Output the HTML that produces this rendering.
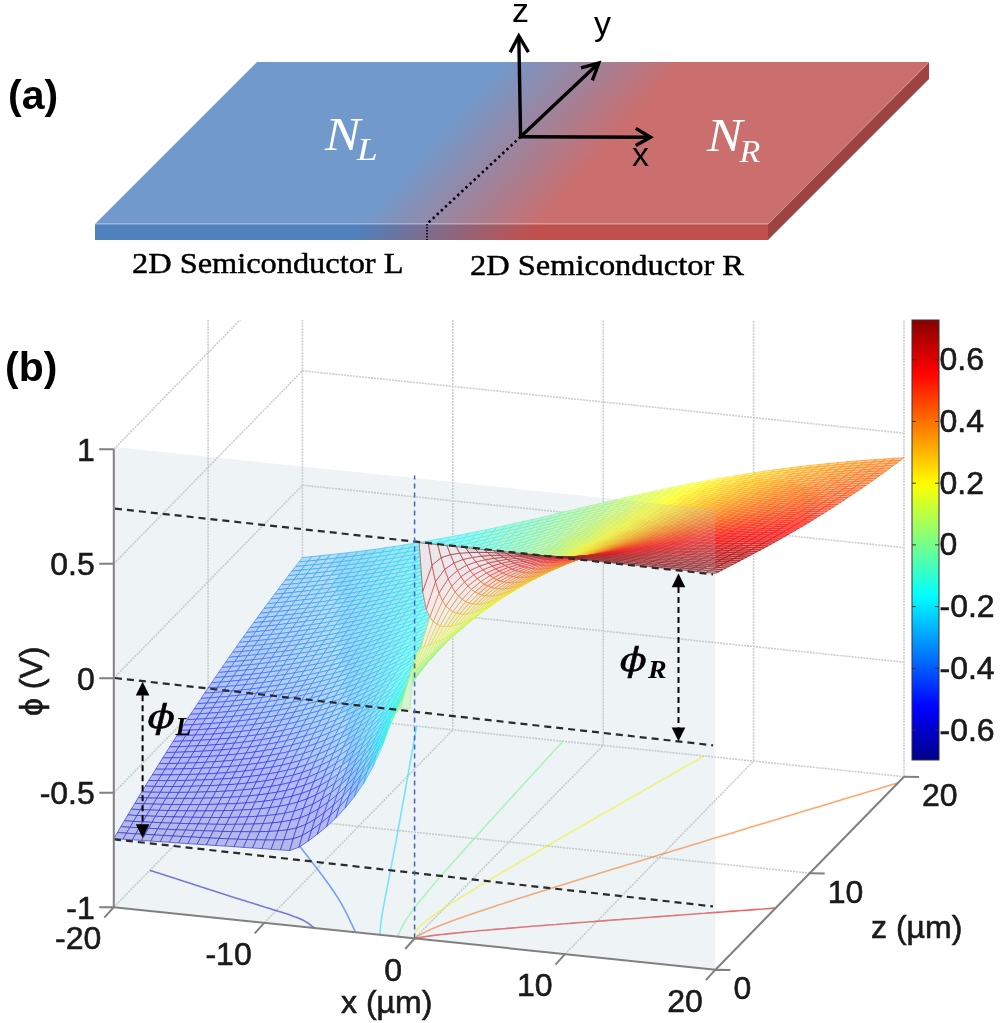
<!DOCTYPE html>
<html><head><meta charset="utf-8"><title>Figure</title>
<style>
html,body{margin:0;padding:0;background:#fff;}
body{width:1000px;height:1023px;overflow:hidden;}
svg{display:block;}
.c0_0{stroke:#0000c1;fill:#f1f1fb}.c0_1{stroke:#0000c1;fill:#d4d4f4}.c0_2{stroke:#0000c1;fill:#b7b7ed}.c0_3{stroke:#0000c1;fill:#9b9be6}.c0_4{stroke:#0000c1;fill:#7e7edf}.c0_5{stroke:#0000c1;fill:#6161d8}.c0_6{stroke:#0000c1;fill:#4545d1}.c0_7{stroke:#0000c1;fill:#2828ca}.c1_0{stroke:#0000c9;fill:#f1f1fc}.c1_1{stroke:#0000c9;fill:#d4d4f6}.c1_2{stroke:#0000c9;fill:#b7b7f0}.c1_3{stroke:#0000c9;fill:#9b9bea}.c1_4{stroke:#0000c9;fill:#7e7ee3}.c1_5{stroke:#0000c9;fill:#6161dd}.c1_6{stroke:#0000c9;fill:#4545d7}.c1_7{stroke:#0000c9;fill:#2828d1}.c2_0{stroke:#0000d1;fill:#f1f1fc}.c2_1{stroke:#0000d1;fill:#d4d4f7}.c2_2{stroke:#0000d1;fill:#b7b7f2}.c2_3{stroke:#0000d1;fill:#9b9bed}.c2_4{stroke:#0000d1;fill:#7e7ee8}.c2_5{stroke:#0000d1;fill:#6161e2}.c2_6{stroke:#0000d1;fill:#4545dd}.c2_7{stroke:#0000d1;fill:#2828d8}.c3_0{stroke:#0000d9;fill:#f1f1fd}.c3_1{stroke:#0000d9;fill:#d4d4f9}.c3_2{stroke:#0000d9;fill:#b7b7f4}.c3_3{stroke:#0000d9;fill:#9b9bf0}.c3_4{stroke:#0000d9;fill:#7e7eec}.c3_5{stroke:#0000d9;fill:#6161e7}.c3_6{stroke:#0000d9;fill:#4545e3}.c3_7{stroke:#0000d9;fill:#2828df}.c4_0{stroke:#0000e1;fill:#f1f1fd}.c4_1{stroke:#0000e1;fill:#d4d4fa}.c4_2{stroke:#0000e1;fill:#b7b7f6}.c4_3{stroke:#0000e1;fill:#9b9bf3}.c4_4{stroke:#0000e1;fill:#7e7ef0}.c4_5{stroke:#0000e1;fill:#6161ec}.c4_6{stroke:#0000e1;fill:#4545e9}.c4_7{stroke:#0000e1;fill:#2828e5}.c5_0{stroke:#0000e9;fill:#f1f1fe}.c5_1{stroke:#0000e9;fill:#d4d4fb}.c5_2{stroke:#0000e9;fill:#b7b7f9}.c5_3{stroke:#0000e9;fill:#9b9bf6}.c5_4{stroke:#0000e9;fill:#7e7ef4}.c5_5{stroke:#0000e9;fill:#6161f1}.c5_6{stroke:#0000e9;fill:#4545ef}.c5_7{stroke:#0000e9;fill:#2828ec}.c6_0{stroke:#0000f0;fill:#f1f1fe}.c6_1{stroke:#0000f0;fill:#d4d4fd}.c6_2{stroke:#0000f0;fill:#b7b7fb}.c6_3{stroke:#0000f0;fill:#9b9bf9}.c6_4{stroke:#0000f0;fill:#7e7ef8}.c6_5{stroke:#0000f0;fill:#6161f6}.c6_6{stroke:#0000f0;fill:#4545f4}.c6_7{stroke:#0000f0;fill:#2828f3}.c7_0{stroke:#0000f8;fill:#f1f1ff}.c7_1{stroke:#0000f8;fill:#d4d4fe}.c7_2{stroke:#0000f8;fill:#b7b7fd}.c7_3{stroke:#0000f8;fill:#9b9bfc}.c7_4{stroke:#0000f8;fill:#7e7efc}.c7_5{stroke:#0000f8;fill:#6161fb}.c7_6{stroke:#0000f8;fill:#4545fa}.c7_7{stroke:#0000f8;fill:#2828f9}.c8_0{stroke:#0008ff;fill:#f1f1ff}.c8_1{stroke:#0008ff;fill:#d4d5ff}.c8_2{stroke:#0008ff;fill:#b7baff}.c8_3{stroke:#0008ff;fill:#9b9eff}.c8_4{stroke:#0008ff;fill:#7e82ff}.c8_5{stroke:#0008ff;fill:#6166ff}.c8_6{stroke:#0008ff;fill:#454aff}.c8_7{stroke:#0008ff;fill:#282fff}.c9_0{stroke:#0018ff;fill:#f1f2ff}.c9_1{stroke:#0018ff;fill:#d4d8ff}.c9_2{stroke:#0018ff;fill:#b7beff}.c9_3{stroke:#0018ff;fill:#9ba4ff}.c9_4{stroke:#0018ff;fill:#7e8aff}.c9_5{stroke:#0018ff;fill:#6170ff}.c9_6{stroke:#0018ff;fill:#4556ff}.c9_7{stroke:#0018ff;fill:#283cff}.c10_0{stroke:#0028ff;fill:#f1f3ff}.c10_1{stroke:#0028ff;fill:#d4dbff}.c10_2{stroke:#0028ff;fill:#b7c2ff}.c10_3{stroke:#0028ff;fill:#9baaff}.c10_4{stroke:#0028ff;fill:#7e92ff}.c10_5{stroke:#0028ff;fill:#617aff}.c10_6{stroke:#0028ff;fill:#4562ff}.c10_7{stroke:#0028ff;fill:#2849ff}.c11_0{stroke:#0038ff;fill:#f1f4ff}.c11_1{stroke:#0038ff;fill:#d4ddff}.c11_2{stroke:#0038ff;fill:#b7c7ff}.c11_3{stroke:#0038ff;fill:#9bb1ff}.c11_4{stroke:#0038ff;fill:#7e9aff}.c11_5{stroke:#0038ff;fill:#6184ff}.c11_6{stroke:#0038ff;fill:#456dff}.c11_7{stroke:#0038ff;fill:#2857ff}.c12_0{stroke:#0048ff;fill:#f1f5ff}.c12_1{stroke:#0048ff;fill:#d4e0ff}.c12_2{stroke:#0048ff;fill:#b7cbff}.c12_3{stroke:#0048ff;fill:#9bb7ff}.c12_4{stroke:#0048ff;fill:#7ea2ff}.c12_5{stroke:#0048ff;fill:#618eff}.c12_6{stroke:#0048ff;fill:#4579ff}.c12_7{stroke:#0048ff;fill:#2864ff}.c13_0{stroke:#0058ff;fill:#f1f6ff}.c13_1{stroke:#0058ff;fill:#d4e3ff}.c13_2{stroke:#0058ff;fill:#b7d0ff}.c13_3{stroke:#0058ff;fill:#9bbdff}.c13_4{stroke:#0058ff;fill:#7eaaff}.c13_5{stroke:#0058ff;fill:#6197ff}.c13_6{stroke:#0058ff;fill:#4585ff}.c13_7{stroke:#0058ff;fill:#2872ff}.c14_0{stroke:#0068ff;fill:#f1f6ff}.c14_1{stroke:#0068ff;fill:#d4e5ff}.c14_2{stroke:#0068ff;fill:#b7d4ff}.c14_3{stroke:#0068ff;fill:#9bc3ff}.c14_4{stroke:#0068ff;fill:#7eb2ff}.c14_5{stroke:#0068ff;fill:#61a1ff}.c14_6{stroke:#0068ff;fill:#4590ff}.c14_7{stroke:#0068ff;fill:#287fff}.c15_0{stroke:#0078ff;fill:#f1f7ff}.c15_1{stroke:#0078ff;fill:#d4e8ff}.c15_2{stroke:#0078ff;fill:#b7d9ff}.c15_3{stroke:#0078ff;fill:#9bcaff}.c15_4{stroke:#0078ff;fill:#7ebaff}.c15_5{stroke:#0078ff;fill:#61abff}.c15_6{stroke:#0078ff;fill:#459cff}.c15_7{stroke:#0078ff;fill:#288dff}.c16_0{stroke:#0087ff;fill:#f1f8ff}.c16_1{stroke:#0087ff;fill:#d4ebff}.c16_2{stroke:#0087ff;fill:#b7ddff}.c16_3{stroke:#0087ff;fill:#9bd0ff}.c16_4{stroke:#0087ff;fill:#7ec2ff}.c16_5{stroke:#0087ff;fill:#61b5ff}.c16_6{stroke:#0087ff;fill:#45a8ff}.c16_7{stroke:#0087ff;fill:#289aff}.c17_0{stroke:#0097ff;fill:#f1f9ff}.c17_1{stroke:#0097ff;fill:#d4eeff}.c17_2{stroke:#0097ff;fill:#b7e2ff}.c17_3{stroke:#0097ff;fill:#9bd6ff}.c17_4{stroke:#0097ff;fill:#7ecbff}.c17_5{stroke:#0097ff;fill:#61bfff}.c17_6{stroke:#0097ff;fill:#45b3ff}.c17_7{stroke:#0097ff;fill:#28a8ff}.c18_0{stroke:#00a7ff;fill:#f1faff}.c18_1{stroke:#00a7ff;fill:#d4f0ff}.c18_2{stroke:#00a7ff;fill:#b7e6ff}.c18_3{stroke:#00a7ff;fill:#9bdcff}.c18_4{stroke:#00a7ff;fill:#7ed3ff}.c18_5{stroke:#00a7ff;fill:#61c9ff}.c18_6{stroke:#00a7ff;fill:#45bfff}.c18_7{stroke:#00a7ff;fill:#28b5ff}.c19_0{stroke:#00b7ff;fill:#f1fbff}.c19_1{stroke:#00b7ff;fill:#d4f3ff}.c19_2{stroke:#00b7ff;fill:#b7ebff}.c19_3{stroke:#00b7ff;fill:#9be3ff}.c19_4{stroke:#00b7ff;fill:#7edbff}.c19_5{stroke:#00b7ff;fill:#61d3ff}.c19_6{stroke:#00b7ff;fill:#45cbff}.c19_7{stroke:#00b7ff;fill:#28c2ff}.c20_0{stroke:#00c7ff;fill:#f1fcff}.c20_1{stroke:#00c7ff;fill:#d4f6ff}.c20_2{stroke:#00c7ff;fill:#b7efff}.c20_3{stroke:#00c7ff;fill:#9be9ff}.c20_4{stroke:#00c7ff;fill:#7ee3ff}.c20_5{stroke:#00c7ff;fill:#61dcff}.c20_6{stroke:#00c7ff;fill:#45d6ff}.c20_7{stroke:#00c7ff;fill:#28d0ff}.c21_0{stroke:#00d7ff;fill:#f1fdff}.c21_1{stroke:#00d7ff;fill:#d4f8ff}.c21_2{stroke:#00d7ff;fill:#b7f4ff}.c21_3{stroke:#00d7ff;fill:#9befff}.c21_4{stroke:#00d7ff;fill:#7eebff}.c21_5{stroke:#00d7ff;fill:#61e6ff}.c21_6{stroke:#00d7ff;fill:#45e2ff}.c21_7{stroke:#00d7ff;fill:#28ddff}.c22_0{stroke:#00e7ff;fill:#f1feff}.c22_1{stroke:#00e7ff;fill:#d4fbff}.c22_2{stroke:#00e7ff;fill:#b7f8ff}.c22_3{stroke:#00e7ff;fill:#9bf6ff}.c22_4{stroke:#00e7ff;fill:#7ef3ff}.c22_5{stroke:#00e7ff;fill:#61f0ff}.c22_6{stroke:#00e7ff;fill:#45eeff}.c22_7{stroke:#00e7ff;fill:#28ebff}.c23_0{stroke:#00f7ff;fill:#f1ffff}.c23_1{stroke:#00f7ff;fill:#d4feff}.c23_2{stroke:#00f7ff;fill:#b7fdff}.c23_3{stroke:#00f7ff;fill:#9bfcff}.c23_4{stroke:#00f7ff;fill:#7efbff}.c23_5{stroke:#00f7ff;fill:#61faff}.c23_6{stroke:#00f7ff;fill:#45f9ff}.c23_7{stroke:#00f7ff;fill:#28f8ff}.c24_0{stroke:#08fff7;fill:#f1ffff}.c24_1{stroke:#08fff7;fill:#d5fffe}.c24_2{stroke:#08fff7;fill:#bafffd}.c24_3{stroke:#08fff7;fill:#9efffc}.c24_4{stroke:#08fff7;fill:#82fffb}.c24_5{stroke:#08fff7;fill:#66fffa}.c24_6{stroke:#08fff7;fill:#4afff9}.c24_7{stroke:#08fff7;fill:#2ffff8}.c25_0{stroke:#18ffe7;fill:#f2fffe}.c25_1{stroke:#18ffe7;fill:#d8fffb}.c25_2{stroke:#18ffe7;fill:#befff8}.c25_3{stroke:#18ffe7;fill:#a4fff6}.c25_4{stroke:#18ffe7;fill:#8afff3}.c25_5{stroke:#18ffe7;fill:#70fff0}.c25_6{stroke:#18ffe7;fill:#56ffee}.c25_7{stroke:#18ffe7;fill:#3cffeb}.c26_0{stroke:#28ffd7;fill:#f3fffd}.c26_1{stroke:#28ffd7;fill:#dbfff8}.c26_2{stroke:#28ffd7;fill:#c2fff4}.c26_3{stroke:#28ffd7;fill:#aaffef}.c26_4{stroke:#28ffd7;fill:#92ffeb}.c26_5{stroke:#28ffd7;fill:#7affe6}.c26_6{stroke:#28ffd7;fill:#62ffe2}.c26_7{stroke:#28ffd7;fill:#49ffdd}.c27_0{stroke:#38ffc7;fill:#f4fffc}.c27_1{stroke:#38ffc7;fill:#ddfff6}.c27_2{stroke:#38ffc7;fill:#c7ffef}.c27_3{stroke:#38ffc7;fill:#b1ffe9}.c27_4{stroke:#38ffc7;fill:#9affe3}.c27_5{stroke:#38ffc7;fill:#84ffdc}.c27_6{stroke:#38ffc7;fill:#6dffd6}.c27_7{stroke:#38ffc7;fill:#57ffd0}.c28_0{stroke:#48ffb7;fill:#f5fffb}.c28_1{stroke:#48ffb7;fill:#e0fff3}.c28_2{stroke:#48ffb7;fill:#cbffeb}.c28_3{stroke:#48ffb7;fill:#b7ffe3}.c28_4{stroke:#48ffb7;fill:#a2ffdb}.c28_5{stroke:#48ffb7;fill:#8effd3}.c28_6{stroke:#48ffb7;fill:#79ffcb}.c28_7{stroke:#48ffb7;fill:#64ffc2}.c29_0{stroke:#58ffa7;fill:#f6fffa}.c29_1{stroke:#58ffa7;fill:#e3fff0}.c29_2{stroke:#58ffa7;fill:#d0ffe6}.c29_3{stroke:#58ffa7;fill:#bdffdc}.c29_4{stroke:#58ffa7;fill:#aaffd3}.c29_5{stroke:#58ffa7;fill:#97ffc9}.c29_6{stroke:#58ffa7;fill:#85ffbf}.c29_7{stroke:#58ffa7;fill:#72ffb5}.c30_0{stroke:#68ff97;fill:#f6fff9}.c30_1{stroke:#68ff97;fill:#e5ffee}.c30_2{stroke:#68ff97;fill:#d4ffe2}.c30_3{stroke:#68ff97;fill:#c3ffd6}.c30_4{stroke:#68ff97;fill:#b2ffcb}.c30_5{stroke:#68ff97;fill:#a1ffbf}.c30_6{stroke:#68ff97;fill:#90ffb3}.c30_7{stroke:#68ff97;fill:#7fffa8}.c31_0{stroke:#78ff87;fill:#f7fff8}.c31_1{stroke:#78ff87;fill:#e8ffeb}.c31_2{stroke:#78ff87;fill:#d9ffdd}.c31_3{stroke:#78ff87;fill:#caffd0}.c31_4{stroke:#78ff87;fill:#baffc2}.c31_5{stroke:#78ff87;fill:#abffb5}.c31_6{stroke:#78ff87;fill:#9cffa8}.c31_7{stroke:#78ff87;fill:#8dff9a}.c32_0{stroke:#87ff78;fill:#f8fff7}.c32_1{stroke:#87ff78;fill:#ebffe8}.c32_2{stroke:#87ff78;fill:#ddffd9}.c32_3{stroke:#87ff78;fill:#d0ffca}.c32_4{stroke:#87ff78;fill:#c2ffba}.c32_5{stroke:#87ff78;fill:#b5ffab}.c32_6{stroke:#87ff78;fill:#a8ff9c}.c32_7{stroke:#87ff78;fill:#9aff8d}.c33_0{stroke:#97ff68;fill:#f9fff6}.c33_1{stroke:#97ff68;fill:#eeffe5}.c33_2{stroke:#97ff68;fill:#e2ffd4}.c33_3{stroke:#97ff68;fill:#d6ffc3}.c33_4{stroke:#97ff68;fill:#cbffb2}.c33_5{stroke:#97ff68;fill:#bfffa1}.c33_6{stroke:#97ff68;fill:#b3ff90}.c33_7{stroke:#97ff68;fill:#a8ff7f}.c34_0{stroke:#a7ff58;fill:#fafff6}.c34_1{stroke:#a7ff58;fill:#f0ffe3}.c34_2{stroke:#a7ff58;fill:#e6ffd0}.c34_3{stroke:#a7ff58;fill:#dcffbd}.c34_4{stroke:#a7ff58;fill:#d3ffaa}.c34_5{stroke:#a7ff58;fill:#c9ff97}.c34_6{stroke:#a7ff58;fill:#bfff85}.c34_7{stroke:#a7ff58;fill:#b5ff72}.c35_0{stroke:#b7ff48;fill:#fbfff5}.c35_1{stroke:#b7ff48;fill:#f3ffe0}.c35_2{stroke:#b7ff48;fill:#ebffcb}.c35_3{stroke:#b7ff48;fill:#e3ffb7}.c35_4{stroke:#b7ff48;fill:#dbffa2}.c35_5{stroke:#b7ff48;fill:#d3ff8e}.c35_6{stroke:#b7ff48;fill:#cbff79}.c35_7{stroke:#b7ff48;fill:#c2ff64}.c36_0{stroke:#c7ff38;fill:#fcfff4}.c36_1{stroke:#c7ff38;fill:#f6ffdd}.c36_2{stroke:#c7ff38;fill:#efffc7}.c36_3{stroke:#c7ff38;fill:#e9ffb1}.c36_4{stroke:#c7ff38;fill:#e3ff9a}.c36_5{stroke:#c7ff38;fill:#dcff84}.c36_6{stroke:#c7ff38;fill:#d6ff6d}.c36_7{stroke:#c7ff38;fill:#d0ff57}.c37_0{stroke:#d7ff28;fill:#fdfff3}.c37_1{stroke:#d7ff28;fill:#f8ffdb}.c37_2{stroke:#d7ff28;fill:#f4ffc2}.c37_3{stroke:#d7ff28;fill:#efffaa}.c37_4{stroke:#d7ff28;fill:#ebff92}.c37_5{stroke:#d7ff28;fill:#e6ff7a}.c37_6{stroke:#d7ff28;fill:#e2ff62}.c37_7{stroke:#d7ff28;fill:#ddff49}.c38_0{stroke:#e7ff18;fill:#fefff2}.c38_1{stroke:#e7ff18;fill:#fbffd8}.c38_2{stroke:#e7ff18;fill:#f8ffbe}.c38_3{stroke:#e7ff18;fill:#f6ffa4}.c38_4{stroke:#e7ff18;fill:#f3ff8a}.c38_5{stroke:#e7ff18;fill:#f0ff70}.c38_6{stroke:#e7ff18;fill:#eeff56}.c38_7{stroke:#e7ff18;fill:#ebff3c}.c39_0{stroke:#f7ff08;fill:#fffff1}.c39_1{stroke:#f7ff08;fill:#feffd5}.c39_2{stroke:#f7ff08;fill:#fdffba}.c39_3{stroke:#f7ff08;fill:#fcff9e}.c39_4{stroke:#f7ff08;fill:#fbff82}.c39_5{stroke:#f7ff08;fill:#faff66}.c39_6{stroke:#f7ff08;fill:#f9ff4a}.c39_7{stroke:#f7ff08;fill:#f8ff2f}.c40_0{stroke:#fff700;fill:#fffff1}.c40_1{stroke:#fff700;fill:#fffed4}.c40_2{stroke:#fff700;fill:#fffdb7}.c40_3{stroke:#fff700;fill:#fffc9b}.c40_4{stroke:#fff700;fill:#fffb7e}.c40_5{stroke:#fff700;fill:#fffa61}.c40_6{stroke:#fff700;fill:#fff945}.c40_7{stroke:#fff700;fill:#fff828}.c41_0{stroke:#ffe700;fill:#fffef1}.c41_1{stroke:#ffe700;fill:#fffbd4}.c41_2{stroke:#ffe700;fill:#fff8b7}.c41_3{stroke:#ffe700;fill:#fff69b}.c41_4{stroke:#ffe700;fill:#fff37e}.c41_5{stroke:#ffe700;fill:#fff061}.c41_6{stroke:#ffe700;fill:#ffee45}.c41_7{stroke:#ffe700;fill:#ffeb28}.c42_0{stroke:#ffd700;fill:#fffdf1}.c42_1{stroke:#ffd700;fill:#fff8d4}.c42_2{stroke:#ffd700;fill:#fff4b7}.c42_3{stroke:#ffd700;fill:#ffef9b}.c42_4{stroke:#ffd700;fill:#ffeb7e}.c42_5{stroke:#ffd700;fill:#ffe661}.c42_6{stroke:#ffd700;fill:#ffe245}.c42_7{stroke:#ffd700;fill:#ffdd28}.c43_0{stroke:#ffc700;fill:#fffcf1}.c43_1{stroke:#ffc700;fill:#fff6d4}.c43_2{stroke:#ffc700;fill:#ffefb7}.c43_3{stroke:#ffc700;fill:#ffe99b}.c43_4{stroke:#ffc700;fill:#ffe37e}.c43_5{stroke:#ffc700;fill:#ffdc61}.c43_6{stroke:#ffc700;fill:#ffd645}.c43_7{stroke:#ffc700;fill:#ffd028}.c44_0{stroke:#ffb700;fill:#fffbf1}.c44_1{stroke:#ffb700;fill:#fff3d4}.c44_2{stroke:#ffb700;fill:#ffebb7}.c44_3{stroke:#ffb700;fill:#ffe39b}.c44_4{stroke:#ffb700;fill:#ffdb7e}.c44_5{stroke:#ffb700;fill:#ffd361}.c44_6{stroke:#ffb700;fill:#ffcb45}.c44_7{stroke:#ffb700;fill:#ffc228}.c45_0{stroke:#ffa700;fill:#fffaf1}.c45_1{stroke:#ffa700;fill:#fff0d4}.c45_2{stroke:#ffa700;fill:#ffe6b7}.c45_3{stroke:#ffa700;fill:#ffdc9b}.c45_4{stroke:#ffa700;fill:#ffd37e}.c45_5{stroke:#ffa700;fill:#ffc961}.c45_6{stroke:#ffa700;fill:#ffbf45}.c45_7{stroke:#ffa700;fill:#ffb528}.c46_0{stroke:#ff9700;fill:#fff9f1}.c46_1{stroke:#ff9700;fill:#ffeed4}.c46_2{stroke:#ff9700;fill:#ffe2b7}.c46_3{stroke:#ff9700;fill:#ffd69b}.c46_4{stroke:#ff9700;fill:#ffcb7e}.c46_5{stroke:#ff9700;fill:#ffbf61}.c46_6{stroke:#ff9700;fill:#ffb345}.c46_7{stroke:#ff9700;fill:#ffa828}.c47_0{stroke:#ff8700;fill:#fff8f1}.c47_1{stroke:#ff8700;fill:#ffebd4}.c47_2{stroke:#ff8700;fill:#ffddb7}.c47_3{stroke:#ff8700;fill:#ffd09b}.c47_4{stroke:#ff8700;fill:#ffc27e}.c47_5{stroke:#ff8700;fill:#ffb561}.c47_6{stroke:#ff8700;fill:#ffa845}.c47_7{stroke:#ff8700;fill:#ff9a28}.c48_0{stroke:#ff7800;fill:#fff7f1}.c48_1{stroke:#ff7800;fill:#ffe8d4}.c48_2{stroke:#ff7800;fill:#ffd9b7}.c48_3{stroke:#ff7800;fill:#ffca9b}.c48_4{stroke:#ff7800;fill:#ffba7e}.c48_5{stroke:#ff7800;fill:#ffab61}.c48_6{stroke:#ff7800;fill:#ff9c45}.c48_7{stroke:#ff7800;fill:#ff8d28}.c49_0{stroke:#ff6800;fill:#fff6f1}.c49_1{stroke:#ff6800;fill:#ffe5d4}.c49_2{stroke:#ff6800;fill:#ffd4b7}.c49_3{stroke:#ff6800;fill:#ffc39b}.c49_4{stroke:#ff6800;fill:#ffb27e}.c49_5{stroke:#ff6800;fill:#ffa161}.c49_6{stroke:#ff6800;fill:#ff9045}.c49_7{stroke:#ff6800;fill:#ff7f28}.c50_0{stroke:#ff5800;fill:#fff6f1}.c50_1{stroke:#ff5800;fill:#ffe3d4}.c50_2{stroke:#ff5800;fill:#ffd0b7}.c50_3{stroke:#ff5800;fill:#ffbd9b}.c50_4{stroke:#ff5800;fill:#ffaa7e}.c50_5{stroke:#ff5800;fill:#ff9761}.c50_6{stroke:#ff5800;fill:#ff8545}.c50_7{stroke:#ff5800;fill:#ff7228}.c51_0{stroke:#ff4800;fill:#fff5f1}.c51_1{stroke:#ff4800;fill:#ffe0d4}.c51_2{stroke:#ff4800;fill:#ffcbb7}.c51_3{stroke:#ff4800;fill:#ffb79b}.c51_4{stroke:#ff4800;fill:#ffa27e}.c51_5{stroke:#ff4800;fill:#ff8e61}.c51_6{stroke:#ff4800;fill:#ff7945}.c51_7{stroke:#ff4800;fill:#ff6428}.c52_0{stroke:#ff3800;fill:#fff4f1}.c52_1{stroke:#ff3800;fill:#ffddd4}.c52_2{stroke:#ff3800;fill:#ffc7b7}.c52_3{stroke:#ff3800;fill:#ffb19b}.c52_4{stroke:#ff3800;fill:#ff9a7e}.c52_5{stroke:#ff3800;fill:#ff8461}.c52_6{stroke:#ff3800;fill:#ff6d45}.c52_7{stroke:#ff3800;fill:#ff5728}.c53_0{stroke:#ff2800;fill:#fff3f1}.c53_1{stroke:#ff2800;fill:#ffdbd4}.c53_2{stroke:#ff2800;fill:#ffc2b7}.c53_3{stroke:#ff2800;fill:#ffaa9b}.c53_4{stroke:#ff2800;fill:#ff927e}.c53_5{stroke:#ff2800;fill:#ff7a61}.c53_6{stroke:#ff2800;fill:#ff6245}.c53_7{stroke:#ff2800;fill:#ff4928}.c54_0{stroke:#ff1800;fill:#fff2f1}.c54_1{stroke:#ff1800;fill:#ffd8d4}.c54_2{stroke:#ff1800;fill:#ffbeb7}.c54_3{stroke:#ff1800;fill:#ffa49b}.c54_4{stroke:#ff1800;fill:#ff8a7e}.c54_5{stroke:#ff1800;fill:#ff7061}.c54_6{stroke:#ff1800;fill:#ff5645}.c54_7{stroke:#ff1800;fill:#ff3c28}.c55_0{stroke:#ff0800;fill:#fff1f1}.c55_1{stroke:#ff0800;fill:#ffd5d4}.c55_2{stroke:#ff0800;fill:#ffbab7}.c55_3{stroke:#ff0800;fill:#ff9e9b}.c55_4{stroke:#ff0800;fill:#ff827e}.c55_5{stroke:#ff0800;fill:#ff6661}.c55_6{stroke:#ff0800;fill:#ff4a45}.c55_7{stroke:#ff0800;fill:#ff2f28}.c56_0{stroke:#f70000;fill:#fff1f1}.c56_1{stroke:#f70000;fill:#fed4d4}.c56_2{stroke:#f70000;fill:#fdb7b7}.c56_3{stroke:#f70000;fill:#fc9b9b}.c56_4{stroke:#f70000;fill:#fb7e7e}.c56_5{stroke:#f70000;fill:#fa6161}.c56_6{stroke:#f70000;fill:#f94545}.c56_7{stroke:#f70000;fill:#f82828}.c57_0{stroke:#e70000;fill:#fef1f1}.c57_1{stroke:#e70000;fill:#fbd4d4}.c57_2{stroke:#e70000;fill:#f8b7b7}.c57_3{stroke:#e70000;fill:#f69b9b}.c57_4{stroke:#e70000;fill:#f37e7e}.c57_5{stroke:#e70000;fill:#f06161}.c57_6{stroke:#e70000;fill:#ee4545}.c57_7{stroke:#e70000;fill:#eb2828}.c58_0{stroke:#d70000;fill:#fdf1f1}.c58_1{stroke:#d70000;fill:#f8d4d4}.c58_2{stroke:#d70000;fill:#f4b7b7}.c58_3{stroke:#d70000;fill:#ef9b9b}.c58_4{stroke:#d70000;fill:#eb7e7e}.c58_5{stroke:#d70000;fill:#e66161}.c58_6{stroke:#d70000;fill:#e24545}.c58_7{stroke:#d70000;fill:#dd2828}.c59_0{stroke:#c70000;fill:#fcf1f1}.c59_1{stroke:#c70000;fill:#f6d4d4}.c59_2{stroke:#c70000;fill:#efb7b7}.c59_3{stroke:#c70000;fill:#e99b9b}.c59_4{stroke:#c70000;fill:#e37e7e}.c59_5{stroke:#c70000;fill:#dc6161}.c59_6{stroke:#c70000;fill:#d64545}.c59_7{stroke:#c70000;fill:#d02828}.c60_0{stroke:#b70000;fill:#fbf1f1}.c60_1{stroke:#b70000;fill:#f3d4d4}.c60_2{stroke:#b70000;fill:#ebb7b7}.c60_3{stroke:#b70000;fill:#e39b9b}.c60_4{stroke:#b70000;fill:#db7e7e}.c60_5{stroke:#b70000;fill:#d36161}.c60_6{stroke:#b70000;fill:#cb4545}.c60_7{stroke:#b70000;fill:#c22828}.c61_0{stroke:#a70000;fill:#faf1f1}.c61_1{stroke:#a70000;fill:#f0d4d4}.c61_2{stroke:#a70000;fill:#e6b7b7}.c61_3{stroke:#a70000;fill:#dc9b9b}.c61_4{stroke:#a70000;fill:#d37e7e}.c61_5{stroke:#a70000;fill:#c96161}.c61_6{stroke:#a70000;fill:#bf4545}.c61_7{stroke:#a70000;fill:#b52828}.c62_0{stroke:#970000;fill:#f9f1f1}.c62_1{stroke:#970000;fill:#eed4d4}.c62_2{stroke:#970000;fill:#e2b7b7}.c62_3{stroke:#970000;fill:#d69b9b}.c62_4{stroke:#970000;fill:#cb7e7e}.c62_5{stroke:#970000;fill:#bf6161}.c62_6{stroke:#970000;fill:#b34545}.c62_7{stroke:#970000;fill:#a82828}.c63_0{stroke:#870000;fill:#f8f1f1}.c63_1{stroke:#870000;fill:#ebd4d4}.c63_2{stroke:#870000;fill:#ddb7b7}.c63_3{stroke:#870000;fill:#d09b9b}.c63_4{stroke:#870000;fill:#c27e7e}.c63_5{stroke:#870000;fill:#b56161}.c63_6{stroke:#870000;fill:#a84545}.c63_7{stroke:#870000;fill:#9a2828}
</style></head><body>
<svg width="1000" height="1023" viewBox="0 0 1000 1023">
<defs>
<linearGradient id="gtop" gradientUnits="userSpaceOnUse" x1="438.7" y1="135.3" x2="541.3" y2="224.7"><stop offset="0" stop-color="#7299cb"/><stop offset="1" stop-color="#cb6e6e"/></linearGradient>
<linearGradient id="gfront" gradientUnits="userSpaceOnUse" x1="438.7" y1="135.3" x2="541.3" y2="224.7"><stop offset="0" stop-color="#4f81bd"/><stop offset="1" stop-color="#c0504d"/></linearGradient>
</defs>
<polygon points="257,62 929,62 768,224 95,224" fill="url(#gtop)"/>
<polygon points="95,224 768,224 768,240 95,240" fill="url(#gfront)"/>
<polygon points="929,62 929,79 768,240 768,224" fill="#9d4341"/>
<line x1="95" y1="223.8" x2="768" y2="223.8" stroke="#fff" stroke-opacity="0.3" stroke-width="1.8"/>
<line x1="768" y1="224.3" x2="929" y2="62.3" stroke="#fff" stroke-opacity="0.25" stroke-width="1"/>
<path d="M520.6 136.8L427 224" stroke="#000" stroke-width="2.6" stroke-dasharray="2.4 3.2" fill="none"/><path d="M427 224V240" stroke="#000" stroke-width="1.6" stroke-dasharray="1.5 1.5" fill="none"/>
<g stroke="#000" stroke-width="3.4" fill="none" stroke-linecap="butt" stroke-linejoin="miter">
<path d="M520.6 136.8L518.8 36"/><path d="M510.2 52.2L518.8 36L528.4 52.2"/>
<path d="M520.6 136.8L598.8 63"/><path d="M581 67.8L598.8 63L592.4 80.4"/>
<path d="M520.6 136.8L650.5 137.2"/><path d="M635.8 128.4L650.5 137.2L635.8 145.4"/>
</g>
<g font-family="Liberation Sans, Arial, sans-serif" font-size="34" fill="#000">
<text x="512" y="22">z</text><text x="594" y="35">y</text><text x="632" y="166">x</text>
</g>
<g font-family="Liberation Serif, Times New Roman, serif" font-style="italic" fill="#fff">
<text transform="translate(325,149.6) scale(1.13,1)" font-size="47">N</text>
<text transform="translate(357,160) scale(1.2,1)" font-size="31">L</text>
<text transform="translate(707,151.3) scale(1.13,1)" font-size="47">N</text>
<text transform="translate(739.5,161.7) scale(1.1,1)" font-size="31">R</text>
</g>
<g font-family="Liberation Serif, Times New Roman, serif" font-size="29.5" fill="#000" stroke="#000" stroke-width="0.45">
<text x="132" y="273" textLength="271.5" lengthAdjust="spacingAndGlyphs">2D Semiconductor L</text><text x="470" y="274.6" textLength="274" lengthAdjust="spacingAndGlyphs">2D Semiconductor R</text>
</g>
<g font-family="Liberation Sans, Arial, sans-serif" font-size="41" font-weight="bold" fill="#000">
<text x="8" y="109">(a)</text><text x="5" y="380.8">(b)</text>
</g>
<defs><filter id="soft" x="-5%" y="-5%" width="110%" height="110%"><feGaussianBlur stdDeviation="0.45"/></filter><filter id="soft2" x="-2%" y="-2%" width="104%" height="104%"><feGaussianBlur stdDeviation="0.5"/></filter><clipPath id="clipb"><rect x="0" y="320" width="1000" height="703"/></clipPath></defs>
<g clip-path="url(#clipb)">
<path d="M302.4 714.2L302.4 118.9M113.8 907.2L302.4 714.2M452.8 729.9L452.8 134.5M264.2 922.9L452.8 729.9M603.2 745.5L603.2 150.1M414.6 938.5L603.2 745.5M753.6 761.1L753.6 165.7M565 954.1L753.6 761.1M904 776.7L904 181.3M302.4 714.2L904 776.7M113.8 907.2L302.4 714.2M302.4 599.8L904 662.2M113.8 792.8L302.4 599.8M302.4 485.2L904 547.7M113.8 678.2L302.4 485.2M302.4 370.8L904 433.2M113.8 563.8L302.4 370.8M302.4 256.2L904 318.7M113.8 449.2L302.4 256.2M208.1 810.8L208.1 215.4M208.1 810.8L809.7 873.2M302.4 714.2L302.4 118.9M302.4 714.2L904 776.7" stroke="#cdcdcd" stroke-width="1.6" stroke-dasharray="2 1" fill="none" filter="url(#soft)"/>
<path d="M149.8 870.4L151.1 870.8L153.6 871.6L155.7 872.3L157.4 872.8L159.9 873.6L161.2 874L163.7 874.8L165.7 875.4L167.5 876L170 876.8L171.3 877.2L173.8 878L175.6 878.6L177.6 879.2L180.1 880L181.4 880.5L183.9 881.3L185.3 881.7L187.7 882.5L190.2 883.3L191.5 883.7L194 884.5L195.2 884.9L197.8 885.7L199.9 886.4L201.5 887L204.1 887.8L205.3 888.2L207.8 889L209.6 889.6L211.6 890.2L214.1 891L215.4 891.4L217.9 892.2L219.3 892.7L221.7 893.5L224.2 894.3L225.5 894.7L228 895.5L229.3 895.9L231.8 896.7L234.2 897.4L235.6 897.9L238.1 898.7L239.4 899.1L241.9 899.9L244.2 900.6L245.7 901.1L248.3 901.9L249.5 902.3L252.1 903L254.4 903.8L255.9 904.2L258.4 905L259.7 905.4L262.2 906.2L264.7 907L266.1 907.4L268.6 908.2L269.9 908.6L272.4 909.4L274.9 910.2L276.2 910.6L278.7 911.4L280 911.8L282.5 912.6L284.8 913.3L286.3 913.8L288.8 914.6L290.1 915.1L292.5 915.9L293.8 916.4L296.2 917.2L297.7 917.8L299.8 918.7L301 919.2L303.2 920.3L304.3 920.9L306 921.9L307.4 922.7L308.4 923.4L309.8 924.4L311.3 925.5L312.2 926.3L313.2 927L314.4 928.1L314.4 928.1" stroke="#0000c5" stroke-opacity="0.6" stroke-width="1.6" fill="none"/>
<path d="M242.5 775.5L243.9 777.3L244.9 778.4L246.3 780.1L247.7 781.9L248.7 783.1L250.1 784.7L251.6 786.6L252.5 787.7L253.9 789.4L255.4 791.2L256.3 792.4L257.6 794L259.1 795.8L260.1 797L261.4 798.6L262.9 800.4L263.9 801.7L265.2 803.2L266.7 805.1L267.7 806.3L268.9 807.8L270.4 809.7L271.5 810.9L272.7 812.5L274.2 814.3L275.2 815.6L276.4 817.1L277.9 819L278.9 820.2L280.2 821.8L281.7 823.6L282.7 824.9L283.9 826.4L285.4 828.3L286.4 829.5L287.6 831.1L289.1 832.9L290.1 834.1L291.4 835.7L292.8 837.6L293.8 838.8L295.1 840.4L296.5 842.2L297.4 843.4L298.8 845.1L300.2 846.9L301.1 848L302.5 849.8L303.8 851.5L304.7 852.7L306.2 854.5L307.4 856.1L308.4 857.3L309.8 859.2L311 860.8L312 862L313.5 863.9L314.6 865.4L315.7 866.8L317.1 868.7L318.1 870L319.3 871.6L320.7 873.5L321.6 874.6L322.9 876.3L324.2 878.1L325 879.2L326.5 881.2L327.5 882.7L328.6 884.1L330 886.1L330.8 887.3L332 889L333.2 890.7L334.1 892L335.4 894L336.2 895.3L337.4 897.1L338.4 898.7L339.3 900.2L340.4 902.1L341.2 903.4L342.4 905.5L343 906.6L344.2 908.8L344.8 910L345.9 912.1L346.5 913.3L347.6 915.5L348.2 916.7L349.2 918.9L349.8 920.1L350.8 922.3L351.4 923.5L352.4 925.6L353 926.9L354 929L354.6 930.3L355.7 932.4L355.7 932.4" stroke="#0055ff" stroke-opacity="0.6" stroke-width="1.6" fill="none"/>
<path d="M416.6 726.1L416.3 728.2L415.9 730.3L415.5 732.4L415.2 734.5L414.8 736.5L414.4 738.6L414.1 740.7L413.7 742.7L413.3 744.8L413 746.9L412.6 749L412.2 751L411.9 753.1L411.5 755.2L411.1 757.2L410.8 759.3L410.4 761.4L410 763.4L409.7 765.5L409.3 767.6L408.9 769.7L408.6 771.7L408.2 773.8L407.8 775.9L407.5 777.9L407.1 780L406.7 782.1L406.4 784.2L406 786.2L405.6 788.3L405.2 790.4L404.9 792.5L404.5 794.5L404.1 796.6L403.7 798.7L403.4 800.8L403 802.9L402.6 804.9L402.2 807L401.9 809.1L401.5 811.2L401.1 813.3L400.7 815.3L400.4 817.4L400 819.5L399.6 821.6L399.2 823.7L398.8 825.8L398.5 827.8L398.1 829.9L397.7 832L397.3 834.1L396.9 836.2L396.5 838.3L396.2 840.4L395.8 842.5L395.4 844.6L395 846.7L394.6 848.8L394.2 850.9L393.8 852.9L393.4 855L393 857.1L392.6 859.2L392.2 861.4L391.8 863.5L391.4 865.6L391 867.7L390.6 869.8L390.2 871.9L389.8 874L389.4 876.1L389 878.2L388.6 880.4L388.2 882.5L387.7 884.6L387.3 886.7L386.9 888.8L386.5 890.9L386.1 893L385.7 895.1L385.3 897.2L384.9 899.2L384.5 901.3L384.1 903.4L383.7 905.5L383.3 907.6L382.9 909.7L382.6 911.8L382.2 913.9L381.9 915.9L381.6 918L381.3 920L381.1 921.9L380.8 923.9L380.6 925.8L380.4 927.7L380.3 929.6L380.1 931.7L380 933.8L379.9 934.9" stroke="#00e4ff" stroke-opacity="0.6" stroke-width="1.6" fill="none"/>
<path d="M562.9 741.3L561.1 743.2L559.3 745.2L557.6 747.1L555.8 749.1L554 751L552.2 752.9L550.5 754.9L548.7 756.8L546.9 758.8L545.1 760.7L543.3 762.6L542.5 763.6L540.7 765.6L538.9 767.5L537.1 769.4L535.3 771.4L533.6 773.3L531.8 775.3L530 777.2L528.2 779.1L526.5 781.1L524.7 783L522.9 785L521.2 786.9L519.4 788.9L518.5 789.8L516.7 791.8L514.9 793.7L513.2 795.6L511.4 797.6L509.6 799.5L507.9 801.5L506.1 803.4L504.3 805.4L502.6 807.3L500.8 809.2L499 811.2L497.3 813.1L496.4 814.1L494.6 816L492.9 818L491.1 819.9L489.3 821.9L487.6 823.8L485.8 825.8L484 827.7L482.3 829.6L480.5 831.6L478.8 833.5L477 835.5L475.5 837.2L474.4 838.4L472.6 840.3L470.9 842.3L469.1 844.2L467.4 846.2L465.7 848.1L463.9 850.1L462.2 852L460.4 853.9L458.7 855.9L457.1 857.7L456.1 858.8L454.4 860.8L452.6 862.7L450.9 864.6L449.2 866.6L447.5 868.5L445.8 870.5L444.1 872.4L442.4 874.4L441.5 875.4L439.8 877.3L438.1 879.3L436.4 881.2L434.8 883.2L433.1 885.1L431.4 887.1L429.8 889L428.9 890L427.3 892L425.7 893.9L424.1 895.9L422.5 897.8L420.9 899.8L420.1 900.8L418.5 902.7L417 904.7L415.4 906.7L414 908.6L413.2 909.6L411.8 911.6L410.3 913.6L409.2 915.1L408.3 916.6L406.9 918.5L405.7 920.4L405 921.5L403.9 923.5L403.2 924.7L402.2 926.6L401.3 928.4L400.7 929.6L399.7 931.6L399.3 932.6L398.3 934.6L397.6 935.6L399.6 936.9L402.6 937.2L405.6 937.5L408.6 937.8L411.6 938.2L413.1 938.3" stroke="#74ff8b" stroke-opacity="0.6" stroke-width="1.6" fill="none"/>
<path d="M704.2 756L701.1 757.8L697.9 759.6L694.7 761.3L691.6 763.1L688.4 764.9L684.9 766.9L681.2 769.1L677.4 771.2L674.2 773L671.1 774.8L667.9 776.6L664.8 778.4L661.6 780.2L658.5 782L655 784L651.2 786.2L647.5 788.3L644.3 790.1L641.1 791.9L638 793.7L634.9 795.5L631.7 797.3L628.6 799.1L625 801.2L621.2 803.3L617.6 805.4L614.4 807.2L611.3 809L608.1 810.8L605 812.6L601.9 814.4L598.6 816.3L594.8 818.5L591 820.6L587.8 822.5L584.6 824.3L581.5 826.1L578.4 827.9L575.3 829.7L572.1 831.6L568.3 833.7L564.5 835.9L561.2 837.8L558.1 839.6L555 841.4L551.9 843.2L548.8 845L545.4 847L541.6 849.2L537.9 851.4L534.8 853.2L531.7 855L528.6 856.8L525.5 858.6L522.3 860.5L518.4 862.8L514.8 864.9L511.7 866.7L508.7 868.5L505.6 870.3L502.5 872.1L498.8 874.4L494.9 876.7L491.9 878.5L488.9 880.3L485.9 882.1L482.8 884L478.7 886.4L475.4 888.4L472.4 890.3L469.5 892.1L466.3 894.1L462.1 896.6L459.2 898.5L456.4 900.3L453.3 902.2L449.3 904.9L446.5 906.7L443.7 908.5L439.6 911.3L436.9 913.2L434 915.2L430.5 917.8L427.9 919.7L424.5 922.5L421.2 925.3L418.3 928.2L416 931.2L414.9 933.2L414.3 935.4L414.2 937.4L413.5 938.4" stroke="#fffb00" stroke-opacity="0.6" stroke-width="1.6" fill="none"/>
<path d="M898 782.9L893.3 784.3L888.5 785.7L883.2 787.3L878 788.9L872.7 790.5L867.5 792L862.8 793.4L858.1 794.9L853.4 796.3L848.7 797.7L843.9 799.1L838.6 800.7L833.4 802.3L828.1 803.9L822.9 805.5L818.2 806.9L813.5 808.3L808.8 809.7L804.1 811.1L799.3 812.6L794 814.2L788.8 815.7L783.5 817.3L778.3 818.9L773.5 820.4L768.8 821.8L764.1 823.2L759.4 824.6L754.7 826L749.5 827.6L744.3 829.2L739 830.8L733.8 832.4L728.9 833.9L724.2 835.3L719.4 836.7L714.7 838.1L710 839.6L705.1 841.1L699.8 842.7L694.6 844.2L689.4 845.8L684.2 847.4L679.4 848.9L674.7 850.3L670 851.7L665.3 853.2L660.5 854.6L655.6 856.1L650.4 857.7L645.2 859.3L640 860.9L634.8 862.5L629.9 864L625.1 865.4L620.4 866.9L615.7 868.3L610.9 869.8L606.2 871.2L601.1 872.8L596 874.4L590.8 876L585.7 877.6L580.5 879.2L575.4 880.8L570.6 882.2L565.8 883.7L561.1 885.2L556.3 886.7L551.5 888.2L546.8 889.7L542 891.2L537.1 892.7L532 894.3L527 895.9L521.9 897.5L516.9 899.1L511.9 900.7L506.9 902.3L501.9 904L497 905.6L492.1 907.2L487.2 908.8L482.3 910.4L477.5 912L472.7 913.7L467.9 915.3L463.2 916.9L458.6 918.6L453.9 920.3L448.7 922.2L443.5 924.2L438.7 926.1L434.5 927.8L429.5 930L425 932.1L420.1 934.8L415.9 937.5L413.9 938.4" stroke="#ff6c00" stroke-opacity="0.6" stroke-width="1.6" fill="none"/>
<path d="M775.6 908L770.3 908.4L766.7 908.7L763.2 909L758.3 909.3L754.2 909.6L750.7 909.9L746.3 910.2L741.7 910.5L738.2 910.8L734.3 911.1L729.3 911.4L725.7 911.7L722.1 912L716.8 912.4L713.2 912.6L709.6 912.9L704.4 913.3L700.7 913.5L697.1 913.8L692.4 914.2L688.2 914.5L684.6 914.7L680.4 915L675.7 915.4L672.1 915.7L668.5 915.9L663.2 916.3L659.6 916.6L656 916.9L650.7 917.3L647.1 917.5L643.5 917.8L638.7 918.2L634.6 918.5L631 918.7L626.8 919L622.1 919.4L618.5 919.7L614.9 919.9L609.6 920.3L606 920.6L602.4 920.9L597.2 921.3L593.5 921.6L589.9 921.8L585.4 922.2L580.9 922.5L577.3 922.8L573.6 923.1L568.4 923.5L564.8 923.8L561.2 924L556 924.5L552.3 924.7L548.7 925L544.4 925.4L539.7 925.7L536.1 926L532.5 926.3L527.1 926.7L523.5 927L519.9 927.3L515.5 927.7L510.9 928.1L507.3 928.4L503.7 928.7L498.4 929.1L494.7 929.4L491.1 929.7L487.2 930.1L482 930.5L478.4 930.8L474.7 931.2L470.7 931.5L465.6 932L462 932.4L458.3 932.7L454.6 933.1L449.7 933.6L445.4 934.1L441.7 934.5L438 934.9L434.2 935.4L430.4 935.9L426.1 936.5L422 937.1L418.2 937.8L414.3 938.4L414.3 938.4" stroke="#dc0000" stroke-opacity="0.6" stroke-width="1.6" fill="none"/>
<g stroke-width="1.0" stroke-opacity="0.6" stroke-linejoin="round" filter="url(#soft2)">
<path class="c17_2" d="M298.9 562l9.3-.9 3.5-4.5 -9.3 .9z"/>
<path class="c17_2" d="M308.2 561.1l9.2-.9 3.5-4.5 -9.2 .9z"/>
<path class="c17_2" d="M317.4 560.2l9.3-1 3.5-4.5 -9.3 1z"/>
<path class="c17_2" d="M295.4 566.5l9.3-.8 3.5-4.6 -9.3 .9z"/>
<path class="c18_2" d="M326.7 559.2l9.2-1 3.5-4.5 -9.2 1z"/>
<path class="c17_2" d="M304.7 565.7l9.2-.9 3.5-4.6 -9.2 .9z"/>
<path class="c18_3" d="M335.9 558.2l9.3-1.1 3.5-4.5 -9.3 1.1z"/>
<path class="c17_2" d="M313.9 564.8l9.3-1 3.5-4.6 -9.3 1z"/>
<path class="c19_3" d="M345.2 557.1l9.2-1.1 3.5-4.5 -9.2 1.1z"/>
<path class="c16_2" d="M291.9 571.1l9.3-.9 3.5-4.5 -9.3 .8z"/>
<path class="c18_2" d="M323.2 563.8l9.2-1.1 3.5-4.5 -9.2 1z"/>
<path class="c19_3" d="M354.4 556l9.3-1.2 3.5-4.5 -9.3 1.2z"/>
<path class="c17_2" d="M301.2 570.2l9.2-.9 3.5-4.5 -9.2 .9z"/>
<path class="c18_3" d="M332.4 562.7l9.3-1.1 3.5-4.5 -9.3 1.1z"/>
<path class="c19_3" d="M363.7 554.8l9.3-1.3 3.4-4.4 -9.2 1.2z"/>
<path class="c17_2" d="M310.4 569.3l9.3-1 3.5-4.5 -9.3 1z"/>
<path class="c18_3" d="M341.7 561.6l9.2-1.1 3.5-4.5 -9.2 1.1z"/>
<path class="c20_3" d="M373 553.5l9.2-1.3 3.5-4.5 -9.3 1.4z"/>
<path class="c16_2" d="M288.4 575.7l9.3-.9 3.5-4.6 -9.3 .9z"/>
<path class="c17_2" d="M319.7 568.3l9.2-1 3.5-4.6 -9.2 1.1z"/>
<path class="c19_3" d="M350.9 560.5l9.3-1.2 3.5-4.5 -9.3 1.2z"/>
<path class="c20_3" d="M382.2 552.2l9.3-1.4 3.5-4.4 -9.3 1.3z"/>
<path class="c17_2" d="M297.7 574.8l9.2-.9 3.5-4.6 -9.2 .9z"/>
<path class="c18_3" d="M328.9 567.3l9.3-1.1 3.5-4.6 -9.3 1.1z"/>
<path class="c19_3" d="M360.2 559.3l9.3-1.3 3.5-4.5 -9.3 1.3z"/>
<path class="c21_3" d="M391.5 550.8l9.2-1.5 3.5-4.4 -9.2 1.5z"/>
<path class="c17_2" d="M306.9 573.9l9.3-1 3.5-4.6 -9.3 1z"/>
<path class="c18_3" d="M338.2 566.2l9.3-1.2 3.4-4.5 -9.2 1.1z"/>
<path class="c20_3" d="M369.5 558l9.2-1.4 3.5-4.4 -9.2 1.3z"/>
<path class="c21_3" d="M400.7 549.3l9.3-1.5 3.5-4.4 -9.3 1.5z"/>
<path class="c16_2" d="M284.9 580.3l9.3-.9 3.5-4.6 -9.3 .9z"/>
<path class="c17_2" d="M316.2 572.9l9.3-1.1 3.4-4.5 -9.2 1z"/>
<path class="c19_3" d="M347.5 565l9.2-1.2 3.5-4.5 -9.3 1.2z"/>
<path class="c20_3" d="M378.7 556.6l9.3-1.4 3.5-4.4 -9.3 1.4z"/>
<path class="c22_3" d="M410 547.8l9.2-1.6 3.5-4.3 -9.2 1.5z"/>
<path class="c16_2" d="M294.2 579.4l9.2-.9 3.5-4.6 -9.2 .9z"/>
<path class="c18_2" d="M325.5 571.8l9.2-1.1 3.5-4.5 -9.3 1.1z"/>
<path class="c19_3" d="M356.7 563.8l9.3-1.3 3.5-4.5 -9.3 1.3z"/>
<path class="c21_3" d="M388 555.2l9.2-1.5 3.5-4.4 -9.2 1.5z"/>
<path class="c22_3" d="M419.2 546.2l9.3-1.6 3.5-4.3 -9.3 1.6z"/>
<path class="c17_2" d="M303.4 578.5l9.3-1 3.5-4.6 -9.3 1z"/>
<path class="c18_3" d="M334.7 570.7l9.3-1.2 3.5-4.5 -9.3 1.2z"/>
<path class="c20_3" d="M366 562.5l9.2-1.4 3.5-4.5 -9.2 1.4z"/>
<path class="c21_3" d="M397.2 553.7l9.3-1.5 3.5-4.4 -9.3 1.5z"/>
<path class="c23_3" d="M428.5 544.6l9.2-1.8 3.5-4.2 -9.2 1.7z"/>
<path class="c16_2" d="M281.4 584.9l9.3-.8 3.5-4.7 -9.3 .9z"/>
<path class="c17_2" d="M312.7 577.5l9.3-1.1 3.5-4.6 -9.3 1.1z"/>
<path class="c19_3" d="M344 569.5l9.2-1.2 3.5-4.5 -9.2 1.2z"/>
<path class="c20_3" d="M375.2 561.1l9.3-1.5 3.5-4.4 -9.3 1.4z"/>
<path class="c22_3" d="M406.5 552.2l9.2-1.6 3.5-4.4 -9.2 1.6z"/>
<path class="c23_3" d="M437.7 542.8l9.3-1.7 3.5-4.3 -9.3 1.8z"/>
<path class="c16_2" d="M290.7 584.1l9.3-1 3.4-4.6 -9.2 .9z"/>
<path class="c17_2" d="M322 576.4l9.2-1.1 3.5-4.6 -9.2 1.1z"/>
<path class="c19_3" d="M353.2 568.3l9.3-1.3 3.5-4.5 -9.3 1.3z"/>
<path class="c21_3" d="M384.5 559.6l9.2-1.5 3.5-4.4 -9.2 1.5z"/>
<path class="c22_3" d="M415.7 550.6l9.3-1.7 3.5-4.3 -9.3 1.6z"/>
<path class="c16_2" d="M300 583.1l9.2-1 3.5-4.6 -9.3 1z"/>
<path class="c24_3" d="M447 541.1l9.2-1.8 3.5-4.2 -9.2 1.7z"/>
<path class="c18_3" d="M331.2 575.3l9.3-1.2 3.5-4.6 -9.3 1.2z"/>
<path class="c19_3" d="M362.5 567l9.2-1.4 3.5-4.5 -9.2 1.4z"/>
<path class="c21_3" d="M393.7 558.1l9.3-1.5 3.5-4.4 -9.3 1.5z"/>
<path class="c23_3" d="M425 548.9l9.2-1.8 3.5-4.3 -9.2 1.8z"/>
<path class="c16_2" d="M278 589.6l9.2-.9 3.5-4.6 -9.3 .8z"/>
<path class="c17_2" d="M309.2 582.1l9.3-1.1 3.5-4.6 -9.3 1.1z"/>
<path class="c24_3" d="M456.2 539.3l9.3-1.9 3.5-4.2 -9.3 1.9z"/>
<path class="c18_3" d="M340.5 574.1l9.2-1.3 3.5-4.5 -9.2 1.2z"/>
<path class="c20_3" d="M371.7 565.6l9.3-1.5 3.5-4.5 -9.3 1.5z"/>
<path class="c21_3" d="M403 556.6l9.2-1.7 3.5-4.3 -9.2 1.6z"/>
<path class="c16_2" d="M287.2 588.7l9.3-.9 3.5-4.7 -9.3 1z"/>
<path class="c23_3" d="M434.2 547.1l9.3-1.8 3.5-4.2 -9.3 1.7z"/>
<path class="c17_2" d="M318.5 581l9.2-1.1 3.5-4.6 -9.2 1.1z"/>
<path class="c19_3" d="M349.7 572.8l9.3-1.3 3.5-4.5 -9.3 1.3z"/>
<path class="c25_3" d="M465.5 537.4l9.3-2 3.5-4.1 -9.3 1.9z"/>
<path class="c20_3" d="M381 564.1l9.2-1.5 3.5-4.5 -9.2 1.5z"/>
<path class="c22_3" d="M412.2 554.9l9.3-1.7 3.5-4.3 -9.3 1.7z"/>
<path class="c16_2" d="M296.5 587.8l9.2-1 3.5-4.7 -9.2 1z"/>
<path class="c24_3" d="M443.5 545.3l9.3-1.8 3.4-4.2 -9.2 1.8z"/>
<path class="c18_2" d="M327.7 579.9l9.3-1.2 3.5-4.6 -9.3 1.2z"/>
<path class="c19_3" d="M359 571.5l9.2-1.4 3.5-4.5 -9.2 1.4z"/>
<path class="c26_3" d="M474.8 535.4l9.2-1.9 3.5-4.1 -9.2 1.9z"/>
<path class="c21_3" d="M390.2 562.6l9.3-1.6 3.5-4.4 -9.3 1.5z"/>
<path class="c23_3" d="M421.5 553.2l9.3-1.8 3.4-4.3 -9.2 1.8z"/>
<path class="c15_2" d="M274.5 594.3l9.2-.9 3.5-4.7 -9.2 .9z"/>
<path class="c17_2" d="M305.7 586.8l9.3-1.1 3.5-4.7 -9.3 1.1z"/>
<path class="c18_3" d="M337 578.7l9.2-1.3 3.5-4.6 -9.2 1.3z"/>
<path class="c24_3" d="M452.8 543.5l9.2-1.9 3.5-4.2 -9.3 1.9z"/>
<path class="c20_3" d="M368.2 570.1l9.3-1.5 3.5-4.5 -9.3 1.5z"/>
<path class="c26_3" d="M484 533.5l9.3-2.1 3.5-4 -9.3 2z"/>
<path class="c21_3" d="M399.5 561l9.2-1.7 3.5-4.4 -9.2 1.7z"/>
<path class="c16_2" d="M283.7 593.4l9.3-1 3.5-4.6 -9.3 .9z"/>
<path class="c23_3" d="M430.8 551.4l9.2-1.8 3.5-4.3 -9.3 1.8z"/>
<path class="c17_2" d="M315 585.7l9.2-1.2 3.5-4.6 -9.2 1.1z"/>
<path class="c19_3" d="M346.2 577.4l9.3-1.3 3.5-4.6 -9.3 1.3z"/>
<path class="c25_3" d="M462 541.6l9.3-2 3.5-4.2 -9.3 2z"/>
<path class="c20_3" d="M377.5 568.6l9.2-1.5 3.5-4.5 -9.2 1.5z"/>
<path class="c27_3" d="M493.3 531.4l9.2-2 3.5-4 -9.2 2z"/>
<path class="c22_3" d="M408.7 559.3l9.3-1.7 3.5-4.4 -9.3 1.7z"/>
<path class="c16_2" d="M293 592.4l9.2-1 3.5-4.6 -9.2 1z"/>
<path class="c17_2" d="M324.2 584.5l9.3-1.2 3.5-4.6 -9.3 1.2z"/>
<path class="c24_3" d="M440 549.6l9.3-1.9 3.5-4.2 -9.3 1.8z"/>
<path class="c19_3" d="M355.5 576.1l9.2-1.4 3.5-4.6 -9.2 1.4z"/>
<path class="c25_3" d="M471.3 539.6l9.2-2.1 3.5-4 -9.2 1.9z"/>
<path class="c21_3" d="M386.7 567.1l9.3-1.6 3.5-4.5 -9.3 1.6z"/>
<path class="c27_3" d="M502.5 529.4l9.3-2.2 3.5-3.9 -9.3 2.1z"/>
<path class="c15_2" d="M271 598.9l9.2-.8 3.5-4.7 -9.2 .9z"/>
<path class="c22_3" d="M418 557.6l9.3-1.8 3.5-4.4 -9.3 1.8z"/>
<path class="c16_2" d="M302.2 591.4l9.3-1.1 3.5-4.6 -9.3 1.1z"/>
<path class="c18_3" d="M333.5 583.3l9.2-1.3 3.5-4.6 -9.2 1.3z"/>
<path class="c24_3" d="M449.3 547.7l9.2-2 3.5-4.1 -9.2 1.9z"/>
<path class="c19_3" d="M364.7 574.7l9.3-1.5 3.5-4.6 -9.3 1.5z"/>
<path class="c26_3" d="M480.5 537.5l9.3-2 3.5-4.1 -9.3 2.1z"/>
<path class="c21_3" d="M396 565.5l9.3-1.7 3.4-4.5 -9.2 1.7z"/>
<path class="c15_2" d="M280.2 598.1l9.3-1 3.5-4.7 -9.3 1z"/>
<path class="c28_3" d="M511.8 527.2l9.2-2.1 3.5-3.9 -9.2 2.1z"/>
<path class="c23_3" d="M427.3 555.8l9.2-1.9 3.5-4.3 -9.2 1.8z"/>
<path class="c17_2" d="M311.5 590.3l9.2-1.1 3.5-4.7 -9.2 1.2z"/>
<path class="c18_3" d="M342.7 582l9.3-1.3 3.5-4.6 -9.3 1.3z"/>
<path class="c25_3" d="M458.5 545.7l9.3-2 3.5-4.1 -9.3 2z"/>
<path class="c20_3" d="M374 573.2l9.3-1.6 3.4-4.5 -9.2 1.5z"/>
<path class="c27_3" d="M489.8 535.5l9.2-2.2 3.5-3.9 -9.2 2z"/>
<path class="c22_3" d="M405.3 563.8l9.2-1.8 3.5-4.4 -9.3 1.7z"/>
<path class="c16_2" d="M289.5 597.1l9.2-1 3.5-4.7 -9.2 1z"/>
<path class="c17_2" d="M320.7 589.2l9.3-1.2 3.5-4.7 -9.3 1.2z"/>
<path class="c23_3" d="M436.5 553.9l9.3-1.9 3.5-4.3 -9.3 1.9z"/>
<path class="c29_3" d="M521 525.1l9.3-2.2 3.5-3.8 -9.3 2.1z"/>
<path class="c19_3" d="M352 580.7l9.3-1.5 3.4-4.5 -9.2 1.4z"/>
<path class="c25_3" d="M467.8 543.7l9.2-2 3.5-4.2 -9.2 2.1z"/>
<path class="c20_3" d="M383.3 571.6l9.2-1.7 3.5-4.4 -9.3 1.6z"/>
<path class="c15_2" d="M267.5 603.7l9.2-.9 3.5-4.7 -9.2 .8z"/>
<path class="c22_3" d="M414.5 562l9.3-1.9 3.5-4.3 -9.3 1.8z"/>
<path class="c27_3" d="M499 533.3l9.3-2.1 3.5-4 -9.3 2.2z"/>
<path class="c16_2" d="M298.7 596.1l9.3-1.1 3.5-4.7 -9.3 1.1z"/>
<path class="c18_3" d="M330 588l9.2-1.3 3.5-4.7 -9.2 1.3z"/>
<path class="c24_3" d="M445.8 552l9.2-2 3.5-4.3 -9.2 2z"/>
<path class="c29_3" d="M530.3 522.9l9.2-2.2 3.5-3.7 -9.2 2.1z"/>
<path class="c19_3" d="M361.3 579.2l9.2-1.5 3.5-4.5 -9.3 1.5z"/>
<path class="c26_3" d="M477 541.7l9.3-2.2 3.5-4 -9.3 2z"/>
<path class="c21_3" d="M392.5 569.9l9.3-1.7 3.5-4.4 -9.3 1.7z"/>
<path class="c15_2" d="M276.7 602.8l9.3-1 3.5-4.7 -9.3 1z"/>
<path class="c17_2" d="M308 595l9.2-1.1 3.5-4.7 -9.2 1.1z"/>
<path class="c23_3" d="M423.8 560.1l9.2-1.9 3.5-4.3 -9.2 1.9z"/>
<path class="c28_3" d="M508.3 531.2l9.2-2.2 3.5-3.9 -9.2 2.1z"/>
<path class="c18_3" d="M339.2 586.7l9.3-1.4 3.5-4.6 -9.3 1.3z"/>
<path class="c25_3" d="M455 550l9.3-2.1 3.5-4.2 -9.3 2z"/>
<path class="c30_3" d="M539.5 520.7l9.3-2.2 3.5-3.7 -9.3 2.2z"/>
<path class="c20_3" d="M370.5 577.7l9.3-1.6 3.5-4.5 -9.3 1.6z"/>
<path class="c22_3" d="M401.8 568.2l9.2-1.8 3.5-4.4 -9.2 1.8z"/>
<path class="c27_3" d="M486.3 539.5l9.2-2.2 3.5-4 -9.2 2.2z"/>
<path class="c16_2" d="M286 601.8l9.2-1 3.5-4.7 -9.2 1z"/>
<path class="c17_2" d="M317.2 593.9l9.3-1.3 3.5-4.6 -9.3 1.2z"/>
<path class="c23_3" d="M433 558.2l9.3-1.9 3.5-4.3 -9.3 1.9z"/>
<path class="c28_3" d="M517.5 529l9.3-2.3 3.5-3.8 -9.3 2.2z"/>
<path class="c19_3" d="M348.5 585.3l9.3-1.5 3.5-4.6 -9.3 1.5z"/>
<path class="c25_3" d="M464.3 547.9l9.2-2.1 3.5-4.1 -9.2 2z"/>
<path class="c20_3" d="M379.8 576.1l9.2-1.7 3.5-4.5 -9.2 1.7z"/>
<path class="c30_3" d="M548.8 518.5l9.3-2.2 3.5-3.7 -9.3 2.2z"/>
<path class="c15_2" d="M264 608.4l9.2-.9 3.5-4.7 -9.2 .9z"/>
<path class="c22_3" d="M411 566.4l9.3-1.9 3.5-4.4 -9.3 1.9z"/>
<path class="c16_2" d="M295.2 600.8l9.3-1.1 3.5-4.7 -9.3 1.1z"/>
<path class="c27_3" d="M495.5 537.3l9.3-2.2 3.5-3.9 -9.3 2.1z"/>
<path class="c17_2" d="M326.5 592.6l9.3-1.3 3.4-4.6 -9.2 1.3z"/>
<path class="c24_3" d="M442.3 556.3l9.2-2.1 3.5-4.2 -9.2 2z"/>
<path class="c29_3" d="M526.8 526.7l9.3-2.2 3.4-3.8 -9.2 2.2z"/>
<path class="c19_3" d="M357.8 583.8l9.2-1.5 3.5-4.6 -9.2 1.5z"/>
<path class="c21_3" d="M389 574.4l9.3-1.7 3.5-4.5 -9.3 1.7z"/>
<path class="c26_3" d="M473.5 545.8l9.3-2.2 3.5-4.1 -9.3 2.2z"/>
<path class="c31_3" d="M558.1 516.3l9.2-2.3 3.5-3.6 -9.2 2.2z"/>
<path class="c15_2" d="M273.2 607.5l9.3-.9 3.5-4.8 -9.3 1z"/>
<path class="c16_2" d="M304.5 599.7l9.3-1.1 3.4-4.7 -9.2 1.1z"/>
<path class="c23_3" d="M420.3 564.5l9.2-1.9 3.5-4.4 -9.2 1.9z"/>
<path class="c28_3" d="M504.8 535.1l9.3-2.2 3.4-3.9 -9.2 2.2z"/>
<path class="c18_3" d="M335.8 591.3l9.2-1.4 3.5-4.6 -9.3 1.4z"/>
<path class="c25_3" d="M451.5 554.2l9.3-2.1 3.5-4.2 -9.3 2.1z"/>
<path class="c20_3" d="M367 582.3l9.3-1.6 3.5-4.6 -9.3 1.6z"/>
<path class="c30_3" d="M536.1 524.5l9.2-2.3 3.5-3.7 -9.3 2.2z"/>
<path class="c21_3" d="M398.3 572.7l9.2-1.8 3.5-4.5 -9.2 1.8z"/>
<path class="c26_3" d="M482.8 543.6l9.2-2.2 3.5-4.1 -9.2 2.2z"/>
<path class="c15_2" d="M282.5 606.6l9.2-1 3.5-4.8 -9.2 1z"/>
<path class="c32_3" d="M567.3 514l9.3-2.2 3.5-3.6 -9.3 2.2z"/>
<path class="c17_2" d="M313.8 598.6l9.2-1.3 3.5-4.7 -9.3 1.3z"/>
<path class="c23_3" d="M429.5 562.6l9.3-2 3.5-4.3 -9.3 1.9z"/>
<path class="c28_3" d="M514.1 532.9l9.2-2.3 3.5-3.9 -9.3 2.3z"/>
<path class="c18_3" d="M345 589.9l9.3-1.4 3.5-4.7 -9.3 1.5z"/>
<path class="c20_3" d="M376.3 580.7l9.2-1.7 3.5-4.6 -9.2 1.7z"/>
<path class="c25_3" d="M460.8 552.1l9.2-2.2 3.5-4.1 -9.2 2.1z"/>
<path class="c30_3" d="M545.3 522.2l9.3-2.3 3.5-3.6 -9.3 2.2z"/>
<path class="c14_2" d="M260.5 613.2l9.2-.9 3.5-4.8 -9.2 .9z"/>
<path class="c22_3" d="M407.5 570.9l9.3-2 3.5-4.4 -9.3 1.9z"/>
<path class="c16_2" d="M291.7 605.6l9.3-1.1 3.5-4.8 -9.3 1.1z"/>
<path class="c27_3" d="M492 541.4l9.3-2.3 3.5-4 -9.3 2.2z"/>
<path class="c32_3" d="M576.6 511.8l9.2-2.3 3.5-3.5 -9.2 2.2z"/>
<path class="c17_2" d="M323 597.3l9.3-1.3 3.5-4.7 -9.3 1.3z"/>
<path class="c24_3" d="M438.8 560.6l9.2-2.1 3.5-4.3 -9.2 2.1z"/>
<path class="c19_3" d="M354.3 588.5l9.2-1.6 3.5-4.6 -9.2 1.5z"/>
<path class="c29_3" d="M523.3 530.6l9.3-2.3 3.5-3.8 -9.3 2.2z"/>
<path class="c21_3" d="M385.5 579l9.3-1.8 3.5-4.5 -9.3 1.7z"/>
<path class="c26_3" d="M470 549.9l9.3-2.2 3.5-4.1 -9.3 2.2z"/>
<path class="c15_2" d="M269.7 612.3l9.3-.9 3.5-4.8 -9.3 .9z"/>
<path class="c31_3" d="M554.6 519.9l9.2-2.3 3.5-3.6 -9.2 2.3z"/>
<path class="c16_2" d="M301 604.5l9.3-1.2 3.5-4.7 -9.3 1.1z"/>
<path class="c22_3" d="M416.8 568.9l9.2-1.9 3.5-4.4 -9.2 1.9z"/>
<path class="c28_3" d="M501.3 539.1l9.3-2.3 3.5-3.9 -9.3 2.2z"/>
<path class="c18_3" d="M332.3 596l9.2-1.4 3.5-4.7 -9.2 1.4z"/>
<path class="c33_3" d="M585.8 509.5l9.3-2.2 3.5-3.4 -9.3 2.1z"/>
<path class="c24_3" d="M448 558.5l9.3-2.2 3.5-4.2 -9.3 2.1z"/>
<path class="c19_3" d="M363.5 586.9l9.3-1.6 3.5-4.6 -9.3 1.6z"/>
<path class="c30_3" d="M532.6 528.3l9.2-2.4 3.5-3.7 -9.2 2.3z"/>
<path class="c21_3" d="M394.8 577.2l9.2-1.9 3.5-4.4 -9.2 1.8z"/>
<path class="c15_2" d="M279 611.4l9.3-1 3.4-4.8 -9.2 1z"/>
<path class="c26_3" d="M479.3 547.7l9.3-2.3 3.4-4 -9.2 2.2z"/>
<path class="c17_2" d="M310.3 603.3l9.2-1.2 3.5-4.8 -9.2 1.3z"/>
<path class="c32_3" d="M563.8 517.6l9.3-2.3 3.5-3.5 -9.3 2.2z"/>
<path class="c23_3" d="M426 567l9.3-2.1 3.5-4.3 -9.3 2z"/>
<path class="c18_3" d="M341.5 594.6l9.3-1.5 3.5-4.6 -9.3 1.4z"/>
<path class="c28_3" d="M510.6 536.8l9.2-2.4 3.5-3.8 -9.2 2.3z"/>
<path class="c33_3" d="M595.1 507.3l9.2-2.2 3.5-3.4 -9.2 2.2z"/>
<path class="c20_3" d="M372.8 585.3l9.2-1.8 3.5-4.5 -9.2 1.7z"/>
<path class="c25_3" d="M457.3 556.3l9.3-2.2 3.4-4.2 -9.2 2.2z"/>
<path class="c14_2" d="M257 618l9.3-.9 3.4-4.8 -9.2 .9z"/>
<path class="c30_3" d="M541.8 525.9l9.3-2.3 3.5-3.7 -9.3 2.3z"/>
<path class="c16_2" d="M288.3 610.4l9.2-1.1 3.5-4.8 -9.3 1.1z"/>
<path class="c22_3" d="M404 575.3l9.3-1.9 3.5-4.5 -9.3 2z"/>
<path class="c27_3" d="M488.6 545.4l9.2-2.3 3.5-4 -9.3 2.3z"/>
<path class="c17_2" d="M319.5 602.1l9.3-1.4 3.5-4.7 -9.3 1.3z"/>
<path class="c32_3" d="M573.1 515.3l9.2-2.3 3.5-3.5 -9.2 2.3z"/>
<path class="c24_3" d="M435.3 564.9l9.2-2.1 3.5-4.3 -9.2 2.1z"/>
<path class="c19_3" d="M350.8 593.1l9.2-1.5 3.5-4.7 -9.2 1.6z"/>
<path class="c29_3" d="M519.8 534.4l9.3-2.3 3.5-3.8 -9.3 2.3z"/>
<path class="c34_3" d="M604.3 505.1l9.3-2.2 3.5-3.3 -9.3 2.1z"/>
<path class="c20_3" d="M382 583.5l9.3-1.8 3.5-4.5 -9.3 1.8z"/>
<path class="c26_3" d="M466.6 554.1l9.2-2.3 3.5-4.1 -9.3 2.2z"/>
<path class="c15_2" d="M266.3 617.1l9.2-.9 3.5-4.8 -9.3 .9z"/>
<path class="c16_2" d="M297.5 609.3l9.3-1.2 3.5-4.8 -9.3 1.2z"/>
<path class="c31_3" d="M551.1 523.6l9.2-2.4 3.5-3.6 -9.2 2.3z"/>
<path class="c22_3" d="M413.3 573.4l9.2-2 3.5-4.4 -9.2 1.9z"/>
<path class="c18_2" d="M328.8 600.7l9.2-1.4 3.5-4.7 -9.2 1.4z"/>
<path class="c28_3" d="M497.8 543.1l9.3-2.4 3.5-3.9 -9.3 2.3z"/>
<path class="c33_3" d="M582.3 513l9.3-2.3 3.5-3.4 -9.3 2.2z"/>
<path class="c19_3" d="M360 591.6l9.3-1.7 3.5-4.6 -9.3 1.6z"/>
<path class="c24_3" d="M444.5 562.8l9.3-2.3 3.5-4.2 -9.3 2.2z"/>
<path class="c30_3" d="M529.1 532.1l9.2-2.5 3.5-3.7 -9.2 2.4z"/>
<path class="c35_3" d="M613.6 502.9l9.2-2.2 3.5-3.3 -9.2 2.2z"/>
<path class="c21_3" d="M391.3 581.7l9.2-1.9 3.5-4.5 -9.2 1.9z"/>
<path class="c15_2" d="M275.5 616.2l9.3-1 3.5-4.8 -9.3 1z"/>
<path class="c26_3" d="M475.8 551.8l9.3-2.3 3.5-4.1 -9.3 2.3z"/>
<path class="c16_2" d="M306.8 608.1l9.2-1.3 3.5-4.7 -9.2 1.2z"/>
<path class="c32_3" d="M560.3 521.2l9.3-2.4 3.5-3.5 -9.3 2.3z"/>
<path class="c23_3" d="M422.5 571.4l9.3-2.2 3.5-4.3 -9.3 2.1z"/>
<path class="c18_3" d="M338 599.3l9.3-1.5 3.5-4.7 -9.3 1.5z"/>
<path class="c28_3" d="M507.1 540.7l9.2-2.4 3.5-3.9 -9.2 2.4z"/>
<path class="c34_3" d="M591.6 510.7l9.2-2.3 3.5-3.3 -9.2 2.2z"/>
<path class="c20_3" d="M369.3 589.9l9.2-1.8 3.5-4.6 -9.2 1.8z"/>
<path class="c25_3" d="M453.8 560.5l9.3-2.2 3.5-4.2 -9.3 2.2z"/>
<path class="c14_2" d="M253.5 622.8l9.3-.9 3.5-4.8 -9.3 .9z"/>
<path class="c30_3" d="M538.3 529.6l9.3-2.4 3.5-3.6 -9.3 2.3z"/>
<path class="c15_2" d="M284.8 615.2l9.2-1.1 3.5-4.8 -9.2 1.1z"/>
<path class="c35_3" d="M622.8 500.7l9.3-2.2 3.5-3.2 -9.3 2.1z"/>
<path class="c22_3" d="M400.5 579.8l9.3-1.9 3.5-4.5 -9.3 1.9z"/>
<path class="c17_2" d="M316 606.8l9.3-1.3 3.5-4.8 -9.3 1.4z"/>
<path class="c27_3" d="M485.1 549.5l9.2-2.4 3.5-4 -9.2 2.3z"/>
<path class="c32_3" d="M569.6 518.8l9.2-2.3 3.5-3.5 -9.2 2.3z"/>
<path class="c18_3" d="M347.3 597.8l9.2-1.6 3.5-4.6 -9.2 1.5z"/>
<path class="c24_3" d="M431.8 569.2l9.3-2.1 3.4-4.3 -9.2 2.1z"/>
<path class="c29_3" d="M516.3 538.3l9.3-2.5 3.5-3.7 -9.3 2.3z"/>
<path class="c20_3" d="M378.5 588.1l9.3-1.8 3.5-4.6 -9.3 1.8z"/>
<path class="c34_3" d="M600.8 508.4l9.3-2.2 3.5-3.3 -9.3 2.2z"/>
<path class="c14_2" d="M262.8 621.9l9.2-.9 3.5-4.8 -9.2 .9z"/>
<path class="c26_3" d="M463.1 558.3l9.2-2.4 3.5-4.1 -9.2 2.3z"/>
<path class="c16_2" d="M294 614.1l9.3-1.2 3.5-4.8 -9.3 1.2z"/>
<path class="c36_3" d="M632.1 498.5l9.3-2.1 3.4-3.1 -9.2 2z"/>
<path class="c31_3" d="M547.6 527.2l9.2-2.4 3.5-3.6 -9.2 2.4z"/>
<path class="c22_3" d="M409.8 577.9l9.3-2.1 3.4-4.4 -9.2 2z"/>
<path class="c17_2" d="M325.3 605.5l9.2-1.4 3.5-4.8 -9.2 1.4z"/>
<path class="c28_3" d="M494.3 547.1l9.3-2.5 3.5-3.9 -9.3 2.4z"/>
<path class="c19_3" d="M356.5 596.2l9.3-1.7 3.5-4.6 -9.3 1.7z"/>
<path class="c33_3" d="M578.8 516.5l9.3-2.4 3.5-3.4 -9.3 2.3z"/>
<path class="c24_3" d="M441.1 567.1l9.2-2.3 3.5-4.3 -9.3 2.3z"/>
<path class="c30_3" d="M525.6 535.8l9.2-2.4 3.5-3.8 -9.2 2.5z"/>
<path class="c21_3" d="M387.8 586.3l9.2-1.9 3.5-4.6 -9.2 1.9z"/>
<path class="c15_2" d="M272 621l9.3-1 3.5-4.8 -9.3 1z"/>
<path class="c35_3" d="M610.1 506.2l9.3-2.3 3.4-3.2 -9.2 2.2z"/>
<path class="c16_2" d="M303.3 612.9l9.2-1.3 3.5-4.8 -9.2 1.3z"/>
<path class="c26_3" d="M472.3 555.9l9.3-2.4 3.5-4 -9.3 2.3z"/>
<path class="c37_3" d="M641.4 496.4l9.2-2 3.5-3.1 -9.3 2z"/>
<path class="c23_3" d="M419.1 575.8l9.2-2.2 3.5-4.4 -9.3 2.2z"/>
<path class="c18_3" d="M334.5 604.1l9.3-1.6 3.5-4.7 -9.3 1.5z"/>
<path class="c32_3" d="M556.8 524.8l9.3-2.4 3.5-3.6 -9.3 2.4z"/>
<path class="c28_3" d="M503.6 544.6l9.2-2.4 3.5-3.9 -9.2 2.4z"/>
<path class="c20_3" d="M365.8 594.5l9.2-1.7 3.5-4.7 -9.2 1.8z"/>
<path class="c34_3" d="M588.1 514.1l9.2-2.3 3.5-3.4 -9.2 2.3z"/>
<path class="c25_3" d="M450.3 564.8l9.3-2.3 3.5-4.2 -9.3 2.2z"/>
<path class="c14_2" d="M250 627.6l9.3-.8 3.5-4.9 -9.3 .9z"/>
<path class="c15_2" d="M281.3 620l9.2-1.1 3.5-4.8 -9.2 1.1z"/>
<path class="c21_3" d="M397 584.4l9.3-2 3.5-4.5 -9.3 1.9z"/>
<path class="c30_3" d="M534.8 533.4l9.3-2.5 3.5-3.7 -9.3 2.4z"/>
<path class="c35_3" d="M619.4 503.9l9.2-2.2 3.5-3.2 -9.3 2.2z"/>
<path class="c17_2" d="M312.5 611.6l9.3-1.3 3.5-4.8 -9.3 1.3z"/>
<path class="c27_3" d="M481.6 553.5l9.2-2.4 3.5-4 -9.2 2.4z"/>
<path class="c37_3" d="M650.6 494.4l9.3-2.1 3.5-3 -9.3 2z"/>
<path class="c18_3" d="M343.8 602.5l9.2-1.6 3.5-4.7 -9.2 1.6z"/>
<path class="c23_3" d="M428.3 573.6l9.3-2.2 3.5-4.3 -9.3 2.1z"/>
<path class="c32_3" d="M566.1 522.4l9.2-2.5 3.5-3.4 -9.2 2.3z"/>
<path class="c29_3" d="M512.8 542.2l9.3-2.5 3.5-3.9 -9.3 2.5z"/>
<path class="c20_3" d="M375 592.8l9.3-1.9 3.5-4.6 -9.3 1.8z"/>
<path class="c14_2" d="M259.3 626.8l9.2-.9 3.5-4.9 -9.2 .9z"/>
<path class="c34_3" d="M597.3 511.8l9.3-2.3 3.5-3.3 -9.3 2.2z"/>
<path class="c25_3" d="M459.6 562.5l9.2-2.4 3.5-4.2 -9.2 2.4z"/>
<path class="c15_2" d="M290.5 618.9l9.3-1.2 3.5-4.8 -9.3 1.2z"/>
<path class="c22_3" d="M406.3 582.4l9.3-2.2 3.5-4.4 -9.3 2.1z"/>
<path class="c17_2" d="M321.8 610.3l9.2-1.5 3.5-4.7 -9.2 1.4z"/>
<path class="c31_3" d="M544.1 530.9l9.2-2.5 3.5-3.6 -9.2 2.4z"/>
<path class="c36_3" d="M628.6 501.7l9.3-2.1 3.5-3.2 -9.3 2.1z"/>
<path class="c27_3" d="M490.8 551.1l9.3-2.5 3.5-4 -9.3 2.5z"/>
<path class="c19_3" d="M353 600.9l9.3-1.7 3.5-4.7 -9.3 1.7z"/>
<path class="c38_3" d="M659.9 492.3l9.2-1.9 3.5-3 -9.2 1.9z"/>
<path class="c24_3" d="M437.6 571.4l9.2-2.3 3.5-4.3 -9.2 2.3z"/>
<path class="c33_3" d="M575.3 519.9l9.3-2.4 3.5-3.4 -9.3 2.4z"/>
<path class="c14_2" d="M268.5 625.9l9.3-1.1 3.5-4.8 -9.3 1z"/>
<path class="c21_3" d="M384.3 590.9l9.3-2 3.4-4.5 -9.2 1.9z"/>
<path class="c30_3" d="M522.1 539.7l9.2-2.6 3.5-3.7 -9.2 2.4z"/>
<path class="c16_2" d="M299.8 617.7l9.2-1.3 3.5-4.8 -9.2 1.3z"/>
<path class="c35_3" d="M606.6 509.5l9.3-2.3 3.5-3.3 -9.3 2.3z"/>
<path class="c26_3" d="M468.8 560.1l9.3-2.5 3.5-4.1 -9.3 2.4z"/>
<path class="c18_2" d="M331 608.8l9.3-1.5 3.5-4.8 -9.3 1.6z"/>
<path class="c23_3" d="M415.6 580.2l9.2-2.1 3.5-4.5 -9.2 2.2z"/>
<path class="c37_3" d="M637.9 499.6l9.2-2.1 3.5-3.1 -9.2 2z"/>
<path class="c32_3" d="M553.3 528.4l9.3-2.5 3.5-3.5 -9.3 2.4z"/>
<path class="c19_3" d="M362.3 599.2l9.3-1.8 3.4-4.6 -9.2 1.7z"/>
<path class="c28_3" d="M500.1 548.6l9.2-2.6 3.5-3.8 -9.2 2.4z"/>
<path class="c38_3" d="M669.1 490.4l9.3-1.9 3.5-3 -9.3 1.9z"/>
<path class="c13_2" d="M246.5 632.5l9.3-.8 3.5-4.9 -9.3 .8z"/>
<path class="c25_3" d="M446.8 569.1l9.3-2.4 3.5-4.2 -9.3 2.3z"/>
<path class="c34_3" d="M584.6 517.5l9.3-2.4 3.4-3.3 -9.2 2.3z"/>
<path class="c15_2" d="M277.8 624.8l9.2-1.1 3.5-4.8 -9.2 1.1z"/>
<path class="c21_3" d="M393.6 588.9l9.2-2 3.5-4.5 -9.3 2z"/>
<path class="c16_2" d="M309 616.4l9.3-1.3 3.5-4.8 -9.3 1.3z"/>
<path class="c30_3" d="M531.3 537.1l9.3-2.5 3.5-3.7 -9.3 2.5z"/>
<path class="c35_3" d="M615.9 507.2l9.2-2.3 3.5-3.2 -9.2 2.2z"/>
<path class="c27_3" d="M478.1 557.6l9.2-2.5 3.5-4 -9.2 2.4z"/>
<path class="c18_3" d="M340.3 607.3l9.3-1.6 3.4-4.8 -9.2 1.6z"/>
<path class="c23_3" d="M424.8 578.1l9.3-2.3 3.5-4.4 -9.3 2.2z"/>
<path class="c37_3" d="M647.1 497.5l9.3-2.1 3.5-3.1 -9.3 2.1z"/>
<path class="c32_3" d="M562.6 525.9l9.3-2.5 3.4-3.5 -9.2 2.5z"/>
<path class="c20_3" d="M371.6 597.4l9.2-1.9 3.5-4.6 -9.3 1.9z"/>
<path class="c39_3" d="M678.4 488.5l9.2-1.9 3.5-3 -9.2 1.9z"/>
<path class="c14_2" d="M255.8 631.7l9.2-1 3.5-4.8 -9.2 .9z"/>
<path class="c29_3" d="M509.3 546l9.3-2.5 3.5-3.8 -9.3 2.5z"/>
<path class="c15_2" d="M287 623.7l9.3-1.1 3.5-4.9 -9.3 1.2z"/>
<path class="c25_3" d="M456.1 566.7l9.2-2.4 3.5-4.2 -9.2 2.4z"/>
<path class="c34_3" d="M593.9 515.1l9.2-2.4 3.5-3.2 -9.3 2.3z"/>
<path class="c22_3" d="M402.8 586.9l9.3-2.2 3.5-4.5 -9.3 2.2z"/>
<path class="c17_2" d="M318.3 615.1l9.2-1.5 3.5-4.8 -9.2 1.5z"/>
<path class="c31_3" d="M540.6 534.6l9.3-2.6 3.4-3.6 -9.2 2.5z"/>
<path class="c36_3" d="M625.1 504.9l9.3-2.2 3.5-3.1 -9.3 2.1z"/>
<path class="c19_3" d="M349.6 605.7l9.2-1.7 3.5-4.8 -9.3 1.7z"/>
<path class="c27_3" d="M487.3 555.1l9.3-2.6 3.5-3.9 -9.3 2.5z"/>
<path class="c24_3" d="M434.1 575.8l9.2-2.4 3.5-4.3 -9.2 2.3z"/>
<path class="c38_3" d="M656.4 495.4l9.2-2 3.5-3 -9.2 1.9z"/>
<path class="c33_3" d="M571.9 523.4l9.2-2.5 3.5-3.4 -9.3 2.4z"/>
<path class="c14_2" d="M265 630.7l9.3-1 3.5-4.9 -9.3 1.1z"/>
<path class="c20_3" d="M380.8 595.5l9.3-2 3.5-4.6 -9.3 2z"/>
<path class="c39_3" d="M687.6 486.6l9.3-1.8 3.5-2.9 -9.3 1.7z"/>
<path class="c16_2" d="M296.3 622.6l9.2-1.3 3.5-4.9 -9.2 1.3z"/>
<path class="c30_3" d="M518.6 543.5l9.2-2.6 3.5-3.8 -9.2 2.6z"/>
<path class="c26_3" d="M465.3 564.3l9.3-2.6 3.5-4.1 -9.3 2.5z"/>
<path class="c35_3" d="M603.1 512.7l9.3-2.3 3.5-3.2 -9.3 2.3z"/>
<path class="c17_2" d="M327.5 613.6l9.3-1.5 3.5-4.8 -9.3 1.5z"/>
<path class="c22_3" d="M412.1 584.7l9.2-2.2 3.5-4.4 -9.2 2.1z"/>
<path class="c32_3" d="M549.9 532l9.2-2.6 3.5-3.5 -9.3 2.5z"/>
<path class="c37_3" d="M634.4 502.7l9.2-2.2 3.5-3 -9.2 2.1z"/>
<path class="c19_3" d="M358.8 604l9.3-1.9 3.5-4.7 -9.3 1.8z"/>
<path class="c28_3" d="M496.6 552.5l9.2-2.6 3.5-3.9 -9.2 2.6z"/>
<path class="c13_2" d="M243 637.4l9.3-.8 3.5-4.9 -9.3 .8z"/>
<path class="c24_3" d="M443.3 573.4l9.3-2.4 3.5-4.3 -9.3 2.4z"/>
<path class="c38_3" d="M665.6 493.4l9.3-2 3.5-2.9 -9.3 1.9z"/>
<path class="c15_2" d="M274.3 629.7l9.2-1.1 3.5-4.9 -9.2 1.1z"/>
<path class="c34_3" d="M581.1 520.9l9.3-2.4 3.5-3.4 -9.3 2.4z"/>
<path class="c21_3" d="M390.1 593.5l9.2-2.1 3.5-4.5 -9.2 2z"/>
<path class="c40_3" d="M696.9 484.8l9.2-1.8 3.5-2.8 -9.2 1.7z"/>
<path class="c16_2" d="M305.5 621.3l9.3-1.4 3.5-4.8 -9.3 1.3z"/>
<path class="c30_3" d="M527.8 540.9l9.3-2.7 3.5-3.6 -9.3 2.5z"/>
<path class="c27_3" d="M474.6 561.7l9.2-2.5 3.5-4.1 -9.2 2.5z"/>
<path class="c18_3" d="M336.8 612.1l9.3-1.6 3.5-4.8 -9.3 1.6z"/>
<path class="c36_3" d="M612.4 510.4l9.2-2.3 3.5-3.2 -9.2 2.3z"/>
<path class="c23_3" d="M421.3 582.5l9.3-2.3 3.5-4.4 -9.3 2.3z"/>
<path class="c37_3" d="M643.6 500.5l9.3-2.1 3.5-3 -9.3 2.1z"/>
<path class="c32_3" d="M559.1 529.4l9.3-2.5 3.5-3.5 -9.3 2.5z"/>
<path class="c20_3" d="M368.1 602.1l9.2-1.9 3.5-4.7 -9.2 1.9z"/>
<path class="c14_2" d="M252.3 636.6l9.2-1 3.5-4.9 -9.2 1z"/>
<path class="c29_3" d="M505.8 549.9l9.3-2.6 3.5-3.8 -9.3 2.5z"/>
<path class="c15_2" d="M283.5 628.6l9.3-1.1 3.5-4.9 -9.3 1.1z"/>
<path class="c39_3" d="M674.9 491.4l9.2-1.9 3.5-2.9 -9.2 1.9z"/>
<path class="c25_3" d="M452.6 571l9.2-2.5 3.5-4.2 -9.2 2.4z"/>
<path class="c40_3" d="M706.1 483l9.3-1.7 3.5-2.8 -9.3 1.7z"/>
<path class="c17_2" d="M314.8 619.9l9.3-1.4 3.4-4.9 -9.2 1.5z"/>
<path class="c34_3" d="M590.4 518.5l9.2-2.5 3.5-3.3 -9.2 2.4z"/>
<path class="c22_3" d="M399.3 591.4l9.3-2.1 3.5-4.6 -9.3 2.2z"/>
<path class="c31_3" d="M537.1 538.2l9.3-2.6 3.5-3.6 -9.3 2.6z"/>
<path class="c18_3" d="M346.1 610.5l9.2-1.8 3.5-4.7 -9.2 1.7z"/>
<path class="c36_3" d="M621.6 508.1l9.3-2.3 3.5-3.1 -9.3 2.2z"/>
<path class="c27_3" d="M483.8 559.2l9.3-2.7 3.5-4 -9.3 2.6z"/>
<path class="c24_3" d="M430.6 580.2l9.2-2.4 3.5-4.4 -9.2 2.4z"/>
<path class="c14_2" d="M261.5 635.6l9.3-1 3.5-4.9 -9.3 1z"/>
<path class="c38_3" d="M652.9 498.4l9.2-2.1 3.5-2.9 -9.2 2z"/>
<path class="c20_3" d="M377.3 600.2l9.3-2 3.5-4.7 -9.3 2z"/>
<path class="c33_3" d="M568.4 526.9l9.2-2.6 3.5-3.4 -9.2 2.5z"/>
<path class="c15_2" d="M292.8 627.5l9.3-1.3 3.4-4.9 -9.2 1.3z"/>
<path class="c39_3" d="M684.1 489.5l9.3-1.9 3.5-2.8 -9.3 1.8z"/>
<path class="c29_3" d="M515.1 547.3l9.3-2.7 3.4-3.7 -9.2 2.6z"/>
<path class="c26_3" d="M461.8 568.5l9.3-2.6 3.5-4.2 -9.3 2.6z"/>
<path class="c41_3" d="M715.4 481.3l9.3-1.6 3.4-2.8 -9.2 1.6z"/>
<path class="c17_2" d="M324.1 618.5l9.2-1.6 3.5-4.8 -9.3 1.5z"/>
<path class="c22_3" d="M408.6 589.3l9.2-2.3 3.5-4.5 -9.2 2.2z"/>
<path class="c35_3" d="M599.6 516l9.3-2.4 3.5-3.2 -9.3 2.3z"/>
<path class="c19_3" d="M355.3 608.7l9.3-1.8 3.5-4.8 -9.3 1.9z"/>
<path class="c32_3" d="M546.4 535.6l9.2-2.6 3.5-3.6 -9.2 2.6z"/>
<path class="c13_2" d="M239.5 642.3l9.3-.8 3.5-4.9 -9.3 .8z"/>
<path class="c37_3" d="M630.9 505.8l9.2-2.2 3.5-3.1 -9.2 2.2z"/>
<path class="c28_3" d="M493.1 556.5l9.3-2.7 3.4-3.9 -9.2 2.6z"/>
<path class="c14_2" d="M270.8 634.6l9.2-1 3.5-5 -9.2 1.1z"/>
<path class="c24_3" d="M439.8 577.8l9.3-2.5 3.5-4.3 -9.3 2.4z"/>
<path class="c38_3" d="M662.1 496.3l9.3-2 3.5-2.9 -9.3 2z"/>
<path class="c21_3" d="M386.6 598.2l9.2-2.1 3.5-4.7 -9.2 2.1z"/>
<path class="c16_2" d="M302.1 626.2l9.2-1.4 3.5-4.9 -9.3 1.4z"/>
<path class="c34_3" d="M577.6 524.3l9.3-2.5 3.5-3.3 -9.3 2.4z"/>
<path class="c40_3" d="M693.4 487.6l9.3-1.7 3.4-2.9 -9.2 1.8z"/>
<path class="c30_3" d="M524.4 544.6l9.2-2.7 3.5-3.7 -9.3 2.7z"/>
<path class="c41_3" d="M724.7 479.7l9.2-1.6 3.5-2.7 -9.3 1.5z"/>
<path class="c18_3" d="M333.3 616.9l9.3-1.6 3.5-4.8 -9.3 1.6z"/>
<path class="c27_3" d="M471.1 565.9l9.2-2.7 3.5-4 -9.2 2.5z"/>
<path class="c23_3" d="M417.8 587l9.3-2.4 3.5-4.4 -9.3 2.3z"/>
<path class="c36_3" d="M608.9 513.6l9.2-2.4 3.5-3.1 -9.2 2.3z"/>
<path class="c13_2" d="M248.8 641.5l9.2-.9 3.5-5 -9.2 1z"/>
<path class="c19_3" d="M364.6 606.9l9.2-2 3.5-4.7 -9.2 1.9z"/>
<path class="c32_3" d="M555.6 533l9.3-2.7 3.5-3.4 -9.3 2.5z"/>
<path class="c37_3" d="M640.1 503.6l9.3-2.2 3.5-3 -9.3 2.1z"/>
<path class="c15_2" d="M280 633.6l9.3-1.2 3.5-4.9 -9.3 1.1z"/>
<path class="c29_3" d="M502.4 553.8l9.2-2.7 3.5-3.8 -9.3 2.6z"/>
<path class="c25_3" d="M449.1 575.3l9.2-2.6 3.5-4.2 -9.2 2.5z"/>
<path class="c16_2" d="M311.3 624.8l9.3-1.4 3.5-4.9 -9.3 1.4z"/>
<path class="c39_3" d="M671.4 494.3l9.2-1.9 3.5-2.9 -9.2 1.9z"/>
<path class="c21_3" d="M395.8 596.1l9.3-2.3 3.5-4.5 -9.3 2.1z"/>
<path class="c34_3" d="M586.9 521.8l9.2-2.5 3.5-3.3 -9.2 2.5z"/>
<path class="c41_3" d="M702.7 485.9l9.2-1.8 3.5-2.8 -9.3 1.7z"/>
<path class="c42_3" d="M733.9 478.1l9.3-1.5 3.5-2.7 -9.3 1.5z"/>
<path class="c18_3" d="M342.6 615.3l9.2-1.8 3.5-4.8 -9.2 1.8z"/>
<path class="c31_3" d="M533.6 541.9l9.3-2.7 3.5-3.6 -9.3 2.6z"/>
<path class="c27_3" d="M480.3 563.2l9.3-2.7 3.5-4 -9.3 2.7z"/>
<path class="c24_3" d="M427.1 584.6l9.2-2.5 3.5-4.3 -9.2 2.4z"/>
<path class="c36_3" d="M618.1 511.2l9.3-2.3 3.5-3.1 -9.3 2.3z"/>
<path class="c14_2" d="M258 640.6l9.3-1 3.5-5 -9.3 1z"/>
<path class="c20_3" d="M373.8 604.9l9.3-2 3.5-4.7 -9.3 2z"/>
<path class="c15_2" d="M289.3 632.4l9.3-1.3 3.5-4.9 -9.3 1.3z"/>
<path class="c38_3" d="M649.4 501.4l9.2-2.1 3.5-3 -9.2 2.1z"/>
<path class="c33_3" d="M564.9 530.3l9.2-2.6 3.5-3.4 -9.2 2.6z"/>
<path class="c29_3" d="M511.6 551.1l9.3-2.7 3.5-3.8 -9.3 2.7z"/>
<path class="c17_2" d="M320.6 623.4l9.2-1.6 3.5-4.9 -9.2 1.6z"/>
<path class="c26_3" d="M458.3 572.7l9.3-2.7 3.5-4.1 -9.3 2.6z"/>
<path class="c40_3" d="M680.6 492.4l9.3-1.9 3.5-2.9 -9.3 1.9z"/>
<path class="c22_3" d="M405.1 593.8l9.2-2.3 3.5-4.5 -9.2 2.3z"/>
<path class="c41_3" d="M711.9 484.1l9.3-1.6 3.5-2.8 -9.3 1.6z"/>
<path class="c35_3" d="M596.1 519.3l9.3-2.5 3.5-3.2 -9.3 2.4z"/>
<path class="c42_3" d="M743.2 476.6l9.2-1.4 3.5-2.7 -9.2 1.4z"/>
<path class="c19_3" d="M351.8 613.5l9.3-1.9 3.5-4.7 -9.3 1.8z"/>
<path class="c13_2" d="M236 647.3l9.3-.8 3.5-5 -9.3 .8z"/>
<path class="c32_3" d="M542.9 539.2l9.2-2.7 3.5-3.5 -9.2 2.6z"/>
<path class="c14_2" d="M267.3 639.6l9.3-1.1 3.4-4.9 -9.2 1z"/>
<path class="c28_3" d="M489.6 560.5l9.3-2.7 3.5-4 -9.3 2.7z"/>
<path class="c37_3" d="M627.4 508.9l9.2-2.3 3.5-3 -9.2 2.2z"/>
<path class="c24_3" d="M436.3 582.1l9.3-2.5 3.5-4.3 -9.3 2.5z"/>
<path class="c21_3" d="M383.1 602.9l9.2-2.2 3.5-4.6 -9.2 2.1z"/>
<path class="c16_2" d="M298.6 631.1l9.2-1.4 3.5-4.9 -9.2 1.4z"/>
<path class="c39_3" d="M658.6 499.3l9.3-2.1 3.5-2.9 -9.3 2z"/>
<path class="c34_3" d="M574.1 527.7l9.3-2.6 3.5-3.3 -9.3 2.5z"/>
<path class="c17_2" d="M329.8 621.8l9.3-1.7 3.5-4.8 -9.3 1.6z"/>
<path class="c40_3" d="M689.9 490.5l9.3-1.8 3.5-2.8 -9.3 1.7z"/>
<path class="c30_3" d="M520.9 548.4l9.2-2.8 3.5-3.7 -9.2 2.7z"/>
<path class="c26_3" d="M467.6 570l9.3-2.7 3.4-4.1 -9.2 2.7z"/>
<path class="c23_3" d="M414.3 591.5l9.3-2.4 3.5-4.5 -9.3 2.4z"/>
<path class="c42_3" d="M721.2 482.5l9.2-1.6 3.5-2.8 -9.2 1.6z"/>
<path class="c43_3" d="M752.4 475.2l9.3-1.4 3.5-2.7 -9.3 1.4z"/>
<path class="c36_3" d="M605.4 516.8l9.2-2.4 3.5-3.2 -9.2 2.4z"/>
<path class="c13_2" d="M245.3 646.5l9.3-.9 3.4-5 -9.2 .9z"/>
<path class="c19_3" d="M361.1 611.6l9.2-1.9 3.5-4.8 -9.2 2z"/>
<path class="c14_2" d="M276.6 638.5l9.2-1.2 3.5-4.9 -9.3 1.2z"/>
<path class="c32_3" d="M552.1 536.5l9.3-2.7 3.5-3.5 -9.3 2.7z"/>
<path class="c38_3" d="M636.6 506.6l9.3-2.2 3.5-3 -9.3 2.2z"/>
<path class="c29_3" d="M498.9 557.8l9.2-2.8 3.5-3.9 -9.2 2.7z"/>
<path class="c25_3" d="M445.6 579.6l9.3-2.7 3.4-4.2 -9.2 2.6z"/>
<path class="c16_2" d="M307.8 629.7l9.3-1.4 3.5-4.9 -9.3 1.4z"/>
<path class="c21_3" d="M392.3 600.7l9.3-2.3 3.5-4.6 -9.3 2.3z"/>
<path class="c39_4" d="M667.9 497.2l9.3-2 3.4-2.8 -9.2 1.9z"/>
<path class="c34_3" d="M583.4 525.1l9.2-2.6 3.5-3.2 -9.2 2.5z"/>
<path class="c18_3" d="M339.1 620.1l9.2-1.8 3.5-4.8 -9.2 1.8z"/>
<path class="c41_3" d="M699.2 488.7l9.2-1.8 3.5-2.8 -9.2 1.8z"/>
<path class="c31_3" d="M530.1 545.6l9.3-2.8 3.5-3.6 -9.3 2.7z"/>
<path class="c42_3" d="M730.4 480.9l9.3-1.5 3.5-2.8 -9.3 1.5z"/>
<path class="c43_3" d="M761.7 473.8l9.2-1.3 3.5-2.7 -9.2 1.3z"/>
<path class="c27_3" d="M476.9 567.3l9.2-2.8 3.5-4 -9.3 2.7z"/>
<path class="c23_3" d="M423.6 589.1l9.2-2.6 3.5-4.4 -9.2 2.5z"/>
<path class="c13_2" d="M254.6 645.6l9.2-1 3.5-5 -9.3 1z"/>
<path class="c36_3" d="M614.6 514.4l9.3-2.4 3.5-3.1 -9.3 2.3z"/>
<path class="c20_3" d="M370.3 609.7l9.3-2.1 3.5-4.7 -9.3 2z"/>
<path class="c15_2" d="M285.8 637.3l9.3-1.2 3.5-5 -9.3 1.3z"/>
<path class="c33_3" d="M561.4 533.8l9.2-2.7 3.5-3.4 -9.2 2.6z"/>
<path class="c38_4" d="M645.9 504.4l9.3-2.2 3.4-2.9 -9.2 2.1z"/>
<path class="c17_2" d="M317.1 628.3l9.2-1.6 3.5-4.9 -9.2 1.6z"/>
<path class="c29_3" d="M508.1 555l9.3-2.9 3.5-3.7 -9.3 2.7z"/>
<path class="c26_3" d="M454.9 576.9l9.2-2.7 3.5-4.2 -9.3 2.7z"/>
<path class="c22_3" d="M401.6 598.4l9.2-2.4 3.5-4.5 -9.2 2.3z"/>
<path class="c40_4" d="M677.2 495.2l9.2-1.9 3.5-2.8 -9.3 1.9z"/>
<path class="c18_3" d="M348.3 618.3l9.3-1.9 3.5-4.8 -9.3 1.9z"/>
<path class="c41_4" d="M708.4 486.9l9.3-1.7 3.5-2.7 -9.3 1.6z"/>
<path class="c12_2" d="M232.5 652.3l9.3-.8 3.5-5 -9.3 .8z"/>
<path class="c35_3" d="M592.6 522.5l9.3-2.5 3.5-3.2 -9.3 2.5z"/>
<path class="c43_3" d="M739.7 479.4l9.2-1.5 3.5-2.7 -9.2 1.4z"/>
<path class="c44_3" d="M770.9 472.5l9.3-1.2 3.5-2.7 -9.3 1.2z"/>
<path class="c14_2" d="M263.8 644.6l9.3-1.1 3.5-5 -9.3 1.1z"/>
<path class="c32_3" d="M539.4 542.8l9.2-2.8 3.5-3.5 -9.2 2.7z"/>
<path class="c28_3" d="M486.1 564.5l9.3-2.8 3.5-3.9 -9.3 2.7z"/>
<path class="c24_3" d="M432.8 586.5l9.3-2.6 3.5-4.3 -9.3 2.5z"/>
<path class="c15_2" d="M295.1 636.1l9.2-1.4 3.5-5 -9.2 1.4z"/>
<path class="c20_3" d="M379.6 607.6l9.2-2.2 3.5-4.7 -9.2 2.2z"/>
<path class="c37_4" d="M623.9 512l9.2-2.4 3.5-3 -9.2 2.3z"/>
<path class="c17_2" d="M326.3 626.7l9.3-1.7 3.5-4.9 -9.3 1.7z"/>
<path class="c39_4" d="M655.2 502.2l9.2-2.1 3.5-2.9 -9.3 2.1z"/>
<path class="c34_3" d="M570.6 531.1l9.3-2.7 3.5-3.3 -9.3 2.6z"/>
<path class="c30_3" d="M517.4 552.1l9.2-2.8 3.5-3.7 -9.2 2.8z"/>
<path class="c26_3" d="M464.1 574.2l9.3-2.8 3.5-4.1 -9.3 2.7z"/>
<path class="c23_3" d="M410.8 596l9.3-2.4 3.5-4.5 -9.3 2.4z"/>
<path class="c40_4" d="M686.4 493.3l9.3-1.8 3.5-2.8 -9.3 1.8z"/>
<path class="c13_2" d="M241.8 651.5l9.3-.9 3.5-5 -9.3 .9z"/>
<path class="c19_3" d="M357.6 616.4l9.2-2 3.5-4.7 -9.2 1.9z"/>
<path class="c42_3" d="M717.7 485.2l9.2-1.6 3.5-2.7 -9.2 1.6z"/>
<path class="c43_3" d="M748.9 477.9l9.3-1.4 3.5-2.7 -9.3 1.4z"/>
<path class="c44_3" d="M780.2 471.3l9.2-1.2 3.5-2.7 -9.2 1.2z"/>
<path class="c14_2" d="M273.1 643.5l9.2-1.2 3.5-5 -9.2 1.2z"/>
<path class="c36_3" d="M601.9 520l9.2-2.5 3.5-3.1 -9.2 2.4z"/>
<path class="c32_3" d="M548.6 540l9.3-2.8 3.5-3.4 -9.3 2.7z"/>
<path class="c16_2" d="M304.3 634.7l9.3-1.5 3.5-4.9 -9.3 1.4z"/>
<path class="c25_3" d="M442.1 583.9l9.3-2.7 3.5-4.3 -9.3 2.7z"/>
<path class="c29_3" d="M495.4 561.7l9.2-2.9 3.5-3.8 -9.2 2.8z"/>
<path class="c21_3" d="M388.8 605.4l9.3-2.3 3.5-4.7 -9.3 2.3z"/>
<path class="c38_4" d="M633.1 509.6l9.3-2.2 3.5-3 -9.3 2.2z"/>
<path class="c18_3" d="M335.6 625l9.2-1.8 3.5-4.9 -9.2 1.8z"/>
<path class="c39_4" d="M664.4 500.1l9.3-2 3.5-2.9 -9.3 2z"/>
<path class="c34_3" d="M579.9 528.4l9.2-2.7 3.5-3.2 -9.2 2.6z"/>
<path class="c13_2" d="M251.1 650.6l9.2-1 3.5-5 -9.2 1z"/>
<path class="c41_4" d="M695.7 491.5l9.2-1.8 3.5-2.8 -9.2 1.8z"/>
<path class="c31_3" d="M526.6 549.3l9.3-2.9 3.5-3.6 -9.3 2.8z"/>
<path class="c23_3" d="M420.1 593.6l9.3-2.6 3.4-4.5 -9.2 2.6z"/>
<path class="c27_3" d="M473.4 571.4l9.2-2.8 3.5-4.1 -9.2 2.8z"/>
<path class="c42_3" d="M726.9 483.6l9.3-1.5 3.5-2.7 -9.3 1.5z"/>
<path class="c20_3" d="M366.8 614.4l9.3-2.1 3.5-4.7 -9.3 2.1z"/>
<path class="c45_3" d="M789.4 470.1l9.3-1.1 3.5-2.7 -9.3 1.1z"/>
<path class="c43_3" d="M758.2 476.5l9.2-1.3 3.5-2.7 -9.2 1.3z"/>
<path class="c15_2" d="M282.3 642.3l9.3-1.2 3.5-5 -9.3 1.2z"/>
<path class="c36_4" d="M611.1 517.5l9.3-2.5 3.5-3 -9.3 2.4z"/>
<path class="c16_2" d="M313.6 633.2l9.2-1.6 3.5-4.9 -9.2 1.6z"/>
<path class="c33_3" d="M557.9 537.2l9.2-2.8 3.5-3.3 -9.2 2.7z"/>
<path class="c25_3" d="M451.4 581.2l9.2-2.8 3.5-4.2 -9.2 2.7z"/>
<path class="c29_3" d="M504.6 558.8l9.3-2.9 3.5-3.8 -9.3 2.9z"/>
<path class="c22_3" d="M398.1 603.1l9.3-2.5 3.4-4.6 -9.2 2.4z"/>
<path class="c38_4" d="M642.4 507.4l9.3-2.3 3.5-2.9 -9.3 2.2z"/>
<path class="c18_3" d="M344.8 623.2l9.3-1.9 3.5-4.9 -9.3 1.9z"/>
<path class="c12_2" d="M229.1 657.3l9.2-.8 3.5-5 -9.3 .8z"/>
<path class="c40_4" d="M673.7 498.1l9.2-2 3.5-2.8 -9.2 1.9z"/>
<path class="c13_2" d="M260.3 649.6l9.3-1.1 3.5-5 -9.3 1.1z"/>
<path class="c35_3" d="M589.1 525.7l9.3-2.6 3.5-3.1 -9.3 2.5z"/>
<path class="c41_4" d="M704.9 489.7l9.3-1.7 3.5-2.8 -9.3 1.7z"/>
<path class="c45_3" d="M798.7 469l9.3-1.1 3.4-2.6 -9.2 1z"/>
<path class="c43_3" d="M736.2 482.1l9.2-1.5 3.5-2.7 -9.2 1.5z"/>
<path class="c24_3" d="M429.4 591l9.2-2.7 3.5-4.4 -9.3 2.6z"/>
<path class="c44_3" d="M767.4 475.2l9.3-1.3 3.5-2.6 -9.3 1.2z"/>
<path class="c15_2" d="M291.6 641.1l9.2-1.4 3.5-5 -9.2 1.4z"/>
<path class="c32_3" d="M535.9 546.4l9.2-2.9 3.5-3.5 -9.2 2.8z"/>
<path class="c28_3" d="M482.6 568.6l9.3-2.9 3.5-4 -9.3 2.8z"/>
<path class="c20_3" d="M376.1 612.3l9.2-2.2 3.5-4.7 -9.2 2.2z"/>
<path class="c37_4" d="M620.4 515l9.3-2.4 3.4-3 -9.2 2.4z"/>
<path class="c17_2" d="M322.8 631.6l9.3-1.7 3.5-4.9 -9.3 1.7z"/>
<path class="c34_3" d="M567.1 534.4l9.3-2.7 3.5-3.3 -9.3 2.7z"/>
<path class="c39_4" d="M651.7 505.1l9.2-2.1 3.5-2.9 -9.2 2.1z"/>
<path class="c22_3" d="M407.4 600.6l9.2-2.5 3.5-4.5 -9.3 2.4z"/>
<path class="c26_3" d="M460.6 578.4l9.3-2.8 3.5-4.2 -9.3 2.8z"/>
<path class="c30_3" d="M513.9 555.9l9.2-2.9 3.5-3.7 -9.2 2.8z"/>
<path class="c12_2" d="M238.3 656.5l9.3-.9 3.5-5 -9.3 .9z"/>
<path class="c19_3" d="M354.1 621.3l9.2-2 3.5-4.9 -9.2 2z"/>
<path class="c40_4" d="M682.9 496.1l9.3-1.9 3.5-2.7 -9.3 1.8z"/>
<path class="c14_2" d="M269.6 648.5l9.2-1.1 3.5-5.1 -9.2 1.2z"/>
<path class="c42_4" d="M714.2 488l9.2-1.7 3.5-2.7 -9.2 1.6z"/>
<path class="c45_3" d="M808 467.9l9.2-1 3.5-2.6 -9.3 1z"/>
<path class="c36_4" d="M598.4 523.1l9.3-2.5 3.4-3.1 -9.2 2.5z"/>
<path class="c43_3" d="M745.4 480.6l9.3-1.4 3.5-2.7 -9.3 1.4z"/>
<path class="c44_3" d="M776.7 473.9l9.3-1.2 3.4-2.6 -9.2 1.2z"/>
<path class="c16_2" d="M300.8 639.7l9.3-1.5 3.5-5 -9.3 1.5z"/>
<path class="c25_3" d="M438.6 588.3l9.3-2.8 3.5-4.3 -9.3 2.7z"/>
<path class="c21_3" d="M385.3 610.1l9.3-2.4 3.5-4.6 -9.3 2.3z"/>
<path class="c32_3" d="M545.1 543.5l9.3-2.8 3.5-3.5 -9.3 2.8z"/>
<path class="c29_3" d="M491.9 565.7l9.2-3 3.5-3.9 -9.2 2.9z"/>
<path class="c38_4" d="M629.7 512.6l9.2-2.3 3.5-2.9 -9.3 2.2z"/>
<path class="c17_2" d="M332.1 629.9l9.2-1.8 3.5-4.9 -9.2 1.8z"/>
<path class="c13_2" d="M247.6 655.6l9.2-1 3.5-5 -9.2 1z"/>
<path class="c39_4" d="M660.9 503l9.3-2.1 3.5-2.8 -9.3 2z"/>
<path class="c35_3" d="M576.4 531.7l9.2-2.7 3.5-3.3 -9.2 2.7z"/>
<path class="c23_3" d="M416.6 598.1l9.3-2.6 3.5-4.5 -9.3 2.6z"/>
<path class="c27_3" d="M469.9 575.6l9.2-3 3.5-4 -9.2 2.8z"/>
<path class="c31_3" d="M523.1 553l9.3-3 3.5-3.6 -9.3 2.9z"/>
<path class="c19_3" d="M363.3 619.3l9.3-2.2 3.5-4.8 -9.3 2.1z"/>
<path class="c14_2" d="M278.8 647.4l9.3-1.3 3.5-5 -9.3 1.2z"/>
<path class="c41_4" d="M692.2 494.2l9.2-1.8 3.5-2.7 -9.2 1.8z"/>
<path class="c46_3" d="M817.2 466.9l9.3-.9 3.5-2.7 -9.3 1z"/>
<path class="c42_4" d="M723.4 486.3l9.3-1.6 3.5-2.6 -9.3 1.5z"/>
<path class="c45_3" d="M786 472.7l9.2-1.1 3.5-2.6 -9.3 1.1z"/>
<path class="c44_3" d="M754.7 479.2l9.2-1.4 3.5-2.6 -9.2 1.3z"/>
<path class="c16_2" d="M310.1 638.2l9.2-1.6 3.5-5 -9.2 1.6z"/>
<path class="c37_4" d="M607.7 520.6l9.2-2.5 3.5-3.1 -9.3 2.5z"/>
<path class="c21_3" d="M394.6 607.7l9.3-2.4 3.5-4.7 -9.3 2.5z"/>
<path class="c25_3" d="M447.9 585.5l9.2-2.8 3.5-4.3 -9.2 2.8z"/>
<path class="c33_3" d="M554.4 540.7l9.2-2.9 3.5-3.4 -9.2 2.8z"/>
<path class="c29_3" d="M501.1 562.7l9.3-3 3.5-3.8 -9.3 2.9z"/>
<path class="c18_3" d="M341.3 628.1l9.3-1.9 3.5-4.9 -9.3 1.9z"/>
<path class="c38_4" d="M638.9 510.3l9.3-2.3 3.5-2.9 -9.3 2.3z"/>
<path class="c12_2" d="M225.6 662.3l9.2-.8 3.5-5 -9.2 .8z"/>
<path class="c13_2" d="M256.8 654.6l9.3-1 3.5-5.1 -9.3 1.1z"/>
<path class="c40_4" d="M670.2 500.9l9.2-2 3.5-2.8 -9.2 2z"/>
<path class="c15_2" d="M288.1 646.1l9.2-1.4 3.5-5 -9.2 1.4z"/>
<path class="c35_4" d="M585.6 529l9.3-2.7 3.5-3.2 -9.3 2.6z"/>
<path class="c24_3" d="M425.9 595.5l9.2-2.8 3.5-4.4 -9.2 2.7z"/>
<path class="c20_3" d="M372.6 617.1l9.3-2.3 3.4-4.7 -9.2 2.2z"/>
<path class="c46_3" d="M826.5 466l9.2-.9 3.5-2.6 -9.2 .8z"/>
<path class="c42_4" d="M701.4 492.4l9.3-1.7 3.5-2.7 -9.3 1.7z"/>
<path class="c28_3" d="M479.1 572.6l9.3-3 3.5-3.9 -9.3 2.9z"/>
<path class="c32_3" d="M532.4 550l9.2-2.9 3.5-3.6 -9.2 2.9z"/>
<path class="c45_3" d="M795.2 471.6l9.3-1.1 3.5-2.6 -9.3 1.1z"/>
<path class="c43_4" d="M732.7 484.7l9.2-1.5 3.5-2.6 -9.2 1.5z"/>
<path class="c44_3" d="M763.9 477.8l9.3-1.3 3.5-2.6 -9.3 1.3z"/>
<path class="c17_2" d="M319.3 636.6l9.3-1.7 3.5-5 -9.3 1.7z"/>
<path class="c37_4" d="M616.9 518.1l9.3-2.5 3.5-3 -9.3 2.4z"/>
<path class="c22_3" d="M403.9 605.3l9.2-2.6 3.5-4.6 -9.2 2.5z"/>
<path class="c12_2" d="M234.8 661.5l9.3-.8 3.5-5.1 -9.3 .9z"/>
<path class="c26_3" d="M457.1 582.7l9.3-3 3.5-4.1 -9.3 2.8z"/>
<path class="c34_3" d="M563.6 537.8l9.3-2.8 3.5-3.3 -9.3 2.7z"/>
<path class="c18_3" d="M350.6 626.2l9.3-2.1 3.4-4.8 -9.2 2z"/>
<path class="c30_3" d="M510.4 559.7l9.2-3 3.5-3.7 -9.2 2.9z"/>
<path class="c39_4" d="M648.2 508l9.2-2.2 3.5-2.8 -9.2 2.1z"/>
<path class="c14_2" d="M266.1 653.6l9.2-1.2 3.5-5 -9.2 1.1z"/>
<path class="c41_4" d="M679.4 498.9l9.3-1.9 3.5-2.8 -9.3 1.9z"/>
<path class="c15_2" d="M297.3 644.7l9.3-1.5 3.5-5 -9.3 1.5z"/>
<path class="c46_3" d="M835.7 465.1l9.3-.9 3.5-2.6 -9.3 .9z"/>
<path class="c42_4" d="M710.7 490.7l9.2-1.7 3.5-2.7 -9.2 1.7z"/>
<path class="c36_4" d="M594.9 526.3l9.3-2.7 3.5-3 -9.3 2.5z"/>
<path class="c46_3" d="M804.5 470.5l9.2-1 3.5-2.6 -9.2 1z"/>
<path class="c21_3" d="M381.9 614.8l9.2-2.4 3.5-4.7 -9.3 2.4z"/>
<path class="c24_3" d="M435.1 592.7l9.3-2.8 3.5-4.4 -9.3 2.8z"/>
<path class="c43_4" d="M741.9 483.2l9.3-1.4 3.5-2.6 -9.3 1.4z"/>
<path class="c44_3" d="M773.2 476.5l9.3-1.2 3.5-2.6 -9.3 1.2z"/>
<path class="c28_3" d="M488.4 569.6l9.2-3 3.5-3.9 -9.2 3z"/>
<path class="c32_3" d="M541.6 547.1l9.3-3 3.5-3.4 -9.3 2.8z"/>
<path class="c17_2" d="M328.6 634.9l9.2-1.8 3.5-5 -9.2 1.8z"/>
<path class="c38_4" d="M626.2 515.6l9.2-2.4 3.5-2.9 -9.2 2.3z"/>
<path class="c13_2" d="M244.1 660.7l9.2-1 3.5-5.1 -9.2 1z"/>
<path class="c23_3" d="M413.1 602.7l9.3-2.7 3.5-4.5 -9.3 2.6z"/>
<path class="c14_2" d="M275.3 652.4l9.3-1.2 3.5-5.1 -9.3 1.3z"/>
<path class="c19_3" d="M359.9 624.1l9.2-2.1 3.5-4.9 -9.3 2.2z"/>
<path class="c27_3" d="M466.4 579.7l9.2-3 3.5-4.1 -9.2 3z"/>
<path class="c35_4" d="M572.9 535l9.3-2.8 3.4-3.2 -9.2 2.7z"/>
<path class="c40_4" d="M657.4 505.8l9.3-2.1 3.5-2.8 -9.3 2.1z"/>
<path class="c31_3" d="M519.6 556.7l9.3-3.1 3.5-3.6 -9.3 3z"/>
<path class="c47_3" d="M845 464.2l9.2-.7 3.5-2.6 -9.2 .7z"/>
<path class="c41_4" d="M688.7 497l9.2-1.9 3.5-2.7 -9.2 1.8z"/>
<path class="c16_2" d="M306.6 643.2l9.2-1.5 3.5-5.1 -9.2 1.6z"/>
<path class="c46_3" d="M813.7 469.5l9.3-.9 3.5-2.6 -9.3 .9z"/>
<path class="c43_4" d="M719.9 489l9.3-1.6 3.5-2.7 -9.3 1.6z"/>
<path class="c45_3" d="M782.5 475.3l9.2-1.1 3.5-2.6 -9.2 1.1z"/>
<path class="c44_4" d="M751.2 481.8l9.3-1.4 3.4-2.6 -9.2 1.4z"/>
<path class="c37_4" d="M604.2 523.6l9.2-2.5 3.5-3 -9.2 2.5z"/>
<path class="c21_3" d="M391.1 612.4l9.3-2.5 3.5-4.6 -9.3 2.4z"/>
<path class="c25_3" d="M444.4 589.9l9.2-3 3.5-4.2 -9.2 2.8z"/>
<path class="c18_3" d="M337.8 633.1l9.3-2 3.5-4.9 -9.3 1.9z"/>
<path class="c12_2" d="M222.1 667.4l9.2-.8 3.5-5.1 -9.2 .8z"/>
<path class="c29_3" d="M497.6 566.6l9.3-3.1 3.5-3.8 -9.3 3z"/>
<path class="c33_3" d="M550.9 544.1l9.3-2.9 3.4-3.4 -9.2 2.9z"/>
<path class="c13_2" d="M253.3 659.7l9.3-1 3.5-5.1 -9.3 1z"/>
<path class="c39_4" d="M635.4 513.2l9.3-2.3 3.5-2.9 -9.3 2.3z"/>
<path class="c14_2" d="M284.6 651.2l9.2-1.4 3.5-5.1 -9.2 1.4z"/>
<path class="c20_3" d="M369.1 622l9.3-2.4 3.5-4.8 -9.3 2.3z"/>
<path class="c24_3" d="M422.4 600l9.2-2.8 3.5-4.5 -9.2 2.8z"/>
<path class="c40_4" d="M666.7 503.7l9.2-2.1 3.5-2.7 -9.2 2z"/>
<path class="c47_3" d="M854.2 463.5l9.3-.7 3.5-2.7 -9.3 .8z"/>
<path class="c35_4" d="M582.2 532.2l9.2-2.8 3.5-3.1 -9.3 2.7z"/>
<path class="c28_3" d="M475.6 576.7l9.3-3.1 3.5-4 -9.3 3z"/>
<path class="c32_3" d="M528.9 553.6l9.3-3 3.4-3.5 -9.2 2.9z"/>
<path class="c16_2" d="M315.8 641.7l9.3-1.8 3.5-5 -9.3 1.7z"/>
<path class="c42_4" d="M697.9 495.1l9.3-1.8 3.5-2.6 -9.3 1.7z"/>
<path class="c46_3" d="M823 468.6l9.2-.9 3.5-2.6 -9.2 .9z"/>
<path class="c45_3" d="M791.7 474.2l9.3-1.1 3.5-2.6 -9.3 1.1z"/>
<path class="c43_4" d="M729.2 487.4l9.3-1.6 3.4-2.6 -9.2 1.5z"/>
<path class="c44_3" d="M760.5 480.4l9.2-1.3 3.5-2.6 -9.3 1.3z"/>
<path class="c12_2" d="M231.3 666.6l9.3-.8 3.5-5.1 -9.3 .8z"/>
<path class="c37_4" d="M613.4 521.1l9.3-2.6 3.5-2.9 -9.3 2.5z"/>
<path class="c22_3" d="M400.4 609.9l9.2-2.6 3.5-4.6 -9.2 2.6z"/>
<path class="c18_3" d="M347.1 631.1l9.3-2 3.5-5 -9.3 2.1z"/>
<path class="c26_3" d="M453.6 586.9l9.3-3 3.5-4.2 -9.3 3z"/>
<path class="c13_2" d="M262.6 658.7l9.2-1.2 3.5-5.1 -9.2 1.2z"/>
<path class="c34_4" d="M560.2 541.2l9.2-3 3.5-3.2 -9.3 2.8z"/>
<path class="c30_3" d="M506.9 563.5l9.2-3.1 3.5-3.7 -9.2 3z"/>
<path class="c39_4" d="M644.7 510.9l9.2-2.3 3.5-2.8 -9.2 2.2z"/>
<path class="c15_2" d="M293.8 649.8l9.3-1.5 3.5-5.1 -9.3 1.5z"/>
<path class="c47_3" d="M863.5 462.8l9.2-.7 3.5-2.6 -9.2 .6z"/>
<path class="c20_3" d="M378.4 619.6l9.2-2.4 3.5-4.8 -9.2 2.4z"/>
<path class="c41_4" d="M675.9 501.6l9.3-1.9 3.5-2.7 -9.3 1.9z"/>
<path class="c24_3" d="M431.6 597.2l9.3-3 3.5-4.3 -9.3 2.8z"/>
<path class="c47_3" d="M832.2 467.7l9.3-.9 3.5-2.6 -9.3 .9z"/>
<path class="c36_4" d="M591.4 529.4l9.3-2.7 3.5-3.1 -9.3 2.7z"/>
<path class="c17_2" d="M325.1 639.9l9.3-1.8 3.4-5 -9.2 1.8z"/>
<path class="c42_4" d="M707.2 493.3l9.2-1.7 3.5-2.6 -9.2 1.7z"/>
<path class="c28_3" d="M484.9 573.6l9.2-3.1 3.5-3.9 -9.2 3z"/>
<path class="c46_3" d="M801 473.1l9.2-1 3.5-2.6 -9.2 1z"/>
<path class="c44_4" d="M738.5 485.8l9.2-1.4 3.5-2.6 -9.3 1.4z"/>
<path class="c32_3" d="M538.2 550.6l9.2-3.1 3.5-3.4 -9.3 3z"/>
<path class="c45_3" d="M769.7 479.1l9.3-1.2 3.5-2.6 -9.3 1.2z"/>
<path class="c12_2" d="M240.6 665.8l9.2-1 3.5-5.1 -9.2 1z"/>
<path class="c38_4" d="M622.7 518.5l9.2-2.4 3.5-2.9 -9.2 2.4z"/>
<path class="c14_2" d="M271.8 657.5l9.3-1.2 3.5-5.1 -9.3 1.2z"/>
<path class="c23_3" d="M409.6 607.3l9.3-2.8 3.5-4.5 -9.3 2.7z"/>
<path class="c19_3" d="M356.4 629.1l9.2-2.3 3.5-4.8 -9.2 2.1z"/>
<path class="c27_3" d="M462.9 583.9l9.2-3.1 3.5-4.1 -9.2 3z"/>
<path class="c35_4" d="M569.4 538.2l9.3-2.8 3.5-3.2 -9.3 2.8z"/>
<path class="c31_3" d="M516.1 560.4l9.3-3.2 3.5-3.6 -9.3 3.1z"/>
<path class="c15_2" d="M303.1 648.3l9.3-1.6 3.4-5 -9.2 1.5z"/>
<path class="c40_4" d="M653.9 508.6l9.3-2.1 3.5-2.8 -9.3 2.1z"/>
<path class="c48_3" d="M872.7 462.1l9.3-.6 3.5-2.6 -9.3 .6z"/>
<path class="c47_3" d="M841.5 466.8l9.2-.7 3.5-2.6 -9.2 .7z"/>
<path class="c41_4" d="M685.2 499.7l9.2-1.9 3.5-2.7 -9.2 1.9z"/>
<path class="c21_3" d="M387.6 617.2l9.3-2.6 3.5-4.7 -9.3 2.5z"/>
<path class="c46_3" d="M810.2 472.1l9.3-1 3.5-2.5 -9.3 .9z"/>
<path class="c43_4" d="M716.4 491.6l9.3-1.6 3.5-2.6 -9.3 1.6z"/>
<path class="c25_3" d="M440.9 594.2l9.2-3 3.5-4.3 -9.2 3z"/>
<path class="c17_3" d="M334.4 638.1l9.2-2 3.5-5 -9.3 2z"/>
<path class="c11_2" d="M218.6 672.5l9.2-.8 3.5-5.1 -9.2 .8z"/>
<path class="c45_3" d="M779 477.9l9.2-1.1 3.5-2.6 -9.2 1.1z"/>
<path class="c44_4" d="M747.7 484.4l9.3-1.4 3.5-2.6 -9.3 1.4z"/>
<path class="c37_4" d="M600.7 526.7l9.2-2.6 3.5-3 -9.2 2.5z"/>
<path class="c13_2" d="M249.8 664.8l9.3-1 3.5-5.1 -9.3 1z"/>
<path class="c29_3" d="M494.1 570.5l9.3-3.2 3.5-3.8 -9.3 3.1z"/>
<path class="c33_3" d="M547.4 547.5l9.3-3 3.5-3.3 -9.3 2.9z"/>
<path class="c14_2" d="M281.1 656.3l9.3-1.4 3.4-5.1 -9.2 1.4z"/>
<path class="c39_4" d="M631.9 516.1l9.3-2.4 3.5-2.8 -9.3 2.3z"/>
<path class="c19_3" d="M365.6 626.8l9.3-2.3 3.5-4.9 -9.3 2.4z"/>
<path class="c23_3" d="M418.9 604.5l9.2-2.9 3.5-4.4 -9.2 2.8z"/>
<path class="c48_3" d="M882 461.5l9.3-.6 3.4-2.6 -9.2 .6z"/>
<path class="c16_2" d="M312.4 646.7l9.2-1.7 3.5-5.1 -9.3 1.8z"/>
<path class="c28_3" d="M472.1 580.8l9.3-3.2 3.5-4 -9.3 3.1z"/>
<path class="c40_4" d="M663.2 506.5l9.2-2.1 3.5-2.8 -9.2 2.1z"/>
<path class="c35_4" d="M578.7 535.4l9.2-2.9 3.5-3.1 -9.2 2.8z"/>
<path class="c47_3" d="M850.7 466.1l9.3-.8 3.5-2.5 -9.3 .7z"/>
<path class="c32_3" d="M525.4 557.2l9.3-3.1 3.5-3.5 -9.3 3z"/>
<path class="c42_4" d="M694.4 497.8l9.3-1.8 3.5-2.7 -9.3 1.8z"/>
<path class="c46_3" d="M819.5 471.1l9.2-.9 3.5-2.5 -9.2 .9z"/>
<path class="c12_2" d="M227.8 671.7l9.3-.8 3.5-5.1 -9.3 .8z"/>
<path class="c46_3" d="M788.2 476.8l9.3-1.1 3.5-2.6 -9.3 1.1z"/>
<path class="c43_4" d="M725.7 490l9.3-1.6 3.5-2.6 -9.3 1.6z"/>
<path class="c22_3" d="M396.9 614.6l9.2-2.7 3.5-4.6 -9.2 2.6z"/>
<path class="c44_4" d="M757 483l9.2-1.3 3.5-2.6 -9.2 1.3z"/>
<path class="c18_3" d="M343.6 636.1l9.3-2.1 3.5-4.9 -9.3 2z"/>
<path class="c13_2" d="M259.1 663.8l9.2-1.1 3.5-5.2 -9.2 1.2z"/>
<path class="c26_3" d="M450.1 591.2l9.3-3.1 3.5-4.2 -9.3 3z"/>
<path class="c37_4" d="M609.9 524.1l9.3-2.6 3.5-3 -9.3 2.6z"/>
<path class="c30_3" d="M503.4 567.3l9.3-3.2 3.4-3.7 -9.2 3.1z"/>
<path class="c15_2" d="M290.4 654.9l9.2-1.5 3.5-5.1 -9.3 1.5z"/>
<path class="c34_4" d="M556.7 544.5l9.2-3 3.5-3.3 -9.2 3z"/>
<path class="c48_3" d="M891.3 460.9l9.2-.5 3.5-2.6 -9.3 .5z"/>
<path class="c39_4" d="M641.2 513.7l9.2-2.3 3.5-2.8 -9.2 2.3z"/>
<path class="c20_3" d="M374.9 624.5l9.2-2.5 3.5-4.8 -9.2 2.4z"/>
<path class="c24_3" d="M428.1 601.6l9.3-3 3.5-4.4 -9.3 3z"/>
<path class="c16_2" d="M321.6 645l9.3-1.9 3.5-5 -9.3 1.8z"/>
<path class="c48_3" d="M860 465.3l9.2-.6 3.5-2.6 -9.2 .7z"/>
<path class="c41_4" d="M672.4 504.4l9.3-2 3.5-2.7 -9.3 1.9z"/>
<path class="c28_3" d="M481.4 577.6l9.3-3.2 3.4-3.9 -9.2 3.1z"/>
<path class="c36_4" d="M587.9 532.5l9.3-2.8 3.5-3 -9.3 2.7z"/>
<path class="c47_3" d="M828.7 470.2l9.3-.8 3.5-2.6 -9.3 .9z"/>
<path class="c12_2" d="M237.1 670.9l9.2-.9 3.5-5.2 -9.2 1z"/>
<path class="c42_4" d="M703.7 496l9.3-1.8 3.4-2.6 -9.2 1.7z"/>
<path class="c32_3" d="M534.7 554.1l9.2-3.1 3.5-3.5 -9.2 3.1z"/>
<path class="c46_3" d="M797.5 475.7l9.2-1 3.5-2.6 -9.2 1z"/>
<path class="c44_4" d="M735 488.4l9.2-1.4 3.5-2.6 -9.2 1.4z"/>
<path class="c45_3" d="M766.2 481.7l9.3-1.2 3.5-2.6 -9.3 1.2z"/>
<path class="c13_2" d="M268.3 662.7l9.3-1.3 3.5-5.1 -9.3 1.2z"/>
<path class="c19_3" d="M352.9 634l9.2-2.2 3.5-5 -9.2 2.3z"/>
<path class="c22_3" d="M406.1 611.9l9.3-2.8 3.5-4.6 -9.3 2.8z"/>
<path class="c38_4" d="M619.2 521.5l9.2-2.5 3.5-2.9 -9.2 2.4z"/>
<path class="c27_3" d="M459.4 588.1l9.2-3.2 3.5-4.1 -9.2 3.1z"/>
<path class="c15_2" d="M299.6 653.4l9.3-1.6 3.5-5.1 -9.3 1.6z"/>
<path class="c31_3" d="M512.7 564.1l9.2-3.2 3.5-3.7 -9.3 3.2z"/>
<path class="c35_4" d="M565.9 541.5l9.3-3 3.5-3.1 -9.3 2.8z"/>
<path class="c40_4" d="M650.4 511.4l9.3-2.2 3.5-2.7 -9.3 2.1z"/>
<path class="c48_3" d="M869.2 464.7l9.3-.6 3.5-2.6 -9.3 .6z"/>
<path class="c21_3" d="M384.1 622l9.3-2.6 3.5-4.8 -9.3 2.6z"/>
<path class="c17_2" d="M330.9 643.1l9.2-1.9 3.5-5.1 -9.2 2z"/>
<path class="c11_2" d="M215.1 677.6l9.2-.7 3.5-5.2 -9.2 .8z"/>
<path class="c25_3" d="M437.4 598.6l9.2-3.1 3.5-4.3 -9.2 3z"/>
<path class="c47_3" d="M838 469.4l9.2-.8 3.5-2.5 -9.2 .7z"/>
<path class="c42_4" d="M681.7 502.4l9.3-2 3.4-2.6 -9.2 1.9z"/>
<path class="c12_2" d="M246.3 670l9.3-1 3.5-5.2 -9.3 1z"/>
<path class="c46_3" d="M806.7 474.7l9.3-1 3.5-2.6 -9.3 1z"/>
<path class="c43_4" d="M713 494.2l9.2-1.6 3.5-2.6 -9.3 1.6z"/>
<path class="c37_4" d="M597.2 529.7l9.2-2.7 3.5-2.9 -9.2 2.6z"/>
<path class="c29_3" d="M490.7 574.4l9.2-3.3 3.5-3.8 -9.3 3.2z"/>
<path class="c45_3" d="M775.5 480.5l9.2-1.2 3.5-2.5 -9.2 1.1z"/>
<path class="c44_4" d="M744.2 487l9.3-1.4 3.5-2.6 -9.3 1.4z"/>
<path class="c14_2" d="M277.6 661.4l9.3-1.3 3.5-5.2 -9.3 1.4z"/>
<path class="c33_4" d="M543.9 551l9.3-3.2 3.5-3.3 -9.3 3z"/>
<path class="c19_3" d="M362.1 631.8l9.3-2.4 3.5-4.9 -9.3 2.3z"/>
<path class="c23_3" d="M415.4 609.1l9.2-2.9 3.5-4.6 -9.2 2.9z"/>
<path class="c39_4" d="M628.4 519l9.3-2.5 3.5-2.8 -9.3 2.4z"/>
<path class="c16_2" d="M308.9 651.8l9.2-1.7 3.5-5.1 -9.2 1.7z"/>
<path class="c27_3" d="M468.6 584.9l9.3-3.2 3.5-4.1 -9.3 3.2z"/>
<path class="c48_3" d="M878.5 464.1l9.3-.6 3.5-2.6 -9.3 .6z"/>
<path class="c35_4" d="M575.2 538.5l9.2-2.9 3.5-3.1 -9.2 2.9z"/>
<path class="c32_3" d="M521.9 560.9l9.3-3.3 3.5-3.5 -9.3 3.1z"/>
<path class="c41_4" d="M659.7 509.2l9.2-2.1 3.5-2.7 -9.2 2.1z"/>
<path class="c11_2" d="M224.3 676.9l9.3-.8 3.5-5.2 -9.3 .8z"/>
<path class="c48_3" d="M847.2 468.6l9.3-.7 3.5-2.6 -9.3 .8z"/>
<path class="c21_3" d="M393.4 619.4l9.2-2.8 3.5-4.7 -9.2 2.7z"/>
<path class="c18_3" d="M340.1 641.2l9.3-2.2 3.5-5 -9.3 2.1z"/>
<path class="c13_2" d="M255.6 669l9.3-1.2 3.4-5.1 -9.2 1.1z"/>
<path class="c42_4" d="M691 500.4l9.2-1.8 3.5-2.6 -9.3 1.8z"/>
<path class="c47_3" d="M816 473.7l9.2-.9 3.5-2.6 -9.2 .9z"/>
<path class="c26_3" d="M446.6 595.5l9.3-3.1 3.5-4.3 -9.3 3.1z"/>
<path class="c43_4" d="M722.2 492.6l9.3-1.6 3.5-2.6 -9.3 1.6z"/>
<path class="c46_3" d="M784.7 479.3l9.3-1.1 3.5-2.5 -9.3 1.1z"/>
<path class="c45_4" d="M753.5 485.6l9.2-1.3 3.5-2.6 -9.2 1.3z"/>
<path class="c14_2" d="M286.9 660.1l9.2-1.5 3.5-5.2 -9.2 1.5z"/>
<path class="c38_4" d="M606.4 527l9.3-2.6 3.5-2.9 -9.3 2.6z"/>
<path class="c30_3" d="M499.9 571.1l9.3-3.3 3.5-3.7 -9.3 3.2z"/>
<path class="c34_4" d="M553.2 547.8l9.2-3.1 3.5-3.2 -9.2 3z"/>
<path class="c20_3" d="M371.4 629.4l9.2-2.5 3.5-4.9 -9.2 2.5z"/>
<path class="c16_2" d="M318.1 650.1l9.3-1.9 3.5-5.1 -9.3 1.9z"/>
<path class="c24_3" d="M424.6 606.2l9.3-3.1 3.5-4.5 -9.3 3z"/>
<path class="c39_4" d="M637.7 516.5l9.2-2.3 3.5-2.8 -9.2 2.3z"/>
<path class="c49_3" d="M887.8 463.5l9.2-.5 3.5-2.6 -9.2 .5z"/>
<path class="c12_2" d="M233.6 676.1l9.3-.9 3.4-5.2 -9.2 .9z"/>
<path class="c28_3" d="M477.9 581.7l9.3-3.4 3.5-3.9 -9.3 3.2z"/>
<path class="c48_3" d="M856.5 467.9l9.3-.7 3.4-2.5 -9.2 .6z"/>
<path class="c41_4" d="M668.9 507.1l9.3-2.1 3.5-2.6 -9.3 2z"/>
<path class="c36_4" d="M584.4 535.6l9.3-2.8 3.5-3.1 -9.3 2.8z"/>
<path class="c13_2" d="M264.9 667.8l9.2-1.2 3.5-5.2 -9.3 1.3z"/>
<path class="c32_4" d="M531.2 557.6l9.2-3.2 3.5-3.4 -9.2 3.1z"/>
<path class="c47_3" d="M825.2 472.8l9.3-.8 3.5-2.6 -9.3 .8z"/>
<path class="c18_3" d="M349.4 639l9.2-2.2 3.5-5 -9.2 2.2z"/>
<path class="c43_4" d="M700.2 498.6l9.3-1.8 3.5-2.6 -9.3 1.8z"/>
<path class="c22_3" d="M402.6 616.6l9.3-2.8 3.5-4.7 -9.3 2.8z"/>
<path class="c46_3" d="M794 478.2l9.2-1 3.5-2.5 -9.2 1z"/>
<path class="c44_4" d="M731.5 491l9.2-1.5 3.5-2.5 -9.2 1.4z"/>
<path class="c45_4" d="M762.7 484.3l9.3-1.3 3.5-2.5 -9.3 1.2z"/>
<path class="c15_2" d="M296.1 658.6l9.3-1.6 3.5-5.2 -9.3 1.6z"/>
<path class="c27_3" d="M455.9 592.4l9.3-3.3 3.4-4.2 -9.2 3.2z"/>
<path class="c38_4" d="M615.7 524.4l9.2-2.6 3.5-2.8 -9.2 2.5z"/>
<path class="c31_3" d="M509.2 567.8l9.2-3.3 3.5-3.6 -9.2 3.2z"/>
<path class="c35_4" d="M562.4 544.7l9.3-3 3.5-3.2 -9.3 3z"/>
<path class="c21_3" d="M380.6 626.9l9.3-2.7 3.5-4.8 -9.3 2.6z"/>
<path class="c11_2" d="M211.6 682.8l9.2-.7 3.5-5.2 -9.2 .7z"/>
<path class="c17_2" d="M327.4 648.2l9.2-2 3.5-5 -9.2 1.9z"/>
<path class="c40_4" d="M646.9 514.2l9.3-2.3 3.5-2.7 -9.3 2.2z"/>
<path class="c12_2" d="M242.9 675.2l9.2-1 3.5-5.2 -9.3 1z"/>
<path class="c48_3" d="M865.8 467.2l9.2-.6 3.5-2.5 -9.3 .6z"/>
<path class="c25_3" d="M433.9 603.1l9.3-3.2 3.4-4.4 -9.2 3.1z"/>
<path class="c47_3" d="M834.5 472l9.3-.8 3.4-2.6 -9.2 .8z"/>
<path class="c42_4" d="M678.2 505l9.3-2 3.5-2.6 -9.3 2z"/>
<path class="c14_2" d="M274.1 666.6l9.3-1.3 3.5-5.2 -9.3 1.3z"/>
<path class="c29_3" d="M487.2 578.3l9.2-3.4 3.5-3.8 -9.2 3.3z"/>
<path class="c46_3" d="M803.2 477.2l9.3-1 3.5-2.5 -9.3 1z"/>
<path class="c37_4" d="M593.7 532.8l9.2-2.8 3.5-3 -9.2 2.7z"/>
<path class="c43_4" d="M709.5 496.8l9.2-1.6 3.5-2.6 -9.2 1.6z"/>
<path class="c19_3" d="M358.6 636.8l9.3-2.5 3.5-4.9 -9.3 2.4z"/>
<path class="c46_4" d="M772 483l9.2-1.2 3.5-2.5 -9.2 1.2z"/>
<path class="c44_4" d="M740.7 489.5l9.3-1.4 3.5-2.5 -9.3 1.4z"/>
<path class="c33_4" d="M540.4 554.4l9.3-3.2 3.5-3.4 -9.3 3.2z"/>
<path class="c23_3" d="M411.9 613.8l9.2-3.1 3.5-4.5 -9.2 2.9z"/>
<path class="c15_2" d="M305.4 657l9.2-1.7 3.5-5.2 -9.2 1.7z"/>
<path class="c27_3" d="M465.2 589.1l9.2-3.4 3.5-4 -9.3 3.2z"/>
<path class="c39_4" d="M624.9 521.8l9.3-2.5 3.5-2.8 -9.3 2.5z"/>
<path class="c11_2" d="M220.8 682.1l9.3-.8 3.5-5.2 -9.3 .8z"/>
<path class="c48_3" d="M875 466.6l9.3-.5 3.5-2.6 -9.3 .6z"/>
<path class="c32_3" d="M518.4 564.5l9.3-3.4 3.5-3.5 -9.3 3.3z"/>
<path class="c17_3" d="M336.6 646.2l9.3-2.1 3.5-5.1 -9.3 2.2z"/>
<path class="c12_2" d="M252.1 674.2l9.3-1.1 3.5-5.3 -9.3 1.2z"/>
<path class="c21_3" d="M389.9 624.2l9.2-2.8 3.5-4.8 -9.2 2.8z"/>
<path class="c36_4" d="M571.7 541.7l9.2-3 3.5-3.1 -9.2 2.9z"/>
<path class="c41_4" d="M656.2 511.9l9.3-2.2 3.4-2.6 -9.2 2.1z"/>
<path class="c48_3" d="M843.8 471.2l9.2-.7 3.5-2.6 -9.3 .7z"/>
<path class="c26_3" d="M443.2 599.9l9.2-3.3 3.5-4.2 -9.3 3.1z"/>
<path class="c14_2" d="M283.4 665.3l9.2-1.5 3.5-5.2 -9.2 1.5z"/>
<path class="c42_4" d="M687.5 503l9.2-1.8 3.5-2.6 -9.2 1.8z"/>
<path class="c47_3" d="M812.5 476.2l9.2-.9 3.5-2.5 -9.2 .9z"/>
<path class="c44_4" d="M718.7 495.2l9.3-1.6 3.5-2.6 -9.3 1.6z"/>
<path class="c46_3" d="M781.2 481.8l9.3-1.1 3.5-2.5 -9.3 1.1z"/>
<path class="c45_4" d="M750 488.1l9.2-1.3 3.5-2.5 -9.2 1.3z"/>
<path class="c30_3" d="M496.4 574.9l9.3-3.4 3.5-3.7 -9.3 3.3z"/>
<path class="c38_4" d="M602.9 530l9.3-2.8 3.5-2.8 -9.3 2.6z"/>
<path class="c20_3" d="M367.9 634.3l9.2-2.5 3.5-4.9 -9.2 2.5z"/>
<path class="c16_2" d="M314.6 655.3l9.3-1.9 3.5-5.2 -9.3 1.9z"/>
<path class="c34_4" d="M549.7 551.2l9.2-3.2 3.5-3.3 -9.2 3.1z"/>
<path class="c24_3" d="M421.1 610.7l9.3-3.1 3.5-4.5 -9.3 3.1z"/>
<path class="c11_2" d="M230.1 681.3l9.3-.9 3.5-5.2 -9.3 .9z"/>
<path class="c40_4" d="M634.2 519.3l9.3-2.4 3.4-2.7 -9.2 2.3z"/>
<path class="c49_3" d="M884.3 466.1l9.2-.6 3.5-2.5 -9.2 .5z"/>
<path class="c28_3" d="M474.4 585.7l9.3-3.4 3.5-4 -9.3 3.4z"/>
<path class="c13_2" d="M261.4 673.1l9.2-1.3 3.5-5.2 -9.2 1.2z"/>
<path class="c18_3" d="M345.9 644.1l9.2-2.3 3.5-5 -9.2 2.2z"/>
<path class="c48_3" d="M853 470.5l9.3-.7 3.5-2.6 -9.3 .7z"/>
<path class="c41_4" d="M665.5 509.7l9.2-2.1 3.5-2.6 -9.3 2.1z"/>
<path class="c22_3" d="M399.1 621.4l9.3-3 3.5-4.6 -9.3 2.8z"/>
<path class="c36_4" d="M580.9 538.7l9.3-3 3.5-2.9 -9.3 2.8z"/>
<path class="c32_4" d="M527.7 561.1l9.2-3.3 3.5-3.4 -9.2 3.2z"/>
<path class="c47_3" d="M821.7 475.3l9.3-.8 3.5-2.5 -9.3 .8z"/>
<path class="c15_2" d="M292.6 663.8l9.3-1.6 3.5-5.2 -9.3 1.6z"/>
<path class="c43_4" d="M696.7 501.2l9.3-1.8 3.5-2.6 -9.3 1.8z"/>
<path class="c46_3" d="M790.5 480.7l9.2-1 3.5-2.5 -9.2 1z"/>
<path class="c26_3" d="M452.4 596.6l9.3-3.4 3.5-4.1 -9.3 3.3z"/>
<path class="c44_4" d="M728 493.6l9.2-1.5 3.5-2.6 -9.2 1.5z"/>
<path class="c45_4" d="M759.2 486.8l9.3-1.3 3.5-2.5 -9.3 1.3z"/>
<path class="c38_4" d="M612.2 527.2l9.2-2.6 3.5-2.8 -9.2 2.6z"/>
<path class="c20_3" d="M377.1 631.8l9.3-2.7 3.5-4.9 -9.3 2.7z"/>
<path class="c10_2" d="M208.1 687.9l9.3-.6 3.4-5.2 -9.2 .7z"/>
<path class="c16_2" d="M323.9 653.4l9.2-2 3.5-5.2 -9.2 2z"/>
<path class="c31_3" d="M505.7 571.5l9.2-3.4 3.5-3.6 -9.2 3.3z"/>
<path class="c12_2" d="M239.4 680.4l9.2-1 3.5-5.2 -9.2 1z"/>
<path class="c35_4" d="M558.9 548l9.3-3.2 3.5-3.1 -9.3 3z"/>
<path class="c25_3" d="M430.4 607.6l9.3-3.3 3.5-4.4 -9.3 3.2z"/>
<path class="c40_4" d="M643.5 516.9l9.2-2.3 3.5-2.7 -9.3 2.3z"/>
<path class="c13_2" d="M270.6 671.8l9.3-1.3 3.5-5.2 -9.3 1.3z"/>
<path class="c48_3" d="M862.3 469.8l9.2-.6 3.5-2.6 -9.2 .6z"/>
<path class="c29_3" d="M483.7 582.3l9.2-3.5 3.5-3.9 -9.2 3.4z"/>
<path class="c19_3" d="M355.1 641.8l9.3-2.4 3.5-5.1 -9.3 2.5z"/>
<path class="c42_4" d="M674.7 507.6l9.3-2 3.5-2.6 -9.3 2z"/>
<path class="c48_3" d="M831 474.5l9.3-.8 3.5-2.5 -9.3 .8z"/>
<path class="c15_2" d="M301.9 662.2l9.2-1.7 3.5-5.2 -9.2 1.7z"/>
<path class="c23_3" d="M408.4 618.4l9.3-3.1 3.4-4.6 -9.2 3.1z"/>
<path class="c37_4" d="M590.2 535.7l9.2-2.8 3.5-2.9 -9.2 2.8z"/>
<path class="c47_3" d="M799.7 479.7l9.3-1 3.5-2.5 -9.3 1z"/>
<path class="c33_4" d="M536.9 557.8l9.3-3.3 3.5-3.3 -9.3 3.2z"/>
<path class="c43_4" d="M706 499.4l9.2-1.7 3.5-2.5 -9.2 1.6z"/>
<path class="c46_4" d="M768.5 485.5l9.2-1.1 3.5-2.6 -9.2 1.2z"/>
<path class="c45_4" d="M737.2 492.1l9.3-1.5 3.5-2.5 -9.3 1.4z"/>
<path class="c11_2" d="M217.4 687.3l9.2-.8 3.5-5.2 -9.3 .8z"/>
<path class="c27_3" d="M461.7 593.2l9.2-3.4 3.5-4.1 -9.2 3.4z"/>
<path class="c17_2" d="M333.1 651.4l9.3-2.2 3.5-5.1 -9.3 2.1z"/>
<path class="c39_4" d="M621.4 524.6l9.3-2.6 3.5-2.7 -9.3 2.5z"/>
<path class="c12_2" d="M248.6 679.4l9.3-1.1 3.5-5.2 -9.3 1.1z"/>
<path class="c21_3" d="M386.4 629.1l9.3-2.9 3.4-4.8 -9.2 2.8z"/>
<path class="c32_4" d="M514.9 568.1l9.3-3.5 3.5-3.5 -9.3 3.4z"/>
<path class="c36_4" d="M568.2 544.8l9.2-3.1 3.5-3 -9.2 3z"/>
<path class="c49_3" d="M871.5 469.2l9.3-.6 3.5-2.5 -9.3 .5z"/>
<path class="c14_2" d="M279.9 670.5l9.2-1.4 3.5-5.3 -9.2 1.5z"/>
<path class="c25_3" d="M439.7 604.3l9.2-3.4 3.5-4.3 -9.2 3.3z"/>
<path class="c41_4" d="M652.7 514.6l9.3-2.2 3.5-2.7 -9.3 2.2z"/>
<path class="c48_3" d="M840.3 473.7l9.2-.7 3.5-2.5 -9.2 .7z"/>
<path class="c42_4" d="M684 505.6l9.2-1.9 3.5-2.5 -9.2 1.8z"/>
<path class="c19_3" d="M364.4 639.4l9.2-2.7 3.5-4.9 -9.2 2.5z"/>
<path class="c47_3" d="M809 478.7l9.3-.9 3.4-2.5 -9.2 .9z"/>
<path class="c16_2" d="M311.1 660.5l9.3-1.9 3.5-5.2 -9.3 1.9z"/>
<path class="c30_3" d="M492.9 578.8l9.3-3.5 3.5-3.8 -9.3 3.4z"/>
<path class="c44_4" d="M715.2 497.7l9.3-1.6 3.5-2.5 -9.3 1.6z"/>
<path class="c46_4" d="M777.7 484.4l9.3-1.2 3.5-2.5 -9.3 1.1z"/>
<path class="c45_4" d="M746.5 490.6l9.2-1.3 3.5-2.5 -9.2 1.3z"/>
<path class="c38_4" d="M599.4 532.9l9.3-2.8 3.5-2.9 -9.3 2.8z"/>
<path class="c24_3" d="M417.7 615.3l9.2-3.2 3.5-4.5 -9.3 3.1z"/>
<path class="c34_4" d="M546.2 554.5l9.2-3.3 3.5-3.2 -9.2 3.2z"/>
<path class="c11_2" d="M226.6 686.5l9.3-.9 3.5-5.2 -9.3 .9z"/>
<path class="c12_2" d="M257.9 678.3l9.2-1.2 3.5-5.3 -9.2 1.3z"/>
<path class="c28_3" d="M470.9 589.8l9.3-3.6 3.5-3.9 -9.3 3.4z"/>
<path class="c18_3" d="M342.4 649.2l9.2-2.3 3.5-5.1 -9.2 2.3z"/>
<path class="c40_4" d="M630.7 522l9.3-2.4 3.5-2.7 -9.3 2.4z"/>
<path class="c49_3" d="M880.8 468.6l9.2-.5 3.5-2.6 -9.2 .6z"/>
<path class="c22_3" d="M395.7 626.2l9.2-3 3.5-4.8 -9.3 3z"/>
<path class="c14_2" d="M289.1 669.1l9.3-1.6 3.5-5.3 -9.3 1.6z"/>
<path class="c32_4" d="M524.2 564.6l9.2-3.4 3.5-3.4 -9.2 3.3z"/>
<path class="c48_3" d="M849.5 473l9.3-.7 3.5-2.5 -9.3 .7z"/>
<path class="c36_4" d="M577.4 541.7l9.3-3 3.5-3 -9.3 3z"/>
<path class="c41_4" d="M662 512.4l9.2-2.2 3.5-2.6 -9.2 2.1z"/>
<path class="c26_3" d="M448.9 600.9l9.3-3.4 3.5-4.3 -9.3 3.4z"/>
<path class="c47_3" d="M818.3 477.8l9.2-.8 3.5-2.5 -9.3 .8z"/>
<path class="c43_4" d="M693.2 503.7l9.3-1.8 3.5-2.5 -9.3 1.8z"/>
<path class="c47_3" d="M787 483.2l9.3-1 3.4-2.5 -9.2 1z"/>
<path class="c10_2" d="M204.6 693.1l9.3-.6 3.5-5.2 -9.3 .6z"/>
<path class="c16_2" d="M320.4 658.6l9.2-2 3.5-5.2 -9.2 2z"/>
<path class="c20_3" d="M373.6 636.7l9.3-2.7 3.5-4.9 -9.3 2.7z"/>
<path class="c44_4" d="M724.5 496.1l9.2-1.5 3.5-2.5 -9.2 1.5z"/>
<path class="c45_4" d="M755.7 489.3l9.3-1.3 3.5-2.5 -9.3 1.3z"/>
<path class="c11_2" d="M235.9 685.6l9.2-.9 3.5-5.3 -9.2 1z"/>
<path class="c31_3" d="M502.2 575.3l9.2-3.6 3.5-3.6 -9.2 3.4z"/>
<path class="c39_4" d="M608.7 530.1l9.3-2.7 3.4-2.8 -9.2 2.6z"/>
<path class="c24_3" d="M426.9 612.1l9.3-3.3 3.5-4.5 -9.3 3.3z"/>
<path class="c13_2" d="M267.1 677.1l9.3-1.3 3.5-5.3 -9.3 1.3z"/>
<path class="c35_4" d="M555.4 551.2l9.3-3.3 3.5-3.1 -9.3 3.2z"/>
<path class="c18_3" d="M351.6 646.9l9.3-2.5 3.5-5 -9.3 2.4z"/>
<path class="c40_4" d="M640 519.6l9.2-2.4 3.5-2.6 -9.2 2.3z"/>
<path class="c29_3" d="M480.2 586.2l9.2-3.6 3.5-3.8 -9.2 3.5z"/>
<path class="c49_3" d="M858.8 472.3l9.2-.6 3.5-2.5 -9.2 .6z"/>
<path class="c15_2" d="M298.4 667.5l9.2-1.8 3.5-5.2 -9.2 1.7z"/>
<path class="c23_3" d="M404.9 623.2l9.3-3.2 3.5-4.7 -9.3 3.1z"/>
<path class="c42_4" d="M671.2 510.2l9.3-2 3.5-2.6 -9.3 2z"/>
<path class="c48_3" d="M827.5 477l9.3-.8 3.5-2.5 -9.3 .8z"/>
<path class="c37_4" d="M586.7 538.7l9.3-2.9 3.4-2.9 -9.2 2.8z"/>
<path class="c33_4" d="M533.4 561.2l9.3-3.4 3.5-3.3 -9.3 3.3z"/>
<path class="c10_2" d="M213.9 692.5l9.2-.7 3.5-5.3 -9.2 .8z"/>
<path class="c47_3" d="M796.3 482.2l9.2-1 3.5-2.5 -9.3 1z"/>
<path class="c44_4" d="M702.5 501.9l9.2-1.7 3.5-2.5 -9.2 1.7z"/>
<path class="c46_4" d="M765 488l9.3-1.2 3.4-2.4 -9.2 1.1z"/>
<path class="c45_4" d="M733.7 494.6l9.3-1.5 3.5-2.5 -9.3 1.5z"/>
<path class="c27_3" d="M458.2 597.5l9.2-3.6 3.5-4.1 -9.2 3.4z"/>
<path class="c12_2" d="M245.1 684.7l9.3-1.1 3.5-5.3 -9.3 1.1z"/>
<path class="c17_2" d="M329.6 656.6l9.3-2.2 3.5-5.2 -9.3 2.2z"/>
<path class="c21_3" d="M382.9 634l9.3-2.9 3.5-4.9 -9.3 2.9z"/>
<path class="c39_4" d="M618 527.4l9.2-2.6 3.5-2.8 -9.3 2.6z"/>
<path class="c13_2" d="M276.4 675.8l9.2-1.4 3.5-5.3 -9.2 1.4z"/>
<path class="c32_4" d="M511.4 571.7l9.3-3.5 3.5-3.6 -9.3 3.5z"/>
<path class="c25_3" d="M436.2 608.8l9.2-3.5 3.5-4.4 -9.2 3.4z"/>
<path class="c36_4" d="M564.7 547.9l9.2-3.1 3.5-3.1 -9.2 3.1z"/>
<path class="c49_3" d="M868 471.7l9.3-.5 3.5-2.6 -9.3 .6z"/>
<path class="c19_3" d="M360.9 644.4l9.3-2.6 3.4-5.1 -9.2 2.7z"/>
<path class="c41_4" d="M649.2 517.2l9.3-2.3 3.5-2.5 -9.3 2.2z"/>
<path class="c15_2" d="M307.6 665.7l9.3-1.8 3.5-5.3 -9.3 1.9z"/>
<path class="c48_3" d="M836.8 476.2l9.2-.7 3.5-2.5 -9.2 .7z"/>
<path class="c30_3" d="M489.4 582.6l9.3-3.6 3.5-3.7 -9.3 3.5z"/>
<path class="c43_4" d="M680.5 508.2l9.2-2 3.5-2.5 -9.2 1.9z"/>
<path class="c11_2" d="M223.1 691.8l9.3-.9 3.5-5.3 -9.3 .9z"/>
<path class="c23_3" d="M414.2 620l9.2-3.3 3.5-4.6 -9.2 3.2z"/>
<path class="c47_3" d="M805.5 481.2l9.3-.9 3.5-2.5 -9.3 .9z"/>
<path class="c44_4" d="M711.7 500.2l9.3-1.6 3.5-2.5 -9.3 1.6z"/>
<path class="c46_4" d="M774.3 486.8l9.2-1.1 3.5-2.5 -9.3 1.2z"/>
<path class="c38_4" d="M596 535.8l9.2-2.9 3.5-2.8 -9.3 2.8z"/>
<path class="c45_4" d="M743 493.1l9.2-1.3 3.5-2.5 -9.2 1.3z"/>
<path class="c12_2" d="M254.4 683.6l9.2-1.2 3.5-5.3 -9.2 1.2z"/>
<path class="c34_4" d="M542.7 557.8l9.2-3.4 3.5-3.2 -9.2 3.3z"/>
<path class="c17_3" d="M338.9 654.4l9.3-2.3 3.4-5.2 -9.2 2.3z"/>
<path class="c28_3" d="M467.4 593.9l9.3-3.7 3.5-4 -9.3 3.6z"/>
<path class="c22_3" d="M392.2 631.1l9.2-3.1 3.5-4.8 -9.2 3z"/>
<path class="c14_2" d="M285.6 674.4l9.3-1.6 3.5-5.3 -9.3 1.6z"/>
<path class="c40_4" d="M627.2 524.8l9.3-2.6 3.5-2.6 -9.3 2.4z"/>
<path class="c49_3" d="M877.3 471.2l9.2-.5 3.5-2.6 -9.2 .5z"/>
<path class="c33_4" d="M520.7 568.2l9.2-3.6 3.5-3.4 -9.2 3.4z"/>
<path class="c37_4" d="M573.9 544.8l9.3-3.1 3.5-3 -9.3 3z"/>
<path class="c26_3" d="M445.4 605.3l9.3-3.6 3.5-4.2 -9.3 3.4z"/>
<path class="c48_3" d="M846 475.5l9.3-.7 3.5-2.5 -9.3 .7z"/>
<path class="c10_2" d="M201.1 698.4l9.3-.6 3.5-5.3 -9.3 .6z"/>
<path class="c42_4" d="M658.5 514.9l9.2-2.1 3.5-2.6 -9.2 2.2z"/>
<path class="c16_2" d="M316.9 663.9l9.2-2.1 3.5-5.2 -9.2 2z"/>
<path class="c20_3" d="M370.2 641.8l9.2-2.8 3.5-5 -9.3 2.7z"/>
<path class="c11_2" d="M232.4 690.9l9.2-.9 3.5-5.3 -9.2 .9z"/>
<path class="c48_3" d="M814.8 480.3l9.2-.8 3.5-2.5 -9.2 .8z"/>
<path class="c43_4" d="M689.7 506.2l9.3-1.8 3.5-2.5 -9.3 1.8z"/>
<path class="c47_4" d="M783.5 485.7l9.3-1 3.5-2.5 -9.3 1z"/>
<path class="c45_4" d="M721 498.6l9.2-1.6 3.5-2.4 -9.2 1.5z"/>
<path class="c46_4" d="M752.2 491.8l9.3-1.3 3.5-2.5 -9.3 1.3z"/>
<path class="c13_2" d="M263.6 682.4l9.3-1.3 3.5-5.3 -9.3 1.3z"/>
<path class="c31_3" d="M498.7 579l9.2-3.7 3.5-3.6 -9.2 3.6z"/>
<path class="c24_3" d="M423.4 616.7l9.3-3.4 3.5-4.5 -9.3 3.3z"/>
<path class="c39_4" d="M605.2 532.9l9.3-2.8 3.5-2.7 -9.3 2.7z"/>
<path class="c35_4" d="M551.9 554.4l9.3-3.4 3.5-3.1 -9.3 3.3z"/>
<path class="c18_3" d="M348.2 652.1l9.2-2.6 3.5-5.1 -9.3 2.5z"/>
<path class="c14_2" d="M294.9 672.8l9.2-1.7 3.5-5.4 -9.2 1.8z"/>
<path class="c29_3" d="M476.7 590.2l9.2-3.7 3.5-3.9 -9.2 3.6z"/>
<path class="c22_3" d="M401.4 628l9.3-3.3 3.5-4.7 -9.3 3.2z"/>
<path class="c41_4" d="M636.5 522.2l9.2-2.4 3.5-2.6 -9.2 2.4z"/>
<path class="c49_3" d="M855.3 474.8l9.2-.6 3.5-2.5 -9.2 .6z"/>
<path class="c10_2" d="M210.4 697.8l9.2-.7 3.5-5.3 -9.2 .7z"/>
<path class="c33_4" d="M529.9 564.6l9.3-3.5 3.5-3.3 -9.3 3.4z"/>
<path class="c42_4" d="M667.7 512.8l9.3-2.1 3.5-2.5 -9.3 2z"/>
<path class="c11_2" d="M241.6 690l9.3-1 3.5-5.4 -9.3 1.1z"/>
<path class="c48_3" d="M824 479.5l9.3-.8 3.5-2.5 -9.3 .8z"/>
<path class="c16_2" d="M326.1 661.8l9.3-2.2 3.5-5.2 -9.3 2.2z"/>
<path class="c37_4" d="M583.2 541.7l9.3-3.1 3.5-2.8 -9.3 2.9z"/>
<path class="c27_3" d="M454.7 601.7l9.2-3.7 3.5-4.1 -9.2 3.6z"/>
<path class="c20_3" d="M379.4 639l9.3-3 3.5-4.9 -9.3 2.9z"/>
<path class="c47_3" d="M792.8 484.7l9.2-1 3.5-2.5 -9.2 1z"/>
<path class="c44_4" d="M699 504.4l9.2-1.7 3.5-2.5 -9.2 1.7z"/>
<path class="c46_4" d="M761.5 490.5l9.3-1.2 3.5-2.5 -9.3 1.2z"/>
<path class="c45_4" d="M730.2 497l9.3-1.4 3.5-2.5 -9.3 1.5z"/>
<path class="c13_2" d="M272.9 681.1l9.2-1.4 3.5-5.3 -9.2 1.4z"/>
<path class="c32_4" d="M507.9 575.3l9.3-3.6 3.5-3.5 -9.3 3.5z"/>
<path class="c25_3" d="M432.7 613.3l9.2-3.6 3.5-4.4 -9.2 3.5z"/>
<path class="c39_4" d="M614.5 530.1l9.2-2.7 3.5-2.6 -9.2 2.6z"/>
<path class="c19_3" d="M357.4 649.5l9.3-2.6 3.5-5.1 -9.3 2.6z"/>
<path class="c15_2" d="M304.1 671.1l9.3-1.9 3.5-5.3 -9.3 1.8z"/>
<path class="c36_4" d="M561.2 551l9.3-3.2 3.4-3 -9.2 3.1z"/>
<path class="c49_3" d="M864.5 474.2l9.3-.5 3.5-2.5 -9.3 .5z"/>
<path class="c10_2" d="M219.6 697.1l9.3-.8 3.5-5.4 -9.3 .9z"/>
<path class="c41_4" d="M645.7 519.8l9.3-2.3 3.5-2.6 -9.3 2.3z"/>
<path class="c23_3" d="M410.7 624.7l9.2-3.4 3.5-4.6 -9.2 3.3z"/>
<path class="c30_3" d="M485.9 586.5l9.3-3.7 3.5-3.8 -9.3 3.6z"/>
<path class="c48_3" d="M833.3 478.7l9.2-.7 3.5-2.5 -9.2 .7z"/>
<path class="c12_2" d="M250.9 689l9.2-1.2 3.5-5.4 -9.2 1.2z"/>
<path class="c43_4" d="M677 510.7l9.2-2 3.5-2.5 -9.2 2z"/>
<path class="c17_3" d="M335.4 659.6l9.3-2.3 3.5-5.2 -9.3 2.3z"/>
<path class="c47_3" d="M802 483.7l9.3-.9 3.5-2.5 -9.3 .9z"/>
<path class="c38_4" d="M592.5 538.6l9.2-2.9 3.5-2.8 -9.2 2.9z"/>
<path class="c34_4" d="M539.2 561.1l9.3-3.5 3.4-3.2 -9.2 3.4z"/>
<path class="c44_4" d="M708.2 502.7l9.3-1.7 3.5-2.4 -9.3 1.6z"/>
<path class="c47_4" d="M770.8 489.3l9.2-1.1 3.5-2.5 -9.2 1.1z"/>
<path class="c45_4" d="M739.5 495.6l9.3-1.4 3.4-2.4 -9.2 1.3z"/>
<path class="c14_2" d="M282.1 679.7l9.3-1.6 3.5-5.3 -9.3 1.6z"/>
<path class="c21_3" d="M388.7 636l9.2-3.2 3.5-4.8 -9.2 3.1z"/>
<path class="c28_3" d="M463.9 598l9.3-3.7 3.5-4.1 -9.3 3.7z"/>
<path class="c40_4" d="M623.7 527.4l9.3-2.5 3.5-2.7 -9.3 2.6z"/>
<path class="c9_2" d="M197.6 703.7l9.3-.6 3.5-5.3 -9.3 .6z"/>
<path class="c15_2" d="M313.4 669.2l9.3-2.1 3.4-5.3 -9.2 2.1z"/>
<path class="c49_3" d="M873.8 473.7l9.2-.5 3.5-2.5 -9.2 .5z"/>
<path class="c33_4" d="M517.2 571.7l9.3-3.7 3.4-3.4 -9.2 3.6z"/>
<path class="c26_3" d="M441.9 609.7l9.3-3.7 3.5-4.3 -9.3 3.6z"/>
<path class="c19_3" d="M366.7 646.9l9.2-2.9 3.5-5 -9.2 2.8z"/>
<path class="c11_2" d="M228.9 696.3l9.2-.9 3.5-5.4 -9.2 .9z"/>
<path class="c37_4" d="M570.5 547.8l9.2-3.2 3.5-2.9 -9.3 3.1z"/>
<path class="c49_3" d="M842.5 478l9.3-.7 3.5-2.5 -9.3 .7z"/>
<path class="c42_4" d="M655 517.5l9.2-2.2 3.5-2.5 -9.2 2.1z"/>
<path class="c12_2" d="M260.1 687.8l9.3-1.3 3.5-5.4 -9.3 1.3z"/>
<path class="c48_3" d="M811.3 482.8l9.2-.8 3.5-2.5 -9.2 .8z"/>
<path class="c24_3" d="M419.9 621.3l9.3-3.5 3.5-4.5 -9.3 3.4z"/>
<path class="c43_4" d="M686.2 508.7l9.3-1.8 3.5-2.5 -9.3 1.8z"/>
<path class="c31_4" d="M495.2 582.8l9.2-3.8 3.5-3.7 -9.2 3.7z"/>
<path class="c47_4" d="M780 488.2l9.3-1.1 3.5-2.4 -9.3 1z"/>
<path class="c18_3" d="M344.7 657.3l9.2-2.6 3.5-5.2 -9.2 2.6z"/>
<path class="c45_4" d="M717.5 501l9.3-1.6 3.4-2.4 -9.2 1.6z"/>
<path class="c46_4" d="M748.8 494.2l9.2-1.3 3.5-2.4 -9.3 1.3z"/>
<path class="c14_2" d="M291.4 678.1l9.3-1.7 3.4-5.3 -9.2 1.7z"/>
<path class="c39_4" d="M601.7 535.7l9.3-2.9 3.5-2.7 -9.3 2.8z"/>
<path class="c35_4" d="M548.5 557.6l9.2-3.5 3.5-3.1 -9.3 3.4z"/>
<path class="c22_3" d="M397.9 632.8l9.3-3.3 3.5-4.8 -9.3 3.3z"/>
<path class="c29_3" d="M473.2 594.3l9.2-3.9 3.5-3.9 -9.2 3.7z"/>
<path class="c10_2" d="M206.9 703.1l9.2-.7 3.5-5.3 -9.2 .7z"/>
<path class="c41_4" d="M633 524.9l9.2-2.5 3.5-2.6 -9.2 2.4z"/>
<path class="c11_2" d="M238.1 695.4l9.3-1.1 3.5-5.3 -9.3 1z"/>
<path class="c16_2" d="M322.7 667.1l9.2-2.2 3.5-5.3 -9.3 2.2z"/>
<path class="c49_3" d="M851.8 477.3l9.2-.6 3.5-2.5 -9.2 .6z"/>
<path class="c20_3" d="M375.9 644l9.3-3.1 3.5-4.9 -9.3 3z"/>
<path class="c33_4" d="M526.5 568l9.2-3.7 3.5-3.2 -9.3 3.5z"/>
<path class="c27_3" d="M451.2 606l9.2-3.8 3.5-4.2 -9.2 3.7z"/>
<path class="c13_2" d="M269.4 686.5l9.3-1.4 3.4-5.4 -9.2 1.4z"/>
<path class="c37_4" d="M579.7 544.6l9.3-3.2 3.5-2.8 -9.3 3.1z"/>
<path class="c42_4" d="M664.2 515.3l9.3-2.1 3.5-2.5 -9.3 2.1z"/>
<path class="c48_3" d="M820.5 482l9.3-.8 3.5-2.5 -9.3 .8z"/>
<path class="c47_4" d="M789.3 487.1l9.2-1 3.5-2.4 -9.2 1z"/>
<path class="c44_4" d="M695.5 506.9l9.2-1.8 3.5-2.4 -9.2 1.7z"/>
<path class="c46_4" d="M758 492.9l9.3-1.2 3.5-2.4 -9.3 1.2z"/>
<path class="c45_4" d="M726.8 499.4l9.2-1.4 3.5-2.4 -9.3 1.4z"/>
<path class="c25_3" d="M429.2 617.8l9.2-3.7 3.5-4.4 -9.2 3.6z"/>
<path class="c18_3" d="M353.9 654.7l9.3-2.7 3.5-5.1 -9.3 2.6z"/>
<path class="c15_2" d="M300.7 676.4l9.2-1.9 3.5-5.3 -9.3 1.9z"/>
<path class="c32_4" d="M504.4 579l9.3-3.8 3.5-3.5 -9.3 3.6z"/>
<path class="c40_4" d="M611 532.8l9.2-2.7 3.5-2.7 -9.2 2.7z"/>
<path class="c10_2" d="M216.1 702.4l9.3-.8 3.5-5.3 -9.3 .8z"/>
<path class="c36_4" d="M557.7 554.1l9.3-3.4 3.5-2.9 -9.3 3.2z"/>
<path class="c23_3" d="M407.2 629.5l9.2-3.5 3.5-4.7 -9.2 3.4z"/>
<path class="c11_2" d="M247.4 694.3l9.2-1.1 3.5-5.4 -9.2 1.2z"/>
<path class="c49_3" d="M861 476.7l9.3-.5 3.5-2.5 -9.3 .5z"/>
<path class="c30_3" d="M482.4 590.4l9.3-3.9 3.5-3.7 -9.3 3.7z"/>
<path class="c41_4" d="M642.2 522.4l9.3-2.4 3.5-2.5 -9.3 2.3z"/>
<path class="c17_2" d="M331.9 664.9l9.3-2.4 3.5-5.2 -9.3 2.3z"/>
<path class="c49_3" d="M829.8 481.2l9.2-.7 3.5-2.5 -9.2 .7z"/>
<path class="c13_2" d="M278.7 685.1l9.2-1.5 3.5-5.5 -9.3 1.6z"/>
<path class="c21_3" d="M385.2 640.9l9.2-3.2 3.5-4.9 -9.2 3.2z"/>
<path class="c43_4" d="M673.5 513.2l9.2-2 3.5-2.5 -9.2 2z"/>
<path class="c48_3" d="M798.5 486.1l9.3-.9 3.5-2.4 -9.3 .9z"/>
<path class="c34_4" d="M535.7 564.3l9.3-3.6 3.5-3.1 -9.3 3.5z"/>
<path class="c28_3" d="M460.4 602.2l9.3-3.9 3.5-4 -9.3 3.7z"/>
<path class="c38_4" d="M589 541.4l9.2-3 3.5-2.7 -9.2 2.9z"/>
<path class="c44_4" d="M704.7 505.1l9.3-1.7 3.5-2.4 -9.3 1.7z"/>
<path class="c47_4" d="M767.3 491.7l9.2-1.1 3.5-2.4 -9.2 1.1z"/>
<path class="c46_4" d="M736 498l9.3-1.4 3.5-2.4 -9.3 1.4z"/>
<path class="c9_2" d="M194.1 709l9.3-.6 3.5-5.3 -9.3 .6z"/>
<path class="c15_2" d="M309.9 674.5l9.3-2 3.5-5.4 -9.3 2.1z"/>
<path class="c19_3" d="M363.2 652l9.2-2.9 3.5-5.1 -9.2 2.9z"/>
<path class="c10_2" d="M225.4 701.6l9.2-.8 3.5-5.4 -9.2 .9z"/>
<path class="c26_3" d="M438.4 614.1l9.3-3.8 3.5-4.3 -9.3 3.7z"/>
<path class="c40_4" d="M620.2 530.1l9.3-2.7 3.5-2.5 -9.3 2.5z"/>
<path class="c33_4" d="M513.7 575.2l9.3-3.8 3.5-3.4 -9.3 3.7z"/>
<path class="c50_3" d="M870.3 476.2l9.3-.5 3.4-2.5 -9.2 .5z"/>
<path class="c12_2" d="M256.6 693.2l9.3-1.2 3.5-5.5 -9.3 1.3z"/>
<path class="c37_4" d="M567 550.7l9.2-3.3 3.5-2.8 -9.2 3.2z"/>
<path class="c24_3" d="M416.4 626l9.3-3.6 3.5-4.6 -9.3 3.5z"/>
<path class="c49_3" d="M839 480.5l9.3-.7 3.5-2.5 -9.3 .7z"/>
<path class="c42_4" d="M651.5 520l9.2-2.2 3.5-2.5 -9.2 2.2z"/>
<path class="c17_3" d="M341.2 662.5l9.2-2.5 3.5-5.3 -9.2 2.6z"/>
<path class="c14_2" d="M287.9 683.6l9.3-1.8 3.5-5.4 -9.3 1.7z"/>
<path class="c31_4" d="M491.7 586.5l9.3-3.9 3.4-3.6 -9.2 3.8z"/>
<path class="c48_3" d="M807.8 485.2l9.2-.8 3.5-2.4 -9.2 .8z"/>
<path class="c44_4" d="M682.7 511.2l9.3-1.9 3.5-2.4 -9.3 1.8z"/>
<path class="c47_4" d="M776.5 490.6l9.3-1.1 3.5-2.4 -9.3 1.1z"/>
<path class="c45_4" d="M714 503.4l9.3-1.6 3.5-2.4 -9.3 1.6z"/>
<path class="c22_3" d="M394.4 637.7l9.3-3.4 3.5-4.8 -9.3 3.3z"/>
<path class="c46_4" d="M745.3 496.6l9.2-1.3 3.5-2.4 -9.2 1.3z"/>
<path class="c39_4" d="M598.2 538.4l9.3-2.9 3.5-2.7 -9.3 2.9z"/>
<path class="c9_2" d="M203.4 708.4l9.2-.6 3.5-5.4 -9.2 .7z"/>
<path class="c35_4" d="M545 560.7l9.2-3.5 3.5-3.1 -9.2 3.5z"/>
<path class="c29_3" d="M469.7 598.3l9.3-4 3.4-3.9 -9.2 3.9z"/>
<path class="c11_2" d="M234.6 700.8l9.3-1 3.5-5.5 -9.3 1.1z"/>
<path class="c16_2" d="M319.2 672.5l9.2-2.2 3.5-5.4 -9.2 2.2z"/>
<path class="c20_3" d="M372.4 649.1l9.3-3.1 3.5-5.1 -9.3 3.1z"/>
<path class="c12_2" d="M265.9 692l9.3-1.4 3.5-5.5 -9.3 1.4z"/>
<path class="c41_4" d="M629.5 527.4l9.2-2.5 3.5-2.5 -9.2 2.5z"/>
<path class="c27_3" d="M447.7 610.3l9.2-3.9 3.5-4.2 -9.2 3.8z"/>
<path class="c49_3" d="M848.3 479.8l9.2-.6 3.5-2.5 -9.2 .6z"/>
<path class="c33_4" d="M523 571.4l9.2-3.8 3.5-3.3 -9.2 3.7z"/>
<path class="c38_4" d="M576.2 547.4l9.3-3.2 3.5-2.8 -9.3 3.2z"/>
<path class="c43_4" d="M660.7 517.8l9.3-2.2 3.5-2.4 -9.3 2.1z"/>
<path class="c48_3" d="M817 484.4l9.3-.8 3.5-2.4 -9.3 .8z"/>
<path class="c14_2" d="M297.2 681.8l9.2-1.8 3.5-5.5 -9.2 1.9z"/>
<path class="c18_3" d="M350.4 660l9.3-2.8 3.5-5.2 -9.3 2.7z"/>
<path class="c25_3" d="M425.7 622.4l9.2-3.8 3.5-4.5 -9.2 3.7z"/>
<path class="c48_4" d="M785.8 489.5l9.2-.9 3.5-2.5 -9.2 1z"/>
<path class="c44_4" d="M692 509.3l9.3-1.8 3.4-2.4 -9.2 1.8z"/>
<path class="c47_4" d="M754.5 495.3l9.3-1.2 3.5-2.4 -9.3 1.2z"/>
<path class="c45_4" d="M723.3 501.8l9.2-1.4 3.5-2.4 -9.2 1.4z"/>
<path class="c10_2" d="M212.6 707.8l9.3-.8 3.5-5.4 -9.3 .8z"/>
<path class="c32_4" d="M501 582.6l9.2-3.9 3.5-3.5 -9.3 3.8z"/>
<path class="c11_2" d="M243.9 699.8l9.3-1.1 3.4-5.5 -9.2 1.1z"/>
<path class="c23_3" d="M403.7 634.3l9.2-3.5 3.5-4.8 -9.2 3.5z"/>
<path class="c40_4" d="M607.5 535.5l9.2-2.8 3.5-2.6 -9.2 2.7z"/>
<path class="c36_4" d="M554.2 557.2l9.3-3.5 3.5-3 -9.3 3.4z"/>
<path class="c16_2" d="M328.4 670.3l9.3-2.4 3.5-5.4 -9.3 2.4z"/>
<path class="c30_3" d="M479 594.3l9.2-4 3.5-3.8 -9.3 3.9z"/>
<path class="c13_2" d="M275.2 690.6l9.2-1.6 3.5-5.4 -9.2 1.5z"/>
<path class="c49_3" d="M857.5 479.2l9.3-.5 3.5-2.5 -9.3 .5z"/>
<path class="c21_3" d="M381.7 646l9.2-3.3 3.5-5 -9.2 3.2z"/>
<path class="c42_4" d="M638.7 524.9l9.3-2.4 3.5-2.5 -9.3 2.4z"/>
<path class="c49_3" d="M826.3 483.6l9.2-.7 3.5-2.4 -9.2 .7z"/>
<path class="c28_3" d="M456.9 606.4l9.3-4 3.5-4.1 -9.3 3.9z"/>
<path class="c34_4" d="M532.2 567.6l9.3-3.7 3.5-3.2 -9.3 3.6z"/>
<path class="c43_4" d="M670 515.6l9.3-2 3.4-2.4 -9.2 2z"/>
<path class="c9_2" d="M190.6 714.3l9.3-.5 3.5-5.4 -9.3 .6z"/>
<path class="c48_4" d="M795 488.6l9.3-.9 3.5-2.5 -9.3 .9z"/>
<path class="c15_2" d="M306.4 680l9.3-2.1 3.5-5.4 -9.3 2z"/>
<path class="c38_4" d="M585.5 544.2l9.2-3.1 3.5-2.7 -9.2 3z"/>
<path class="c10_2" d="M221.9 707l9.3-.8 3.4-5.4 -9.2 .8z"/>
<path class="c45_4" d="M701.3 507.5l9.2-1.7 3.5-2.4 -9.3 1.7z"/>
<path class="c47_4" d="M763.8 494.1l9.2-1.1 3.5-2.4 -9.2 1.1z"/>
<path class="c19_3" d="M359.7 657.2l9.2-2.9 3.5-5.2 -9.2 2.9z"/>
<path class="c46_4" d="M732.5 500.4l9.3-1.4 3.5-2.4 -9.3 1.4z"/>
<path class="c26_3" d="M434.9 618.6l9.3-3.9 3.5-4.4 -9.3 3.8z"/>
<path class="c11_2" d="M253.2 698.7l9.2-1.3 3.5-5.4 -9.3 1.2z"/>
<path class="c33_4" d="M510.2 578.7l9.3-4 3.5-3.3 -9.3 3.8z"/>
<path class="c40_4" d="M616.7 532.7l9.3-2.7 3.5-2.6 -9.3 2.7z"/>
<path class="c24_3" d="M412.9 630.8l9.3-3.8 3.5-4.6 -9.3 3.6z"/>
<path class="c50_3" d="M866.8 478.7l9.3-.5 3.5-2.5 -9.3 .5z"/>
<path class="c17_3" d="M337.7 667.9l9.2-2.6 3.5-5.3 -9.2 2.5z"/>
<path class="c13_2" d="M284.4 689l9.3-1.7 3.5-5.5 -9.3 1.8z"/>
<path class="c37_4" d="M563.5 553.7l9.2-3.4 3.5-2.9 -9.2 3.3z"/>
<path class="c49_3" d="M835.5 482.9l9.3-.6 3.5-2.5 -9.3 .7z"/>
<path class="c31_4" d="M488.2 590.3l9.3-4.1 3.5-3.6 -9.3 3.9z"/>
<path class="c42_4" d="M648 522.5l9.2-2.3 3.5-2.4 -9.2 2.2z"/>
<path class="c22_3" d="M390.9 642.7l9.3-3.5 3.5-4.9 -9.3 3.4z"/>
<path class="c9_2" d="M199.9 713.8l9.2-.6 3.5-5.4 -9.2 .6z"/>
<path class="c48_3" d="M804.3 487.7l9.2-.9 3.5-2.4 -9.2 .8z"/>
<path class="c44_4" d="M679.3 513.6l9.2-1.9 3.5-2.4 -9.3 1.9z"/>
<path class="c10_2" d="M231.2 706.2l9.2-1 3.5-5.4 -9.3 1z"/>
<path class="c47_4" d="M773 493l9.3-1.1 3.5-2.4 -9.3 1.1z"/>
<path class="c15_2" d="M315.7 677.9l9.2-2.2 3.5-5.4 -9.2 2.2z"/>
<path class="c45_4" d="M710.5 505.8l9.3-1.6 3.5-2.4 -9.3 1.6z"/>
<path class="c46_4" d="M741.8 499l9.2-1.3 3.5-2.4 -9.2 1.3z"/>
<path class="c29_3" d="M466.2 602.4l9.3-4.1 3.5-4 -9.3 4z"/>
<path class="c35_4" d="M541.5 563.9l9.2-3.7 3.5-3 -9.2 3.5z"/>
<path class="c39_4" d="M594.7 541.1l9.3-3 3.5-2.6 -9.3 2.9z"/>
<path class="c20_3" d="M368.9 654.3l9.3-3.2 3.5-5.1 -9.3 3.1z"/>
<path class="c12_2" d="M262.4 697.4l9.3-1.3 3.5-5.5 -9.3 1.4z"/>
<path class="c27_3" d="M444.2 614.7l9.3-4.1 3.4-4.2 -9.2 3.9z"/>
<path class="c41_4" d="M626 530l9.2-2.6 3.5-2.5 -9.2 2.5z"/>
<path class="c34_4" d="M519.5 574.7l9.2-3.9 3.5-3.2 -9.2 3.8z"/>
<path class="c14_2" d="M293.7 687.3l9.2-1.8 3.5-5.5 -9.2 1.8z"/>
<path class="c18_3" d="M346.9 665.3l9.3-2.8 3.5-5.3 -9.3 2.8z"/>
<path class="c49_3" d="M844.8 482.3l9.3-.6 3.4-2.5 -9.2 .6z"/>
<path class="c25_3" d="M422.2 627l9.3-3.9 3.4-4.5 -9.2 3.8z"/>
<path class="c38_4" d="M572.7 550.3l9.3-3.3 3.5-2.8 -9.3 3.2z"/>
<path class="c9_2" d="M209.1 713.2l9.3-.7 3.5-5.5 -9.3 .8z"/>
<path class="c43_4" d="M657.2 520.2l9.3-2.2 3.5-2.4 -9.3 2.2z"/>
<path class="c49_3" d="M813.5 486.8l9.3-.8 3.5-2.4 -9.3 .8z"/>
<path class="c11_2" d="M240.4 705.2l9.3-1 3.5-5.5 -9.3 1.1z"/>
<path class="c32_4" d="M497.5 586.2l9.2-4 3.5-3.5 -9.2 3.9z"/>
<path class="c48_4" d="M782.3 491.9l9.2-1 3.5-2.3 -9.2 .9z"/>
<path class="c44_4" d="M688.5 511.7l9.3-1.8 3.5-2.4 -9.3 1.8z"/>
<path class="c22_3" d="M400.2 639.2l9.2-3.6 3.5-4.8 -9.2 3.5z"/>
<path class="c47_4" d="M751 497.7l9.3-1.2 3.5-2.4 -9.3 1.2z"/>
<path class="c46_4" d="M719.8 504.2l9.2-1.5 3.5-2.3 -9.2 1.4z"/>
<path class="c16_2" d="M324.9 675.7l9.3-2.4 3.5-5.4 -9.3 2.4z"/>
<path class="c12_2" d="M271.7 696.1l9.2-1.5 3.5-5.6 -9.2 1.6z"/>
<path class="c40_4" d="M604 538.1l9.2-2.9 3.5-2.5 -9.2 2.8z"/>
<path class="c36_4" d="M550.7 560.2l9.3-3.6 3.5-2.9 -9.3 3.5z"/>
<path class="c30_4" d="M475.5 598.3l9.2-4.2 3.5-3.8 -9.2 4z"/>
<path class="c20_3" d="M378.2 651.1l9.2-3.4 3.5-5 -9.2 3.3z"/>
<path class="c50_3" d="M854.1 481.7l9.2-.6 3.5-2.4 -9.3 .5z"/>
<path class="c42_4" d="M635.2 527.4l9.3-2.5 3.5-2.4 -9.3 2.4z"/>
<path class="c14_2" d="M302.9 685.5l9.3-2.1 3.5-5.5 -9.3 2.1z"/>
<path class="c8_2" d="M187.1 719.7l9.3-.5 3.5-5.4 -9.3 .5z"/>
<path class="c28_3" d="M453.5 610.6l9.2-4.1 3.5-4.1 -9.3 4z"/>
<path class="c10_2" d="M218.4 712.5l9.3-.8 3.5-5.5 -9.3 .8z"/>
<path class="c19_3" d="M356.2 662.5l9.2-3 3.5-5.2 -9.2 2.9z"/>
<path class="c49_3" d="M822.8 486l9.3-.7 3.4-2.4 -9.2 .7z"/>
<path class="c34_4" d="M528.7 570.8l9.3-3.8 3.5-3.1 -9.3 3.7z"/>
<path class="c44_4" d="M666.5 518l9.3-2 3.5-2.4 -9.3 2z"/>
<path class="c39_4" d="M582 547l9.2-3.2 3.5-2.7 -9.2 3.1z"/>
<path class="c11_2" d="M249.7 704.2l9.2-1.2 3.5-5.6 -9.2 1.3z"/>
<path class="c48_4" d="M791.5 490.9l9.3-.9 3.5-2.3 -9.3 .9z"/>
<path class="c25_3" d="M431.5 623.1l9.2-4 3.5-4.4 -9.3 3.9z"/>
<path class="c45_4" d="M697.8 509.9l9.2-1.8 3.5-2.3 -9.2 1.7z"/>
<path class="c47_4" d="M760.3 496.5l9.2-1.2 3.5-2.3 -9.2 1.1z"/>
<path class="c46_4" d="M729 502.7l9.3-1.4 3.5-2.3 -9.3 1.4z"/>
<path class="c17_2" d="M334.2 673.3l9.2-2.6 3.5-5.4 -9.2 2.6z"/>
<path class="c33_4" d="M506.7 582.2l9.3-4.1 3.5-3.4 -9.3 4z"/>
<path class="c13_2" d="M280.9 694.6l9.3-1.7 3.5-5.6 -9.3 1.7z"/>
<path class="c23_3" d="M409.4 635.6l9.3-3.9 3.5-4.7 -9.3 3.8z"/>
<path class="c41_4" d="M613.2 535.2l9.3-2.7 3.5-2.5 -9.3 2.7z"/>
<path class="c50_3" d="M863.3 481.1l9.3-.5 3.5-2.4 -9.3 .5z"/>
<path class="c37_4" d="M560 556.6l9.2-3.5 3.5-2.8 -9.2 3.4z"/>
<path class="c9_2" d="M196.4 719.2l9.3-.6 3.4-5.4 -9.2 .6z"/>
<path class="c21_3" d="M387.4 647.7l9.3-3.5 3.5-5 -9.3 3.5z"/>
<path class="c31_4" d="M484.7 594.1l9.3-4.2 3.5-3.7 -9.3 4.1z"/>
<path class="c10_2" d="M227.7 711.7l9.2-.9 3.5-5.6 -9.2 1z"/>
<path class="c49_3" d="M832.1 485.3l9.2-.6 3.5-2.4 -9.3 .6z"/>
<path class="c15_2" d="M312.2 683.4l9.2-2.2 3.5-5.5 -9.2 2.2z"/>
<path class="c43_4" d="M644.5 524.9l9.3-2.3 3.4-2.4 -9.2 2.3z"/>
<path class="c49_4" d="M800.8 490l9.2-.8 3.5-2.4 -9.2 .9z"/>
<path class="c29_3" d="M462.7 606.5l9.3-4.3 3.5-3.9 -9.3 4.1z"/>
<path class="c12_2" d="M258.9 703l9.3-1.4 3.5-5.5 -9.3 1.3z"/>
<path class="c19_3" d="M365.4 659.5l9.3-3.2 3.5-5.2 -9.3 3.2z"/>
<path class="c44_4" d="M675.8 516l9.2-2 3.5-2.3 -9.2 1.9z"/>
<path class="c48_4" d="M769.5 495.3l9.3-1 3.5-2.4 -9.3 1.1z"/>
<path class="c35_4" d="M538 567l9.2-3.8 3.5-3 -9.2 3.7z"/>
<path class="c45_4" d="M707 508.1l9.3-1.6 3.5-2.3 -9.3 1.6z"/>
<path class="c47_4" d="M738.3 501.3l9.2-1.3 3.5-2.3 -9.2 1.3z"/>
<path class="c39_4" d="M591.2 543.8l9.3-3.1 3.5-2.6 -9.3 3z"/>
<path class="c26_3" d="M440.7 619.1l9.3-4.2 3.5-4.3 -9.3 4.1z"/>
<path class="c13_2" d="M290.2 692.9l9.2-1.9 3.5-5.5 -9.2 1.8z"/>
<path class="c17_3" d="M343.4 670.7l9.3-2.8 3.5-5.4 -9.3 2.8z"/>
<path class="c34_4" d="M516 578.1l9.2-4 3.5-3.3 -9.2 3.9z"/>
<path class="c24_3" d="M418.7 631.7l9.3-4 3.5-4.6 -9.3 3.9z"/>
<path class="c9_2" d="M205.7 718.6l9.2-.6 3.5-5.5 -9.3 .7z"/>
<path class="c41_4" d="M622.5 532.5l9.3-2.7 3.4-2.4 -9.2 2.6z"/>
<path class="c50_3" d="M841.3 484.7l9.3-.6 3.5-2.4 -9.3 .6z"/>
<path class="c10_2" d="M236.9 710.8l9.3-1.1 3.5-5.5 -9.3 1z"/>
<path class="c38_4" d="M569.2 553.1l9.3-3.4 3.5-2.7 -9.3 3.3z"/>
<path class="c22_3" d="M396.7 644.2l9.3-3.8 3.4-4.8 -9.2 3.6z"/>
<path class="c16_2" d="M321.4 681.2l9.3-2.4 3.5-5.5 -9.3 2.4z"/>
<path class="c43_4" d="M653.8 522.6l9.2-2.2 3.5-2.4 -9.3 2.2z"/>
<path class="c49_3" d="M810 489.2l9.3-.8 3.5-2.4 -9.3 .8z"/>
<path class="c32_4" d="M494 589.9l9.2-4.2 3.5-3.5 -9.2 4z"/>
<path class="c12_2" d="M268.2 701.6l9.2-1.5 3.5-5.5 -9.2 1.5z"/>
<path class="c48_4" d="M778.8 494.3l9.2-1 3.5-2.4 -9.2 1z"/>
<path class="c45_4" d="M685 514l9.3-1.8 3.5-2.3 -9.3 1.8z"/>
<path class="c47_4" d="M747.5 500l9.3-1.2 3.5-2.3 -9.3 1.2z"/>
<path class="c46_4" d="M716.3 506.5l9.2-1.5 3.5-2.3 -9.2 1.5z"/>
<path class="c20_3" d="M374.7 656.3l9.3-3.4 3.4-5.2 -9.2 3.4z"/>
<path class="c30_4" d="M472 602.2l9.2-4.3 3.5-3.8 -9.2 4.2z"/>
<path class="c40_4" d="M600.5 540.7l9.2-2.9 3.5-2.6 -9.2 2.9z"/>
<path class="c36_4" d="M547.2 563.2l9.3-3.7 3.5-2.9 -9.3 3.6z"/>
<path class="c14_2" d="M299.4 691l9.3-2 3.5-5.6 -9.3 2.1z"/>
<path class="c8_2" d="M183.7 725.1l9.2-.5 3.5-5.4 -9.3 .5z"/>
<path class="c9_2" d="M214.9 718l9.3-.8 3.5-5.5 -9.3 .8z"/>
<path class="c27_3" d="M450 614.9l9.2-4.3 3.5-4.1 -9.2 4.1z"/>
<path class="c18_3" d="M352.7 667.9l9.2-3.1 3.5-5.3 -9.2 3z"/>
<path class="c50_3" d="M850.6 484.1l9.2-.5 3.5-2.5 -9.2 .6z"/>
<path class="c11_2" d="M246.2 709.7l9.2-1.2 3.5-5.5 -9.2 1.2z"/>
<path class="c42_4" d="M631.8 529.8l9.2-2.5 3.5-2.4 -9.3 2.5z"/>
<path class="c35_4" d="M525.2 574.1l9.3-4 3.5-3.1 -9.3 3.8z"/>
<path class="c25_3" d="M428 627.7l9.2-4.2 3.5-4.4 -9.2 4z"/>
<path class="c49_3" d="M819.3 488.4l9.3-.7 3.5-2.4 -9.3 .7z"/>
<path class="c39_4" d="M578.5 549.7l9.2-3.3 3.5-2.6 -9.2 3.2z"/>
<path class="c44_4" d="M663 520.4l9.3-2.1 3.5-2.3 -9.3 2z"/>
<path class="c16_2" d="M330.7 678.8l9.2-2.6 3.5-5.5 -9.2 2.6z"/>
<path class="c48_4" d="M788 493.3l9.3-.9 3.5-2.4 -9.3 .9z"/>
<path class="c13_2" d="M277.4 700.1l9.3-1.6 3.5-5.6 -9.3 1.7z"/>
<path class="c23_3" d="M406 640.4l9.2-3.9 3.5-4.8 -9.3 3.9z"/>
<path class="c45_4" d="M694.3 512.2l9.2-1.7 3.5-2.4 -9.2 1.8z"/>
<path class="c47_4" d="M756.8 498.8l9.2-1.1 3.5-2.4 -9.2 1.2z"/>
<path class="c46_4" d="M725.5 505l9.3-1.4 3.5-2.3 -9.3 1.4z"/>
<path class="c33_4" d="M503.2 585.7l9.3-4.2 3.5-3.4 -9.3 4.1z"/>
<path class="c8_2" d="M192.9 724.6l9.3-.5 3.5-5.5 -9.3 .6z"/>
<path class="c21_3" d="M384 652.9l9.2-3.7 3.5-5 -9.3 3.5z"/>
<path class="c41_4" d="M609.7 537.8l9.3-2.9 3.5-2.4 -9.3 2.7z"/>
<path class="c10_2" d="M224.2 717.2l9.2-.9 3.5-5.5 -9.2 .9z"/>
<path class="c15_2" d="M308.7 689l9.2-2.2 3.5-5.6 -9.2 2.2z"/>
<path class="c37_4" d="M556.5 559.5l9.2-3.6 3.5-2.8 -9.2 3.5z"/>
<path class="c31_4" d="M481.2 597.9l9.3-4.4 3.5-3.6 -9.3 4.2z"/>
<path class="c50_3" d="M859.8 483.6l9.3-.5 3.5-2.5 -9.3 .5z"/>
<path class="c11_2" d="M255.4 708.5l9.3-1.3 3.5-5.6 -9.3 1.4z"/>
<path class="c19_3" d="M361.9 664.8l9.3-3.2 3.5-5.3 -9.3 3.2z"/>
<path class="c50_3" d="M828.6 487.7l9.2-.6 3.5-2.4 -9.2 .6z"/>
<path class="c43_4" d="M641 527.3l9.3-2.3 3.5-2.4 -9.3 2.3z"/>
<path class="c28_3" d="M459.2 610.6l9.3-4.4 3.5-4 -9.3 4.3z"/>
<path class="c49_4" d="M797.3 492.4l9.3-.8 3.4-2.4 -9.2 .8z"/>
<path class="c44_4" d="M672.3 518.3l9.2-2 3.5-2.3 -9.2 2z"/>
<path class="c36_4" d="M534.5 570.1l9.2-3.9 3.5-3 -9.2 3.8z"/>
<path class="c13_2" d="M286.7 698.5l9.2-1.8 3.5-5.7 -9.2 1.9z"/>
<path class="c48_4" d="M766 497.7l9.3-1.1 3.5-2.3 -9.3 1z"/>
<path class="c26_3" d="M437.2 623.5l9.3-4.3 3.5-4.3 -9.3 4.2z"/>
<path class="c17_3" d="M339.9 676.2l9.3-2.9 3.5-5.4 -9.3 2.8z"/>
<path class="c40_4" d="M587.7 546.4l9.3-3.1 3.5-2.6 -9.3 3.1z"/>
<path class="c46_4" d="M703.5 510.5l9.3-1.7 3.5-2.3 -9.3 1.6z"/>
<path class="c47_4" d="M734.8 503.6l9.2-1.3 3.5-2.3 -9.2 1.3z"/>
<path class="c9_2" d="M202.2 724.1l9.2-.6 3.5-5.5 -9.2 .6z"/>
<path class="c24_3" d="M415.2 636.5l9.3-4.2 3.5-4.6 -9.3 4z"/>
<path class="c10_2" d="M233.4 716.3l9.3-1 3.5-5.6 -9.3 1.1z"/>
<path class="c34_4" d="M512.5 581.5l9.2-4.2 3.5-3.2 -9.2 4z"/>
<path class="c15_2" d="M317.9 686.8l9.3-2.4 3.5-5.6 -9.3 2.4z"/>
<path class="c42_4" d="M619 534.9l9.3-2.7 3.5-2.4 -9.3 2.7z"/>
<path class="c22_3" d="M393.2 649.2l9.3-3.8 3.5-5 -9.3 3.8z"/>
<path class="c12_2" d="M264.7 707.2l9.2-1.4 3.5-5.7 -9.2 1.5z"/>
<path class="c50_3" d="M837.8 487.1l9.3-.6 3.5-2.4 -9.3 .6z"/>
<path class="c38_4" d="M565.7 555.9l9.3-3.5 3.5-2.7 -9.3 3.4z"/>
<path class="c32_4" d="M490.5 593.5l9.2-4.3 3.5-3.5 -9.2 4.2z"/>
<path class="c43_4" d="M650.3 525l9.2-2.3 3.5-2.3 -9.2 2.2z"/>
<path class="c49_3" d="M806.6 491.6l9.2-.8 3.5-2.4 -9.3 .8z"/>
<path class="c20_3" d="M371.2 661.6l9.3-3.5 3.5-5.2 -9.3 3.4z"/>
<path class="c48_4" d="M775.3 496.6l9.3-1 3.4-2.3 -9.2 1z"/>
<path class="c45_4" d="M681.5 516.3l9.3-1.8 3.5-2.3 -9.3 1.8z"/>
<path class="c14_2" d="M295.9 696.7l9.3-2.1 3.5-5.6 -9.3 2z"/>
<path class="c30_4" d="M468.5 606.2l9.2-4.5 3.5-3.8 -9.2 4.3z"/>
<path class="c8_2" d="M180.2 730.5l9.2-.4 3.5-5.5 -9.2 .5z"/>
<path class="c47_4" d="M744 502.3l9.3-1.2 3.5-2.3 -9.3 1.2z"/>
<path class="c46_4" d="M712.8 508.8l9.2-1.5 3.5-2.3 -9.2 1.5z"/>
<path class="c9_2" d="M211.4 723.5l9.3-.8 3.5-5.5 -9.3 .8z"/>
<path class="c36_4" d="M543.7 566.2l9.3-3.9 3.5-2.8 -9.3 3.7z"/>
<path class="c18_3" d="M349.2 673.3l9.3-3.1 3.4-5.4 -9.2 3.1z"/>
<path class="c40_5" d="M597 543.3l9.3-3.1 3.4-2.4 -9.2 2.9z"/>
<path class="c27_3" d="M446.5 619.2l9.2-4.5 3.5-4.1 -9.2 4.3z"/>
<path class="c10_2" d="M242.7 715.3l9.2-1.1 3.5-5.7 -9.2 1.2z"/>
<path class="c25_3" d="M424.5 632.3l9.2-4.3 3.5-4.5 -9.2 4.2z"/>
<path class="c50_3" d="M847.1 486.5l9.2-.5 3.5-2.4 -9.2 .5z"/>
<path class="c16_2" d="M327.2 684.4l9.3-2.7 3.4-5.5 -9.2 2.6z"/>
<path class="c42_4" d="M628.3 532.2l9.2-2.5 3.5-2.4 -9.2 2.5z"/>
<path class="c12_2" d="M273.9 705.8l9.3-1.6 3.5-5.7 -9.3 1.6z"/>
<path class="c35_4" d="M521.7 577.3l9.3-4.1 3.5-3.1 -9.3 4z"/>
<path class="c49_3" d="M815.8 490.8l9.3-.7 3.5-2.4 -9.3 .7z"/>
<path class="c23_3" d="M402.5 645.4l9.2-4.1 3.5-4.8 -9.2 3.9z"/>
<path class="c39_5" d="M575 552.4l9.3-3.4 3.4-2.6 -9.2 3.3z"/>
<path class="c44_4" d="M659.5 522.7l9.3-2.1 3.5-2.3 -9.3 2.1z"/>
<path class="c49_4" d="M784.6 495.6l9.2-.8 3.5-2.4 -9.3 .9z"/>
<path class="c8_2" d="M189.4 730.1l9.3-.5 3.5-5.5 -9.3 .5z"/>
<path class="c33_4" d="M499.7 589.2l9.3-4.4 3.5-3.3 -9.3 4.2z"/>
<path class="c45_4" d="M690.8 514.5l9.2-1.8 3.5-2.2 -9.2 1.7z"/>
<path class="c48_4" d="M753.3 501.1l9.2-1.1 3.5-2.3 -9.2 1.1z"/>
<path class="c21_3" d="M380.5 658.1l9.2-3.8 3.5-5.1 -9.2 3.7z"/>
<path class="c9_2" d="M220.7 722.7l9.2-.8 3.5-5.6 -9.2 .9z"/>
<path class="c47_4" d="M722 507.3l9.3-1.4 3.5-2.3 -9.3 1.4z"/>
<path class="c14_2" d="M305.2 694.6l9.2-2.2 3.5-5.6 -9.2 2.2z"/>
<path class="c11_2" d="M251.9 714.2l9.3-1.3 3.5-5.7 -9.3 1.3z"/>
<path class="c31_4" d="M477.7 601.7l9.3-4.5 3.5-3.7 -9.3 4.4z"/>
<path class="c41_5" d="M606.3 540.2l9.2-2.9 3.5-2.4 -9.3 2.9z"/>
<path class="c19_3" d="M358.5 670.2l9.2-3.3 3.5-5.3 -9.3 3.2z"/>
<path class="c37_5" d="M553 562.3l9.2-3.7 3.5-2.7 -9.2 3.6z"/>
<path class="c50_3" d="M856.3 486l9.3-.5 3.5-2.4 -9.3 .5z"/>
<path class="c28_4" d="M455.7 614.7l9.3-4.5 3.5-4 -9.3 4.4z"/>
<path class="c13_2" d="M283.2 704.2l9.2-1.9 3.5-5.6 -9.2 1.8z"/>
<path class="c50_3" d="M825.1 490.1l9.2-.6 3.5-2.4 -9.2 .6z"/>
<path class="c43_4" d="M637.5 529.7l9.3-2.4 3.5-2.3 -9.3 2.3z"/>
<path class="c17_2" d="M336.5 681.7l9.2-2.9 3.5-5.5 -9.3 2.9z"/>
<path class="c26_3" d="M433.7 628l9.3-4.5 3.5-4.3 -9.3 4.3z"/>
<path class="c49_4" d="M793.8 494.8l9.3-.9 3.5-2.3 -9.3 .8z"/>
<path class="c8_2" d="M198.7 729.6l9.2-.6 3.5-5.5 -9.2 .6z"/>
<path class="c36_4" d="M531 573.2l9.2-4.1 3.5-2.9 -9.2 3.9z"/>
<path class="c45_4" d="M668.8 520.6l9.2-2 3.5-2.3 -9.2 2z"/>
<path class="c48_4" d="M762.5 500l9.3-1.1 3.5-2.3 -9.3 1.1z"/>
<path class="c10_2" d="M229.9 721.9l9.3-1 3.5-5.6 -9.3 1z"/>
<path class="c40_5" d="M584.3 549l9.2-3.2 3.5-2.5 -9.3 3.1z"/>
<path class="c24_3" d="M411.7 641.3l9.3-4.3 3.5-4.7 -9.3 4.2z"/>
<path class="c46_4" d="M700 512.7l9.3-1.6 3.5-2.3 -9.3 1.7z"/>
<path class="c47_4" d="M731.3 505.9l9.2-1.3 3.5-2.3 -9.2 1.3z"/>
<path class="c15_2" d="M314.4 692.4l9.3-2.4 3.5-5.6 -9.3 2.4z"/>
<path class="c22_3" d="M389.7 654.3l9.3-3.9 3.5-5 -9.3 3.8z"/>
<path class="c11_2" d="M261.2 712.9l9.2-1.4 3.5-5.7 -9.2 1.4z"/>
<path class="c34_4" d="M509 584.8l9.2-4.3 3.5-3.2 -9.2 4.2z"/>
<path class="c42_5" d="M615.5 537.3l9.3-2.7 3.5-2.4 -9.3 2.7z"/>
<path class="c19_3" d="M367.7 666.9l9.3-3.6 3.5-5.2 -9.3 3.5z"/>
<path class="c32_4" d="M487 597.2l9.2-4.5 3.5-3.5 -9.2 4.3z"/>
<path class="c50_3" d="M834.3 489.5l9.3-.6 3.5-2.4 -9.3 .6z"/>
<path class="c38_5" d="M562.2 558.6l9.3-3.6 3.5-2.6 -9.3 3.5z"/>
<path class="c13_2" d="M292.4 702.3l9.3-1.9 3.5-5.8 -9.3 2.1z"/>
<path class="c7_2" d="M176.7 735.9l9.2-.3 3.5-5.5 -9.2 .4z"/>
<path class="c44_4" d="M646.8 527.3l9.2-2.3 3.5-2.3 -9.2 2.3z"/>
<path class="c8_2" d="M207.9 729l9.3-.7 3.5-5.6 -9.3 .8z"/>
<path class="c49_4" d="M803.1 493.9l9.2-.7 3.5-2.4 -9.2 .8z"/>
<path class="c29_4" d="M465 610.2l9.2-4.6 3.5-3.9 -9.2 4.5z"/>
<path class="c17_3" d="M345.7 678.8l9.3-3.1 3.5-5.5 -9.3 3.1z"/>
<path class="c49_4" d="M771.8 498.9l9.3-.9 3.5-2.4 -9.3 1z"/>
<path class="c10_2" d="M239.2 720.9l9.2-1 3.5-5.7 -9.2 1.1z"/>
<path class="c45_4" d="M678 518.6l9.3-1.9 3.5-2.2 -9.3 1.8z"/>
<path class="c48_4" d="M740.5 504.6l9.3-1.2 3.5-2.3 -9.3 1.2z"/>
<path class="c46_4" d="M709.3 511.1l9.2-1.5 3.5-2.3 -9.2 1.5z"/>
<path class="c27_3" d="M443 623.5l9.2-4.6 3.5-4.2 -9.2 4.5z"/>
<path class="c37_5" d="M540.2 569.1l9.3-4 3.5-2.8 -9.3 3.9z"/>
<path class="c41_5" d="M593.5 545.8l9.3-3.2 3.5-2.4 -9.3 3.1z"/>
<path class="c16_2" d="M323.7 690l9.3-2.7 3.5-5.6 -9.3 2.7z"/>
<path class="c12_2" d="M270.4 711.5l9.3-1.6 3.5-5.7 -9.3 1.6z"/>
<path class="c25_3" d="M421 637l9.2-4.4 3.5-4.6 -9.2 4.3z"/>
<path class="c23_3" d="M399 650.4l9.2-4.2 3.5-4.9 -9.2 4.1z"/>
<path class="c50_3" d="M843.6 488.9l9.2-.5 3.5-2.4 -9.2 .5z"/>
<path class="c35_4" d="M518.2 580.5l9.3-4.3 3.5-3 -9.3 4.1z"/>
<path class="c43_5" d="M624.8 534.6l9.2-2.6 3.5-2.3 -9.2 2.5z"/>
<path class="c7_2" d="M185.9 735.6l9.3-.5 3.5-5.5 -9.3 .5z"/>
<path class="c9_2" d="M217.2 728.3l9.2-.8 3.5-5.6 -9.2 .8z"/>
<path class="c50_3" d="M812.3 493.2l9.3-.7 3.5-2.4 -9.3 .7z"/>
<path class="c20_3" d="M377 663.3l9.2-3.8 3.5-5.2 -9.2 3.8z"/>
<path class="c14_2" d="M301.7 700.4l9.3-2.3 3.4-5.7 -9.2 2.2z"/>
<path class="c39_5" d="M571.5 555l9.3-3.5 3.5-2.5 -9.3 3.4z"/>
<path class="c44_4" d="M656 525l9.3-2.2 3.5-2.2 -9.3 2.1z"/>
<path class="c33_4" d="M496.2 592.7l9.3-4.6 3.5-3.3 -9.3 4.4z"/>
<path class="c49_4" d="M781.1 498l9.2-.9 3.5-2.3 -9.2 .8z"/>
<path class="c10_2" d="M248.4 719.9l9.3-1.3 3.5-5.7 -9.3 1.3z"/>
<path class="c46_4" d="M687.3 516.7l9.2-1.8 3.5-2.2 -9.2 1.8z"/>
<path class="c48_4" d="M749.8 503.4l9.3-1.2 3.4-2.2 -9.2 1.1z"/>
<path class="c18_3" d="M355 675.7l9.2-3.4 3.5-5.4 -9.2 3.3z"/>
<path class="c47_4" d="M718.5 509.6l9.3-1.4 3.5-2.3 -9.3 1.4z"/>
<path class="c31_4" d="M474.2 605.6l9.3-4.7 3.5-3.7 -9.3 4.5z"/>
<path class="c12_2" d="M279.7 709.9l9.3-1.8 3.4-5.8 -9.2 1.9z"/>
<path class="c41_5" d="M602.8 542.6l9.2-2.9 3.5-2.4 -9.2 2.9z"/>
<path class="c38_5" d="M549.5 565.1l9.3-3.8 3.4-2.7 -9.2 3.7z"/>
<path class="c28_4" d="M452.2 618.9l9.3-4.7 3.5-4 -9.3 4.5z"/>
<path class="c16_2" d="M333 687.3l9.2-2.9 3.5-5.6 -9.2 2.9z"/>
<path class="c51_3" d="M852.8 488.4l9.3-.4 3.5-2.5 -9.3 .5z"/>
<path class="c8_2" d="M195.2 735.1l9.2-.5 3.5-5.6 -9.2 .6z"/>
<path class="c26_3" d="M430.2 632.6l9.3-4.6 3.5-4.5 -9.3 4.5z"/>
<path class="c50_3" d="M821.6 492.5l9.2-.6 3.5-2.4 -9.2 .6z"/>
<path class="c9_2" d="M226.4 727.5l9.3-.9 3.5-5.7 -9.3 1z"/>
<path class="c43_4" d="M634 532l9.3-2.5 3.5-2.2 -9.3 2.4z"/>
<path class="c24_3" d="M408.2 646.2l9.3-4.4 3.5-4.8 -9.3 4.3z"/>
<path class="c36_5" d="M527.5 576.2l9.3-4.2 3.4-2.9 -9.2 4.1z"/>
<path class="c14_2" d="M311 698.1l9.2-2.4 3.5-5.7 -9.3 2.4z"/>
<path class="c49_4" d="M790.3 497.1l9.3-.8 3.5-2.4 -9.3 .9z"/>
<path class="c45_4" d="M665.3 522.8l9.2-2 3.5-2.2 -9.2 2z"/>
<path class="c11_2" d="M257.7 718.6l9.3-1.4 3.4-5.7 -9.2 1.4z"/>
<path class="c21_3" d="M386.2 659.5l9.3-4 3.5-5.1 -9.3 3.9z"/>
<path class="c48_4" d="M759.1 502.2l9.2-1 3.5-2.3 -9.3 1.1z"/>
<path class="c40_5" d="M580.8 551.5l9.2-3.3 3.5-2.4 -9.2 3.2z"/>
<path class="c46_4" d="M696.5 514.9l9.3-1.6 3.5-2.2 -9.3 1.6z"/>
<path class="c47_4" d="M727.8 508.2l9.3-1.4 3.4-2.2 -9.2 1.3z"/>
<path class="c34_4" d="M505.5 588.1l9.3-4.5 3.4-3.1 -9.2 4.3z"/>
<path class="c19_3" d="M364.2 672.3l9.3-3.6 3.5-5.4 -9.3 3.6z"/>
<path class="c13_2" d="M289 708.1l9.2-2 3.5-5.7 -9.3 1.9z"/>
<path class="c7_2" d="M173.2 741.4l9.2-.3 3.5-5.5 -9.2 .3z"/>
<path class="c42_5" d="M612 539.7l9.3-2.8 3.5-2.3 -9.3 2.7z"/>
<path class="c32_4" d="M483.5 600.9l9.2-4.7 3.5-3.5 -9.2 4.5z"/>
<path class="c8_2" d="M204.4 734.6l9.3-.6 3.5-5.7 -9.3 .7z"/>
<path class="c17_3" d="M342.2 684.4l9.3-3.1 3.5-5.6 -9.3 3.1z"/>
<path class="c38_5" d="M558.8 561.3l9.2-3.7 3.5-2.6 -9.3 3.6z"/>
<path class="c50_3" d="M830.8 491.9l9.3-.6 3.5-2.4 -9.3 .6z"/>
<path class="c10_2" d="M235.7 726.6l9.2-1 3.5-5.7 -9.2 1z"/>
<path class="c29_4" d="M461.5 614.2l9.2-4.8 3.5-3.8 -9.2 4.6z"/>
<path class="c44_4" d="M643.3 529.5l9.2-2.3 3.5-2.2 -9.2 2.3z"/>
<path class="c50_4" d="M799.6 496.3l9.2-.8 3.5-2.3 -9.2 .7z"/>
<path class="c27_3" d="M439.5 628l9.2-4.8 3.5-4.3 -9.2 4.6z"/>
<path class="c15_2" d="M320.2 695.7l9.3-2.6 3.5-5.8 -9.3 2.7z"/>
<path class="c11_2" d="M267 717.2l9.2-1.5 3.5-5.8 -9.3 1.6z"/>
<path class="c49_4" d="M768.3 501.2l9.3-1 3.5-2.2 -9.3 .9z"/>
<path class="c45_4" d="M674.5 520.8l9.3-1.9 3.5-2.2 -9.3 1.9z"/>
<path class="c48_4" d="M737.1 506.8l9.2-1.2 3.5-2.2 -9.3 1.2z"/>
<path class="c37_5" d="M536.8 572l9.2-4.1 3.5-2.8 -9.3 4z"/>
<path class="c47_4" d="M705.8 513.3l9.3-1.5 3.4-2.2 -9.2 1.5z"/>
<path class="c25_3" d="M417.5 641.8l9.2-4.6 3.5-4.6 -9.2 4.4z"/>
<path class="c41_5" d="M590 548.2l9.3-3.2 3.5-2.4 -9.3 3.2z"/>
<path class="c22_3" d="M395.5 655.5l9.2-4.3 3.5-5 -9.2 4.2z"/>
<path class="c7_2" d="M182.4 741.1l9.3-.4 3.5-5.6 -9.3 .5z"/>
<path class="c8_2" d="M213.7 734l9.2-.8 3.5-5.7 -9.2 .8z"/>
<path class="c13_2" d="M298.2 706.1l9.3-2.1 3.5-5.9 -9.3 2.3z"/>
<path class="c35_5" d="M514.8 583.6l9.2-4.4 3.5-3 -9.3 4.3z"/>
<path class="c20_3" d="M373.5 668.7l9.2-3.9 3.5-5.3 -9.2 3.8z"/>
<path class="c51_3" d="M840.1 491.3l9.2-.5 3.5-2.4 -9.2 .5z"/>
<path class="c43_5" d="M621.3 536.9l9.2-2.7 3.5-2.2 -9.2 2.6z"/>
<path class="c10_2" d="M244.9 725.6l9.3-1.2 3.5-5.8 -9.3 1.3z"/>
<path class="c50_4" d="M808.8 495.5l9.3-.7 3.5-2.3 -9.3 .7z"/>
<path class="c18_3" d="M351.5 681.3l9.2-3.4 3.5-5.6 -9.2 3.4z"/>
<path class="c39_5" d="M568 557.6l9.3-3.6 3.5-2.5 -9.3 3.5z"/>
<path class="c33_4" d="M492.7 596.2l9.3-4.7 3.5-3.4 -9.3 4.6z"/>
<path class="c45_4" d="M652.5 527.2l9.3-2.2 3.5-2.2 -9.3 2.2z"/>
<path class="c49_4" d="M777.6 500.2l9.2-.8 3.5-2.3 -9.2 .9z"/>
<path class="c12_2" d="M276.2 715.7l9.3-1.8 3.5-5.8 -9.3 1.8z"/>
<path class="c48_4" d="M746.3 505.6l9.3-1.1 3.5-2.3 -9.3 1.2z"/>
<path class="c46_4" d="M683.8 518.9l9.2-1.8 3.5-2.2 -9.2 1.8z"/>
<path class="c31_4" d="M470.7 609.4l9.3-4.9 3.5-3.6 -9.3 4.7z"/>
<path class="c47_4" d="M715.1 511.8l9.2-1.4 3.5-2.2 -9.3 1.4z"/>
<path class="c16_2" d="M329.5 693.1l9.2-3 3.5-5.7 -9.2 2.9z"/>
<path class="c28_4" d="M448.7 623.2l9.3-4.9 3.5-4.1 -9.3 4.7z"/>
<path class="c7_2" d="M191.7 740.7l9.2-.5 3.5-5.6 -9.2 .5z"/>
<path class="c38_5" d="M546 567.9l9.3-4 3.5-2.6 -9.3 3.8z"/>
<path class="c42_5" d="M599.3 545l9.2-3 3.5-2.3 -9.2 2.9z"/>
<path class="c9_2" d="M222.9 733.2l9.3-.8 3.5-5.8 -9.3 .9z"/>
<path class="c26_3" d="M426.7 637.2l9.3-4.8 3.5-4.4 -9.3 4.6z"/>
<path class="c51_3" d="M849.3 490.8l9.3-.4 3.5-2.4 -9.3 .4z"/>
<path class="c14_2" d="M307.5 704l9.2-2.5 3.5-5.8 -9.2 2.4z"/>
<path class="c23_3" d="M404.7 651.2l9.3-4.6 3.5-4.8 -9.3 4.4z"/>
<path class="c10_2" d="M254.2 724.4l9.3-1.3 3.5-5.9 -9.3 1.4z"/>
<path class="c50_3" d="M818.1 494.8l9.2-.6 3.5-2.3 -9.2 .6z"/>
<path class="c43_5" d="M630.5 534.2l9.3-2.5 3.5-2.2 -9.3 2.5z"/>
<path class="c21_3" d="M382.7 664.8l9.3-4.1 3.5-5.2 -9.3 4z"/>
<path class="c36_5" d="M524 579.2l9.3-4.3 3.5-2.9 -9.3 4.2z"/>
<path class="c49_4" d="M786.8 499.4l9.3-.9 3.5-2.2 -9.3 .8z"/>
<path class="c45_4" d="M661.8 525l9.2-2 3.5-2.2 -9.2 2z"/>
<path class="c19_3" d="M360.7 677.9l9.3-3.7 3.5-5.5 -9.3 3.6z"/>
<path class="c40_5" d="M577.3 554l9.2-3.4 3.5-2.4 -9.2 3.3z"/>
<path class="c49_4" d="M755.6 504.5l9.2-1.1 3.5-2.2 -9.2 1z"/>
<path class="c12_2" d="M285.5 713.9l9.2-1.9 3.5-5.9 -9.2 2z"/>
<path class="c46_4" d="M693 517.1l9.3-1.6 3.5-2.2 -9.3 1.6z"/>
<path class="c48_4" d="M724.3 510.4l9.3-1.4 3.5-2.2 -9.3 1.4z"/>
<path class="c34_4" d="M502 591.5l9.3-4.7 3.5-3.2 -9.3 4.5z"/>
<path class="c6_2" d="M169.7 746.9l9.2-.2 3.5-5.6 -9.2 .3z"/>
<path class="c8_2" d="M200.9 740.2l9.3-.5 3.5-5.7 -9.3 .6z"/>
<path class="c17_3" d="M338.7 690.1l9.3-3.1 3.5-5.7 -9.3 3.1z"/>
<path class="c9_2" d="M232.2 732.4l9.3-1 3.4-5.8 -9.2 1z"/>
<path class="c32_4" d="M480 604.5l9.3-4.9 3.4-3.4 -9.2 4.7z"/>
<path class="c42_5" d="M608.5 542l9.3-2.9 3.5-2.2 -9.3 2.8z"/>
<path class="c39_5" d="M555.3 563.9l9.2-3.8 3.5-2.5 -9.2 3.7z"/>
<path class="c29_4" d="M458 618.3l9.3-5 3.4-3.9 -9.2 4.8z"/>
<path class="c51_3" d="M827.3 494.2l9.3-.5 3.5-2.4 -9.3 .6z"/>
<path class="c11_2" d="M263.5 723.1l9.2-1.5 3.5-5.9 -9.2 1.5z"/>
<path class="c15_2" d="M316.7 701.5l9.3-2.6 3.5-5.8 -9.3 2.6z"/>
<path class="c27_3" d="M436 632.4l9.2-4.9 3.5-4.3 -9.2 4.8z"/>
<path class="c50_4" d="M796.1 498.5l9.2-.7 3.5-2.3 -9.2 .8z"/>
<path class="c44_5" d="M639.8 531.7l9.2-2.3 3.5-2.2 -9.2 2.3z"/>
<path class="c24_3" d="M414 646.6l9.2-4.7 3.5-4.7 -9.2 4.6z"/>
<path class="c49_4" d="M764.8 503.4l9.3-.9 3.5-2.3 -9.3 1z"/>
<path class="c22_3" d="M392 660.7l9.2-4.5 3.5-5 -9.2 4.3z"/>
<path class="c46_4" d="M671 523l9.3-1.9 3.5-2.2 -9.3 1.9z"/>
<path class="c37_5" d="M533.3 574.9l9.2-4.3 3.5-2.7 -9.2 4.1z"/>
<path class="c7_2" d="M178.9 746.7l9.3-.4 3.5-5.6 -9.3 .4z"/>
<path class="c48_4" d="M733.6 509l9.2-1.2 3.5-2.2 -9.2 1.2z"/>
<path class="c47_4" d="M702.3 515.5l9.3-1.6 3.5-2.1 -9.3 1.5z"/>
<path class="c13_2" d="M294.7 712l9.3-2.2 3.5-5.8 -9.3 2.1z"/>
<path class="c8_2" d="M210.2 739.7l9.3-.7 3.4-5.8 -9.2 .8z"/>
<path class="c41_5" d="M586.5 550.6l9.3-3.3 3.5-2.3 -9.3 3.2z"/>
<path class="c20_3" d="M370 674.2l9.2-4 3.5-5.4 -9.2 3.9z"/>
<path class="c10_2" d="M241.5 731.4l9.2-1.2 3.5-5.8 -9.3 1.2z"/>
<path class="c35_5" d="M511.3 586.8l9.2-4.6 3.5-3 -9.2 4.4z"/>
<path class="c18_3" d="M348 687l9.2-3.5 3.5-5.6 -9.2 3.4z"/>
<path class="c51_3" d="M836.6 493.7l9.2-.5 3.5-2.4 -9.2 .5z"/>
<path class="c43_5" d="M617.8 539.1l9.2-2.7 3.5-2.2 -9.2 2.7z"/>
<path class="c11_2" d="M272.7 721.6l9.3-1.8 3.5-5.9 -9.3 1.8z"/>
<path class="c33_4" d="M489.3 599.6l9.2-4.8 3.5-3.3 -9.3 4.7z"/>
<path class="c50_4" d="M805.3 497.8l9.3-.7 3.5-2.3 -9.3 .7z"/>
<path class="c15_2" d="M326 698.9l9.2-3 3.5-5.8 -9.2 3z"/>
<path class="c40_5" d="M564.5 560.1l9.3-3.7 3.5-2.4 -9.3 3.6z"/>
<path class="c30_4" d="M467.3 613.3l9.2-5.1 3.5-3.7 -9.3 4.9z"/>
<path class="c45_5" d="M649 529.4l9.3-2.2 3.5-2.2 -9.3 2.2z"/>
<path class="c49_4" d="M774.1 502.5l9.2-.9 3.5-2.2 -9.2 .8z"/>
<path class="c7_2" d="M188.2 746.3l9.2-.4 3.5-5.7 -9.2 .5z"/>
<path class="c8_2" d="M219.5 739l9.2-.8 3.5-5.8 -9.3 .8z"/>
<path class="c49_4" d="M742.8 507.8l9.3-1.1 3.5-2.2 -9.3 1.1z"/>
<path class="c28_4" d="M445.2 627.5l9.3-5.1 3.5-4.1 -9.3 4.9z"/>
<path class="c46_4" d="M680.3 521.1l9.3-1.8 3.4-2.2 -9.2 1.8z"/>
<path class="c47_4" d="M711.6 513.9l9.2-1.4 3.5-2.1 -9.2 1.4z"/>
<path class="c26_3" d="M423.2 641.9l9.3-5 3.5-4.5 -9.3 4.8z"/>
<path class="c14_2" d="M304 709.8l9.2-2.4 3.5-5.9 -9.2 2.5z"/>
<path class="c38_5" d="M542.5 570.6l9.3-4.1 3.5-2.6 -9.3 4z"/>
<path class="c10_2" d="M250.7 730.2l9.3-1.3 3.5-5.8 -9.3 1.3z"/>
<path class="c23_3" d="M401.2 656.2l9.3-4.6 3.5-5 -9.3 4.6z"/>
<path class="c42_5" d="M595.8 547.3l9.2-3.1 3.5-2.2 -9.2 3z"/>
<path class="c51_3" d="M845.8 493.2l9.3-.5 3.5-2.3 -9.3 .4z"/>
<path class="c21_3" d="M379.2 670.2l9.3-4.3 3.5-5.2 -9.3 4.1z"/>
<path class="c18_3" d="M357.2 683.5l9.3-3.8 3.5-5.5 -9.3 3.7z"/>
<path class="c50_3" d="M814.6 497.1l9.2-.6 3.5-2.3 -9.2 .6z"/>
<path class="c12_2" d="M282 719.8l9.2-1.9 3.5-5.9 -9.2 1.9z"/>
<path class="c36_5" d="M520.5 582.2l9.3-4.5 3.5-2.8 -9.3 4.3z"/>
<path class="c44_5" d="M627 536.4l9.3-2.5 3.5-2.2 -9.3 2.5z"/>
<path class="c6_2" d="M166.2 752.5l9.2-.2 3.5-5.6 -9.2 .2z"/>
<path class="c7_2" d="M197.4 745.9l9.3-.5 3.5-5.7 -9.3 .5z"/>
<path class="c50_4" d="M783.3 501.6l9.3-.8 3.5-2.3 -9.3 .9z"/>
<path class="c16_2" d="M335.2 695.9l9.3-3.2 3.5-5.7 -9.3 3.1z"/>
<path class="c45_4" d="M658.3 527.2l9.3-2.1 3.4-2.1 -9.2 2z"/>
<path class="c40_5" d="M573.8 556.4l9.2-3.5 3.5-2.3 -9.2 3.4z"/>
<path class="c9_2" d="M228.7 738.2l9.3-1 3.5-5.8 -9.3 1z"/>
<path class="c34_5" d="M498.5 594.8l9.3-4.9 3.5-3.1 -9.3 4.7z"/>
<path class="c49_4" d="M752.1 506.7l9.2-1 3.5-2.3 -9.2 1.1z"/>
<path class="c47_4" d="M689.6 519.3l9.2-1.7 3.5-2.1 -9.3 1.6z"/>
<path class="c48_4" d="M720.8 512.5l9.3-1.3 3.5-2.2 -9.3 1.4z"/>
<path class="c32_4" d="M476.5 608.2l9.3-5.1 3.5-3.5 -9.3 4.9z"/>
<path class="c10_2" d="M260 728.9l9.2-1.4 3.5-5.9 -9.2 1.5z"/>
<path class="c14_2" d="M313.2 707.4l9.3-2.6 3.5-5.9 -9.3 2.6z"/>
<path class="c29_4" d="M454.5 622.4l9.3-5.2 3.5-3.9 -9.3 5z"/>
<path class="c43_5" d="M605 544.2l9.3-2.9 3.5-2.2 -9.3 2.9z"/>
<path class="c27_3" d="M432.5 636.9l9.3-5.1 3.4-4.3 -9.2 4.9z"/>
<path class="c39_5" d="M551.8 566.5l9.2-3.9 3.5-2.5 -9.2 3.8z"/>
<path class="c51_3" d="M823.8 496.5l9.3-.5 3.5-2.3 -9.3 .5z"/>
<path class="c24_3" d="M410.5 651.6l9.3-4.9 3.4-4.8 -9.2 4.7z"/>
<path class="c6_2" d="M175.4 752.3l9.3-.3 3.5-5.7 -9.3 .4z"/>
<path class="c22_3" d="M388.5 665.9l9.2-4.5 3.5-5.2 -9.2 4.5z"/>
<path class="c12_2" d="M291.2 717.9l9.3-2.1 3.5-6 -9.3 2.2z"/>
<path class="c8_2" d="M206.7 745.4l9.3-.7 3.5-5.7 -9.3 .7z"/>
<path class="c50_4" d="M792.6 500.8l9.2-.7 3.5-2.3 -9.2 .7z"/>
<path class="c44_5" d="M636.3 533.9l9.2-2.4 3.5-2.1 -9.2 2.3z"/>
<path class="c19_3" d="M366.5 679.7l9.2-4 3.5-5.5 -9.2 4z"/>
<path class="c9_2" d="M238 737.2l9.2-1.1 3.5-5.9 -9.2 1.2z"/>
<path class="c49_4" d="M761.3 505.7l9.3-1 3.5-2.2 -9.3 .9z"/>
<path class="c37_5" d="M529.8 577.7l9.2-4.4 3.5-2.7 -9.2 4.3z"/>
<path class="c46_4" d="M667.6 525.1l9.2-1.9 3.5-2.1 -9.3 1.9z"/>
<path class="c48_4" d="M730.1 511.2l9.2-1.2 3.5-2.2 -9.2 1.2z"/>
<path class="c47_4" d="M698.8 517.6l9.3-1.5 3.5-2.2 -9.3 1.6z"/>
<path class="c17_3" d="M344.5 692.7l9.2-3.5 3.5-5.7 -9.2 3.5z"/>
<path class="c41_5" d="M583 552.9l9.3-3.3 3.5-2.3 -9.3 3.3z"/>
<path class="c11_2" d="M269.2 727.5l9.3-1.7 3.5-6 -9.3 1.8z"/>
<path class="c35_5" d="M507.8 589.9l9.2-4.8 3.5-2.9 -9.2 4.6z"/>
<path class="c15_2" d="M322.5 704.8l9.2-3 3.5-5.9 -9.2 3z"/>
<path class="c51_3" d="M833.1 496l9.3-.5 3.4-2.3 -9.2 .5z"/>
<path class="c33_5" d="M485.8 603.1l9.2-5 3.5-3.3 -9.2 4.8z"/>
<path class="c7_2" d="M184.7 752l9.3-.4 3.4-5.7 -9.2 .4z"/>
<path class="c43_5" d="M614.3 541.3l9.2-2.7 3.5-2.2 -9.2 2.7z"/>
<path class="c8_2" d="M216 744.7l9.2-.7 3.5-5.8 -9.2 .8z"/>
<path class="c50_4" d="M801.8 500.1l9.3-.7 3.5-2.3 -9.3 .7z"/>
<path class="c30_4" d="M463.8 617.2l9.2-5.3 3.5-3.7 -9.2 5.1z"/>
<path class="c40_5" d="M561 562.6l9.3-3.8 3.5-2.4 -9.3 3.7z"/>
<path class="c13_2" d="M300.5 715.8l9.2-2.4 3.5-6 -9.2 2.4z"/>
<path class="c28_4" d="M441.8 631.8l9.2-5.3 3.5-4.1 -9.3 5.1z"/>
<path class="c45_5" d="M645.5 531.5l9.3-2.3 3.5-2 -9.3 2.2z"/>
<path class="c50_4" d="M770.6 504.7l9.2-.9 3.5-2.2 -9.2 .9z"/>
<path class="c9_2" d="M247.2 736.1l9.3-1.2 3.5-6 -9.3 1.3z"/>
<path class="c25_3" d="M419.8 646.7l9.2-5.2 3.5-4.6 -9.3 5z"/>
<path class="c23_3" d="M397.7 661.4l9.3-4.8 3.5-5 -9.3 4.6z"/>
<path class="c49_4" d="M739.3 510l9.3-1.1 3.5-2.2 -9.3 1.1z"/>
<path class="c47_4" d="M676.8 523.2l9.3-1.8 3.5-2.1 -9.3 1.8z"/>
<path class="c48_4" d="M708.1 516.1l9.2-1.4 3.5-2.2 -9.2 1.4z"/>
<path class="c20_3" d="M375.7 675.7l9.3-4.4 3.5-5.4 -9.3 4.3z"/>
<path class="c38_5" d="M539 573.3l9.3-4.2 3.5-2.6 -9.3 4.1z"/>
<path class="c18_3" d="M353.7 689.2l9.3-3.8 3.5-5.7 -9.3 3.8z"/>
<path class="c11_2" d="M278.5 725.8l9.2-1.8 3.5-6.1 -9.2 1.9z"/>
<path class="c42_5" d="M592.3 549.6l9.2-3.2 3.5-2.2 -9.2 3.1z"/>
<path class="c51_3" d="M842.4 495.5l9.2-.4 3.5-2.4 -9.3 .5z"/>
<path class="c6_2" d="M162.7 758l9.3-.1 3.4-5.6 -9.2 .2z"/>
<path class="c7_2" d="M194 751.6l9.2-.5 3.5-5.7 -9.3 .5z"/>
<path class="c16_2" d="M331.7 701.8l9.3-3.2 3.5-5.9 -9.3 3.2z"/>
<path class="c36_5" d="M517 585.1l9.3-4.6 3.5-2.8 -9.3 4.5z"/>
<path class="c8_2" d="M225.2 744l9.3-.9 3.5-5.9 -9.3 1z"/>
<path class="c51_4" d="M811.1 499.4l9.3-.6 3.4-2.3 -9.2 .6z"/>
<path class="c44_5" d="M623.5 538.6l9.3-2.6 3.5-2.1 -9.3 2.5z"/>
<path class="c50_4" d="M779.8 503.8l9.3-.7 3.5-2.3 -9.3 .8z"/>
<path class="c34_5" d="M495 598.1l9.3-5.1 3.5-3.1 -9.3 4.9z"/>
<path class="c10_2" d="M256.5 734.9l9.2-1.4 3.5-6 -9.2 1.4z"/>
<path class="c14_2" d="M309.7 713.4l9.3-2.6 3.5-6 -9.3 2.6z"/>
<path class="c41_5" d="M570.3 558.8l9.2-3.6 3.5-2.3 -9.2 3.5z"/>
<path class="c46_5" d="M654.8 529.2l9.3-2 3.5-2.1 -9.3 2.1z"/>
<path class="c49_4" d="M748.6 508.9l9.2-1.1 3.5-2.1 -9.2 1z"/>
<path class="c47_4" d="M686.1 521.4l9.2-1.7 3.5-2.1 -9.2 1.7z"/>
<path class="c48_4" d="M717.3 514.7l9.3-1.4 3.5-2.1 -9.3 1.3z"/>
<path class="c32_4" d="M473 611.9l9.3-5.3 3.5-3.5 -9.3 5.1z"/>
<path class="c29_4" d="M451 626.5l9.3-5.4 3.5-3.9 -9.3 5.2z"/>
<path class="c27_3" d="M429 641.5l9.3-5.3 3.5-4.4 -9.3 5.1z"/>
<path class="c24_3" d="M407 656.6l9.3-5.1 3.5-4.8 -9.3 4.9z"/>
<path class="c6_2" d="M172 757.9l9.2-.3 3.5-5.6 -9.3 .3z"/>
<path class="c12_2" d="M287.7 724l9.3-2.1 3.5-6.1 -9.3 2.1z"/>
<path class="c21_3" d="M385 671.3l9.3-4.7 3.4-5.2 -9.2 4.5z"/>
<path class="c7_2" d="M203.2 751.1l9.3-.6 3.5-5.8 -9.3 .7z"/>
<path class="c43_5" d="M601.5 546.4l9.3-3 3.5-2.1 -9.3 2.9z"/>
<path class="c39_6" d="M548.3 569.1l9.2-4.1 3.5-2.4 -9.2 3.9z"/>
<path class="c19_3" d="M363 685.4l9.3-4.1 3.4-5.6 -9.2 4z"/>
<path class="c51_3" d="M820.4 498.8l9.2-.5 3.5-2.3 -9.3 .5z"/>
<path class="c9_2" d="M234.5 743.1l9.2-1 3.5-6 -9.2 1.1z"/>
<path class="c17_3" d="M341 698.6l9.2-3.5 3.5-5.9 -9.2 3.5z"/>
<path class="c50_4" d="M789.1 503.1l9.2-.8 3.5-2.2 -9.2 .7z"/>
<path class="c45_5" d="M632.8 536l9.3-2.5 3.4-2 -9.2 2.4z"/>
<path class="c37_5" d="M526.3 580.5l9.2-4.6 3.5-2.6 -9.2 4.4z"/>
<path class="c10_2" d="M265.7 733.5l9.3-1.6 3.5-6.1 -9.3 1.7z"/>
<path class="c50_4" d="M757.8 507.8l9.3-.9 3.5-2.2 -9.3 1z"/>
<path class="c46_4" d="M664.1 527.2l9.2-2 3.5-2 -9.2 1.9z"/>
<path class="c15_2" d="M319 710.8l9.2-2.9 3.5-6.1 -9.2 3z"/>
<path class="c49_4" d="M726.6 513.3l9.2-1.2 3.5-2.1 -9.2 1.2z"/>
<path class="c48_4" d="M695.3 519.7l9.3-1.5 3.5-2.1 -9.3 1.5z"/>
<path class="c42_6" d="M579.5 555.2l9.3-3.4 3.5-2.2 -9.3 3.3z"/>
<path class="c35_5" d="M504.3 593l9.2-5 3.5-2.9 -9.2 4.8z"/>
<path class="c6_2" d="M181.2 757.6l9.3-.3 3.5-5.7 -9.3 .4z"/>
<path class="c7_2" d="M212.5 750.5l9.2-.6 3.5-5.9 -9.2 .7z"/>
<path class="c13_2" d="M297 721.9l9.2-2.4 3.5-6.1 -9.2 2.4z"/>
<path class="c33_5" d="M482.3 606.6l9.2-5.3 3.5-3.2 -9.2 5z"/>
<path class="c51_3" d="M829.6 498.3l9.3-.5 3.5-2.3 -9.3 .5z"/>
<path class="c9_2" d="M243.7 742.1l9.3-1.2 3.5-6 -9.3 1.2z"/>
<path class="c30_4" d="M460.3 621.1l9.2-5.5 3.5-3.7 -9.2 5.3z"/>
<path class="c44_5" d="M610.8 543.4l9.3-2.8 3.4-2 -9.2 2.7z"/>
<path class="c28_4" d="M438.3 636.2l9.2-5.5 3.5-4.2 -9.2 5.3z"/>
<path class="c25_3" d="M416.3 651.5l9.2-5.3 3.5-4.7 -9.2 5.2z"/>
<path class="c51_4" d="M798.3 502.3l9.3-.6 3.5-2.3 -9.3 .7z"/>
<path class="c40_6" d="M557.5 565l9.3-3.9 3.5-2.3 -9.3 3.8z"/>
<path class="c23_3" d="M394.3 666.6l9.2-4.9 3.5-5.1 -9.3 4.8z"/>
<path class="c20_3" d="M372.3 681.3l9.2-4.5 3.5-5.5 -9.3 4.4z"/>
<path class="c45_5" d="M642.1 533.5l9.2-2.2 3.5-2.1 -9.3 2.3z"/>
<path class="c50_4" d="M767.1 506.9l9.2-.8 3.5-2.3 -9.2 .9z"/>
<path class="c11_2" d="M275 731.9l9.2-1.8 3.5-6.1 -9.2 1.8z"/>
<path class="c18_3" d="M350.2 695.1l9.3-3.9 3.5-5.8 -9.3 3.8z"/>
<path class="c49_4" d="M735.8 512.1l9.3-1.1 3.5-2.1 -9.3 1.1z"/>
<path class="c47_4" d="M673.3 525.2l9.3-1.8 3.5-2 -9.3 1.8z"/>
<path class="c48_4" d="M704.6 518.2l9.2-1.5 3.5-2 -9.2 1.4z"/>
<path class="c5_2" d="M159.2 763.6l9.3-.1 3.5-5.6 -9.3 .1z"/>
<path class="c6_2" d="M190.5 757.3l9.2-.4 3.5-5.8 -9.2 .5z"/>
<path class="c38_6" d="M535.5 575.9l9.3-4.4 3.5-2.4 -9.3 4.2z"/>
<path class="c15_2" d="M328.2 707.9l9.3-3.3 3.5-6 -9.3 3.2z"/>
<path class="c8_2" d="M221.7 749.9l9.3-.9 3.5-5.9 -9.3 .9z"/>
<path class="c42_6" d="M588.8 551.8l9.2-3.3 3.5-2.1 -9.2 3.2z"/>
<path class="c52_3" d="M838.9 497.8l9.2-.4 3.5-2.3 -9.2 .4z"/>
<path class="c9_2" d="M253 740.9l9.2-1.3 3.5-6.1 -9.2 1.4z"/>
<path class="c13_2" d="M306.2 719.5l9.3-2.6 3.5-6.1 -9.3 2.6z"/>
<path class="c36_5" d="M513.5 588l9.3-4.8 3.5-2.7 -9.3 4.6z"/>
<path class="c51_4" d="M807.6 501.7l9.3-.6 3.5-2.3 -9.3 .6z"/>
<path class="c44_5" d="M620.1 540.6l9.2-2.6 3.5-2 -9.3 2.6z"/>
<path class="c34_5" d="M491.5 601.3l9.3-5.2 3.5-3.1 -9.3 5.1z"/>
<path class="c50_4" d="M776.3 506.1l9.3-.8 3.5-2.2 -9.3 .7z"/>
<path class="c41_6" d="M566.8 561.1l9.2-3.7 3.5-2.2 -9.2 3.6z"/>
<path class="c32_4" d="M469.5 615.6l9.3-5.5 3.5-3.5 -9.3 5.3z"/>
<path class="c46_5" d="M651.3 531.3l9.3-2.1 3.5-2 -9.3 2z"/>
<path class="c12_2" d="M284.2 730.1l9.3-2.1 3.5-6.1 -9.3 2.1z"/>
<path class="c49_4" d="M745.1 511l9.2-1 3.5-2.2 -9.2 1.1z"/>
<path class="c29_4" d="M447.5 630.7l9.3-5.6 3.5-4 -9.3 5.4z"/>
<path class="c5_2" d="M168.5 763.5l9.2-.1 3.5-5.8 -9.2 .3z"/>
<path class="c26_4" d="M425.5 646.2l9.3-5.5 3.5-4.5 -9.3 5.3z"/>
<path class="c24_3" d="M403.5 661.7l9.3-5.3 3.5-4.9 -9.3 5.1z"/>
<path class="c7_2" d="M199.7 756.9l9.3-.5 3.5-5.9 -9.3 .6z"/>
<path class="c47_4" d="M682.6 523.4l9.2-1.6 3.5-2.1 -9.2 1.7z"/>
<path class="c48_4" d="M713.8 516.7l9.3-1.3 3.5-2.1 -9.3 1.4z"/>
<path class="c21_3" d="M381.5 676.8l9.3-4.8 3.5-5.4 -9.3 4.7z"/>
<path class="c19_3" d="M359.5 691.2l9.3-4.2 3.5-5.7 -9.3 4.1z"/>
<path class="c8_2" d="M231 749l9.2-.9 3.5-6 -9.2 1z"/>
<path class="c16_2" d="M337.5 704.6l9.3-3.6 3.4-5.9 -9.2 3.5z"/>
<path class="c39_6" d="M544.8 571.5l9.2-4.2 3.5-2.3 -9.2 4.1z"/>
<path class="c43_5" d="M598 548.5l9.3-3 3.5-2.1 -9.3 3z"/>
<path class="c10_2" d="M262.2 739.6l9.3-1.6 3.5-6.1 -9.3 1.6z"/>
<path class="c51_3" d="M816.9 501.1l9.2-.5 3.5-2.3 -9.2 .5z"/>
<path class="c14_2" d="M315.5 716.9l9.3-2.9 3.4-6.1 -9.2 2.9z"/>
<path class="c51_4" d="M785.6 505.3l9.3-.7 3.4-2.3 -9.2 .8z"/>
<path class="c45_5" d="M629.3 538l9.3-2.5 3.5-2 -9.3 2.5z"/>
<path class="c37_6" d="M522.8 583.2l9.2-4.7 3.5-2.6 -9.2 4.6z"/>
<path class="c6_2" d="M177.7 763.4l9.3-.3 3.5-5.8 -9.3 .3z"/>
<path class="c50_4" d="M754.3 510l9.3-.9 3.5-2.2 -9.3 .9z"/>
<path class="c7_2" d="M209 756.4l9.2-.6 3.5-5.9 -9.2 .6z"/>
<path class="c47_5" d="M660.6 529.2l9.2-2 3.5-2 -9.2 2z"/>
<path class="c49_4" d="M723.1 515.4l9.2-1.2 3.5-2.1 -9.2 1.2z"/>
<path class="c12_2" d="M293.5 728l9.2-2.3 3.5-6.2 -9.2 2.4z"/>
<path class="c48_4" d="M691.8 521.8l9.3-1.6 3.5-2 -9.3 1.5z"/>
<path class="c42_6" d="M576 557.4l9.3-3.5 3.5-2.1 -9.3 3.4z"/>
<path class="c35_5" d="M500.8 596.1l9.2-5.2 3.5-2.9 -9.2 5z"/>
<path class="c9_2" d="M240.2 748.1l9.3-1.1 3.5-6.1 -9.3 1.2z"/>
<path class="c33_5" d="M478.8 610.1l9.2-5.5 3.5-3.3 -9.2 5.3z"/>
<path class="c30_4" d="M456.8 625.1l9.2-5.7 3.5-3.8 -9.2 5.5z"/>
<path class="c25_3" d="M412.8 656.4l9.2-5.5 3.5-4.7 -9.2 5.3z"/>
<path class="c22_3" d="M390.8 672l9.2-5.1 3.5-5.2 -9.2 4.9z"/>
<path class="c28_4" d="M434.8 640.7l9.2-5.8 3.5-4.2 -9.2 5.5z"/>
<path class="c52_3" d="M826.1 500.6l9.3-.4 3.5-2.4 -9.3 .5z"/>
<path class="c20_3" d="M368.8 687l9.2-4.6 3.5-5.6 -9.2 4.5z"/>
<path class="c10_2" d="M271.5 738l9.2-1.7 3.5-6.2 -9.2 1.8z"/>
<path class="c17_3" d="M346.8 701l9.2-3.9 3.5-5.9 -9.3 3.9z"/>
<path class="c44_5" d="M607.3 545.5l9.3-2.9 3.5-2 -9.3 2.8z"/>
<path class="c40_6" d="M554 567.3l9.3-4 3.5-2.2 -9.3 3.9z"/>
<path class="c51_4" d="M794.9 504.6l9.2-.7 3.5-2.2 -9.3 .6z"/>
<path class="c6_2" d="M187 763.1l9.2-.4 3.5-5.8 -9.2 .4z"/>
<path class="c5_2" d="M155.7 769.2l9.3 0 3.5-5.7 -9.3 .1z"/>
<path class="c15_2" d="M324.8 714l9.2-3.3 3.5-6.1 -9.3 3.3z"/>
<path class="c50_4" d="M763.6 509.1l9.3-.9 3.4-2.1 -9.2 .8z"/>
<path class="c46_5" d="M638.6 535.5l9.2-2.2 3.5-2 -9.2 2.2z"/>
<path class="c7_2" d="M218.2 755.8l9.3-.8 3.5-6 -9.3 .9z"/>
<path class="c49_4" d="M732.3 514.2l9.3-1.1 3.5-2.1 -9.3 1.1z"/>
<path class="c47_5" d="M669.8 527.2l9.3-1.8 3.5-2 -9.3 1.8z"/>
<path class="c48_4" d="M701.1 520.2l9.2-1.4 3.5-2.1 -9.2 1.5z"/>
<path class="c38_6" d="M532 578.5l9.3-4.5 3.5-2.5 -9.3 4.4z"/>
<path class="c13_2" d="M302.7 725.7l9.3-2.6 3.5-6.2 -9.3 2.6z"/>
<path class="c9_2" d="M249.5 747l9.2-1.3 3.5-6.1 -9.2 1.3z"/>
<path class="c43_6" d="M585.3 553.9l9.3-3.3 3.4-2.1 -9.2 3.3z"/>
<path class="c52_3" d="M835.4 500.2l9.2-.4 3.5-2.4 -9.2 .4z"/>
<path class="c36_6" d="M510 590.9l9.3-5 3.5-2.7 -9.3 4.8z"/>
<path class="c11_2" d="M280.7 736.3l9.3-2 3.5-6.3 -9.3 2.1z"/>
<path class="c51_4" d="M804.1 503.9l9.3-.5 3.5-2.3 -9.3 .6z"/>
<path class="c5_2" d="M165 769.2l9.2-.1 3.5-5.7 -9.2 .1z"/>
<path class="c34_5" d="M488 604.6l9.3-5.5 3.5-3 -9.3 5.2z"/>
<path class="c6_2" d="M196.2 762.7l9.3-.4 3.5-5.9 -9.3 .5z"/>
<path class="c45_5" d="M616.6 542.6l9.2-2.6 3.5-2 -9.2 2.6z"/>
<path class="c21_3" d="M378 682.4l9.3-4.9 3.5-5.5 -9.3 4.8z"/>
<path class="c23_3" d="M400 666.9l9.3-5.4 3.5-5.1 -9.3 5.3z"/>
<path class="c32_5" d="M466 619.4l9.3-5.8 3.5-3.5 -9.3 5.5z"/>
<path class="c26_4" d="M422 650.9l9.3-5.7 3.5-4.5 -9.3 5.5z"/>
<path class="c51_4" d="M772.9 508.2l9.2-.7 3.5-2.2 -9.3 .8z"/>
<path class="c29_4" d="M444 634.9l9.3-5.8 3.5-4 -9.3 5.6z"/>
<path class="c18_3" d="M356 697.1l9.3-4.3 3.5-5.8 -9.3 4.2z"/>
<path class="c8_2" d="M227.5 755l9.2-.9 3.5-6 -9.2 .9z"/>
<path class="c41_6" d="M563.3 563.3l9.3-3.8 3.4-2.1 -9.2 3.7z"/>
<path class="c46_5" d="M647.8 533.3l9.3-2.2 3.5-1.9 -9.3 2.1z"/>
<path class="c50_4" d="M741.6 513.1l9.2-1 3.5-2.1 -9.2 1z"/>
<path class="c16_2" d="M334 710.7l9.3-3.6 3.5-6.1 -9.3 3.6z"/>
<path class="c49_4" d="M710.3 518.8l9.3-1.3 3.5-2.1 -9.3 1.3z"/>
<path class="c48_4" d="M679.1 525.4l9.2-1.6 3.5-2 -9.2 1.6z"/>
<path class="c9_2" d="M258.7 745.7l9.3-1.5 3.5-6.2 -9.3 1.6z"/>
<path class="c14_2" d="M312 723.1l9.3-2.9 3.5-6.2 -9.3 2.9z"/>
<path class="c39_6" d="M541.3 574l9.2-4.4 3.5-2.3 -9.2 4.2z"/>
<path class="c43_6" d="M594.6 550.6l9.2-3.1 3.5-2 -9.3 3z"/>
<path class="c52_3" d="M813.4 503.4l9.2-.5 3.5-2.3 -9.2 .5z"/>
<path class="c5_2" d="M174.2 769.1l9.3-.2 3.5-5.8 -9.3 .3z"/>
<path class="c7_2" d="M205.5 762.3l9.2-.6 3.5-5.9 -9.2 .6z"/>
<path class="c12_2" d="M290 734.3l9.3-2.3 3.4-6.3 -9.2 2.3z"/>
<path class="c51_4" d="M782.1 507.5l9.3-.7 3.5-2.2 -9.3 .7z"/>
<path class="c38_6" d="M519.3 585.9l9.2-4.9 3.5-2.5 -9.2 4.7z"/>
<path class="c8_2" d="M236.7 754.1l9.3-1 3.5-6.1 -9.3 1.1z"/>
<path class="c45_5" d="M625.8 540l9.3-2.5 3.5-2 -9.3 2.5z"/>
<path class="c50_4" d="M750.8 512.1l9.3-.9 3.5-2.1 -9.3 .9z"/>
<path class="c47_5" d="M657.1 531.1l9.2-1.9 3.5-2 -9.2 2z"/>
<path class="c49_4" d="M719.6 517.5l9.2-1.2 3.5-2.1 -9.2 1.2z"/>
<path class="c35_6" d="M497.3 599.1l9.2-5.4 3.5-2.8 -9.2 5.2z"/>
<path class="c48_4" d="M688.3 523.8l9.3-1.6 3.5-2 -9.3 1.6z"/>
<path class="c22_3" d="M387.3 677.5l9.2-5.3 3.5-5.3 -9.2 5.1z"/>
<path class="c19_3" d="M365.3 692.8l9.2-4.7 3.5-5.7 -9.2 4.6z"/>
<path class="c42_6" d="M572.6 559.5l9.2-3.6 3.5-2 -9.3 3.5z"/>
<path class="c25_3" d="M409.3 661.5l9.2-5.7 3.5-4.9 -9.2 5.5z"/>
<path class="c10_2" d="M268 744.2l9.3-1.7 3.4-6.2 -9.2 1.7z"/>
<path class="c33_5" d="M475.3 613.6l9.2-5.8 3.5-3.2 -9.2 5.5z"/>
<path class="c28_4" d="M431.3 645.2l9.2-6 3.5-4.3 -9.2 5.8z"/>
<path class="c17_3" d="M343.3 707.1l9.2-3.9 3.5-6.1 -9.2 3.9z"/>
<path class="c30_4" d="M453.3 629.1l9.2-6 3.5-3.7 -9.2 5.7z"/>
<path class="c52_3" d="M822.6 502.9l9.3-.5 3.5-2.2 -9.3 .4z"/>
<path class="c14_2" d="M321.3 720.2l9.2-3.2 3.5-6.3 -9.2 3.3z"/>
<path class="c6_2" d="M183.5 768.9l9.2-.3 3.5-5.9 -9.2 .4z"/>
<path class="c4_2" d="M152.2 774.9l9.3 0 3.5-5.7 -9.3 0z"/>
<path class="c7_2" d="M214.7 761.7l9.3-.6 3.5-6.1 -9.3 .8z"/>
<path class="c44_6" d="M603.8 547.5l9.3-2.9 3.5-2 -9.3 2.9z"/>
<path class="c40_7" d="M550.5 569.6l9.3-4.1 3.5-2.2 -9.3 4z"/>
<path class="c51_4" d="M791.4 506.8l9.2-.6 3.5-2.3 -9.2 .7z"/>
<path class="c12_2" d="M299.3 732l9.2-2.5 3.5-6.4 -9.3 2.6z"/>
<path class="c8_2" d="M246 753.1l9.3-1.2 3.4-6.2 -9.2 1.3z"/>
<path class="c50_4" d="M760.1 511.2l9.3-.8 3.5-2.2 -9.3 .9z"/>
<path class="c46_5" d="M635.1 537.5l9.2-2.3 3.5-1.9 -9.2 2.2z"/>
<path class="c50_4" d="M728.8 516.3l9.3-1.1 3.5-2.1 -9.3 1.1z"/>
<path class="c47_5" d="M666.3 529.2l9.3-1.8 3.5-2 -9.3 1.8z"/>
<path class="c49_4" d="M697.6 522.2l9.2-1.4 3.5-2 -9.2 1.4z"/>
<path class="c39_7" d="M528.5 581l9.3-4.7 3.5-2.3 -9.3 4.5z"/>
<path class="c10_2" d="M277.3 742.5l9.2-1.9 3.5-6.3 -9.3 2z"/>
<path class="c43_6" d="M581.8 555.9l9.3-3.4 3.5-1.9 -9.3 3.3z"/>
<path class="c52_3" d="M831.9 502.4l9.2-.3 3.5-2.3 -9.2 .4z"/>
<path class="c5_2" d="M161.5 774.9l9.2 0 3.5-5.8 -9.2 .1z"/>
<path class="c6_2" d="M192.7 768.6l9.3-.4 3.5-5.9 -9.3 .4z"/>
<path class="c37_6" d="M506.5 593.7l9.3-5.2 3.5-2.6 -9.3 5z"/>
<path class="c20_3" d="M374.5 688.1l9.3-5 3.5-5.6 -9.3 4.9z"/>
<path class="c7_2" d="M224 761.1l9.2-.8 3.5-6.2 -9.2 .9z"/>
<path class="c18_3" d="M352.5 703.2l9.3-4.4 3.5-6 -9.3 4.3z"/>
<path class="c23_3" d="M396.5 672.2l9.3-5.6 3.5-5.1 -9.3 5.4z"/>
<path class="c26_4" d="M418.5 655.8l9.3-6 3.5-4.6 -9.3 5.7z"/>
<path class="c34_6" d="M484.5 607.8l9.3-5.7 3.5-3 -9.3 5.5z"/>
<path class="c51_4" d="M800.6 506.2l9.3-.6 3.5-2.2 -9.3 .5z"/>
<path class="c15_2" d="M330.5 717l9.3-3.6 3.5-6.3 -9.3 3.6z"/>
<path class="c29_4" d="M440.5 639.2l9.3-6.1 3.5-4 -9.3 5.8z"/>
<path class="c32_5" d="M462.5 623.1l9.3-6 3.5-3.5 -9.3 5.8z"/>
<path class="c45_6" d="M613.1 544.6l9.2-2.7 3.5-1.9 -9.2 2.6z"/>
<path class="c9_2" d="M255.3 751.9l9.2-1.4 3.5-6.3 -9.3 1.5z"/>
<path class="c51_4" d="M769.4 510.4l9.2-.8 3.5-2.1 -9.2 .7z"/>
<path class="c13_2" d="M308.5 729.5l9.3-2.9 3.5-6.4 -9.3 2.9z"/>
<path class="c41_7" d="M559.8 565.5l9.3-3.9 3.5-2.1 -9.3 3.8z"/>
<path class="c47_5" d="M644.3 535.2l9.3-2.1 3.5-2 -9.3 2.2z"/>
<path class="c50_4" d="M738.1 515.2l9.3-1 3.4-2.1 -9.2 1z"/>
<path class="c49_4" d="M706.8 520.8l9.3-1.3 3.5-2 -9.3 1.3z"/>
<path class="c48_5" d="M675.6 527.4l9.2-1.7 3.5-1.9 -9.2 1.6z"/>
<path class="c5_2" d="M170.7 774.9l9.3-.2 3.5-5.8 -9.3 .2z"/>
<path class="c6_2" d="M202 768.2l9.2-.4 3.5-6.1 -9.2 .6z"/>
<path class="c11_2" d="M286.5 740.6l9.3-2.2 3.5-6.4 -9.3 2.3z"/>
<path class="c40_7" d="M537.8 576.3l9.3-4.5 3.4-2.2 -9.2 4.4z"/>
<path class="c8_2" d="M233.2 760.3l9.3-1 3.5-6.2 -9.3 1z"/>
<path class="c44_6" d="M591.1 552.5l9.2-3.1 3.5-1.9 -9.2 3.1z"/>
<path class="c52_4" d="M809.9 505.6l9.2-.5 3.5-2.2 -9.2 .5z"/>
<path class="c51_4" d="M778.6 509.6l9.3-.6 3.5-2.2 -9.3 .7z"/>
<path class="c38_7" d="M515.8 588.5l9.3-5.1 3.4-2.4 -9.2 4.9z"/>
<path class="c19_3" d="M361.8 698.8l9.2-4.8 3.5-5.9 -9.2 4.7z"/>
<path class="c9_2" d="M264.5 750.5l9.3-1.6 3.5-6.4 -9.3 1.7z"/>
<path class="c21_3" d="M383.8 683.1l9.2-5.4 3.5-5.5 -9.2 5.3z"/>
<path class="c16_3" d="M339.8 713.4l9.2-4.1 3.5-6.1 -9.2 3.9z"/>
<path class="c46_5" d="M622.3 541.9l9.3-2.5 3.5-1.9 -9.3 2.5z"/>
<path class="c24_3" d="M405.8 666.6l9.2-5.9 3.5-4.9 -9.2 5.7z"/>
<path class="c50_4" d="M747.4 514.2l9.2-.9 3.5-2.1 -9.3 .9z"/>
<path class="c35_6" d="M493.8 602.1l9.2-5.6 3.5-2.8 -9.2 5.4z"/>
<path class="c27_4" d="M427.8 649.8l9.2-6.2 3.5-4.4 -9.2 6z"/>
<path class="c14_2" d="M317.8 726.6l9.2-3.3 3.5-6.3 -9.2 3.2z"/>
<path class="c47_5" d="M653.6 533.1l9.2-2 3.5-1.9 -9.2 1.9z"/>
<path class="c50_4" d="M716.1 519.5l9.3-1.2 3.4-2 -9.2 1.2z"/>
<path class="c30_5" d="M449.8 633.1l9.2-6.2 3.5-3.8 -9.2 6z"/>
<path class="c33_5" d="M471.8 617.1l9.2-6 3.5-3.3 -9.2 5.8z"/>
<path class="c5_2" d="M180 774.7l9.2-.2 3.5-5.9 -9.2 .3z"/>
<path class="c48_4" d="M684.8 525.7l9.3-1.5 3.5-2 -9.3 1.6z"/>
<path class="c42_7" d="M569.1 561.6l9.2-3.7 3.5-2 -9.2 3.6z"/>
<path class="c4_2" d="M148.7 780.5l9.3 .1 3.5-5.7 -9.3 0z"/>
<path class="c6_2" d="M211.2 767.8l9.3-.6 3.5-6.1 -9.3 .6z"/>
<path class="c12_2" d="M295.8 738.4l9.2-2.5 3.5-6.4 -9.2 2.5z"/>
<path class="c8_2" d="M242.5 759.3l9.3-1.1 3.5-6.3 -9.3 1.2z"/>
<path class="c52_3" d="M819.1 505.1l9.3-.4 3.5-2.3 -9.3 .5z"/>
<path class="c45_6" d="M600.3 549.4l9.3-3 3.5-1.8 -9.3 2.9z"/>
<path class="c41_7" d="M547.1 571.8l9.2-4.3 3.5-2 -9.3 4.1z"/>
<path class="c51_4" d="M787.9 509l9.2-.6 3.5-2.2 -9.2 .6z"/>
<path class="c10_2" d="M273.8 748.9l9.2-1.8 3.5-6.5 -9.2 1.9z"/>
<path class="c51_4" d="M756.6 513.3l9.3-.8 3.5-2.1 -9.3 .8z"/>
<path class="c46_5" d="M631.6 539.4l9.2-2.4 3.5-1.8 -9.2 2.3z"/>
<path class="c5_2" d="M189.2 774.5l9.3-.3 3.5-6 -9.3 .4z"/>
<path class="c4_2" d="M158 780.6l9.2 0 3.5-5.7 -9.2 0z"/>
<path class="c50_4" d="M725.4 518.3l9.2-1.1 3.5-2 -9.3 1.1z"/>
<path class="c48_5" d="M662.8 531.1l9.3-1.8 3.5-1.9 -9.3 1.8z"/>
<path class="c39_7" d="M525.1 583.4l9.2-4.8 3.5-2.3 -9.3 4.7z"/>
<path class="c7_2" d="M220.5 767.2l9.3-.8 3.4-6.1 -9.2 .8z"/>
<path class="c20_3" d="M371 694l9.3-5.2 3.5-5.7 -9.3 5z"/>
<path class="c17_3" d="M349 709.3l9.3-4.4 3.5-6.1 -9.3 4.4z"/>
<path class="c49_4" d="M694.1 524.2l9.3-1.4 3.4-2 -9.2 1.4z"/>
<path class="c23_3" d="M393 677.7l9.3-5.8 3.5-5.3 -9.3 5.6z"/>
<path class="c15_2" d="M327 723.3l9.3-3.6 3.5-6.3 -9.3 3.6z"/>
<path class="c26_4" d="M415 660.7l9.3-6.2 3.5-4.7 -9.3 6z"/>
<path class="c52_3" d="M828.4 504.7l9.2-.4 3.5-2.2 -9.2 .3z"/>
<path class="c43_7" d="M578.3 557.9l9.3-3.5 3.5-1.9 -9.3 3.4z"/>
<path class="c37_7" d="M503 596.5l9.3-5.4 3.5-2.6 -9.3 5.2z"/>
<path class="c8_2" d="M251.8 758.2l9.2-1.3 3.5-6.4 -9.2 1.4z"/>
<path class="c29_4" d="M437 643.6l9.3-6.4 3.5-4.1 -9.3 6.1z"/>
<path class="c12_2" d="M305 735.9l9.3-2.8 3.5-6.5 -9.3 2.9z"/>
<path class="c34_6" d="M481 611.1l9.3-6 3.5-3 -9.3 5.7z"/>
<path class="c32_5" d="M459 626.9l9.3-6.3 3.5-3.5 -9.3 6z"/>
<path class="c52_4" d="M797.1 508.4l9.3-.6 3.5-2.2 -9.3 .6z"/>
<path class="c45_6" d="M609.6 546.4l9.2-2.7 3.5-1.8 -9.2 2.7z"/>
<path class="c51_4" d="M765.9 512.5l9.2-.7 3.5-2.2 -9.2 .8z"/>
<path class="c11_2" d="M283 747.1l9.3-2.2 3.5-6.5 -9.3 2.2z"/>
<path class="c4_2" d="M167.2 780.6l9.3 0 3.5-5.9 -9.3 .2z"/>
<path class="c6_2" d="M198.5 774.2l9.3-.4 3.4-6 -9.2 .4z"/>
<path class="c42_7" d="M556.3 567.5l9.3-4 3.5-1.9 -9.3 3.9z"/>
<path class="c50_4" d="M734.6 517.2l9.3-.9 3.5-2.1 -9.3 1z"/>
<path class="c47_5" d="M640.8 537l9.3-2.1 3.5-1.8 -9.3 2.1z"/>
<path class="c7_2" d="M229.8 766.4l9.2-.8 3.5-6.3 -9.3 1z"/>
<path class="c49_4" d="M703.4 522.8l9.2-1.3 3.5-2 -9.3 1.3z"/>
<path class="c48_5" d="M672.1 529.3l9.2-1.7 3.5-1.9 -9.2 1.7z"/>
<path class="c9_2" d="M261 756.9l9.3-1.5 3.5-6.5 -9.3 1.6z"/>
<path class="c40_7" d="M534.3 578.6l9.3-4.7 3.5-2.1 -9.3 4.5z"/>
<path class="c18_3" d="M358.3 704.9l9.2-4.9 3.5-6 -9.2 4.8z"/>
<path class="c16_2" d="M336.3 719.7l9.2-4 3.5-6.4 -9.2 4.1z"/>
<path class="c21_3" d="M380.3 688.8l9.2-5.6 3.5-5.5 -9.2 5.4z"/>
<path class="c52_4" d="M806.4 507.8l9.2-.4 3.5-2.3 -9.2 .5z"/>
<path class="c44_7" d="M587.6 554.4l9.2-3.2 3.5-1.8 -9.2 3.1z"/>
<path class="c24_3" d="M402.3 671.9l9.2-6.2 3.5-5 -9.2 5.9z"/>
<path class="c13_2" d="M314.3 733.1l9.2-3.2 3.5-6.6 -9.2 3.3z"/>
<path class="c38_7" d="M512.3 591.1l9.3-5.3 3.5-2.4 -9.3 5.1z"/>
<path class="c5_2" d="M176.5 780.6l9.2-.2 3.5-5.9 -9.2 .2z"/>
<path class="c51_4" d="M775.1 511.8l9.3-.7 3.5-2.1 -9.3 .6z"/>
<path class="c27_4" d="M424.3 654.5l9.2-6.5 3.5-4.4 -9.2 6.2z"/>
<path class="c6_2" d="M207.8 773.8l9.2-.5 3.5-6.1 -9.3 .6z"/>
<path class="c4_2" d="M145.2 786.2l9.3 .2 3.5-5.8 -9.3-.1z"/>
<path class="c46_6" d="M618.8 543.7l9.3-2.5 3.5-1.8 -9.3 2.5z"/>
<path class="c30_5" d="M446.3 637.2l9.3-6.6 3.4-3.7 -9.2 6.2z"/>
<path class="c36_7" d="M490.3 605.1l9.3-5.9 3.4-2.7 -9.2 5.6z"/>
<path class="c11_2" d="M292.3 744.9l9.2-2.4 3.5-6.6 -9.2 2.5z"/>
<path class="c51_4" d="M743.9 516.3l9.2-.9 3.5-2.1 -9.2 .9z"/>
<path class="c33_6" d="M468.3 620.6l9.3-6.3 3.4-3.2 -9.2 6z"/>
<path class="c7_2" d="M239 765.6l9.3-1.1 3.5-6.3 -9.3 1.1z"/>
<path class="c48_5" d="M650.1 534.9l9.2-2 3.5-1.8 -9.2 2z"/>
<path class="c50_4" d="M712.6 521.5l9.3-1.2 3.5-2 -9.3 1.2z"/>
<path class="c49_4" d="M681.3 527.6l9.3-1.5 3.5-1.9 -9.3 1.5z"/>
<path class="c43_7" d="M565.6 563.5l9.2-3.7 3.5-1.9 -9.2 3.7z"/>
<path class="c9_2" d="M270.3 755.4l9.2-1.8 3.5-6.5 -9.2 1.8z"/>
<path class="c52_3" d="M815.6 507.4l9.3-.5 3.5-2.2 -9.3 .4z"/>
<path class="c5_2" d="M185.7 780.4l9.3-.2 3.5-6 -9.3 .3z"/>
<path class="c4_2" d="M154.5 786.4l9.2 .1 3.5-5.9 -9.2 0z"/>
<path class="c45_6" d="M596.8 551.2l9.3-3 3.5-1.8 -9.3 3z"/>
<path class="c52_4" d="M784.4 511.1l9.2-.6 3.5-2.1 -9.2 .6z"/>
<path class="c41_7" d="M543.6 573.9l9.2-4.4 3.5-2 -9.2 4.3z"/>
<path class="c17_3" d="M345.5 715.7l9.3-4.5 3.5-6.3 -9.3 4.4z"/>
<path class="c6_2" d="M217 773.3l9.3-.6 3.5-6.3 -9.3 .8z"/>
<path class="c19_3" d="M367.5 700l9.3-5.3 3.5-5.9 -9.3 5.2z"/>
<path class="c14_2" d="M323.5 729.9l9.3-3.7 3.5-6.5 -9.3 3.6z"/>
<path class="c22_3" d="M389.5 683.2l9.3-6 3.5-5.3 -9.3 5.8z"/>
<path class="c51_4" d="M753.1 515.4l9.3-.8 3.5-2.1 -9.3 .8z"/>
<path class="c8_2" d="M248.3 764.5l9.2-1.2 3.5-6.4 -9.2 1.3z"/>
<path class="c47_5" d="M628.1 541.2l9.2-2.4 3.5-1.8 -9.2 2.4z"/>
<path class="c50_4" d="M721.9 520.3l9.2-1.1 3.5-2 -9.2 1.1z"/>
<path class="c12_2" d="M301.5 742.5l9.3-2.8 3.5-6.6 -9.3 2.8z"/>
<path class="c25_4" d="M411.5 665.7l9.3-6.5 3.5-4.7 -9.3 6.2z"/>
<path class="c39_7" d="M521.6 585.8l9.2-5.1 3.5-2.1 -9.2 4.8z"/>
<path class="c48_5" d="M659.3 532.9l9.3-1.8 3.5-1.8 -9.3 1.8z"/>
<path class="c49_4" d="M690.6 526.1l9.3-1.4 3.5-1.9 -9.3 1.4z"/>
<path class="c29_4" d="M433.5 648l9.3-6.7 3.5-4.1 -9.3 6.4z"/>
<path class="c53_3" d="M824.9 506.9l9.2-.3 3.5-2.3 -9.2 .4z"/>
<path class="c37_7" d="M499.6 599.2l9.2-5.7 3.5-2.4 -9.3 5.4z"/>
<path class="c44_7" d="M574.8 559.8l9.3-3.6 3.5-1.8 -9.3 3.5z"/>
<path class="c32_5" d="M455.6 630.6l9.2-6.6 3.5-3.4 -9.3 6.3z"/>
<path class="c34_7" d="M477.6 614.3l9.2-6.3 3.5-2.9 -9.3 6z"/>
<path class="c10_2" d="M279.5 753.6l9.3-2 3.5-6.7 -9.3 2.2z"/>
<path class="c4_2" d="M163.7 786.5l9.3 0 3.5-5.9 -9.3 0z"/>
<path class="c5_2" d="M195 780.2l9.3-.3 3.5-6.1 -9.3 .4z"/>
<path class="c52_4" d="M793.6 510.5l9.3-.5 3.5-2.2 -9.3 .6z"/>
<path class="c7_2" d="M226.3 772.7l9.2-.8 3.5-6.3 -9.2 .8z"/>
<path class="c46_6" d="M606.1 548.2l9.2-2.7 3.5-1.8 -9.2 2.7z"/>
<path class="c51_4" d="M762.4 514.6l9.2-.7 3.5-2.1 -9.2 .7z"/>
<path class="c42_7" d="M552.8 569.5l9.3-4.1 3.5-1.9 -9.3 4z"/>
<path class="c8_2" d="M257.5 763.3l9.3-1.4 3.5-6.5 -9.3 1.5z"/>
<path class="c51_4" d="M731.1 519.2l9.3-.9 3.5-2 -9.3 .9z"/>
<path class="c18_3" d="M354.8 711.2l9.2-5 3.5-6.2 -9.2 4.9z"/>
<path class="c15_2" d="M332.8 726.2l9.2-4 3.5-6.5 -9.2 4z"/>
<path class="c47_5" d="M637.3 538.8l9.3-2.1 3.5-1.8 -9.3 2.1z"/>
<path class="c50_4" d="M699.9 524.7l9.2-1.3 3.5-1.9 -9.2 1.3z"/>
<path class="c21_3" d="M376.8 694.7l9.2-5.7 3.5-5.8 -9.2 5.6z"/>
<path class="c49_5" d="M668.6 531.1l9.3-1.6 3.4-1.9 -9.2 1.7z"/>
<path class="c13_2" d="M310.8 739.7l9.2-3.2 3.5-6.6 -9.2 3.2z"/>
<path class="c24_3" d="M398.8 677.2l9.3-6.3 3.4-5.2 -9.2 6.2z"/>
<path class="c4_2" d="M173 786.5l9.3-.1 3.4-6 -9.2 .2z"/>
<path class="c40_7" d="M530.8 580.7l9.3-4.8 3.5-2 -9.3 4.7z"/>
<path class="c5_2" d="M204.3 779.9l9.2-.4 3.5-6.2 -9.2 .5z"/>
<path class="c3_2" d="M141.7 791.9l9.3 .3 3.5-5.8 -9.3-.2z"/>
<path class="c52_4" d="M802.9 510l9.2-.4 3.5-2.2 -9.2 .4z"/>
<path class="c11_2" d="M288.8 751.6l9.2-2.4 3.5-6.7 -9.2 2.4z"/>
<path class="c27_4" d="M420.8 659.2l9.3-6.7 3.4-4.5 -9.2 6.5z"/>
<path class="c44_7" d="M584.1 556.2l9.2-3.2 3.5-1.8 -9.2 3.2z"/>
<path class="c7_2" d="M235.5 771.9l9.3-.9 3.5-6.5 -9.3 1.1z"/>
<path class="c38_7" d="M508.8 593.5l9.3-5.4 3.5-2.3 -9.3 5.3z"/>
<path class="c30_5" d="M442.8 641.3l9.3-6.9 3.5-3.8 -9.3 6.6z"/>
<path class="c52_4" d="M771.6 513.9l9.3-.7 3.5-2.1 -9.3 .7z"/>
<path class="c36_7" d="M486.8 608l9.3-6.1 3.5-2.7 -9.3 5.9z"/>
<path class="c33_6" d="M464.8 624l9.3-6.6 3.5-3.1 -9.3 6.3z"/>
<path class="c46_6" d="M615.3 545.5l9.3-2.6 3.5-1.7 -9.3 2.5z"/>
<path class="c51_4" d="M740.4 518.3l9.2-.9 3.5-2 -9.2 .9z"/>
<path class="c9_2" d="M266.8 761.9l9.2-1.7 3.5-6.6 -9.2 1.8z"/>
<path class="c50_4" d="M709.1 523.4l9.3-1.1 3.5-2 -9.3 1.2z"/>
<path class="c48_5" d="M646.6 536.7l9.3-2 3.4-1.8 -9.2 2z"/>
<path class="c49_5" d="M677.9 529.5l9.2-1.6 3.5-1.8 -9.3 1.5z"/>
<path class="c43_7" d="M562.1 565.4l9.2-3.8 3.5-1.8 -9.2 3.7z"/>
<path class="c4_2" d="M182.3 786.4l9.2-.1 3.5-6.1 -9.3 .2z"/>
<path class="c3_2" d="M151 792.2l9.3 .1 3.4-5.8 -9.2-.1z"/>
<path class="c16_3" d="M342 722.2l9.3-4.6 3.5-6.4 -9.3 4.5z"/>
<path class="c6_2" d="M213.5 779.5l9.3-.6 3.5-6.2 -9.3 .6z"/>
<path class="c19_3" d="M364 706.2l9.3-5.4 3.5-6.1 -9.3 5.3z"/>
<path class="c14_2" d="M320 736.5l9.3-3.6 3.5-6.7 -9.3 3.7z"/>
<path class="c53_3" d="M812.1 509.6l9.3-.4 3.5-2.3 -9.3 .5z"/>
<path class="c22_3" d="M386 689l9.3-6.2 3.5-5.6 -9.3 6z"/>
<path class="c7_2" d="M244.8 771l9.2-1.2 3.5-6.5 -9.2 1.2z"/>
<path class="c11_2" d="M298 749.2l9.3-2.7 3.5-6.8 -9.3 2.8z"/>
<path class="c52_4" d="M780.9 513.2l9.2-.5 3.5-2.2 -9.2 .6z"/>
<path class="c41_7" d="M540.1 575.9l9.2-4.5 3.5-1.9 -9.2 4.4z"/>
<path class="c45_7" d="M593.3 553l9.3-3.1 3.5-1.7 -9.3 3z"/>
<path class="c25_4" d="M408.1 670.9l9.2-6.8 3.5-4.9 -9.3 6.5z"/>
<path class="c51_4" d="M749.6 517.4l9.3-.8 3.5-2 -9.3 .8z"/>
<path class="c47_6" d="M624.6 542.9l9.2-2.3 3.5-1.8 -9.2 2.4z"/>
<path class="c9_2" d="M276 760.2l9.3-1.9 3.5-6.7 -9.3 2z"/>
<path class="c28_4" d="M430.1 652.5l9.2-7 3.5-4.2 -9.3 6.7z"/>
<path class="c39_7" d="M518.1 588.1l9.2-5.3 3.5-2.1 -9.2 5.1z"/>
<path class="c51_4" d="M718.4 522.3l9.2-1.1 3.5-2 -9.2 1.1z"/>
<path class="c5_2" d="M191.5 786.3l9.3-.3 3.5-6.1 -9.3 .3z"/>
<path class="c48_5" d="M655.9 534.7l9.2-1.8 3.5-1.8 -9.3 1.8z"/>
<path class="c50_4" d="M687.1 527.9l9.3-1.3 3.5-1.9 -9.3 1.4z"/>
<path class="c4_2" d="M160.3 792.3l9.2 .1 3.5-5.9 -9.3 0z"/>
<path class="c32_6" d="M452.1 634.4l9.2-6.9 3.5-3.5 -9.2 6.6z"/>
<path class="c6_2" d="M222.8 778.9l9.2-.6 3.5-6.4 -9.2 .8z"/>
<path class="c37_7" d="M496.1 601.9l9.2-5.9 3.5-2.5 -9.2 5.7z"/>
<path class="c53_3" d="M821.4 509.2l9.3-.4 3.4-2.2 -9.2 .3z"/>
<path class="c35_7" d="M474.1 617.4l9.2-6.5 3.5-2.9 -9.2 6.3z"/>
<path class="c44_7" d="M571.3 561.6l9.3-3.6 3.5-1.8 -9.3 3.6z"/>
<path class="c8_2" d="M254 769.8l9.3-1.3 3.5-6.6 -9.3 1.4z"/>
<path class="c52_4" d="M790.1 512.7l9.3-.5 3.5-2.2 -9.3 .5z"/>
<path class="c14_2" d="M329.3 732.9l9.2-4.1 3.5-6.6 -9.2 4z"/>
<path class="c17_3" d="M351.3 717.6l9.3-5 3.4-6.4 -9.2 5z"/>
<path class="c12_2" d="M307.3 746.5l9.2-3.1 3.5-6.9 -9.2 3.2z"/>
<path class="c20_3" d="M373.3 700.8l9.3-5.9 3.4-5.9 -9.2 5.7z"/>
<path class="c52_4" d="M758.9 516.6l9.2-.7 3.5-2 -9.2 .7z"/>
<path class="c46_7" d="M602.6 549.9l9.2-2.7 3.5-1.7 -9.2 2.7z"/>
<path class="c42_7" d="M549.3 571.4l9.3-4.2 3.5-1.8 -9.3 4.1z"/>
<path class="c23_3" d="M395.3 682.8l9.3-6.7 3.5-5.2 -9.3 6.3z"/>
<path class="c4_2" d="M169.5 792.4l9.3 0 3.5-6 -9.3 .1z"/>
<path class="c51_4" d="M727.6 521.2l9.3-.9 3.5-2 -9.3 .9z"/>
<path class="c5_2" d="M200.8 786l9.2-.3 3.5-6.2 -9.2 .4z"/>
<path class="c10_2" d="M285.3 758.3l9.2-2.3 3.5-6.8 -9.2 2.4z"/>
<path class="c48_6" d="M633.8 540.6l9.3-2.2 3.5-1.7 -9.3 2.1z"/>
<path class="c3_2" d="M138.2 797.7l9.3 .3 3.5-5.8 -9.3-.3z"/>
<path class="c50_4" d="M696.4 526.6l9.2-1.3 3.5-1.9 -9.2 1.3z"/>
<path class="c49_5" d="M665.1 532.9l9.3-1.6 3.5-1.8 -9.3 1.6z"/>
<path class="c6_2" d="M232 778.3l9.3-.9 3.5-6.4 -9.3 .9z"/>
<path class="c27_4" d="M417.3 664.1l9.3-7.1 3.5-4.5 -9.3 6.7z"/>
<path class="c41_7" d="M527.3 582.8l9.3-4.9 3.5-2 -9.3 4.8z"/>
<path class="c53_4" d="M799.4 512.2l9.3-.5 3.4-2.1 -9.2 .4z"/>
<path class="c8_2" d="M263.3 768.5l9.2-1.5 3.5-6.8 -9.2 1.7z"/>
<path class="c30_5" d="M439.3 645.5l9.3-7.2 3.5-3.9 -9.3 6.9z"/>
<path class="c45_7" d="M580.6 558l9.2-3.4 3.5-1.6 -9.2 3.2z"/>
<path class="c38_7" d="M505.3 596l9.3-5.7 3.5-2.2 -9.3 5.4z"/>
<path class="c33_7" d="M461.3 627.5l9.3-6.9 3.5-3.2 -9.3 6.6z"/>
<path class="c52_4" d="M768.1 515.9l9.3-.6 3.5-2.1 -9.3 .7z"/>
<path class="c36_7" d="M483.3 610.9l9.3-6.4 3.5-2.6 -9.3 6.1z"/>
<path class="c15_2" d="M338.5 728.8l9.3-4.5 3.5-6.7 -9.3 4.6z"/>
<path class="c4_2" d="M178.8 792.4l9.2-.1 3.5-6 -9.2 .1z"/>
<path class="c5_2" d="M210 785.7l9.3-.5 3.5-6.3 -9.3 .6z"/>
<path class="c13_2" d="M316.5 743.4l9.3-3.6 3.5-6.9 -9.3 3.6z"/>
<path class="c47_6" d="M611.8 547.2l9.3-2.6 3.5-1.7 -9.3 2.6z"/>
<path class="c3_2" d="M147.5 798l9.3 .2 3.5-5.9 -9.3-.1z"/>
<path class="c51_4" d="M736.9 520.3l9.2-.9 3.5-2 -9.2 .9z"/>
<path class="c18_3" d="M360.6 712.6l9.2-5.6 3.5-6.2 -9.3 5.4z"/>
<path class="c50_4" d="M705.6 525.3l9.3-1.1 3.5-1.9 -9.3 1.1z"/>
<path class="c48_5" d="M643.1 538.4l9.3-2 3.5-1.7 -9.3 2z"/>
<path class="c7_2" d="M241.3 777.4l9.2-1 3.5-6.6 -9.2 1.2z"/>
<path class="c11_2" d="M294.5 756l9.3-2.6 3.5-6.9 -9.3 2.7z"/>
<path class="c49_5" d="M674.4 531.3l9.2-1.5 3.5-1.9 -9.2 1.6z"/>
<path class="c22_3" d="M382.6 694.9l9.2-6.5 3.5-5.6 -9.3 6.2z"/>
<path class="c43_7" d="M558.6 567.2l9.2-4 3.5-1.6 -9.2 3.8z"/>
<path class="c53_4" d="M808.7 511.7l9.2-.3 3.5-2.2 -9.3 .4z"/>
<path class="c25_4" d="M404.6 676.1l9.2-7 3.5-5 -9.2 6.8z"/>
<path class="c9_2" d="M272.5 767l9.3-1.8 3.5-6.9 -9.3 1.9z"/>
<path class="c52_4" d="M777.4 515.3l9.2-.5 3.5-2.1 -9.2 .5z"/>
<path class="c42_7" d="M536.6 577.9l9.2-4.7 3.5-1.8 -9.2 4.5z"/>
<path class="c46_7" d="M589.8 554.6l9.3-3 3.5-1.7 -9.3 3.1z"/>
<path class="c4_2" d="M188 792.3l9.3-.1 3.5-6.2 -9.3 .3z"/>
<path class="c3_2" d="M156.8 798.2l9.2 .1 3.5-5.9 -9.2-.1z"/>
<path class="c28_5" d="M426.6 657l9.2-7.3 3.5-4.2 -9.2 7z"/>
<path class="c5_2" d="M219.3 785.2l9.2-.5 3.5-6.4 -9.2 .6z"/>
<path class="c52_4" d="M746.1 519.4l9.3-.7 3.5-2.1 -9.3 .8z"/>
<path class="c47_6" d="M621.1 544.6l9.3-2.4 3.4-1.6 -9.2 2.3z"/>
<path class="c40_7" d="M514.6 590.3l9.2-5.5 3.5-2 -9.2 5.3z"/>
<path class="c51_4" d="M714.9 524.2l9.2-1.1 3.5-1.9 -9.2 1.1z"/>
<path class="c32_6" d="M448.6 638.3l9.2-7.3 3.5-3.5 -9.2 6.9z"/>
<path class="c7_2" d="M250.5 776.4l9.3-1.2 3.5-6.7 -9.3 1.3z"/>
<path class="c14_2" d="M325.8 739.8l9.3-4.1 3.4-6.9 -9.2 4.1z"/>
<path class="c49_5" d="M652.4 536.4l9.2-1.8 3.5-1.7 -9.2 1.8z"/>
<path class="c50_5" d="M683.6 529.8l9.3-1.4 3.5-1.8 -9.3 1.3z"/>
<path class="c17_3" d="M347.8 724.3l9.3-5.2 3.5-6.5 -9.3 5z"/>
<path class="c37_7" d="M492.6 604.5l9.2-6.2 3.5-2.3 -9.2 5.9z"/>
<path class="c35_7" d="M470.6 620.6l9.2-6.9 3.5-2.8 -9.2 6.5z"/>
<path class="c53_3" d="M817.9 511.4l9.3-.3 3.5-2.3 -9.3 .4z"/>
<path class="c11_2" d="M303.8 753.4l9.3-3.1 3.4-6.9 -9.2 3.1z"/>
<path class="c20_3" d="M369.8 707l9.3-6.1 3.5-6 -9.3 5.9z"/>
<path class="c44_7" d="M567.8 563.2l9.3-3.6 3.5-1.6 -9.3 3.6z"/>
<path class="c53_4" d="M786.6 514.8l9.3-.5 3.5-2.1 -9.3 .5z"/>
<path class="c9_2" d="M281.8 765.2l9.2-2.2 3.5-7 -9.2 2.3z"/>
<path class="c4_2" d="M197.3 792.2l9.2-.3 3.5-6.2 -9.2 .3z"/>
<path class="c3_2" d="M166 798.3l9.3 .1 3.5-6 -9.3 0z"/>
<path class="c23_3" d="M391.8 688.4l9.3-6.8 3.5-5.5 -9.3 6.7z"/>
<path class="c2_2" d="M134.8 803.4l9.2 .4 3.5-5.8 -9.3-.3z"/>
<path class="c6_2" d="M228.5 784.7l9.3-.7 3.5-6.6 -9.3 .9z"/>
<path class="c52_4" d="M755.4 518.7l9.2-.7 3.5-2.1 -9.2 .7z"/>
<path class="c46_7" d="M599.1 551.6l9.3-2.8 3.4-1.6 -9.2 2.7z"/>
<path class="c43_7" d="M545.8 573.2l9.3-4.3 3.5-1.7 -9.3 4.2z"/>
<path class="c51_4" d="M724.1 523.1l9.3-.9 3.5-1.9 -9.3 .9z"/>
<path class="c27_4" d="M413.8 669.1l9.3-7.4 3.5-4.7 -9.3 7.1z"/>
<path class="c8_2" d="M259.8 775.2l9.2-1.4 3.5-6.8 -9.2 1.5z"/>
<path class="c48_6" d="M630.4 542.2l9.2-2.1 3.5-1.7 -9.3 2.2z"/>
<path class="c50_4" d="M692.9 528.4l9.2-1.2 3.5-1.9 -9.2 1.3z"/>
<path class="c49_5" d="M661.6 534.6l9.3-1.6 3.5-1.7 -9.3 1.6z"/>
<path class="c30_5" d="M435.8 649.7l9.3-7.5 3.5-3.9 -9.3 7.2z"/>
<path class="c41_7" d="M523.8 584.8l9.3-5.1 3.5-1.8 -9.3 4.9z"/>
<path class="c15_2" d="M335.1 735.7l9.2-4.6 3.5-6.8 -9.3 4.5z"/>
<path class="c53_4" d="M795.9 514.3l9.3-.4 3.5-2.2 -9.3 .5z"/>
<path class="c12_2" d="M313.1 750.3l9.2-3.5 3.5-7 -9.3 3.6z"/>
<path class="c3_2" d="M175.3 798.4l9.2 0 3.5-6.1 -9.2 .1z"/>
<path class="c5_2" d="M206.5 791.9l9.3-.3 3.5-6.4 -9.3 .5z"/>
<path class="c18_3" d="M357.1 719.1l9.2-5.7 3.5-6.4 -9.2 5.6z"/>
<path class="c2_2" d="M144 803.8l9.3 .3 3.5-5.9 -9.3-.2z"/>
<path class="c45_7" d="M577.1 559.6l9.2-3.4 3.5-1.6 -9.2 3.4z"/>
<path class="c33_7" d="M457.8 631l9.3-7.3 3.5-3.1 -9.3 6.9z"/>
<path class="c39_7" d="M501.8 598.3l9.3-6 3.5-2 -9.3 5.7z"/>
<path class="c10_2" d="M291 763l9.3-2.5 3.5-7.1 -9.3 2.6z"/>
<path class="c6_2" d="M237.8 784l9.2-.9 3.5-6.7 -9.2 1z"/>
<path class="c36_7" d="M479.8 613.7l9.3-6.7 3.5-2.5 -9.3 6.4z"/>
<path class="c52_4" d="M764.6 518l9.3-.6 3.5-2.1 -9.3 .6z"/>
<path class="c21_3" d="M379.1 700.9l9.2-6.6 3.5-5.9 -9.2 6.5z"/>
<path class="c52_4" d="M733.4 522.2l9.2-.8 3.5-2 -9.2 .9z"/>
<path class="c47_7" d="M608.4 548.8l9.2-2.6 3.5-1.6 -9.3 2.6z"/>
<path class="c8_2" d="M269 773.8l9.3-1.7 3.5-6.9 -9.3 1.8z"/>
<path class="c51_4" d="M702.1 527.2l9.3-1.2 3.5-1.8 -9.3 1.1z"/>
<path class="c49_5" d="M639.6 540.1l9.3-2 3.5-1.7 -9.3 2z"/>
<path class="c50_5" d="M670.9 533l9.2-1.5 3.5-1.7 -9.2 1.5z"/>
<path class="c25_4" d="M401.1 681.6l9.2-7.4 3.5-5.1 -9.2 7z"/>
<path class="c44_7" d="M555.1 568.9l9.2-4.1 3.5-1.6 -9.2 4z"/>
<path class="c4_2" d="M184.5 798.4l9.3 0 3.5-6.2 -9.3 .1z"/>
<path class="c53_4" d="M805.2 513.9l9.2-.3 3.5-2.2 -9.2 .3z"/>
<path class="c3_2" d="M153.3 804.1l9.2 .2 3.5-6 -9.2-.1z"/>
<path class="c5_2" d="M215.8 791.6l9.2-.4 3.5-6.5 -9.2 .5z"/>
<path class="c28_5" d="M423.1 661.7l9.2-7.7 3.5-4.3 -9.2 7.3z"/>
<path class="c53_4" d="M773.9 517.4l9.3-.5 3.4-2.1 -9.2 .5z"/>
<path class="c7_2" d="M247 783.1l9.3-1.1 3.5-6.8 -9.3 1.2z"/>
<path class="c13_2" d="M322.3 746.8l9.3-4 3.5-7.1 -9.3 4.1z"/>
<path class="c42_2" d="M533.1 579.7l9.2-4.8 3.5-1.7 -9.2 4.7z"/>
<path class="c16_3" d="M344.3 731.1l9.3-5.2 3.5-6.8 -9.3 5.2z"/>
<path class="c46_7" d="M586.3 556.2l9.3-3.1 3.5-1.5 -9.3 3z"/>
<path class="c11_2" d="M300.3 760.5l9.3-3 3.5-7.2 -9.3 3.1z"/>
<path class="c52_4" d="M742.6 521.4l9.3-.7 3.5-2 -9.3 .7z"/>
<path class="c32_6" d="M445.1 642.2l9.2-7.7 3.5-3.5 -9.2 7.3z"/>
<path class="c19_3" d="M366.3 713.4l9.3-6.2 3.5-6.3 -9.3 6.1z"/>
<path class="c40_2" d="M511.1 592.3l9.2-5.6 3.5-1.9 -9.2 5.5z"/>
<path class="c48_6" d="M617.6 546.2l9.3-2.4 3.5-1.6 -9.3 2.4z"/>
<path class="c51_4" d="M711.4 526l9.2-1 3.5-1.9 -9.2 1.1z"/>
<path class="c35_7" d="M467.1 623.7l9.2-7.2 3.5-2.8 -9.2 6.9z"/>
<path class="c9_2" d="M278.3 772.1l9.3-2 3.4-7.1 -9.2 2.2z"/>
<path class="c50_5" d="M680.1 531.5l9.3-1.3 3.5-1.8 -9.3 1.4z"/>
<path class="c38_2" d="M489.1 607l9.2-6.5 3.5-2.2 -9.2 6.2z"/>
<path class="c49_5" d="M648.9 538.1l9.2-1.8 3.5-1.7 -9.2 1.8z"/>
<path class="c4_2" d="M193.8 798.4l9.2-.2 3.5-6.3 -9.2 .3z"/>
<path class="c53_3" d="M814.4 513.6l9.3-.3 3.5-2.2 -9.3 .3z"/>
<path class="c3_2" d="M162.5 804.3l9.3 .2 3.5-6.1 -9.3-.1z"/>
<path class="c23_3" d="M388.3 694.3l9.3-7.2 3.5-5.5 -9.3 6.8z"/>
<path class="c5_2" d="M225 791.2l9.3-.6 3.5-6.6 -9.3 .7z"/>
<path class="c2_2" d="M131.3 809.2l9.2 .4 3.5-5.8 -9.2-.4z"/>
<path class="c45_7" d="M564.3 564.8l9.3-3.7 3.5-1.5 -9.3 3.6z"/>
<path class="c53_4" d="M783.2 516.9l9.2-.5 3.5-2.1 -9.3 .5z"/>
<path class="c7_2" d="M256.3 782l9.3-1.2 3.4-7 -9.2 1.4z"/>
<path class="c26_4" d="M410.3 674.2l9.3-7.7 3.5-4.8 -9.3 7.4z"/>
<path class="c52_4" d="M751.9 520.7l9.3-.7 3.4-2 -9.2 .7z"/>
<path class="c47_7" d="M595.6 553.1l9.3-2.8 3.5-1.5 -9.3 2.8z"/>
<path class="c14_2" d="M331.6 742.8l9.2-4.7 3.5-7 -9.2 4.6z"/>
<path class="c12_2" d="M309.6 757.5l9.2-3.5 3.5-7.2 -9.2 3.5z"/>
<path class="c43_2" d="M542.3 574.9l9.3-4.5 3.5-1.5 -9.3 4.3z"/>
<path class="c52_4" d="M720.6 525l9.3-.9 3.5-1.9 -9.3 .9z"/>
<path class="c3_2" d="M171.8 804.5l9.2 .1 3.5-6.2 -9.2 0z"/>
<path class="c4_2" d="M203 798.2l9.3-.2 3.5-6.4 -9.3 .3z"/>
<path class="c17_3" d="M353.6 725.9l9.2-5.8 3.5-6.7 -9.2 5.7z"/>
<path class="c48_6" d="M626.9 543.8l9.2-2.1 3.5-1.6 -9.2 2.1z"/>
<path class="c30_6" d="M432.3 654l9.3-7.9 3.5-3.9 -9.3 7.5z"/>
<path class="c51_4" d="M689.4 530.2l9.2-1.2 3.5-1.8 -9.2 1.2z"/>
<path class="c50_5" d="M658.1 536.3l9.3-1.6 3.5-1.7 -9.3 1.6z"/>
<path class="c2_2" d="M140.5 809.6l9.3 .4 3.5-5.9 -9.3-.3z"/>
<path class="c9_2" d="M287.6 770.1l9.2-2.4 3.5-7.2 -9.3 2.5z"/>
<path class="c6_2" d="M234.3 790.6l9.2-.8 3.5-6.7 -9.2 .9z"/>
<path class="c41_2" d="M520.3 586.7l9.3-5.3 3.5-1.7 -9.3 5.1z"/>
<path class="c21_3" d="M375.6 707.2l9.2-6.9 3.5-6 -9.2 6.6z"/>
<path class="c53_4" d="M792.4 516.4l9.3-.4 3.5-2.1 -9.3 .4z"/>
<path class="c33_7" d="M454.3 634.5l9.3-7.7 3.5-3.1 -9.3 7.3z"/>
<path class="c7_2" d="M265.6 780.8l9.2-1.6 3.5-7.1 -9.3 1.7z"/>
<path class="c39_2" d="M498.3 600.5l9.3-6.2 3.5-2 -9.3 6z"/>
<path class="c46_7" d="M573.6 561.1l9.3-3.4 3.4-1.5 -9.2 3.4z"/>
<path class="c36_7" d="M476.3 616.5l9.3-7 3.5-2.5 -9.3 6.7z"/>
<path class="c53_4" d="M761.2 520l9.2-.6 3.5-2 -9.3 .6z"/>
<path class="c24_4" d="M397.6 687.1l9.2-7.6 3.5-5.3 -9.2 7.4z"/>
<path class="c3_2" d="M181 804.6l9.3 0 3.5-6.2 -9.3 0z"/>
<path class="c52_4" d="M729.9 524.1l9.2-.8 3.5-1.9 -9.2 .8z"/>
<path class="c4_2" d="M212.3 798l9.2-.3 3.5-6.5 -9.2 .4z"/>
<path class="c47_7" d="M604.9 550.3l9.2-2.6 3.5-1.5 -9.2 2.6z"/>
<path class="c2_2" d="M149.8 810l9.2 .3 3.5-6 -9.2-.2z"/>
<path class="c51_4" d="M698.6 529l9.3-1.1 3.5-1.9 -9.3 1.2z"/>
<path class="c49_6" d="M636.1 541.7l9.3-2 3.5-1.6 -9.3 2z"/>
<path class="c12_2" d="M318.8 754l9.3-4 3.5-7.2 -9.3 4z"/>
<path class="c6_2" d="M243.5 789.8l9.3-.9 3.5-6.9 -9.3 1.1z"/>
<path class="c50_5" d="M667.4 534.7l9.2-1.5 3.5-1.7 -9.2 1.5z"/>
<path class="c44_2" d="M551.6 570.4l9.3-4.1 3.4-1.5 -9.2 4.1z"/>
<path class="c15_3" d="M340.8 738.1l9.3-5.2 3.5-7 -9.3 5.2z"/>
<path class="c10_2" d="M296.8 767.7l9.3-2.8 3.5-7.4 -9.3 3z"/>
<path class="c28_5" d="M419.6 666.5l9.2-8.1 3.5-4.4 -9.2 7.7z"/>
<path class="c53_4" d="M801.7 516l9.2-.3 3.5-2.1 -9.2 .3z"/>
<path class="c19_3" d="M362.8 720.1l9.3-6.4 3.5-6.5 -9.3 6.2z"/>
<path class="c53_4" d="M770.4 519.4l9.3-.5 3.5-2 -9.3 .5z"/>
<path class="c8_2" d="M274.8 779.2l9.3-1.9 3.5-7.2 -9.3 2z"/>
<path class="c42_2" d="M529.6 581.4l9.2-5 3.5-1.5 -9.2 4.8z"/>
<path class="c32_7" d="M441.6 646.1l9.2-8.1 3.5-3.5 -9.2 7.7z"/>
<path class="c46_7" d="M582.9 557.7l9.2-3.1 3.5-1.5 -9.3 3.1z"/>
<path class="c3_2" d="M190.3 804.6l9.2 0 3.5-6.4 -9.2 .2z"/>
<path class="c2_2" d="M159 810.3l9.3 .2 3.5-6 -9.3-.2z"/>
<path class="c52_4" d="M739.1 523.3l9.3-.7 3.5-1.9 -9.3 .7z"/>
<path class="c5_2" d="M221.5 797.7l9.3-.5 3.5-6.6 -9.3 .6z"/>
<path class="c22_3" d="M384.8 700.3l9.3-7.4 3.5-5.8 -9.3 7.2z"/>
<path class="c1_2" d="M127.8 815l9.2 .5 3.5-5.9 -9.2-.4z"/>
<path class="c35_7" d="M463.6 626.8l9.2-7.6 3.5-2.7 -9.2 7.2z"/>
<path class="c40_2" d="M507.6 594.3l9.2-5.8 3.5-1.8 -9.2 5.6z"/>
<path class="c52_4" d="M707.9 527.9l9.2-1 3.5-1.9 -9.2 1z"/>
<path class="c48_7" d="M614.1 547.7l9.3-2.4 3.5-1.5 -9.3 2.4z"/>
<path class="c38_2" d="M485.6 609.5l9.2-6.8 3.5-2.2 -9.2 6.5z"/>
<path class="c6_2" d="M252.8 788.9l9.3-1.1 3.5-7 -9.3 1.2z"/>
<path class="c51_5" d="M676.6 533.2l9.3-1.3 3.5-1.7 -9.3 1.3z"/>
<path class="c50_5" d="M645.4 539.7l9.2-1.8 3.5-1.6 -9.2 1.8z"/>
<path class="c54_3" d="M810.9 515.7l9.3-.2 3.5-2.2 -9.3 .3z"/>
<path class="c26_4" d="M406.8 679.5l9.3-8.1 3.5-4.9 -9.3 7.7z"/>
<path class="c13_2" d="M328.1 750l9.2-4.6 3.5-7.3 -9.2 4.7z"/>
<path class="c11_2" d="M306.1 764.9l9.2-3.4 3.5-7.5 -9.2 3.5z"/>
<path class="c45_7" d="M560.9 566.3l9.2-3.8 3.5-1.4 -9.3 3.7z"/>
<path class="c53_4" d="M779.7 518.9l9.2-.4 3.5-2.1 -9.2 .5z"/>
<path class="c17_3" d="M350.1 732.9l9.2-6 3.5-6.8 -9.2 5.8z"/>
<path class="c4_2" d="M199.5 804.6l9.3-.2 3.5-6.4 -9.3 .2z"/>
<path class="c9_2" d="M284.1 777.3l9.2-2.2 3.5-7.4 -9.2 2.4z"/>
<path class="c2_2" d="M168.3 810.5l9.2 .2 3.5-6.1 -9.2-.1z"/>
<path class="c5_2" d="M230.8 797.2l9.3-.6 3.4-6.8 -9.2 .8z"/>
<path class="c53_4" d="M748.4 522.6l9.3-.6 3.5-2 -9.3 .7z"/>
<path class="c2_2" d="M137 815.5l9.3 .4 3.5-5.9 -9.3-.4z"/>
<path class="c47_7" d="M592.1 554.6l9.3-2.9 3.5-1.4 -9.3 2.8z"/>
<path class="c30_6" d="M428.8 658.4l9.3-8.4 3.5-3.9 -9.3 7.9z"/>
<path class="c52_4" d="M717.1 526.9l9.3-.9 3.5-1.9 -9.3 .9z"/>
<path class="c20_3" d="M372.1 713.7l9.2-7.1 3.5-6.3 -9.2 6.9z"/>
<path class="c44_2" d="M538.8 576.4l9.3-4.5 3.5-1.5 -9.3 4.5z"/>
<path class="c7_2" d="M262.1 787.8l9.2-1.4 3.5-7.2 -9.2 1.6z"/>
<path class="c49_6" d="M623.4 545.3l9.2-2.1 3.5-1.5 -9.2 2.1z"/>
<path class="c51_5" d="M685.9 531.9l9.2-1.2 3.5-1.7 -9.2 1.2z"/>
<path class="c50_5" d="M654.6 537.9l9.3-1.6 3.5-1.6 -9.3 1.6z"/>
<path class="c33_7" d="M450.8 638l9.3-8.1 3.5-3.1 -9.3 7.7z"/>
<path class="c42_2" d="M516.8 588.5l9.3-5.5 3.5-1.6 -9.3 5.3z"/>
<path class="c53_4" d="M788.9 518.5l9.3-.3 3.5-2.2 -9.3 .4z"/>
<path class="c24_4" d="M394.1 692.9l9.2-8 3.5-5.4 -9.2 7.6z"/>
<path class="c3_2" d="M177.5 810.7l9.3 .1 3.5-6.2 -9.3 0z"/>
<path class="c4_2" d="M208.8 804.4l9.3-.2 3.4-6.5 -9.2 .3z"/>
<path class="c36_2" d="M472.8 619.2l9.3-7.4 3.5-2.3 -9.3 7z"/>
<path class="c39_2" d="M494.8 602.7l9.3-6.5 3.5-1.9 -9.3 6.2z"/>
<path class="c2_2" d="M146.3 815.9l9.2 .4 3.5-6 -9.2-.3z"/>
<path class="c12_2" d="M315.3 761.5l9.3-4 3.5-7.5 -9.3 4z"/>
<path class="c46_7" d="M570.1 562.5l9.3-3.4 3.5-1.4 -9.3 3.4z"/>
<path class="c53_4" d="M757.7 522l9.2-.5 3.5-2.1 -9.2 .6z"/>
<path class="c5_2" d="M240.1 796.6l9.2-.7 3.5-7 -9.3 .9z"/>
<path class="c15_2" d="M337.3 745.4l9.3-5.3 3.5-7.2 -9.3 5.2z"/>
<path class="c9_2" d="M293.3 775.1l9.3-2.7 3.5-7.5 -9.3 2.8z"/>
<path class="c52_4" d="M726.4 526l9.3-.8 3.4-1.9 -9.2 .8z"/>
<path class="c48_7" d="M601.4 551.7l9.2-2.6 3.5-1.4 -9.2 2.6z"/>
<path class="c28_5" d="M416.1 671.4l9.2-8.5 3.5-4.5 -9.2 8.1z"/>
<path class="c18_3" d="M359.3 726.9l9.3-6.5 3.5-6.7 -9.3 6.4z"/>
<path class="c51_4" d="M695.1 530.7l9.3-1 3.5-1.8 -9.3 1.1z"/>
<path class="c7_2" d="M271.3 786.4l9.3-1.7 3.5-7.4 -9.3 1.9z"/>
<path class="c49_6" d="M632.6 543.2l9.3-2 3.5-1.5 -9.3 2z"/>
<path class="c51_5" d="M663.9 536.3l9.2-1.4 3.5-1.7 -9.2 1.5z"/>
<path class="c45_2" d="M548.1 571.9l9.3-4.2 3.5-1.4 -9.3 4.1z"/>
<path class="c54_4" d="M798.2 518.2l9.2-.3 3.5-2.2 -9.2 .3z"/>
<path class="c3_2" d="M186.8 810.8l9.3 .1 3.4-6.3 -9.2 0z"/>
<path class="c4_2" d="M218.1 804.2l9.2-.3 3.5-6.7 -9.3 .5z"/>
<path class="c2_2" d="M155.5 816.3l9.3 .3 3.5-6.1 -9.3-.2z"/>
<path class="c22_3" d="M381.3 706.6l9.3-7.7 3.5-6 -9.3 7.4z"/>
<path class="c32_7" d="M438.1 650l9.2-8.5 3.5-3.5 -9.2 8.1z"/>
<path class="c53_4" d="M766.9 521.5l9.3-.5 3.5-2.1 -9.3 .5z"/>
<path class="c1_2" d="M124.3 820.8l9.2 .6 3.5-5.9 -9.2-.5z"/>
<path class="c6_2" d="M249.3 795.9l9.3-1 3.5-7.1 -9.3 1.1z"/>
<path class="c43_2" d="M526.1 583l9.3-5.1 3.4-1.5 -9.2 5z"/>
<path class="c47_7" d="M579.4 559.1l9.2-3.2 3.5-1.3 -9.2 3.1z"/>
<path class="c53_4" d="M735.7 525.2l9.2-.6 3.5-2 -9.3 .7z"/>
<path class="c13_2" d="M324.6 757.5l9.2-4.6 3.5-7.5 -9.2 4.6z"/>
<path class="c10_2" d="M302.6 772.4l9.2-3.3 3.5-7.6 -9.2 3.4z"/>
<path class="c35_2" d="M460.1 629.9l9.2-8 3.5-2.7 -9.2 7.6z"/>
<path class="c41_2" d="M504.1 596.2l9.3-6.1 3.4-1.6 -9.2 5.8z"/>
<path class="c52_4" d="M704.4 529.7l9.3-1 3.4-1.8 -9.2 1z"/>
<path class="c38_2" d="M482.1 611.8l9.2-7.1 3.5-2 -9.2 6.8z"/>
<path class="c49_7" d="M610.6 549.1l9.3-2.3 3.5-1.5 -9.3 2.4z"/>
<path class="c26_4" d="M403.3 684.9l9.3-8.5 3.5-5 -9.3 8.1z"/>
<path class="c16_3" d="M346.6 740.1l9.2-6 3.5-7.2 -9.2 6z"/>
<path class="c8_2" d="M280.6 784.7l9.2-2.1 3.5-7.5 -9.2 2.2z"/>
<path class="c54_4" d="M807.4 517.9l9.3-.3 3.5-2.1 -9.3 .2z"/>
<path class="c51_5" d="M673.1 534.9l9.3-1.3 3.5-1.7 -9.3 1.3z"/>
<path class="c50_6" d="M641.9 541.2l9.2-1.7 3.5-1.6 -9.2 1.8z"/>
<path class="c3_2" d="M196.1 810.9l9.2 0 3.5-6.5 -9.3 .2z"/>
<path class="c2_2" d="M164.8 816.6l9.2 .3 3.5-6.2 -9.2-.2z"/>
<path class="c4_2" d="M227.3 803.9l9.3-.4 3.5-6.9 -9.3 .6z"/>
<path class="c1_2" d="M133.5 821.4l9.3 .5 3.5-6 -9.3-.4z"/>
<path class="c53_4" d="M776.2 521l9.2-.4 3.5-2.1 -9.2 .4z"/>
<path class="c46_2" d="M557.4 567.7l9.2-3.9 3.5-1.3 -9.2 3.8z"/>
<path class="c20_3" d="M368.6 720.4l9.2-7.3 3.5-6.5 -9.2 7.1z"/>
<path class="c6_2" d="M258.6 794.9l9.2-1.2 3.5-7.3 -9.2 1.4z"/>
<path class="c30_6" d="M425.3 662.9l9.3-8.8 3.5-4.1 -9.3 8.4z"/>
<path class="c53_4" d="M744.9 524.6l9.3-.6 3.5-2 -9.3 .6z"/>
<path class="c48_7" d="M588.6 555.9l9.3-2.9 3.5-1.3 -9.3 2.9z"/>
<path class="c52_4" d="M713.7 528.7l9.2-.8 3.5-1.9 -9.3 .9z"/>
<path class="c44_2" d="M535.4 577.9l9.2-4.7 3.5-1.3 -9.3 4.5z"/>
<path class="c3_2" d="M205.3 810.9l9.3-.1 3.5-6.6 -9.3 .2z"/>
<path class="c11_2" d="M311.8 769.1l9.3-3.9 3.5-7.7 -9.3 4z"/>
<path class="c2_2" d="M174 816.9l9.3 .2 3.5-6.3 -9.3-.1z"/>
<path class="c23_4" d="M390.6 698.9l9.2-8.3 3.5-5.7 -9.2 8z"/>
<path class="c51_5" d="M682.4 533.6l9.3-1.2 3.4-1.7 -9.2 1.2z"/>
<path class="c49_7" d="M619.9 546.8l9.2-2.2 3.5-1.4 -9.2 2.1z"/>
<path class="c33_7" d="M447.3 641.5l9.3-8.6 3.5-3 -9.3 8.1z"/>
<path class="c5_2" d="M236.6 803.5l9.2-.6 3.5-7 -9.2 .7z"/>
<path class="c50_5" d="M651.1 539.5l9.3-1.6 3.5-1.6 -9.3 1.6z"/>
<path class="c14_2" d="M333.8 752.9l9.3-5.4 3.5-7.4 -9.3 5.3z"/>
<path class="c8_2" d="M289.8 782.6l9.3-2.5 3.5-7.7 -9.3 2.7z"/>
<path class="c1_2" d="M142.8 821.9l9.2 .4 3.5-6 -9.2-.4z"/>
<path class="c54_4" d="M785.4 520.6l9.3-.3 3.5-2.1 -9.3 .3z"/>
<path class="c42_2" d="M513.4 590.1l9.2-5.7 3.5-1.4 -9.3 5.5z"/>
<path class="c37_2" d="M469.3 621.9l9.3-7.8 3.5-2.3 -9.3 7.4z"/>
<path class="c40_2" d="M491.3 604.7l9.3-6.8 3.5-1.7 -9.3 6.5z"/>
<path class="c17_3" d="M355.8 734.1l9.3-6.8 3.5-6.9 -9.3 6.5z"/>
<path class="c6_2" d="M267.8 793.7l9.3-1.5 3.5-7.5 -9.3 1.7z"/>
<path class="c53_4" d="M754.2 524l9.2-.6 3.5-1.9 -9.2 .5z"/>
<path class="c46_2" d="M566.6 563.8l9.3-3.5 3.5-1.2 -9.3 3.4z"/>
<path class="c28_5" d="M412.6 676.4l9.2-8.9 3.5-4.6 -9.2 8.5z"/>
<path class="c53_4" d="M722.9 527.9l9.3-.8 3.5-1.9 -9.3 .8z"/>
<path class="c2_2" d="M183.3 817.1l9.3 .2 3.5-6.4 -9.3-.1z"/>
<path class="c3_2" d="M214.6 810.8l9.2-.1 3.5-6.8 -9.2 .3z"/>
<path class="c1_2" d="M152 822.3l9.3 .4 3.5-6.1 -9.3-.3z"/>
<path class="c48_7" d="M597.9 553l9.2-2.6 3.5-1.3 -9.2 2.6z"/>
<path class="c52_4" d="M691.7 532.4l9.2-1 3.5-1.7 -9.3 1z"/>
<path class="c21_3" d="M377.8 713.1l9.3-8 3.5-6.2 -9.3 7.7z"/>
<path class="c5_2" d="M245.8 802.9l9.3-.8 3.5-7.2 -9.3 1z"/>
<path class="c50_6" d="M629.1 544.6l9.3-1.9 3.5-1.5 -9.3 2z"/>
<path class="c51_5" d="M660.4 537.9l9.2-1.4 3.5-1.6 -9.2 1.4z"/>
<path class="c1_2" d="M120.8 826.7l9.2 .6 3.5-5.9 -9.2-.6z"/>
<path class="c54_4" d="M794.7 520.3l9.2-.3 3.5-2.1 -9.2 .3z"/>
<path class="c45_2" d="M544.6 573.2l9.3-4.3 3.5-1.2 -9.3 4.2z"/>
<path class="c9_2" d="M299.1 780.1l9.2-3.1 3.5-7.9 -9.2 3.3z"/>
<path class="c12_2" d="M321.1 765.2l9.2-4.6 3.5-7.7 -9.2 4.6z"/>
<path class="c31_7" d="M434.6 654.1l9.3-9.1 3.4-3.5 -9.2 8.5z"/>
<path class="c53_4" d="M763.4 523.4l9.3-.4 3.5-2 -9.3 .5z"/>
<path class="c7_2" d="M277.1 792.2l9.2-1.8 3.5-7.8 -9.2 2.1z"/>
<path class="c15_3" d="M343.1 747.5l9.2-6.1 3.5-7.3 -9.2 6z"/>
<path class="c43_2" d="M522.6 584.4l9.3-5.3 3.5-1.2 -9.3 5.1z"/>
<path class="c25_4" d="M399.8 690.6l9.3-8.9 3.5-5.3 -9.3 8.5z"/>
<path class="c2_2" d="M192.6 817.3l9.2 .1 3.5-6.5 -9.2 0z"/>
<path class="c35_2" d="M456.6 632.9l9.3-8.4 3.4-2.6 -9.2 8z"/>
<path class="c4_2" d="M223.8 810.7l9.3-.3 3.5-6.9 -9.3 .4z"/>
<path class="c53_4" d="M732.2 527.1l9.2-.6 3.5-1.9 -9.2 .6z"/>
<path class="c47_7" d="M575.9 560.3l9.2-3.2 3.5-1.2 -9.2 3.2z"/>
<path class="c1_2" d="M161.3 822.7l9.3 .4 3.4-6.2 -9.2-.3z"/>
<path class="c1_2" d="M130 827.3l9.3 .5 3.5-5.9 -9.3-.5z"/>
<path class="c41_2" d="M500.6 597.9l9.3-6.4 3.5-1.4 -9.3 6.1z"/>
<path class="c38_2" d="M478.6 614.1l9.3-7.5 3.4-1.9 -9.2 7.1z"/>
<path class="c52_4" d="M700.9 531.4l9.3-.9 3.5-1.8 -9.3 1z"/>
<path class="c5_2" d="M255.1 802.1l9.2-.9 3.5-7.5 -9.2 1.2z"/>
<path class="c19_3" d="M365.1 727.3l9.2-7.5 3.5-6.7 -9.2 7.3z"/>
<path class="c54_4" d="M803.9 520l9.3-.2 3.5-2.2 -9.3 .3z"/>
<path class="c49_7" d="M607.1 550.4l9.3-2.3 3.5-1.3 -9.3 2.3z"/>
<path class="c51_5" d="M669.6 536.5l9.3-1.3 3.5-1.6 -9.3 1.3z"/>
<path class="c50_6" d="M638.4 542.7l9.2-1.7 3.5-1.5 -9.2 1.7z"/>
<path class="c29_7" d="M421.8 667.5l9.3-9.3 3.5-4.1 -9.3 8.8z"/>
<path class="c54_4" d="M772.7 523l9.2-.4 3.5-2 -9.2 .4z"/>
<path class="c10_2" d="M308.3 777l9.3-3.8 3.5-8 -9.3 3.9z"/>
<path class="c46_2" d="M553.9 568.9l9.2-3.9 3.5-1.2 -9.2 3.9z"/>
<path class="c3_2" d="M201.8 817.4l9.3 .1 3.5-6.7 -9.3 .1z"/>
<path class="c8_2" d="M286.3 790.4l9.3-2.4 3.5-7.9 -9.3 2.5z"/>
<path class="c13_2" d="M330.3 760.6l9.3-5.3 3.5-7.8 -9.3 5.4z"/>
<path class="c2_2" d="M170.6 823.1l9.2 .3 3.5-6.3 -9.3-.2z"/>
<path class="c4_2" d="M233.1 810.4l9.2-.4 3.5-7.1 -9.2 .6z"/>
<path class="c23_4" d="M387.1 705.1l9.3-8.7 3.4-5.8 -9.2 8.3z"/>
<path class="c53_4" d="M741.4 526.5l9.3-.6 3.5-1.9 -9.3 .6z"/>
<path class="c1_2" d="M139.3 827.8l9.3 .5 3.4-6 -9.2-.4z"/>
<path class="c53_4" d="M710.2 530.5l9.2-.8 3.5-1.8 -9.2 .8z"/>
<path class="c48_7" d="M585.1 557.1l9.3-2.8 3.5-1.3 -9.3 2.9z"/>
<path class="c33_2" d="M443.9 645l9.2-9 3.5-3.1 -9.3 8.6z"/>
<path class="c6_2" d="M264.3 801.2l9.3-1.3 3.5-7.7 -9.3 1.5z"/>
<path class="c17_3" d="M352.3 741.4l9.3-6.9 3.5-7.2 -9.3 6.8z"/>
<path class="c44_2" d="M531.9 579.1l9.2-4.8 3.5-1.1 -9.2 4.7z"/>
<path class="c52_5" d="M678.9 535.2l9.3-1.1 3.5-1.7 -9.3 1.2z"/>
<path class="c50_7" d="M616.4 548.1l9.2-2.1 3.5-1.4 -9.2 2.2z"/>
<path class="c51_5" d="M647.6 541l9.3-1.6 3.5-1.5 -9.3 1.6z"/>
<path class="c54_4" d="M781.9 522.6l9.3-.3 3.5-2 -9.3 .3z"/>
<path class="c37_2" d="M465.9 624.5l9.2-8.3 3.5-2.1 -9.3 7.8z"/>
<path class="c42_2" d="M509.9 591.5l9.2-5.9 3.5-1.2 -9.2 5.7z"/>
<path class="c27_5" d="M409.1 681.7l9.3-9.5 3.4-4.7 -9.2 8.9z"/>
<path class="c3_2" d="M211.1 817.5l9.2 0 3.5-6.8 -9.2 .1z"/>
<path class="c2_2" d="M179.8 823.4l9.3 .3 3.5-6.4 -9.3-.2z"/>
<path class="c40_2" d="M487.9 606.6l9.2-7.1 3.5-1.6 -9.3 6.8z"/>
<path class="c4_2" d="M242.3 810l9.3-.6 3.5-7.3 -9.3 .8z"/>
<path class="c1_2" d="M148.6 828.3l9.2 .5 3.5-6.1 -9.3-.4z"/>
<path class="c54_4" d="M750.7 525.9l9.2-.5 3.5-2 -9.2 .6z"/>
<path class="c21_3" d="M374.3 719.8l9.3-8.3 3.5-6.4 -9.3 8z"/>
<path class="c47_2" d="M563.1 565l9.3-3.6 3.5-1.1 -9.3 3.5z"/>
<path class="c8_2" d="M295.6 788l9.2-2.9 3.5-8.1 -9.2 3.1z"/>
<path class="c11_2" d="M317.6 773.2l9.2-4.5 3.5-8.1 -9.2 4.6z"/>
<path class="c0_2" d="M117.3 832.6l9.2 .6 3.5-5.9 -9.2-.6z"/>
<path class="c53_4" d="M719.4 529.7l9.3-.7 3.5-1.9 -9.3 .8z"/>
<path class="c6_2" d="M273.6 799.9l9.2-1.6 3.5-7.9 -9.2 1.8z"/>
<path class="c14_2" d="M339.6 755.3l9.3-6.2 3.4-7.7 -9.2 6.1z"/>
<path class="c49_7" d="M594.4 554.3l9.2-2.6 3.5-1.3 -9.2 2.6z"/>
<path class="c52_4" d="M688.2 534.1l9.2-1 3.5-1.7 -9.2 1z"/>
<path class="c31_7" d="M431.1 658.2l9.3-9.6 3.5-3.6 -9.3 9.1z"/>
<path class="c54_4" d="M791.2 522.3l9.2-.2 3.5-2.1 -9.2 .3z"/>
<path class="c51_5" d="M656.9 539.4l9.3-1.3 3.4-1.6 -9.2 1.4z"/>
<path class="c50_7" d="M625.6 546l9.3-1.9 3.5-1.4 -9.3 1.9z"/>
<path class="c2_2" d="M189.1 823.7l9.2 .2 3.5-6.5 -9.2-.1z"/>
<path class="c3_2" d="M220.3 817.5l9.3-.1 3.5-7 -9.3 .3z"/>
<path class="c45_2" d="M541.1 574.3l9.3-4.3 3.5-1.1 -9.3 4.3z"/>
<path class="c25_4" d="M396.4 696.4l9.2-9.3 3.5-5.4 -9.3 8.9z"/>
<path class="c1_2" d="M157.8 828.8l9.3 .5 3.5-6.2 -9.3-.4z"/>
<path class="c54_4" d="M759.9 525.4l9.3-.4 3.5-2 -9.3 .4z"/>
<path class="c5_2" d="M251.6 809.4l9.2-.7 3.5-7.5 -9.2 .9z"/>
<path class="c18_3" d="M361.6 734.5l9.3-7.7 3.4-7 -9.2 7.5z"/>
<path class="c0_2" d="M126.5 833.2l9.3 .6 3.5-6 -9.3-.5z"/>
<path class="c35_2" d="M453.1 636l9.3-9 3.5-2.5 -9.3 8.4z"/>
<path class="c44_2" d="M519.1 585.6l9.3-5.4 3.5-1.1 -9.3 5.3z"/>
<path class="c53_4" d="M728.7 529l9.2-.7 3.5-1.8 -9.2 .6z"/>
<path class="c48_2" d="M572.4 561.4l9.2-3.1 3.5-1.2 -9.2 3.2z"/>
<path class="c9_2" d="M304.8 785.1l9.3-3.6 3.5-8.3 -9.3 3.8z"/>
<path class="c39_2" d="M475.1 616.2l9.3-7.9 3.5-1.7 -9.3 7.5z"/>
<path class="c41_2" d="M497.1 599.5l9.3-6.7 3.5-1.3 -9.3 6.4z"/>
<path class="c53_4" d="M697.4 533.1l9.3-.9 3.5-1.7 -9.3 .9z"/>
<path class="c7_2" d="M282.8 798.3l9.3-2.1 3.5-8.2 -9.3 2.4z"/>
<path class="c54_4" d="M800.4 522.1l9.3-.2 3.5-2.1 -9.3 .2z"/>
<path class="c12_2" d="M326.8 768.7l9.3-5.4 3.5-8 -9.3 5.3z"/>
<path class="c2_2" d="M198.3 823.9l9.3 .2 3.5-6.6 -9.3-.1z"/>
<path class="c49_7" d="M603.6 551.7l9.3-2.3 3.5-1.3 -9.3 2.3z"/>
<path class="c29_7" d="M418.4 672.2l9.2-9.8 3.5-4.2 -9.3 9.3z"/>
<path class="c52_5" d="M666.2 538.1l9.2-1.3 3.5-1.6 -9.3 1.3z"/>
<path class="c3_2" d="M229.6 817.4l9.2-.2 3.5-7.2 -9.2 .4z"/>
<path class="c1_2" d="M167.1 829.3l9.2 .4 3.5-6.3 -9.2-.3z"/>
<path class="c51_6" d="M634.9 544.1l9.3-1.7 3.4-1.4 -9.2 1.7z"/>
<path class="c23_4" d="M383.6 711.5l9.3-9 3.5-6.1 -9.3 8.7z"/>
<path class="c0_2" d="M135.8 833.8l9.3 .6 3.5-6.1 -9.3-.5z"/>
<path class="c54_4" d="M769.2 525l9.2-.3 3.5-2.1 -9.2 .4z"/>
<path class="c5_2" d="M260.8 808.7l9.3-1 3.5-7.8 -9.3 1.3z"/>
<path class="c16_3" d="M348.9 749.1l9.2-7 3.5-7.6 -9.3 6.9z"/>
<path class="c46_2" d="M550.4 570l9.2-4 3.5-1 -9.2 3.9z"/>
<path class="c54_4" d="M737.9 528.3l9.3-.5 3.5-1.9 -9.3 .6z"/>
<path class="c33_2" d="M440.4 648.6l9.2-9.7 3.5-2.9 -9.2 9z"/>
<path class="c53_4" d="M706.7 532.2l9.2-.8 3.5-1.7 -9.2 .8z"/>
<path class="c2_2" d="M207.6 824.1l9.2 .2 3.5-6.8 -9.2 0z"/>
<path class="c49_7" d="M581.6 558.3l9.3-2.9 3.5-1.1 -9.3 2.8z"/>
<path class="c1_2" d="M176.3 829.7l9.3 .4 3.5-6.4 -9.3-.3z"/>
<path class="c4_2" d="M238.8 817.2l9.3-.4 3.5-7.4 -9.3 .6z"/>
<path class="c45_2" d="M528.4 580.2l9.2-4.9 3.5-1 -9.2 4.8z"/>
<path class="c27_5" d="M405.6 687.1l9.3-10 3.5-4.9 -9.3 9.5z"/>
<path class="c52_5" d="M675.4 536.8l9.3-1.1 3.5-1.6 -9.3 1.1z"/>
<path class="c7_2" d="M292.1 796.2l9.3-2.7 3.4-8.4 -9.2 2.9z"/>
<path class="c10_2" d="M314.1 781.5l9.3-4.5 3.4-8.3 -9.2 4.5z"/>
<path class="c20_3" d="M370.9 726.8l9.2-8.6 3.5-6.7 -9.3 8.3z"/>
<path class="c0_2" d="M145.1 834.4l9.2 .5 3.5-6.1 -9.2-.5z"/>
<path class="c50_7" d="M612.9 549.4l9.2-2.1 3.5-1.3 -9.2 2.1z"/>
<path class="c51_6" d="M644.2 542.4l9.2-1.5 3.5-1.5 -9.3 1.6z"/>
<path class="c54_4" d="M778.4 524.7l9.3-.3 3.5-2.1 -9.3 .3z"/>
<path class="c37_2" d="M462.4 627l9.2-8.8 3.5-2 -9.2 8.3z"/>
<path class="c0_2" d="M113.8 838.6l9.3 .6 3.4-6 -9.2-.6z"/>
<path class="c5_2" d="M270.1 807.7l9.2-1.4 3.5-8 -9.2 1.6z"/>
<path class="c43_2" d="M506.4 592.8l9.2-6.1 3.5-1.1 -9.2 5.9z"/>
<path class="c14_2" d="M336.1 763.3l9.3-6.2 3.5-8 -9.3 6.2z"/>
<path class="c40_1" d="M484.4 608.3l9.2-7.5 3.5-1.3 -9.2 7.1z"/>
<path class="c54_4" d="M747.2 527.8l9.2-.5 3.5-1.9 -9.2 .5z"/>
<path class="c47_2" d="M559.6 566l9.3-3.5 3.5-1.1 -9.3 3.6z"/>
<path class="c2_2" d="M216.8 824.3l9.3 .1 3.5-7 -9.3 .1z"/>
<path class="c1_2" d="M185.6 830.1l9.2 .4 3.5-6.6 -9.2-.2z"/>
<path class="c53_4" d="M715.9 531.4l9.3-.6 3.5-1.8 -9.3 .7z"/>
<path class="c31_7" d="M427.6 662.4l9.3-10.2 3.5-3.6 -9.3 9.6z"/>
<path class="c4_2" d="M248.1 816.8l9.2-.5 3.5-7.6 -9.2 .7z"/>
<path class="c0_2" d="M154.3 834.9l9.3 .6 3.5-6.2 -9.3-.5z"/>
<path class="c24_4" d="M392.9 702.5l9.2-9.8 3.5-5.6 -9.2 9.3z"/>
<path class="c18_3" d="M358.1 742.1l9.3-8 3.5-7.3 -9.3 7.7z"/>
<path class="c53_5" d="M684.7 535.7l9.2-.9 3.5-1.7 -9.2 1z"/>
<path class="c49_7" d="M590.9 555.4l9.2-2.6 3.5-1.1 -9.2 2.6z"/>
<path class="c55_4" d="M787.7 524.4l9.3-.2 3.4-2.1 -9.2 .2z"/>
<path class="c0_2" d="M123.1 839.2l9.2 .6 3.5-6 -9.3-.6z"/>
<path class="c52_5" d="M653.4 540.9l9.3-1.3 3.5-1.5 -9.3 1.3z"/>
<path class="c51_7" d="M622.1 547.3l9.3-1.9 3.5-1.3 -9.3 1.9z"/>
<path class="c8_2" d="M301.4 793.5l9.2-3.4 3.5-8.6 -9.3 3.6z"/>
<path class="c46_2" d="M537.6 575.3l9.3-4.4 3.5-.9 -9.3 4.3z"/>
<path class="c6_2" d="M279.3 806.3l9.3-1.8 3.5-8.3 -9.3 2.1z"/>
<path class="c11_2" d="M323.4 777l9.2-5.3 3.5-8.4 -9.3 5.4z"/>
<path class="c54_4" d="M756.4 527.3l9.3-.3 3.5-2 -9.3 .4z"/>
<path class="c35_2" d="M449.6 638.9l9.3-9.5 3.5-2.4 -9.3 9z"/>
<path class="c1_2" d="M194.8 830.5l9.3 .3 3.5-6.7 -9.3-.2z"/>
<path class="c3_2" d="M226.1 824.4l9.2-.1 3.5-7.1 -9.2 .2z"/>
<path class="c54_4" d="M725.2 530.8l9.2-.6 3.5-1.9 -9.2 .7z"/>
<path class="c1_2" d="M163.6 835.5l9.2 .5 3.5-6.3 -9.2-.4z"/>
<path class="c44_2" d="M515.6 586.7l9.3-5.5 3.5-1 -9.3 5.4z"/>
<path class="c22_4" d="M380.1 718.2l9.3-9.4 3.5-6.3 -9.3 9z"/>
<path class="c29_7" d="M414.9 677.1l9.2-10.4 3.5-4.3 -9.2 9.8z"/>
<path class="c4_2" d="M257.3 816.3l9.3-.7 3.5-7.9 -9.3 1z"/>
<path class="c15_3" d="M345.4 757.1l9.2-7.2 3.5-7.8 -9.2 7z"/>
<path class="c48_2" d="M568.9 562.5l9.2-3.2 3.5-1 -9.2 3.1z"/>
<path class="c39_1" d="M471.6 618.2l9.3-8.3 3.5-1.6 -9.3 7.9z"/>
<path class="c0_2" d="M132.3 839.8l9.3 .6 3.5-6 -9.3-.6z"/>
<path class="c53_4" d="M693.9 534.8l9.3-.9 3.5-1.7 -9.3 .9z"/>
<path class="c55_4" d="M797 524.2l9.2-.2 3.5-2.1 -9.3 .2z"/>
<path class="c42_1" d="M493.6 600.8l9.3-6.9 3.5-1.1 -9.3 6.7z"/>
<path class="c52_5" d="M662.7 539.6l9.2-1.2 3.5-1.6 -9.2 1.3z"/>
<path class="c50_7" d="M600.1 552.8l9.3-2.3 3.5-1.1 -9.3 2.3z"/>
<path class="c51_6" d="M631.4 545.4l9.3-1.6 3.5-1.4 -9.3 1.7z"/>
<path class="c54_4" d="M765.7 527l9.2-.4 3.5-1.9 -9.2 .3z"/>
<path class="c9_2" d="M310.6 790.1l9.3-4.4 3.5-8.7 -9.3 4.5z"/>
<path class="c7_2" d="M288.6 804.5l9.3-2.4 3.5-8.6 -9.3 2.7z"/>
<path class="c2_2" d="M204.1 830.8l9.2 .3 3.5-6.8 -9.2-.2z"/>
<path class="c3_2" d="M235.3 824.3l9.3-.1 3.5-7.4 -9.3 .4z"/>
<path class="c1_2" d="M172.8 836l9.3 .5 3.5-6.4 -9.3-.4z"/>
<path class="c47_2" d="M546.9 570.9l9.2-4 3.5-.9 -9.2 4z"/>
<path class="c19_3" d="M367.4 734.1l9.2-8.8 3.5-7.1 -9.2 8.6z"/>
<path class="c54_4" d="M734.4 530.2l9.3-.5 3.5-1.9 -9.3 .5z"/>
<path class="c34_2" d="M436.9 652.2l9.2-10.3 3.5-3 -9.2 9.7z"/>
<path class="c0_2" d="M141.6 840.4l9.2 .7 3.5-6.2 -9.2-.5z"/>
<path class="c27_5" d="M402.1 692.7l9.3-10.5 3.5-5.1 -9.3 10z"/>
<path class="c5_2" d="M266.6 815.6l9.3-1 3.4-8.3 -9.2 1.4z"/>
<path class="c13_2" d="M332.6 771.7l9.3-6.3 3.5-8.3 -9.3 6.2z"/>
<path class="c53_4" d="M703.2 533.9l9.2-.7 3.5-1.8 -9.2 .8z"/>
<path class="c49_2" d="M578.1 559.3l9.3-2.9 3.5-1 -9.3 2.9z"/>
<path class="c53_5" d="M671.9 538.4l9.3-1.1 3.5-1.6 -9.3 1.1z"/>
<path class="c45_2" d="M524.9 581.2l9.2-5 3.5-.9 -9.2 4.9z"/>
<path class="c55_4" d="M774.9 526.6l9.3-.2 3.5-2 -9.3 .3z"/>
<path class="c51_7" d="M609.4 550.5l9.3-2 3.4-1.2 -9.2 2.1z"/>
<path class="c52_6" d="M640.7 543.8l9.2-1.5 3.5-1.4 -9.2 1.5z"/>
<path class="c37_2" d="M458.9 629.4l9.2-9.3 3.5-1.9 -9.2 8.8z"/>
<path class="c2_2" d="M213.3 831.1l9.3 .3 3.5-7 -9.3-.1z"/>
<path class="c1_2" d="M182.1 836.5l9.2 .5 3.5-6.5 -9.2-.4z"/>
<path class="c3_2" d="M244.6 824.2l9.3-.2 3.4-7.7 -9.2 .5z"/>
<path class="c17_3" d="M354.6 749.9l9.3-8.1 3.5-7.7 -9.3 8z"/>
<path class="c43_1" d="M502.9 593.9l9.2-6.3 3.5-.9 -9.2 6.1z"/>
<path class="c41_1" d="M480.9 609.9l9.2-7.9 3.5-1.2 -9.2 7.5z"/>
<path class="c54_4" d="M743.7 529.7l9.2-.4 3.5-2 -9.2 .5z"/>
<path class="c0_2" d="M150.8 841.1l9.3 .6 3.5-6.2 -9.3-.6z"/>
<path class="c24_4" d="M389.4 708.8l9.2-10.2 3.5-5.9 -9.2 9.8z"/>
<path class="c7_2" d="M297.9 802.1l9.2-3.2 3.5-8.8 -9.2 3.4z"/>
<path class="c31_7" d="M424.1 666.7l9.3-10.9 3.5-3.6 -9.3 10.2z"/>
<path class="c10_2" d="M319.9 785.7l9.2-5.3 3.5-8.7 -9.2 5.3z"/>
<path class="c5_2" d="M275.9 814.6l9.2-1.5 3.5-8.6 -9.3 1.8z"/>
<path class="c48_2" d="M556.1 566.9l9.3-3.6 3.5-.8 -9.3 3.5z"/>
<path class="c54_4" d="M712.4 533.2l9.3-.7 3.5-1.7 -9.3 .6z"/>
<path class="c53_5" d="M681.2 537.3l9.2-.9 3.5-1.6 -9.2 .9z"/>
<path class="c55_4" d="M784.2 526.4l9.3-.2 3.5-2 -9.3 .2z"/>
<path class="c50_7" d="M587.4 556.4l9.3-2.5 3.4-1.1 -9.2 2.6z"/>
<path class="c2_2" d="M222.6 831.4l9.2 .2 3.5-7.3 -9.2 .1z"/>
<path class="c1_2" d="M191.3 837l9.3 .5 3.5-6.7 -9.3-.3z"/>
<path class="c52_5" d="M649.9 542.3l9.3-1.3 3.5-1.4 -9.3 1.3z"/>
<path class="c51_7" d="M618.7 548.5l9.2-1.8 3.5-1.3 -9.3 1.9z"/>
<path class="c3_2" d="M253.9 824l9.2-.4 3.5-8 -9.3 .7z"/>
<path class="c14_3" d="M341.9 765.4l9.2-7.3 3.5-8.2 -9.2 7.2z"/>
<path class="c0_2" d="M160.1 841.7l9.2 .6 3.5-6.3 -9.2-.5z"/>
<path class="c21_4" d="M376.6 725.3l9.3-9.8 3.5-6.7 -9.3 9.4z"/>
<path class="c54_4" d="M752.9 529.3l9.3-.4 3.5-1.9 -9.3 .3z"/>
<path class="c46_2" d="M534.1 576.2l9.3-4.5 3.5-.8 -9.3 4.4z"/>
<path class="c36_2" d="M446.1 641.9l9.3-10.2 3.5-2.3 -9.3 9.5z"/>
<path class="c29_7" d="M411.4 682.2l9.2-11.1 3.5-4.4 -9.2 10.4z"/>
<path class="c54_4" d="M721.7 532.5l9.2-.5 3.5-1.8 -9.2 .6z"/>
<path class="c8_2" d="M307.1 798.9l9.3-4.2 3.5-9 -9.3 4.4z"/>
<path class="c6_2" d="M285.1 813.1l9.3-2 3.5-9 -9.3 2.4z"/>
<path class="c45_1" d="M512.1 587.6l9.3-5.7 3.5-.7 -9.3 5.5z"/>
<path class="c39_1" d="M468.1 620.1l9.3-8.9 3.5-1.3 -9.3 8.3z"/>
<path class="c55_4" d="M793.5 526.2l9.2-.1 3.5-2.1 -9.2 .2z"/>
<path class="c49_2" d="M565.4 563.3l9.2-3.1 3.5-.9 -9.2 3.2z"/>
<path class="c53_4" d="M690.4 536.4l9.3-.8 3.5-1.7 -9.3 .9z"/>
<path class="c2_2" d="M231.8 831.6l9.3 .1 3.5-7.5 -9.3 .1z"/>
<path class="c1_2" d="M200.6 837.5l9.2 .5 3.5-6.9 -9.2-.3z"/>
<path class="c42_1" d="M490.1 602l9.3-7.2 3.5-.9 -9.3 6.9z"/>
<path class="c19_3" d="M363.9 741.8l9.2-9.1 3.5-7.4 -9.2 8.8z"/>
<path class="c0_2" d="M169.3 842.3l9.3 .7 3.5-6.5 -9.3-.5z"/>
<path class="c53_5" d="M659.2 541l9.2-1.2 3.5-1.4 -9.2 1.2z"/>
<path class="c12_2" d="M329.1 780.4l9.3-6.4 3.5-8.6 -9.3 6.3z"/>
<path class="c4_2" d="M263.1 823.6l9.3-.7 3.5-8.3 -9.3 1z"/>
<path class="c50_7" d="M596.7 553.9l9.2-2.3 3.5-1.1 -9.3 2.3z"/>
<path class="c52_7" d="M627.9 546.7l9.3-1.6 3.5-1.3 -9.3 1.6z"/>
<path class="c55_4" d="M762.2 528.9l9.3-.3 3.4-2 -9.2 .4z"/>
<path class="c26_5" d="M398.6 698.6l9.3-11.1 3.5-5.3 -9.3 10.5z"/>
<path class="c34_2" d="M433.4 655.8l9.2-11 3.5-2.9 -9.2 10.3z"/>
<path class="c54_4" d="M730.9 532l9.3-.5 3.5-1.8 -9.3 .5z"/>
<path class="c48_2" d="M543.4 571.7l9.2-4.1 3.5-.7 -9.2 4z"/>
<path class="c1_2" d="M209.8 838l9.3 .4 3.5-7 -9.3-.3z"/>
<path class="c2_2" d="M241.1 831.7l9.3 .1 3.5-7.8 -9.3 .2z"/>
<path class="c16_3" d="M351.1 758.1l9.3-8.3 3.5-8 -9.3 8.1z"/>
<path class="c54_4" d="M699.7 535.6l9.2-.7 3.5-1.7 -9.2 .7z"/>
<path class="c6_2" d="M294.4 811.1l9.2-2.9 3.5-9.3 -9.2 3.2z"/>
<path class="c0_2" d="M178.6 843l9.2 .6 3.5-6.6 -9.2-.5z"/>
<path class="c9_2" d="M316.4 794.7l9.2-5.2 3.5-9.1 -9.2 5.3z"/>
<path class="c50_2" d="M574.6 560.2l9.3-2.9 3.5-.9 -9.3 2.9z"/>
<path class="c53_5" d="M668.4 539.8l9.3-1 3.5-1.5 -9.3 1.1z"/>
<path class="c23_4" d="M385.9 715.5l9.2-10.7 3.5-6.2 -9.2 10.2z"/>
<path class="c4_2" d="M272.4 822.9l9.2-1 3.5-8.8 -9.2 1.5z"/>
<path class="c55_4" d="M771.5 528.6l9.2-.2 3.5-2 -9.3 .2z"/>
<path class="c38_1" d="M455.4 631.7l9.2-9.9 3.5-1.7 -9.2 9.3z"/>
<path class="c46_1" d="M521.4 581.9l9.2-5.1 3.5-.6 -9.2 5z"/>
<path class="c52_6" d="M637.2 545.1l9.2-1.5 3.5-1.3 -9.2 1.5z"/>
<path class="c51_7" d="M605.9 551.6l9.3-2 3.5-1.1 -9.3 2z"/>
<path class="c31_2" d="M420.6 671.1l9.3-11.5 3.5-3.8 -9.3 10.9z"/>
<path class="c54_4" d="M740.2 531.5l9.3-.4 3.4-1.8 -9.2 .4z"/>
<path class="c44_1" d="M499.4 594.8l9.2-6.5 3.5-.7 -9.2 6.3z"/>
<path class="c41_1" d="M477.4 611.2l9.2-8.2 3.5-1 -9.2 7.9z"/>
<path class="c1_2" d="M219.1 838.4l9.3 .4 3.4-7.2 -9.2-.2z"/>
<path class="c13_2" d="M338.4 774l9.2-7.3 3.5-8.6 -9.2 7.3z"/>
<path class="c2_2" d="M250.4 831.8l9.2-.1 3.5-8.1 -9.2 .4z"/>
<path class="c0_2" d="M187.8 843.6l9.3 .6 3.5-6.7 -9.3-.5z"/>
<path class="c54_4" d="M708.9 534.9l9.3-.6 3.5-1.8 -9.3 .7z"/>
<path class="c21_3" d="M373.1 732.7l9.3-10.2 3.5-7 -9.3 9.8z"/>
<path class="c48_2" d="M552.6 567.6l9.3-3.5 3.5-.8 -9.3 3.6z"/>
<path class="c55_4" d="M780.7 528.4l9.3-.2 3.5-2 -9.3 .2z"/>
<path class="c53_5" d="M677.7 538.8l9.2-.8 3.5-1.6 -9.2 .9z"/>
<path class="c7_2" d="M303.6 808.2l9.3-4 3.5-9.5 -9.3 4.2z"/>
<path class="c5_2" d="M281.6 821.9l9.3-1.6 3.5-9.2 -9.3 2z"/>
<path class="c50_2" d="M583.9 557.3l9.3-2.5 3.5-.9 -9.3 2.5z"/>
<path class="c53_6" d="M646.4 543.6l9.3-1.2 3.5-1.4 -9.3 1.3z"/>
<path class="c29_7" d="M407.9 687.5l9.2-11.8 3.5-4.6 -9.2 11.1z"/>
<path class="c52_7" d="M615.2 549.6l9.2-1.7 3.5-1.2 -9.2 1.8z"/>
<path class="c36_1" d="M442.6 644.8l9.3-10.9 3.5-2.2 -9.3 10.2z"/>
<path class="c55_4" d="M749.5 531.1l9.2-.3 3.5-1.9 -9.3 .4z"/>
<path class="c1_2" d="M228.4 838.8l9.2 .4 3.5-7.5 -9.3-.1z"/>
<path class="c11_2" d="M325.6 789.5l9.3-6.4 3.5-9.1 -9.3 6.4z"/>
<path class="c0_2" d="M197.1 844.2l9.3 .7 3.4-6.9 -9.2-.5z"/>
<path class="c47_1" d="M530.6 576.8l9.3-4.6 3.5-.5 -9.3 4.5z"/>
<path class="c18_3" d="M360.4 749.8l9.2-9.4 3.5-7.7 -9.2 9.1z"/>
<path class="c3_2" d="M259.6 831.7l9.3-.3 3.5-8.5 -9.3 .7z"/>
<path class="c54_4" d="M718.2 534.3l9.2-.5 3.5-1.8 -9.2 .5z"/>
<path class="c55_4" d="M790 528.2l9.2-.1 3.5-2 -9.2 .1z"/>
<path class="c40_1" d="M464.6 621.8l9.3-9.4 3.5-1.2 -9.3 8.9z"/>
<path class="c45_1" d="M508.6 588.3l9.3-5.9 3.5-.5 -9.3 5.7z"/>
<path class="c54_4" d="M686.9 538l9.3-.8 3.5-1.6 -9.3 .8z"/>
<path class="c26_5" d="M395.1 704.8l9.3-11.7 3.5-5.6 -9.3 11.1z"/>
<path class="c49_2" d="M561.9 564.1l9.3-3.2 3.4-.7 -9.2 3.1z"/>
<path class="c43_1" d="M486.6 603l9.3-7.5 3.5-.7 -9.3 7.2z"/>
<path class="c53_5" d="M655.7 542.4l9.2-1.1 3.5-1.5 -9.2 1.2z"/>
<path class="c5_2" d="M290.9 820.3l9.2-2.4 3.5-9.7 -9.2 2.9z"/>
<path class="c15_3" d="M347.6 766.7l9.3-8.5 3.5-8.4 -9.3 8.3z"/>
<path class="c51_7" d="M593.2 554.8l9.2-2.2 3.5-1 -9.2 2.3z"/>
<path class="c55_4" d="M758.7 530.8l9.3-.2 3.5-2 -9.3 .3z"/>
<path class="c1_2" d="M237.6 839.2l9.3 .4 3.5-7.8 -9.3-.1z"/>
<path class="c52_7" d="M624.4 547.9l9.3-1.6 3.5-1.2 -9.3 1.6z"/>
<path class="c0_2" d="M206.4 844.9l9.2 .6 3.5-7.1 -9.3-.4z"/>
<path class="c34_2" d="M429.9 659.6l9.2-11.9 3.5-2.9 -9.2 11z"/>
<path class="c8_2" d="M312.9 804.2l9.2-5.3 3.5-9.4 -9.2 5.2z"/>
<path class="c3_2" d="M268.9 831.4l9.2-.5 3.5-9 -9.2 1z"/>
<path class="c55_4" d="M727.4 533.8l9.3-.5 3.5-1.8 -9.3 .5z"/>
<path class="c23_4" d="M382.4 722.5l9.2-11.2 3.5-6.5 -9.2 10.7z"/>
<path class="c48_2" d="M539.9 572.2l9.3-4 3.4-.6 -9.2 4.1z"/>
<path class="c54_4" d="M696.2 537.2l9.2-.7 3.5-1.6 -9.2 .7z"/>
<path class="c12_2" d="M334.9 783.1l9.2-7.5 3.5-8.9 -9.2 7.3z"/>
<path class="c0_2" d="M215.6 845.5l9.3 .6 3.5-7.3 -9.3-.4z"/>
<path class="c2_2" d="M246.9 839.6l9.2 .2 3.5-8.1 -9.2 .1z"/>
<path class="c53_5" d="M664.9 541.3l9.3-1 3.5-1.5 -9.3 1z"/>
<path class="c55_4" d="M768 530.6l9.2-.2 3.5-2 -9.2 .2z"/>
<path class="c50_2" d="M571.2 560.9l9.2-2.8 3.5-.8 -9.3 2.9z"/>
<path class="c38_1" d="M451.9 633.9l9.2-10.6 3.5-1.5 -9.2 9.9z"/>
<path class="c31_2" d="M417.1 675.7l9.3-12.3 3.5-3.8 -9.3 11.5z"/>
<path class="c53_6" d="M633.7 546.3l9.2-1.4 3.5-1.3 -9.2 1.5z"/>
<path class="c20_3" d="M369.6 740.4l9.3-10.5 3.5-7.4 -9.3 10.2z"/>
<path class="c51_7" d="M602.4 552.6l9.3-1.9 3.5-1.1 -9.3 2z"/>
<path class="c47_1" d="M517.9 582.4l9.2-5.2 3.5-.4 -9.2 5.1z"/>
<path class="c6_2" d="M300.1 817.9l9.3-3.8 3.5-9.9 -9.3 4z"/>
<path class="c3_2" d="M278.1 830.9l9.3-1 3.5-9.6 -9.3 1.6z"/>
<path class="c55_4" d="M736.7 533.3l9.3-.3 3.5-1.9 -9.3 .4z"/>
<path class="c42_1" d="M473.9 612.4l9.2-8.7 3.5-.7 -9.2 8.2z"/>
<path class="c44_1" d="M495.9 595.5l9.2-6.8 3.5-.4 -9.2 6.5z"/>
<path class="c10_2" d="M322.1 798.9l9.3-6.4 3.5-9.4 -9.3 6.4z"/>
<path class="c54_4" d="M705.4 536.5l9.3-.5 3.5-1.7 -9.3 .6z"/>
<path class="c1_2" d="M224.9 846.1l9.2 .6 3.5-7.5 -9.2-.4z"/>
<path class="c17_3" d="M356.9 758.2l9.2-9.6 3.5-8.2 -9.2 9.4z"/>
<path class="c28_7" d="M404.4 693.1l9.2-12.5 3.5-4.9 -9.2 11.8z"/>
<path class="c2_2" d="M256.1 839.8l9.3 .2 3.5-8.6 -9.3 .3z"/>
<path class="c49_2" d="M549.2 568.2l9.2-3.5 3.5-.6 -9.3 3.5z"/>
<path class="c55_4" d="M777.2 530.4l9.3-.1 3.5-2.1 -9.3 .2z"/>
<path class="c54_5" d="M674.2 540.3l9.2-.8 3.5-1.5 -9.2 .8z"/>
<path class="c53_6" d="M642.9 544.9l9.3-1.2 3.5-1.3 -9.3 1.2z"/>
<path class="c51_2" d="M580.4 558.1l9.3-2.4 3.5-.9 -9.3 2.5z"/>
<path class="c36_1" d="M439.1 647.7l9.3-11.7 3.5-2.1 -9.3 10.9z"/>
<path class="c52_7" d="M611.7 550.7l9.2-1.7 3.5-1.1 -9.2 1.7z"/>
<path class="c55_4" d="M746 533l9.2-.3 3.5-1.9 -9.2 .3z"/>
<path class="c4_2" d="M287.4 829.9l9.2-1.9 3.5-10.1 -9.2 2.4z"/>
<path class="c14_3" d="M344.1 775.6l9.3-8.6 3.5-8.8 -9.3 8.5z"/>
<path class="c25_5" d="M391.6 711.3l9.3-12.3 3.5-5.9 -9.3 11.7z"/>
<path class="c48_1" d="M527.1 577.2l9.3-4.6 3.5-.4 -9.3 4.6z"/>
<path class="c7_2" d="M309.4 814.1l9.2-5.3 3.5-9.9 -9.2 5.3z"/>
<path class="c55_4" d="M714.7 536l9.3-.5 3.4-1.7 -9.2 .5z"/>
<path class="c1_2" d="M234.1 846.7l9.3 .7 3.5-7.8 -9.3-.4z"/>
<path class="c2_2" d="M265.4 840l9.2 0 3.5-9.1 -9.2 .5z"/>
<path class="c56_4" d="M786.5 530.3l9.2-.1 3.5-2.1 -9.2 .1z"/>
<path class="c40_1" d="M461.1 623.3l9.3-10 3.5-.9 -9.3 9.4z"/>
<path class="c54_5" d="M683.4 539.5l9.3-.7 3.5-1.6 -9.3 .8z"/>
<path class="c46_1" d="M505.1 588.7l9.3-6 3.5-.3 -9.3 5.9z"/>
<path class="c50_2" d="M558.4 564.7l9.3-3.2 3.5-.6 -9.3 3.2z"/>
<path class="c22_4" d="M378.9 729.9l9.2-11.7 3.5-6.9 -9.2 11.2z"/>
<path class="c34_2" d="M426.4 663.4l9.2-12.8 3.5-2.9 -9.2 11.9z"/>
<path class="c53_5" d="M652.2 543.7l9.2-1 3.5-1.4 -9.2 1.1z"/>
<path class="c43_1" d="M483.1 603.7l9.3-7.8 3.5-.4 -9.3 7.5z"/>
<path class="c55_4" d="M755.2 532.7l9.3-.2 3.5-1.9 -9.3 .2z"/>
<path class="c11_2" d="M331.4 792.5l9.2-7.5 3.5-9.4 -9.2 7.5z"/>
<path class="c51_7" d="M589.7 555.7l9.2-2.2 3.5-.9 -9.2 2.2z"/>
<path class="c53_7" d="M620.9 549l9.3-1.6 3.5-1.1 -9.3 1.6z"/>
<path class="c1_2" d="M243.4 847.4l9.2 .6 3.5-8.2 -9.2-.2z"/>
<path class="c5_2" d="M296.6 828l9.3-3.5 3.5-10.4 -9.3 3.8z"/>
<path class="c55_4" d="M724 535.5l9.2-.4 3.5-1.8 -9.3 .5z"/>
<path class="c2_2" d="M274.6 840l9.3-.2 3.5-9.9 -9.3 1z"/>
<path class="c19_3" d="M366.1 748.6l9.3-10.9 3.5-7.8 -9.3 10.5z"/>
<path class="c49_1" d="M536.4 572.6l9.3-4 3.5-.4 -9.3 4z"/>
<path class="c54_4" d="M692.7 538.8l9.3-.6 3.4-1.7 -9.2 .7z"/>
<path class="c31_2" d="M413.6 680.6l9.3-13.3 3.5-3.9 -9.3 12.3z"/>
<path class="c8_2" d="M318.6 808.8l9.3-6.5 3.5-9.8 -9.3 6.4z"/>
<path class="c56_4" d="M764.5 532.5l9.2-.1 3.5-2 -9.2 .2z"/>
<path class="c54_5" d="M661.4 542.7l9.3-.9 3.5-1.5 -9.3 1z"/>
<path class="c38_1" d="M448.4 636l9.2-11.5 3.5-1.2 -9.2 10.6z"/>
<path class="c51_2" d="M567.7 561.5l9.2-2.7 3.5-.7 -9.2 2.8z"/>
<path class="c16_3" d="M353.4 767l9.2-9.8 3.5-8.6 -9.2 9.6z"/>
<path class="c53_6" d="M630.2 547.4l9.2-1.3 3.5-1.2 -9.2 1.4z"/>
<path class="c1_2" d="M252.6 848l9.3 .6 3.5-8.6 -9.3-.2z"/>
<path class="c52_7" d="M598.9 553.5l9.3-1.9 3.5-.9 -9.3 1.9z"/>
<path class="c47_1" d="M514.4 582.7l9.3-5.3 3.4-.2 -9.2 5.2z"/>
<path class="c55_4" d="M733.2 535.1l9.3-.3 3.5-1.8 -9.3 .3z"/>
<path class="c28_7" d="M400.9 699l9.2-13.3 3.5-5.1 -9.2 12.5z"/>
<path class="c3_2" d="M283.9 839.8l9.2-.9 3.5-10.9 -9.2 1.9z"/>
<path class="c42_1" d="M470.4 613.3l9.2-9.2 3.5-.4 -9.2 8.7z"/>
<path class="c45_1" d="M492.4 595.9l9.3-7 3.4-.2 -9.2 6.8z"/>
<path class="c55_4" d="M702 538.2l9.2-.5 3.5-1.7 -9.3 .5z"/>
<path class="c6_2" d="M305.9 824.5l9.2-5.3 3.5-10.4 -9.2 5.3z"/>
<path class="c13_3" d="M340.6 785l9.3-8.8 3.5-9.2 -9.3 8.6z"/>
<path class="c56_4" d="M773.7 532.4l9.3-.1 3.5-2 -9.3 .1z"/>
<path class="c50_2" d="M545.7 568.6l9.2-3.5 3.5-.4 -9.2 3.5z"/>
<path class="c54_5" d="M670.7 541.8l9.3-.8 3.4-1.5 -9.2 .8z"/>
<path class="c1_2" d="M261.9 848.6l9.2 .7 3.5-9.3 -9.2 0z"/>
<path class="c25_5" d="M388.1 718.2l9.3-12.9 3.5-6.3 -9.3 12.3z"/>
<path class="c36_1" d="M435.6 650.6l9.3-12.7 3.5-1.9 -9.3 11.7z"/>
<path class="c53_6" d="M639.4 546.1l9.3-1.1 3.5-1.3 -9.3 1.2z"/>
<path class="c51_2" d="M576.9 558.8l9.3-2.4 3.5-.7 -9.3 2.4z"/>
<path class="c55_4" d="M742.5 534.8l9.2-.2 3.5-1.9 -9.2 .3z"/>
<path class="c53_7" d="M608.2 551.6l9.2-1.6 3.5-1 -9.2 1.7z"/>
<path class="c10_2" d="M327.9 802.3l9.3-7.6 3.4-9.7 -9.2 7.5z"/>
<path class="c21_4" d="M375.4 737.7l9.3-12.2 3.4-7.3 -9.2 11.7z"/>
<path class="c55_4" d="M711.2 537.7l9.3-.5 3.5-1.7 -9.3 .5z"/>
<path class="c3_2" d="M293.1 838.9l9.3-3.4 3.5-11 -9.3 3.5z"/>
<path class="c48_1" d="M523.7 577.4l9.2-4.6 3.5-.2 -9.3 4.6z"/>
<path class="c56_4" d="M783 532.3l9.2-.1 3.5-2 -9.2 .1z"/>
<path class="c1_2" d="M271.1 849.3l9.3 .6 3.5-10.1 -9.3 .2z"/>
<path class="c54_5" d="M680 541l9.2-.7 3.5-1.5 -9.3 .7z"/>
<path class="c41_1" d="M457.6 624.5l9.3-10.6 3.5-.6 -9.3 10z"/>
<path class="c34_2" d="M422.9 667.3l9.3-13.8 3.4-2.9 -9.2 12.8z"/>
<path class="c18_3" d="M362.6 757.2l9.3-11.2 3.5-8.3 -9.3 10.9z"/>
<path class="c47_1" d="M501.7 588.9l9.2-6.2 3.5 0 -9.3 6z"/>
<path class="c56_4" d="M751.7 534.6l9.3-.2 3.5-1.9 -9.3 .2z"/>
<path class="c7_2" d="M315.1 819.2l9.3-6.6 3.5-10.3 -9.3 6.5z"/>
<path class="c54_5" d="M648.7 545l9.2-1 3.5-1.3 -9.2 1z"/>
<path class="c50_2" d="M554.9 565.1l9.3-3.1 3.5-.5 -9.3 3.2z"/>
<path class="c44_1" d="M479.6 604.1l9.3-8.2 3.5 0 -9.3 7.8z"/>
<path class="c53_7" d="M617.4 550l9.3-1.5 3.5-1.1 -9.3 1.6z"/>
<path class="c52_2" d="M586.2 556.4l9.2-2.1 3.5-.8 -9.2 2.2z"/>
<path class="c55_4" d="M720.5 537.2l9.2-.3 3.5-1.8 -9.2 .4z"/>
<path class="c15_3" d="M349.9 776.2l9.3-9.9 3.4-9.1 -9.2 9.8z"/>
<path class="c31_2" d="M410.1 685.7l9.3-14.3 3.5-4.1 -9.3 13.3z"/>
<path class="c1_2" d="M280.4 849.9l9.3 .6 3.4-11.6 -9.2 .9z"/>
<path class="c55_4" d="M689.2 540.3l9.3-.5 3.5-1.6 -9.3 .6z"/>
<path class="c4_2" d="M302.4 835.5l9.3-5.6 3.4-10.7 -9.2 5.3z"/>
<path class="c49_1" d="M532.9 572.8l9.3-4 3.5-.2 -9.3 4z"/>
<path class="c56_4" d="M761 534.4l9.2-.1 3.5-1.9 -9.2 .1z"/>
<path class="c12_2" d="M337.2 794.7l9.2-8.7 3.5-9.8 -9.3 8.8z"/>
<path class="c54_5" d="M657.9 544l9.3-.8 3.5-1.4 -9.3 .9z"/>
<path class="c39_1" d="M444.9 637.9l9.3-12.3 3.4-1.1 -9.2 11.5z"/>
<path class="c28_7" d="M397.4 705.3l9.3-14.2 3.4-5.4 -9.2 13.3z"/>
<path class="c51_2" d="M564.2 562l9.2-2.7 3.5-.5 -9.2 2.7z"/>
<path class="c53_7" d="M626.7 548.5l9.2-1.2 3.5-1.2 -9.2 1.3z"/>
<path class="c53_7" d="M595.4 554.3l9.3-1.8 3.5-.9 -9.3 1.9z"/>
<path class="c56_4" d="M729.7 536.9l9.3-.3 3.5-1.8 -9.3 .3z"/>
<path class="c48_1" d="M510.9 582.7l9.3-5.3 3.5 0 -9.3 5.3z"/>
<path class="c24_5" d="M384.7 725.5l9.2-13.5 3.5-6.7 -9.3 12.9z"/>
<path class="c9_2" d="M324.4 812.6l9.3-7.7 3.5-10.2 -9.3 7.6z"/>
<path class="c43_1" d="M466.9 613.9l9.3-9.7 3.4-.1 -9.2 9.2z"/>
<path class="c55_4" d="M698.5 539.8l9.2-.5 3.5-1.6 -9.2 .5z"/>
<path class="c2_2" d="M289.7 850.5l9.2-3.2 3.5-11.8 -9.3 3.4z"/>
<path class="c46_1" d="M488.9 595.9l9.3-7.2 3.5 .2 -9.3 7z"/>
<path class="c56_4" d="M770.2 534.3l9.3-.1 3.5-1.9 -9.3 .1z"/>
<path class="c21_4" d="M371.9 746l9.3-12.6 3.5-7.9 -9.3 12.2z"/>
<path class="c55_5" d="M667.2 543.2l9.3-.8 3.5-1.4 -9.3 .8z"/>
<path class="c36_1" d="M432.2 653.5l9.2-13.8 3.5-1.8 -9.3 12.7z"/>
<path class="c50_1" d="M542.2 568.8l9.2-3.4 3.5-.3 -9.2 3.5z"/>
<path class="c54_6" d="M635.9 547.3l9.3-1.1 3.5-1.2 -9.3 1.1z"/>
<path class="c56_4" d="M739 536.6l9.2-.2 3.5-1.8 -9.2 .2z"/>
<path class="c6_2" d="M311.7 829.9l9.2-6.7 3.5-10.6 -9.3 6.6z"/>
<path class="c17_3" d="M359.2 766.3l9.2-11.4 3.5-8.9 -9.3 11.2z"/>
<path class="c52_2" d="M573.4 559.3l9.3-2.3 3.5-.6 -9.3 2.4z"/>
<path class="c53_7" d="M604.7 552.5l9.2-1.6 3.5-.9 -9.2 1.6z"/>
<path class="c55_4" d="M707.7 539.3l9.3-.4 3.5-1.7 -9.3 .5z"/>
<path class="c56_4" d="M779.5 534.2l9.2 0 3.5-2 -9.2 .1z"/>
<path class="c34_1" d="M419.4 671.4l9.3-14.9 3.5-3 -9.3 13.8z"/>
<path class="c14_3" d="M346.4 786l9.3-10.1 3.5-9.6 -9.3 9.9z"/>
<path class="c49_1" d="M520.2 577.4l9.2-4.6 3.5 0 -9.2 4.6z"/>
<path class="c55_5" d="M676.5 542.4l9.2-.6 3.5-1.5 -9.2 .7z"/>
<path class="c3_2" d="M298.9 847.3l9.3-6.2 3.5-11.2 -9.3 5.6z"/>
<path class="c41_1" d="M454.2 625.6l9.2-11.5 3.5-.2 -9.3 10.6z"/>
<path class="c56_4" d="M748.2 536.4l9.3-.1 3.5-1.9 -9.3 .2z"/>
<path class="c54_5" d="M645.2 546.2l9.3-.9 3.4-1.3 -9.2 1z"/>
<path class="c51_2" d="M551.4 565.4l9.3-3 3.5-.4 -9.3 3.1z"/>
<path class="c47_1" d="M498.2 588.7l9.2-6.2 3.5 .2 -9.2 6.2z"/>
<path class="c10_2" d="M333.7 804.9l9.2-8.8 3.5-10.1 -9.2 8.7z"/>
<path class="c31_2" d="M406.7 691.1l9.2-15.3 3.5-4.4 -9.3 14.3z"/>
<path class="c54_7" d="M613.9 550.9l9.3-1.3 3.5-1.1 -9.3 1.5z"/>
<path class="c45_1" d="M476.2 604.2l9.2-8.6 3.5 .3 -9.3 8.2z"/>
<path class="c53_2" d="M582.7 557l9.2-2 3.5-.7 -9.2 2.1z"/>
<path class="c56_4" d="M717 538.9l9.2-.3 3.5-1.7 -9.2 .3z"/>
<path class="c27_7" d="M393.9 712l9.3-15 3.5-5.9 -9.3 14.2z"/>
<path class="c55_4" d="M685.7 541.8l9.3-.5 3.5-1.5 -9.3 .5z"/>
<path class="c7_2" d="M320.9 823.2l9.3-7.7 3.5-10.6 -9.3 7.7z"/>
<path class="c56_4" d="M757.5 536.3l9.2-.1 3.5-1.9 -9.2 .1z"/>
<path class="c23_5" d="M381.2 733.4l9.2-14.2 3.5-7.2 -9.2 13.5z"/>
<path class="c50_1" d="M529.4 572.8l9.3-3.9 3.5-.1 -9.3 4z"/>
<path class="c55_5" d="M654.5 545.3l9.2-.8 3.5-1.3 -9.3 .8z"/>
<path class="c39_1" d="M441.4 639.7l9.3-13.4 3.5-.7 -9.3 12.3z"/>
<path class="c54_7" d="M623.2 549.6l9.3-1.2 3.4-1.1 -9.2 1.2z"/>
<path class="c20_4" d="M368.4 754.9l9.3-13.1 3.5-8.4 -9.3 12.6z"/>
<path class="c56_4" d="M726.2 538.6l9.3-.2 3.5-1.8 -9.3 .3z"/>
<path class="c52_2" d="M560.7 562.4l9.2-2.6 3.5-.5 -9.2 2.7z"/>
<path class="c53_7" d="M591.9 555l9.3-1.7 3.5-.8 -9.3 1.8z"/>
<path class="c4_2" d="M308.2 841.1l9.2-6.9 3.5-11 -9.2 6.7z"/>
<path class="c16_3" d="M355.7 775.9l9.2-11.6 3.5-9.4 -9.2 11.4z"/>
<path class="c49_1" d="M507.4 582.5l9.3-5.4 3.5 .3 -9.3 5.3z"/>
<path class="c55_4" d="M695 541.3l9.2-.4 3.5-1.6 -9.2 .5z"/>
<path class="c56_4" d="M766.7 536.2l9.3 0 3.5-2 -9.3 .1z"/>
<path class="c43_1" d="M463.4 614.1l9.3-10.3 3.5 .4 -9.3 9.7z"/>
<path class="c46_1" d="M485.4 595.6l9.3-7.4 3.5 .5 -9.3 7.2z"/>
<path class="c37_1" d="M428.7 656.5l9.2-15.2 3.5-1.6 -9.2 13.8z"/>
<path class="c13_3" d="M342.9 796.1l9.3-10.1 3.5-10.1 -9.3 10.1z"/>
<path class="c55_5" d="M663.7 544.5l9.3-.7 3.5-1.4 -9.3 .8z"/>
<path class="c56_4" d="M735.5 538.4l9.2-.1 3.5-1.9 -9.2 .2z"/>
<path class="c51_1" d="M538.7 568.9l9.2-3.4 3.5-.1 -9.2 3.4z"/>
<path class="c54_6" d="M632.5 548.4l9.2-1 3.5-1.2 -9.3 1.1z"/>
<path class="c54_7" d="M601.2 553.3l9.2-1.5 3.5-.9 -9.2 1.6z"/>
<path class="c9_2" d="M330.2 815.5l9.2-8.7 3.5-10.7 -9.2 8.8z"/>
<path class="c52_2" d="M569.9 559.8l9.3-2.3 3.5-.5 -9.3 2.3z"/>
<path class="c34_1" d="M415.9 675.8l9.3-16.3 3.5-3 -9.3 14.9z"/>
<path class="c56_4" d="M704.2 540.9l9.3-.3 3.5-1.7 -9.3 .4z"/>
<path class="c57_4" d="M776 536.2l9.3 0 3.4-2 -9.2 0z"/>
<path class="c55_5" d="M673 543.8l9.2-.5 3.5-1.5 -9.2 .6z"/>
<path class="c50_1" d="M516.7 577.1l9.2-4.5 3.5 .2 -9.2 4.6z"/>
<path class="c6_2" d="M317.4 834.2l9.3-7.7 3.5-11 -9.3 7.7z"/>
<path class="c30_2" d="M403.2 697l9.2-16.5 3.5-4.7 -9.2 15.3z"/>
<path class="c56_4" d="M744.7 538.3l9.3-.1 3.5-1.9 -9.3 .1z"/>
<path class="c42_1" d="M450.7 626.3l9.2-12.4 3.5 .2 -9.2 11.5z"/>
<path class="c55_6" d="M641.7 547.4l9.3-.9 3.5-1.2 -9.3 .9z"/>
<path class="c26_7" d="M390.4 719.2l9.3-15.9 3.5-6.3 -9.3 15z"/>
<path class="c52_2" d="M547.9 565.5l9.3-3 3.5-.1 -9.3 3z"/>
<path class="c54_7" d="M610.4 551.8l9.3-1.3 3.5-.9 -9.3 1.3z"/>
<path class="c23_4" d="M377.7 741.8l9.2-14.8 3.5-7.8 -9.2 14.2z"/>
<path class="c48_1" d="M494.7 588.2l9.2-6.3 3.5 .6 -9.2 6.2z"/>
<path class="c56_4" d="M713.5 540.6l9.2-.3 3.5-1.7 -9.2 .3z"/>
<path class="c53_2" d="M579.2 557.5l9.2-1.9 3.5-.6 -9.2 2z"/>
<path class="c46_1" d="M472.7 603.8l9.2-8.9 3.5 .7 -9.2 8.6z"/>
<path class="c19_3" d="M364.9 764.3l9.3-13.3 3.5-9.2 -9.3 13.1z"/>
<path class="c56_4" d="M682.2 543.3l9.3-.4 3.5-1.6 -9.3 .5z"/>
<path class="c15_3" d="M352.2 786l9.2-11.6 3.5-10.1 -9.2 11.6z"/>
<path class="c57_4" d="M754 538.2l9.2-.1 3.5-1.9 -9.2 .1z"/>
<path class="c55_5" d="M651 546.5l9.2-.7 3.5-1.3 -9.2 .8z"/>
<path class="c40_1" d="M437.9 641.3l9.3-14.7 3.5-.3 -9.3 13.4z"/>
<path class="c11_2" d="M339.4 806.8l9.3-10.1 3.5-10.7 -9.3 10.1z"/>
<path class="c51_1" d="M525.9 572.6l9.3-3.9 3.5 .2 -9.3 3.9z"/>
<path class="c56_4" d="M722.7 540.3l9.3-.1 3.5-1.8 -9.3 .2z"/>
<path class="c54_7" d="M619.7 550.5l9.3-1.1 3.5-1 -9.3 1.2z"/>
<path class="c52_2" d="M557.2 562.5l9.2-2.4 3.5-.3 -9.2 2.6z"/>
<path class="c54_7" d="M588.4 555.6l9.3-1.6 3.5-.7 -9.3 1.7z"/>
<path class="c8_2" d="M326.7 826.5l9.2-8.6 3.5-11.1 -9.2 8.7z"/>
<path class="c56_4" d="M691.5 542.9l9.2-.4 3.5-1.6 -9.2 .4z"/>
<path class="c57_4" d="M763.2 538.1l9.3 0 3.5-1.9 -9.3 0z"/>
<path class="c49_1" d="M503.9 581.9l9.3-5.4 3.5 .6 -9.3 5.4z"/>
<path class="c37_1" d="M425.2 659.5l9.2-16.7 3.5-1.5 -9.2 15.2z"/>
<path class="c44_1" d="M459.9 613.9l9.3-11 3.5 .9 -9.3 10.3z"/>
<path class="c55_5" d="M660.2 545.8l9.3-.6 3.5-1.4 -9.3 .7z"/>
<path class="c47_1" d="M481.9 594.9l9.3-7.6 3.5 .9 -9.3 7.4z"/>
<path class="c56_4" d="M732 540.2l9.2-.1 3.5-1.8 -9.2 .1z"/>
<path class="c55_6" d="M629 549.4l9.2-.9 3.5-1.1 -9.2 1z"/>
<path class="c34_1" d="M412.4 680.5l9.3-17.7 3.5-3.3 -9.3 16.3z"/>
<path class="c52_1" d="M535.2 568.7l9.2-3.3 3.5 .1 -9.2 3.4z"/>
<path class="c54_7" d="M597.7 554l9.3-1.4 3.4-.8 -9.2 1.5z"/>
<path class="c53_2" d="M566.4 560.1l9.3-2.2 3.5-.4 -9.3 2.3z"/>
<path class="c56_4" d="M700.7 542.5l9.3-.3 3.5-1.6 -9.3 .3z"/>
<path class="c30_2" d="M399.7 703.3l9.2-17.5 3.5-5.3 -9.2 16.5z"/>
<path class="c57_4" d="M772.5 538.1l9.3 .1 3.5-2 -9.3 0z"/>
<path class="c26_7" d="M386.9 727l9.3-16.7 3.5-7 -9.3 15.9z"/>
<path class="c22_4" d="M374.2 751l9.2-15.5 3.5-8.5 -9.2 14.8z"/>
<path class="c17_3" d="M361.4 774.4l9.3-13.6 3.5-9.8 -9.3 13.3z"/>
<path class="c56_5" d="M669.5 545.2l9.2-.5 3.5-1.4 -9.2 .5z"/>
<path class="c13_3" d="M348.7 796.7l9.2-11.6 3.5-10.7 -9.2 11.6z"/>
<path class="c57_4" d="M741.2 540.1l9.3-.1 3.5-1.8 -9.3 .1z"/>
<path class="c50_1" d="M513.2 576.5l9.2-4.5 3.5 .6 -9.2 4.5z"/>
<path class="c55_6" d="M638.2 548.5l9.3-.8 3.5-1.2 -9.3 .9z"/>
<path class="c43_1" d="M447.2 626.6l9.2-13.5 3.5 .8 -9.2 12.4z"/>
<path class="c10_2" d="M335.9 817.9l9.3-9.9 3.5-11.3 -9.3 10.1z"/>
<path class="c56_4" d="M710 542.2l9.2-.2 3.5-1.7 -9.2 .3z"/>
<path class="c55_7" d="M607 552.6l9.2-1.2 3.5-.9 -9.3 1.3z"/>
<path class="c52_1" d="M544.4 565.4l9.3-2.8 3.5-.1 -9.3 3z"/>
<path class="c54_2" d="M575.7 557.9l9.3-1.8 3.4-.5 -9.2 1.9z"/>
<path class="c49_1" d="M491.2 587.3l9.2-6.4 3.5 1 -9.2 6.3z"/>
<path class="c46_1" d="M469.2 602.9l9.2-9.2 3.5 1.2 -9.2 8.9z"/>
<path class="c56_4" d="M678.7 544.7l9.3-.4 3.5-1.4 -9.3 .4z"/>
<path class="c57_4" d="M750.5 540l9.3 0 3.4-1.9 -9.2 .1z"/>
<path class="c56_5" d="M647.5 547.7l9.2-.6 3.5-1.3 -9.2 .7z"/>
<path class="c40_1" d="M434.4 642.8l9.3-16.4 3.5 .2 -9.3 14.7z"/>
<path class="c57_4" d="M719.2 542l9.3-.1 3.5-1.7 -9.3 .1z"/>
<path class="c51_1" d="M522.4 572l9.3-3.7 3.5 .4 -9.3 3.9z"/>
<path class="c55_7" d="M616.2 551.4l9.3-1 3.5-1 -9.3 1.1z"/>
<path class="c54_2" d="M585 556.1l9.2-1.5 3.5-.6 -9.3 1.6z"/>
<path class="c53_2" d="M553.7 562.6l9.2-2.4 3.5-.1 -9.2 2.4z"/>
<path class="c56_4" d="M688 544.3l9.2-.3 3.5-1.5 -9.2 .4z"/>
<path class="c57_4" d="M759.8 540l9.2 .1 3.5-2 -9.3 0z"/>
<path class="c37_1" d="M421.7 662.8l9.2-18.7 3.5-1.3 -9.2 16.7z"/>
<path class="c50_1" d="M500.4 580.9l9.3-5.2 3.5 .8 -9.3 5.4z"/>
<path class="c16_3" d="M357.9 785.1l9.3-13.6 3.5-10.7 -9.3 13.6z"/>
<path class="c56_5" d="M656.7 547.1l9.3-.6 3.5-1.3 -9.3 .6z"/>
<path class="c21_4" d="M370.7 760.8l9.2-15.9 3.5-9.4 -9.2 15.5z"/>
<path class="c34_1" d="M408.9 685.8l9.3-19.4 3.5-3.6 -9.3 17.7z"/>
<path class="c12_3" d="M345.2 808l9.2-11.4 3.5-11.5 -9.2 11.6z"/>
<path class="c25_6" d="M383.4 735.5l9.3-17.6 3.5-7.6 -9.3 16.7z"/>
<path class="c57_4" d="M728.5 541.9l9.3-.1 3.4-1.7 -9.2 .1z"/>
<path class="c29_2" d="M396.2 710.3l9.2-18.6 3.5-5.9 -9.2 17.5z"/>
<path class="c45_1" d="M456.4 613.1l9.3-11.6 3.5 1.4 -9.3 11z"/>
<path class="c55_6" d="M625.5 550.4l9.2-.8 3.5-1.1 -9.2 .9z"/>
<path class="c48_1" d="M478.4 593.7l9.3-7.8 3.5 1.4 -9.3 7.6z"/>
<path class="c52_1" d="M531.7 568.3l9.2-3.2 3.5 .3 -9.2 3.3z"/>
<path class="c55_7" d="M594.2 554.6l9.3-1.3 3.5-.7 -9.3 1.4z"/>
<path class="c57_4" d="M697.2 544l9.3-.2 3.5-1.6 -9.3 .3z"/>
<path class="c57_4" d="M769 540.1l9.3 .1 3.5-2 -9.3-.1z"/>
<path class="c54_2" d="M562.9 560.2l9.3-2 3.5-.3 -9.3 2.2z"/>
<path class="c56_5" d="M666 546.5l9.2-.4 3.5-1.4 -9.2 .5z"/>
<path class="c57_4" d="M737.8 541.8l9.2 0 3.5-1.8 -9.3 .1z"/>
<path class="c56_6" d="M634.7 549.6l9.3-.7 3.5-1.2 -9.3 .8z"/>
<path class="c51_1" d="M509.7 575.7l9.2-4.4 3.5 .7 -9.2 4.5z"/>
<path class="c57_4" d="M706.5 543.8l9.2-.1 3.5-1.7 -9.2 .2z"/>
<path class="c43_1" d="M443.7 626.4l9.2-14.7 3.5 1.4 -9.2 13.5z"/>
<path class="c55_7" d="M603.5 553.3l9.2-1.1 3.5-.8 -9.2 1.2z"/>
<path class="c53_1" d="M540.9 565.1l9.3-2.6 3.5 .1 -9.3 2.8z"/>
<path class="c54_2" d="M572.2 558.2l9.3-1.7 3.5-.4 -9.3 1.8z"/>
<path class="c56_4" d="M675.2 546.1l9.3-.3 3.5-1.5 -9.3 .4z"/>
<path class="c57_4" d="M747 541.8l9.3 .1 3.5-1.9 -9.3 0z"/>
<path class="c50_1" d="M487.7 585.9l9.2-6.3 3.5 1.3 -9.2 6.4z"/>
<path class="c47_0" d="M465.7 601.5l9.2-9.6 3.5 1.8 -9.2 9.2z"/>
<path class="c15_3" d="M354.4 796.6l9.3-13.4 3.5-11.7 -9.3 13.6z"/>
<path class="c56_5" d="M644 548.9l9.2-.6 3.5-1.2 -9.2 .6z"/>
<path class="c19_4" d="M367.2 771.5l9.2-16.3 3.5-10.3 -9.2 15.9z"/>
<path class="c57_4" d="M715.7 543.7l9.3-.1 3.5-1.7 -9.3 .1z"/>
<path class="c41_1" d="M430.9 644.1l9.3-18.4 3.5 .7 -9.3 16.4z"/>
<path class="c56_7" d="M612.7 552.2l9.3-.9 3.5-.9 -9.3 1z"/>
<path class="c24_6" d="M379.9 744.9l9.3-18.6 3.5-8.4 -9.3 17.6z"/>
<path class="c52_1" d="M518.9 571.3l9.3-3.6 3.5 .6 -9.3 3.7z"/>
<path class="c55_2" d="M581.5 556.5l9.2-1.4 3.5-.5 -9.2 1.5z"/>
<path class="c29_2" d="M392.7 717.9l9.2-19.6 3.5-6.6 -9.2 18.6z"/>
<path class="c57_4" d="M684.5 545.8l9.2-.2 3.5-1.6 -9.2 .3z"/>
<path class="c57_4" d="M756.3 541.9l9.2 .1 3.5-1.9 -9.2-.1z"/>
<path class="c54_2" d="M550.2 562.5l9.3-2.3 3.4 0 -9.2 2.4z"/>
<path class="c37_1" d="M418.2 666.4l9.2-21.1 3.5-1.2 -9.2 18.7z"/>
<path class="c33_1" d="M405.4 691.7l9.3-20.9 3.5-4.4 -9.3 19.4z"/>
<path class="c56_5" d="M653.2 548.3l9.3-.5 3.5-1.3 -9.3 .6z"/>
<path class="c57_4" d="M725 543.6l9.3 0 3.5-1.8 -9.3 .1z"/>
<path class="c51_1" d="M496.9 579.6l9.3-5.2 3.5 1.3 -9.3 5.2z"/>
<path class="c56_6" d="M622 551.3l9.2-.7 3.5-1 -9.2 .8z"/>
<path class="c46_0" d="M452.9 611.7l9.3-12.4 3.5 2.2 -9.3 11.6z"/>
<path class="c58_4" d="M765.5 542l9.3 .1 3.5-1.9 -9.3-.1z"/>
<path class="c57_4" d="M693.7 545.6l9.3-.2 3.5-1.6 -9.3 .2z"/>
<path class="c55_7" d="M590.7 555.1l9.3-1.2 3.5-.6 -9.3 1.3z"/>
<path class="c49_1" d="M474.9 591.9l9.3-7.8 3.5 1.8 -9.3 7.8z"/>
<path class="c53_1" d="M528.2 567.7l9.3-3 3.4 .4 -9.2 3.2z"/>
<path class="c54_2" d="M559.5 560.2l9.2-1.8 3.5-.2 -9.3 2z"/>
<path class="c57_5" d="M662.5 547.8l9.2-.3 3.5-1.4 -9.2 .4z"/>
<path class="c57_4" d="M734.3 543.6l9.2 0 3.5-1.8 -9.2 0z"/>
<path class="c56_6" d="M631.2 550.6l9.3-.7 3.5-1 -9.3 .7z"/>
<path class="c18_3" d="M363.7 783.2l9.3-16.4 3.4-11.6 -9.2 16.3z"/>
<path class="c57_4" d="M703 545.4l9.3-.1 3.4-1.6 -9.2 .1z"/>
<path class="c52_1" d="M506.2 574.4l9.2-4.2 3.5 1.1 -9.2 4.4z"/>
<path class="c56_7" d="M600 553.9l9.2-.9 3.5-.8 -9.2 1.1z"/>
<path class="c44_0" d="M440.2 625.7l9.2-16.3 3.5 2.3 -9.2 14.7z"/>
<path class="c23_5" d="M376.4 755.2l9.3-19.7 3.5-9.2 -9.3 18.6z"/>
<path class="c55_2" d="M568.7 558.4l9.3-1.6 3.5-.3 -9.3 1.7z"/>
<path class="c58_4" d="M743.5 543.6l9.3 .1 3.5-1.8 -9.3-.1z"/>
<path class="c54_1" d="M537.5 564.7l9.2-2.5 3.5 .3 -9.3 2.6z"/>
<path class="c57_4" d="M671.7 547.5l9.3-.3 3.5-1.4 -9.3 .3z"/>
<path class="c28_7" d="M389.2 726.3l9.2-20.6 3.5-7.4 -9.2 19.6z"/>
<path class="c51_1" d="M484.2 584.1l9.2-6.3 3.5 1.8 -9.2 6.3z"/>
<path class="c57_5" d="M640.5 549.9l9.2-.4 3.5-1.2 -9.2 .6z"/>
<path class="c57_4" d="M712.3 545.3l9.2 0 3.5-1.7 -9.3 .1z"/>
<path class="c48_0" d="M462.2 599.3l9.2-9.9 3.5 2.5 -9.2 9.6z"/>
<path class="c33_2" d="M401.9 698.3l9.3-22 3.5-5.5 -9.3 20.9z"/>
<path class="c42_1" d="M427.4 645.3l9.3-21.1 3.5 1.5 -9.3 18.4z"/>
<path class="c56_7" d="M609.2 553l9.3-.8 3.5-.9 -9.3 .9z"/>
<path class="c38_1" d="M414.7 670.8l9.2-24.1 3.5-1.4 -9.2 21.1z"/>
<path class="c58_4" d="M752.8 543.7l9.2 .2 3.5-1.9 -9.2-.1z"/>
<path class="c57_4" d="M681 547.2l9.3-.1 3.4-1.5 -9.2 .2z"/>
<path class="c55_2" d="M578 556.8l9.2-1.2 3.5-.5 -9.2 1.4z"/>
<path class="c53_1" d="M515.4 570.2l9.3-3.4 3.5 .9 -9.3 3.6z"/>
<path class="c55_1" d="M546.7 562.2l9.3-2.1 3.5 .1 -9.3 2.3z"/>
<path class="c57_5" d="M649.7 549.5l9.3-.4 3.5-1.3 -9.3 .5z"/>
<path class="c58_4" d="M721.5 545.3l9.3 0 3.5-1.7 -9.3 0z"/>
<path class="c56_7" d="M618.5 552.2l9.2-.7 3.5-.9 -9.2 .7z"/>
<path class="c58_4" d="M762 543.9l9.3 .2 3.5-2 -9.3-.1z"/>
<path class="c52_1" d="M493.4 577.8l9.3-4.9 3.5 1.5 -9.3 5.2z"/>
<path class="c57_4" d="M690.3 547.1l9.2-.1 3.5-1.6 -9.3 .2z"/>
<path class="c56_7" d="M587.2 555.6l9.3-1.1 3.5-.6 -9.3 1.2z"/>
<path class="c47_0" d="M449.4 609.4l9.3-13.2 3.5 3.1 -9.3 12.4z"/>
<path class="c55_2" d="M556 560.1l9.2-1.6 3.5-.1 -9.2 1.8z"/>
<path class="c54_1" d="M524.7 566.8l9.3-2.8 3.5 .7 -9.3 3z"/>
<path class="c22_4" d="M373 766.8l9.2-20.7 3.5-10.6 -9.3 19.7z"/>
<path class="c58_4" d="M730.8 545.3l9.2 .1 3.5-1.8 -9.2 0z"/>
<path class="c57_5" d="M659 549.1l9.2-.3 3.5-1.3 -9.2 .3z"/>
<path class="c50_0" d="M471.4 589.4l9.3-7.8 3.5 2.5 -9.3 7.8z"/>
<path class="c57_6" d="M627.7 551.5l9.3-.5 3.5-1.1 -9.3 .7z"/>
<path class="c58_4" d="M699.5 547l9.3-.1 3.5-1.6 -9.3 .1z"/>
<path class="c27_7" d="M385.7 735.5l9.3-22.6 3.4-7.2 -9.2 20.6z"/>
<path class="c56_7" d="M596.5 554.5l9.2-.8 3.5-.7 -9.2 .9z"/>
<path class="c58_4" d="M740 545.4l9.3 .2 3.5-1.9 -9.3-.1z"/>
<path class="c53_1" d="M502.7 572.9l9.3-4 3.4 1.3 -9.2 4.2z"/>
<path class="c57_5" d="M668.2 548.8l9.3-.2 3.5-1.4 -9.3 .3z"/>
<path class="c56_2" d="M565.2 558.5l9.3-1.4 3.5-.3 -9.3 1.6z"/>
<path class="c32_2" d="M398.4 705.7l9.3-21.6 3.5-7.8 -9.3 22z"/>
<path class="c55_1" d="M534 564l9.2-2.2 3.5 .4 -9.2 2.5z"/>
<path class="c45_0" d="M436.7 624.2l9.2-18.3 3.5 3.5 -9.2 16.3z"/>
<path class="c57_5" d="M637 551l9.2-.4 3.5-1.1 -9.2 .4z"/>
<path class="c58_4" d="M708.8 546.9l9.2 .1 3.5-1.7 -9.2 0z"/>
<path class="c38_1" d="M411.2 676.3l9.3-27.6 3.4-2 -9.2 24.1z"/>
<path class="c52_0" d="M480.7 581.6l9.3-6 3.4 2.2 -9.2 6.3z"/>
<path class="c57_7" d="M605.7 553.7l9.3-.7 3.5-.8 -9.3 .8z"/>
<path class="c42_0" d="M423.9 646.7l9.3-25.2 3.5 2.7 -9.3 21.1z"/>
<path class="c58_4" d="M749.3 545.6l9.2 .1 3.5-1.8 -9.2-.2z"/>
<path class="c58_4" d="M677.5 548.6l9.3-.1 3.5-1.4 -9.3 .1z"/>
<path class="c50_0" d="M458.7 596.2l9.2-10.1 3.5 3.3 -9.2 9.9z"/>
<path class="c56_2" d="M574.5 557.1l9.2-1.2 3.5-.3 -9.2 1.2z"/>
<path class="c54_1" d="M512 568.9l9.2-3.1 3.5 1 -9.3 3.4z"/>
<path class="c55_1" d="M543.2 561.8l9.3-1.9 3.5 .2 -9.3 2.1z"/>
<path class="c58_4" d="M718 547l9.3 .1 3.5-1.8 -9.3 0z"/>
<path class="c57_5" d="M646.2 550.6l9.3-.3 3.5-1.2 -9.3 .4z"/>
<path class="c58_4" d="M758.5 545.7l9.3 .3 3.5-1.9 -9.3-.2z"/>
<path class="c57_7" d="M615 553l9.2-.6 3.5-.9 -9.2 .7z"/>
<path class="c58_4" d="M686.8 548.5l9.2 0 3.5-1.5 -9.2 .1z"/>
<path class="c56_7" d="M583.7 555.9l9.3-.9 3.5-.5 -9.3 1.1z"/>
<path class="c53_1" d="M490 575.6l9.2-4.6 3.5 1.9 -9.3 4.9z"/>
<path class="c26_2" d="M382.2 746.1l9.3-28.1 3.5-5.1 -9.3 22.6z"/>
<path class="c58_4" d="M727.3 547.1l9.2 .1 3.5-1.8 -9.2-.1z"/>
<path class="c58_5" d="M655.5 550.3l9.3-.2 3.4-1.3 -9.2 .3z"/>
<path class="c56_2" d="M552.5 559.9l9.2-1.5 3.5 .1 -9.2 1.6z"/>
<path class="c55_1" d="M521.2 565.8l9.3-2.6 3.5 .8 -9.3 2.8z"/>
<path class="c31_7" d="M395 712.9l9.2-18.1 3.5-10.7 -9.3 21.6z"/>
<path class="c49_0" d="M445.9 605.9l9.3-14 3.5 4.3 -9.3 13.2z"/>
<path class="c57_6" d="M624.2 552.4l9.3-.4 3.5-1 -9.3 .5z"/>
<path class="c58_4" d="M696 548.5l9.3 0 3.5-1.6 -9.3 .1z"/>
<path class="c52_0" d="M467.9 586.1l9.3-7.5 3.5 3 -9.3 7.8z"/>
<path class="c57_7" d="M593 555l9.2-.7 3.5-.6 -9.2 .8z"/>
<path class="c58_4" d="M736.5 547.2l9.3 .2 3.5-1.8 -9.3-.2z"/>
<path class="c58_5" d="M664.8 550.1l9.2-.1 3.5-1.4 -9.3 .2z"/>
<path class="c56_2" d="M561.7 558.4l9.3-1.2 3.5-.1 -9.3 1.4z"/>
<path class="c54_1" d="M499.2 571l9.3-3.7 3.5 1.6 -9.3 4z"/>
<path class="c37_1" d="M407.7 684.1l9.3-31.1 3.5-4.3 -9.3 27.6z"/>
<path class="c56_1" d="M530.5 563.2l9.2-2 3.5 .6 -9.2 2.2z"/>
<path class="c58_4" d="M705.3 548.5l9.2 .1 3.5-1.6 -9.2-.1z"/>
<path class="c57_5" d="M633.5 552l9.3-.3 3.4-1.1 -9.2 .4z"/>
<path class="c47_0" d="M433.2 621.5l9.3-20.8 3.4 5.2 -9.2 18.3z"/>
<path class="c58_4" d="M745.8 547.4l9.2 .2 3.5-1.9 -9.2-.1z"/>
<path class="c57_7" d="M602.2 554.3l9.3-.6 3.5-.7 -9.3 .7z"/>
<path class="c58_4" d="M674 550l9.3 0 3.5-1.5 -9.3 .1z"/>
<path class="c43_0" d="M420.5 648.7l9.2-31.6 3.5 4.4 -9.3 25.2z"/>
<path class="c53_0" d="M477.2 578.6l9.3-5.7 3.5 2.7 -9.3 6z"/>
<path class="c57_2" d="M571 557.2l9.2-1 3.5-.3 -9.2 1.2z"/>
<path class="c58_4" d="M714.5 548.6l9.3 .1 3.5-1.6 -9.3-.1z"/>
<path class="c58_5" d="M642.8 551.7l9.2-.2 3.5-1.2 -9.3 .3z"/>
<path class="c56_1" d="M539.7 561.2l9.3-1.6 3.5 .3 -9.3 1.9z"/>
<path class="c51_0" d="M455.2 591.9l9.3-10 3.4 4.2 -9.2 10.1z"/>
<path class="c55_1" d="M508.5 567.3l9.2-2.8 3.5 1.3 -9.2 3.1z"/>
<path class="c59_4" d="M755 547.6l9.3 .3 3.5-1.9 -9.3-.3z"/>
<path class="c58_4" d="M683.3 550l9.2 0 3.5-1.5 -9.2 0z"/>
<path class="c57_7" d="M611.5 553.7l9.3-.4 3.4-.9 -9.2 .6z"/>
<path class="c30_4" d="M391.5 718l9.2-10 3.5-13.2 -9.2 18.1z"/>
<path class="c58_4" d="M723.8 548.7l9.2 .2 3.5-1.7 -9.2-.1z"/>
<path class="c57_7" d="M580.2 556.2l9.3-.8 3.5-.4 -9.3 .9z"/>
<path class="c58_5" d="M652 551.5l9.3-.1 3.5-1.3 -9.3 .2z"/>
<path class="c54_1" d="M486.5 572.9l9.2-4.2 3.5 2.3 -9.2 4.6z"/>
<path class="c57_2" d="M549 559.6l9.2-1.3 3.5 .1 -9.2 1.5z"/>
<path class="c56_1" d="M517.7 564.5l9.3-2.3 3.5 1 -9.3 2.6z"/>
<path class="c58_4" d="M692.5 550l9.3 .1 3.5-1.6 -9.3 0z"/>
<path class="c58_6" d="M620.8 553.3l9.2-.3 3.5-1 -9.3 .4z"/>
<path class="c36_7" d="M404.2 694.8l9.3-28.9 3.5-12.9 -9.3 31.1z"/>
<path class="c59_4" d="M733 548.9l9.3 .3 3.5-1.8 -9.3-.2z"/>
<path class="c57_7" d="M589.5 555.4l9.2-.6 3.5-.5 -9.2 .7z"/>
<path class="c58_5" d="M661.3 551.4l9.2-.1 3.5-1.3 -9.2 .1z"/>
<path class="c50_0" d="M442.5 600.7l9.2-14.5 3.5 5.7 -9.3 14z"/>
<path class="c53_0" d="M464.5 581.9l9.2-7.1 3.5 3.8 -9.3 7.5z"/>
<path class="c57_2" d="M558.2 558.3l9.3-1.1 3.5 0 -9.3 1.2z"/>
<path class="c58_4" d="M701.8 550.1l9.2 .1 3.5-1.6 -9.2-.1z"/>
<path class="c58_5" d="M630 553l9.3-.2 3.5-1.1 -9.3 .3z"/>
<path class="c56_1" d="M527 562.2l9.2-1.7 3.5 .7 -9.2 2z"/>
<path class="c55_1" d="M495.7 568.7l9.3-3.3 3.5 1.9 -9.3 3.7z"/>
<path class="c59_4" d="M742.3 549.2l9.2 .3 3.5-1.9 -9.2-.2z"/>
<path class="c58_4" d="M670.5 551.3l9.3 .1 3.5-1.4 -9.3 0z"/>
<path class="c33_2" d="M400.7 708l9.3 1 3.5-43.1 -9.3 28.9z"/>
<path class="c58_7" d="M598.7 554.8l9.3-.4 3.5-.7 -9.3 .6z"/>
<path class="c48_0" d="M429.7 617.1l9.3-24.1 3.5 7.7 -9.3 20.8z"/>
<path class="c59_4" d="M711 550.2l9.3 .2 3.5-1.7 -9.3-.1z"/>
<path class="c57_2" d="M567.5 557.2l9.2-.8 3.5-.2 -9.2 1z"/>
<path class="c58_5" d="M639.3 552.8l9.2-.2 3.5-1.1 -9.2 .2z"/>
<path class="c54_0" d="M473.7 574.8l9.3-5.1 3.5 3.2 -9.3 5.7z"/>
<path class="c59_4" d="M751.5 549.5l9.3 .3 3.5-1.9 -9.3-.3z"/>
<path class="c57_1" d="M536.2 560.5l9.3-1.4 3.5 .5 -9.3 1.6z"/>
<path class="c59_4" d="M679.8 551.4l9.2 .1 3.5-1.5 -9.2 0z"/>
<path class="c56_1" d="M505 565.4l9.2-2.4 3.5 1.5 -9.2 2.8z"/>
<path class="c58_7" d="M608 554.4l9.3-.3 3.5-.8 -9.3 .4z"/>
<path class="c53_0" d="M451.7 586.2l9.3-9.5 3.5 5.2 -9.3 10z"/>
<path class="c59_4" d="M720.3 550.4l9.2 .3 3.5-1.8 -9.2-.2z"/>
<path class="c58_5" d="M648.5 552.6l9.3 0 3.5-1.2 -9.3 .1z"/>
<path class="c58_7" d="M576.7 556.4l9.3-.6 3.5-.4 -9.3 .8z"/>
<path class="c57_2" d="M545.5 559.1l9.2-1.1 3.5 .3 -9.2 1.3z"/>
<path class="c59_4" d="M689 551.5l9.3 .1 3.5-1.5 -9.3-.1z"/>
<path class="c58_6" d="M617.3 554.1l9.2-.2 3.5-.9 -9.2 .3z"/>
<path class="c56_0" d="M483 569.7l9.2-3.7 3.5 2.7 -9.2 4.2z"/>
<path class="c57_1" d="M514.2 563l9.3-1.9 3.5 1.1 -9.3 2.3z"/>
<path class="c59_4" d="M729.5 550.7l9.3 .3 3.5-1.8 -9.3-.3z"/>
<path class="c59_5" d="M657.8 552.6l9.2 .1 3.5-1.4 -9.2 .1z"/>
<path class="c58_7" d="M586 555.8l9.3-.4 3.4-.6 -9.2 .6z"/>
<path class="c59_4" d="M698.3 551.6l9.2 .2 3.5-1.6 -9.2-.1z"/>
<path class="c58_2" d="M554.7 558l9.3-.8 3.5 0 -9.3 1.1z"/>
<path class="c58_5" d="M626.5 553.9l9.3-.1 3.5-1 -9.3 .2z"/>
<path class="c55_0" d="M461 576.7l9.2-6.3 3.5 4.4 -9.2 7.1z"/>
<path class="c59_4" d="M738.8 551l9.3 .3 3.4-1.8 -9.2-.3z"/>
<path class="c52_0" d="M439 593l9.2-14.3 3.5 7.5 -9.2 14.5z"/>
<path class="c57_1" d="M523.5 561.1l9.2-1.5 3.5 .9 -9.2 1.7z"/>
<path class="c59_4" d="M667 552.7l9.3 .1 3.5-1.4 -9.3-.1z"/>
<path class="c56_1" d="M492.2 566l9.3-2.7 3.5 2.1 -9.3 3.3z"/>
<path class="c58_7" d="M595.3 555.4l9.2-.3 3.5-.7 -9.3 .4z"/>
<path class="c59_4" d="M707.5 551.8l9.3 .3 3.5-1.7 -9.3-.2z"/>
<path class="c59_5" d="M635.8 553.8l9.2 0 3.5-1.2 -9.2 .2z"/>
<path class="c58_2" d="M564 557.2l9.3-.6 3.4-.2 -9.2 .8z"/>
<path class="c59_4" d="M748.1 551.3l9.2 .3 3.5-1.8 -9.3-.3z"/>
<path class="c59_4" d="M676.3 552.8l9.2 .1 3.5-1.4 -9.2-.1z"/>
<path class="c58_1" d="M532.7 559.6l9.3-1.1 3.5 .6 -9.3 1.4z"/>
<path class="c59_7" d="M604.5 555.1l9.3-.2 3.5-.8 -9.3 .3z"/>
<path class="c56_0" d="M470.2 570.4l9.3-4.3 3.5 3.6 -9.3 5.1z"/>
<path class="c59_4" d="M716.8 552.1l9.3 .3 3.4-1.7 -9.2-.3z"/>
<path class="c57_1" d="M501.5 563.3l9.2-2.1 3.5 1.8 -9.2 2.4z"/>
<path class="c51_0" d="M426.2 609.1l9.3-27.5 3.5 11.4 -9.3 24.1z"/>
<path class="c59_5" d="M645 553.8l9.3 0 3.5-1.2 -9.3 0z"/>
<path class="c58_7" d="M573.3 556.6l9.2-.5 3.5-.3 -9.3 .6z"/>
<path class="c59_4" d="M685.5 552.9l9.3 .3 3.5-1.6 -9.3-.1z"/>
<path class="c55_0" d="M448.2 578.7l9.3-8.3 3.5 6.3 -9.3 9.5z"/>
<path class="c59_6" d="M613.8 554.9l9.2-.1 3.5-.9 -9.2 .2z"/>
<path class="c58_2" d="M542 558.5l9.2-.8 3.5 .3 -9.2 1.1z"/>
<path class="c59_4" d="M726.1 552.4l9.2 .3 3.5-1.7 -9.3-.3z"/>
<path class="c58_1" d="M510.7 561.2l9.3-1.5 3.5 1.4 -9.3 1.9z"/>
<path class="c59_4" d="M654.3 553.8l9.2 .2 3.5-1.3 -9.2-.1z"/>
<path class="c59_7" d="M582.5 556.1l9.3-.3 3.5-.4 -9.3 .4z"/>
<path class="c57_0" d="M479.5 566.1l9.2-3.1 3.5 3 -9.2 3.7z"/>
<path class="c59_4" d="M694.8 553.2l9.2 .2 3.5-1.6 -9.2-.2z"/>
<path class="c59_5" d="M623 554.8l9.3 0 3.5-1 -9.3 .1z"/>
<path class="c58_2" d="M551.2 557.7l9.3-.6 3.5 .1 -9.3 .8z"/>
<path class="c59_4" d="M735.3 552.7l9.3 .4 3.5-1.8 -9.3-.3z"/>
<path class="c59_4" d="M663.5 554l9.3 .1 3.5-1.3 -9.3-.1z"/>
<path class="c58_1" d="M520 559.7l9.2-1.1 3.5 1 -9.2 1.5z"/>
<path class="c59_7" d="M591.8 555.8l9.2-.1 3.5-.6 -9.2 .3z"/>
<path class="c59_4" d="M704 553.4l9.3 .3 3.5-1.6 -9.3-.3z"/>
<path class="c56_0" d="M457.5 570.4l9.2-5.2 3.5 5.2 -9.2 6.3z"/>
<path class="c58_1" d="M488.7 563l9.3-2.1 3.5 2.4 -9.3 2.7z"/>
<path class="c59_5" d="M632.3 554.8l9.2 .1 3.5-1.1 -9.2 0z"/>
<path class="c60_4" d="M744.6 553.1l9.2 .4 3.5-1.9 -9.2-.3z"/>
<path class="c59_2" d="M560.5 557.1l9.3-.5 3.5 0 -9.3 .6z"/>
<path class="c59_4" d="M672.8 554.1l9.2 .3 3.5-1.5 -9.2-.1z"/>
<path class="c55_0" d="M435.5 581.6l9.2-12.4 3.5 9.5 -9.2 14.3z"/>
<path class="c59_7" d="M601 555.7l9.3-.1 3.5-.7 -9.3 .2z"/>
<path class="c59_1" d="M529.2 558.6l9.3-.8 3.5 .7 -9.3 1.1z"/>
<path class="c60_4" d="M713.3 553.7l9.3 .4 3.5-1.7 -9.3-.3z"/>
<path class="c59_5" d="M641.5 554.9l9.3 .1 3.5-1.2 -9.3 0z"/>
<path class="c58_1" d="M498 560.9l9.2-1.6 3.5 1.9 -9.2 2.1z"/>
<path class="c59_7" d="M569.8 556.6l9.2-.2 3.5-.3 -9.2 .5z"/>
<path class="c57_0" d="M466.7 565.2l9.3-3.3 3.5 4.2 -9.3 4.3z"/>
<path class="c60_4" d="M682 554.4l9.3 .3 3.5-1.5 -9.3-.3z"/>
<path class="c59_6" d="M610.3 555.6l9.2 0 3.5-.8 -9.2 .1z"/>
<path class="c60_4" d="M722.6 554.1l9.2 .4 3.5-1.8 -9.2-.3z"/>
<path class="c59_2" d="M538.5 557.8l9.3-.6 3.4 .5 -9.2 .8z"/>
<path class="c60_4" d="M650.8 555l9.2 .2 3.5-1.2 -9.2-.2z"/>
<path class="c59_7" d="M579 556.4l9.3-.2 3.5-.4 -9.3 .3z"/>
<path class="c59_1" d="M507.2 559.3l9.3-1 3.5 1.4 -9.3 1.5z"/>
<path class="c60_4" d="M691.3 554.7l9.3 .3 3.4-1.6 -9.2-.2z"/>
<path class="c54_0" d="M422.7 591.4l9.3-26.4 3.5 16.6 -9.3 27.5z"/>
<path class="c57_0" d="M444.7 569.2l9.3-6.3 3.5 7.5 -9.3 8.3z"/>
<path class="c60_5" d="M619.5 555.6l9.3 .1 3.5-.9 -9.3 0z"/>
<path class="c60_4" d="M731.8 554.5l9.3 .4 3.5-1.8 -9.3-.4z"/>
<path class="c58_0" d="M476 561.9l9.2-2.2 3.5 3.3 -9.2 3.1z"/>
<path class="c59_2" d="M547.8 557.2l9.2-.3 3.5 .2 -9.3 .6z"/>
<path class="c60_4" d="M660 555.2l9.3 .3 3.5-1.4 -9.3-.1z"/>
<path class="c60_7" d="M588.3 556.2l9.2 0 3.5-.5 -9.2 .1z"/>
<path class="c60_4" d="M700.6 555l9.2 .4 3.5-1.7 -9.3-.3z"/>
<path class="c59_1" d="M516.5 558.3l9.3-.8 3.4 1.1 -9.2 1.1z"/>
<path class="c60_4" d="M741.1 554.9l9.2 .5 3.5-1.9 -9.2-.4z"/>
<path class="c60_5" d="M628.8 555.7l9.2 .2 3.5-1 -9.2-.1z"/>
<path class="c59_2" d="M557 556.9l9.3-.2 3.5-.1 -9.3 .5z"/>
<path class="c59_1" d="M485.2 559.7l9.3-1.5 3.5 2.7 -9.3 2.1z"/>
<path class="c60_4" d="M669.3 555.5l9.3 .3 3.4-1.4 -9.2-.3z"/>
<path class="c58_0" d="M454 562.9l9.2-3.5 3.5 5.8 -9.2 5.2z"/>
<path class="c60_4" d="M709.8 555.4l9.3 .4 3.5-1.7 -9.3-.4z"/>
<path class="c60_7" d="M597.5 556.2l9.3 .1 3.5-.7 -9.3 .1z"/>
<path class="c59_1" d="M525.8 557.5l9.2-.5 3.5 .8 -9.3 .8z"/>
<path class="c60_5" d="M638 555.9l9.3 .3 3.5-1.2 -9.3-.1z"/>
<path class="c60_4" d="M678.6 555.8l9.2 .4 3.5-1.5 -9.3-.3z"/>
<path class="c60_7" d="M566.3 556.7l9.2-.1 3.5-.2 -9.2 .2z"/>
<path class="c59_1" d="M494.5 558.2l9.2-.9 3.5 2 -9.2 1.6z"/>
<path class="c60_4" d="M719.1 555.8l9.2 .4 3.5-1.7 -9.2-.4z"/>
<path class="c60_6" d="M606.8 556.3l9.2 .2 3.5-.9 -9.2 0z"/>
<path class="c58_0" d="M432 565l9.2-7.4 3.5 11.6 -9.2 12.4z"/>
<path class="c60_2" d="M535 557l9.3-.3 3.5 .5 -9.3 .6z"/>
<path class="c60_4" d="M647.3 556.2l9.2 .3 3.5-1.3 -9.2-.2z"/>
<path class="c59_0" d="M463.2 559.4l9.3-2 3.5 4.5 -9.3 3.3z"/>
<path class="c60_4" d="M687.8 556.2l9.3 .4 3.5-1.6 -9.3-.3z"/>
<path class="c60_7" d="M575.5 556.6l9.3 0 3.5-.4 -9.3 .2z"/>
<path class="c60_4" d="M728.3 556.2l9.3 .5 3.5-1.8 -9.3-.4z"/>
<path class="c60_1" d="M503.7 557.3l9.3-.6 3.5 1.6 -9.3 1z"/>
<path class="c60_5" d="M616 556.5l9.3 .2 3.5-1 -9.3-.1z"/>
<path class="c60_4" d="M656.5 556.5l9.3 .3 3.5-1.3 -9.3-.3z"/>
<path class="c60_2" d="M544.3 556.7l9.2-.1 3.5 .3 -9.2 .3z"/>
<path class="c60_0" d="M472.5 557.4l9.2-1.3 3.5 3.6 -9.2 2.2z"/>
<path class="c60_4" d="M697.1 556.6l9.2 .4 3.5-1.6 -9.2-.4z"/>
<path class="c60_7" d="M584.8 556.6l9.2 .2 3.5-.6 -9.2 0z"/>
<path class="c60_4" d="M737.6 556.7l9.2 .5 3.5-1.8 -9.2-.5z"/>
<path class="c60_5" d="M625.3 556.7l9.2 .3 3.5-1.1 -9.2-.2z"/>
<path class="c60_1" d="M513 556.7l9.3-.4 3.5 1.2 -9.3 .8z"/>
<path class="c59_0" d="M441.2 557.6l9.3-3 3.5 8.3 -9.3 6.3z"/>
<path class="c60_4" d="M665.8 556.8l9.3 .4 3.5-1.4 -9.3-.3z"/>
<path class="c60_2" d="M553.5 556.6l9.3 0 3.5 .1 -9.3 .2z"/>
<path class="c60_4" d="M706.3 557l9.3 .5 3.5-1.7 -9.3-.4z"/>
<path class="c60_6" d="M594 556.8l9.3 .2 3.5-.7 -9.3-.1z"/>
<path class="c60_1" d="M481.7 556.1l9.3-.7 3.5 2.8 -9.3 1.5z"/>
<path class="c60_5" d="M634.5 557l9.3 .3 3.5-1.1 -9.3-.3z"/>
<path class="c60_1" d="M522.3 556.3l9.2-.1 3.5 .8 -9.2 .5z"/>
<path class="c60_4" d="M675.1 557.2l9.2 .4 3.5-1.4 -9.2-.4z"/>
<path class="c60_7" d="M562.8 556.6l9.2 .2 3.5-.2 -9.2 .1z"/>
<path class="c60_0" d="M450.5 554.6l9.2-1.4 3.5 6.2 -9.2 3.5z"/>
<path class="c60_4" d="M715.6 557.5l9.2 .5 3.5-1.8 -9.2-.4z"/>
<path class="c60_6" d="M603.3 557l9.2 .3 3.5-.8 -9.2-.2z"/>
<path class="c60_0" d="M419.2 542.8l9.3 .9 3.5 21.3 -9.3 26.4z"/>
<path class="c61_1" d="M491 555.4l9.3-.3 3.4 2.2 -9.2 .9z"/>
<path class="c60_4" d="M643.8 557.3l9.3 .4 3.4-1.2 -9.2-.3z"/>
<path class="c61_2" d="M531.5 556.2l9.3 0 3.5 .5 -9.3 .3z"/>
<path class="c60_4" d="M684.3 557.6l9.3 .5 3.5-1.5 -9.3-.4z"/>
<path class="c61_7" d="M572 556.8l9.3 .2 3.5-.4 -9.3 0z"/>
<path class="c60_4" d="M724.8 558l9.3 .5 3.5-1.8 -9.3-.5z"/>
<path class="c61_5" d="M612.5 557.3l9.3 .3 3.5-.9 -9.3-.2z"/>
<path class="c61_0" d="M459.7 553.2l9.3-.6 3.5 4.8 -9.3 2z"/>
<path class="c61_4" d="M653.1 557.7l9.2 .4 3.5-1.3 -9.3-.3z"/>
<path class="c61_1" d="M500.3 555.1l9.2-.1 3.5 1.7 -9.3 .6z"/>
<path class="c61_2" d="M540.8 556.2l9.2 .1 3.5 .3 -9.2 .1z"/>
<path class="c61_4" d="M693.6 558.1l9.2 .5 3.5-1.6 -9.2-.4z"/>
<path class="c61_7" d="M581.3 557l9.2 .3 3.5-.5 -9.2-.2z"/>
<path class="c61_4" d="M734.1 558.5l9.2 .5 3.5-1.8 -9.2-.5z"/>
<path class="c61_5" d="M621.8 557.6l9.3 .4 3.4-1 -9.2-.3z"/>
<path class="c62_0" d="M428.5 543.7l9.2 1 3.5 12.9 -9.2 7.4z"/>
<path class="c61_0" d="M469 552.6l9.3-.2 3.4 3.7 -9.2 1.3z"/>
<path class="c61_4" d="M662.3 558.1l9.3 .5 3.5-1.4 -9.3-.4z"/>
<path class="c61_1" d="M509.5 555l9.3 0 3.5 1.3 -9.3 .4z"/>
<path class="c61_4" d="M702.8 558.6l9.3 .5 3.5-1.6 -9.3-.5z"/>
<path class="c61_2" d="M550 556.3l9.3 .3 3.5 0 -9.3 0z"/>
<path class="c61_6" d="M590.5 557.3l9.3 .3 3.5-.6 -9.3-.2z"/>
<path class="c61_5" d="M631.1 558l9.2 .4 3.5-1.1 -9.3-.3z"/>
<path class="c61_4" d="M671.6 558.6l9.2 .5 3.5-1.5 -9.2-.4z"/>
<path class="c61_1" d="M478.3 552.4l9.2 .1 3.5 2.9 -9.3 .7z"/>
<path class="c62_0" d="M437.7 544.7l9.3 1 3.5 8.9 -9.3 3z"/>
<path class="c61_1" d="M518.8 555l9.2 .3 3.5 .9 -9.2 .1z"/>
<path class="c61_4" d="M712.1 559.1l9.2 .6 3.5-1.7 -9.2-.5z"/>
<path class="c61_7" d="M559.3 556.6l9.2 .3 3.5-.1 -9.2-.2z"/>
<path class="c61_6" d="M599.8 557.6l9.3 .4 3.4-.7 -9.2-.3z"/>
<path class="c61_4" d="M640.3 558.4l9.3 .5 3.5-1.2 -9.3-.4z"/>
<path class="c61_4" d="M680.8 559.1l9.3 .6 3.5-1.6 -9.3-.5z"/>
<path class="c62_1" d="M487.5 552.5l9.3 .3 3.5 2.3 -9.3 .3z"/>
<path class="c61_2" d="M528 555.3l9.3 .3 3.5 .6 -9.3 0z"/>
<path class="c61_4" d="M721.3 559.7l9.3 .6 3.5-1.8 -9.3-.5z"/>
<path class="c62_0" d="M447 545.7l9.2 .9 3.5 6.6 -9.2 1.4z"/>
<path class="c61_7" d="M568.5 556.9l9.3 .4 3.5-.3 -9.3-.2z"/>
<path class="c61_5" d="M609.1 558l9.2 .5 3.5-.9 -9.3-.3z"/>
<path class="c61_4" d="M649.6 558.9l9.2 .5 3.5-1.3 -9.2-.4z"/>
<path class="c61_4" d="M690.1 559.7l9.2 .5 3.5-1.6 -9.2-.5z"/>
<path class="c62_1" d="M496.8 552.8l9.2 .4 3.5 1.8 -9.2 .1z"/>
<path class="c62_2" d="M537.3 555.6l9.2 .4 3.5 .3 -9.2-.1z"/>
<path class="c61_4" d="M730.6 560.3l9.2 .6 3.5-1.9 -9.2-.5z"/>
<path class="c63_0" d="M456.2 546.6l9.3 1 3.5 5 -9.3 .6z"/>
<path class="c61_7" d="M577.8 557.3l9.2 .5 3.5-.5 -9.2-.3z"/>
<path class="c61_5" d="M618.3 558.5l9.3 .5 3.5-1 -9.3-.4z"/>
<path class="c61_4" d="M658.8 559.4l9.3 .6 3.5-1.4 -9.3-.5z"/>
<path class="c61_4" d="M699.3 560.2l9.3 .6 3.5-1.7 -9.3-.5z"/>
<path class="c62_1" d="M506 553.2l9.3 .5 3.5 1.3 -9.3 0z"/>
<path class="c62_2" d="M546.5 556l9.3 .5 3.5 .1 -9.3-.3z"/>
<path class="c63_1" d="M465.5 547.6l9.3 .9 3.5 3.9 -9.3 .2z"/>
<path class="c61_6" d="M587 557.8l9.3 .5 3.5-.7 -9.3-.3z"/>
<path class="c61_5" d="M627.6 559l9.2 .6 3.5-1.2 -9.2-.4z"/>
<path class="c61_4" d="M668.1 560l9.2 .6 3.5-1.5 -9.2-.5z"/>
<path class="c61_4" d="M708.6 560.8l9.2 .6 3.5-1.7 -9.2-.6z"/>
<path class="c62_1" d="M515.3 553.7l9.2 .6 3.5 1 -9.2-.3z"/>
<path class="c62_7" d="M555.8 556.5l9.2 .5 3.5-.1 -9.2-.3z"/>
<path class="c63_1" d="M474.8 548.5l9.2 1 3.5 3 -9.2-.1z"/>
<path class="c62_6" d="M596.3 558.3l9.3 .5 3.5-.8 -9.3-.4z"/>
<path class="c61_4" d="M636.8 559.6l9.3 .5 3.5-1.2 -9.3-.5z"/>
<path class="c61_4" d="M677.3 560.6l9.3 .6 3.5-1.5 -9.3-.6z"/>
<path class="c61_4" d="M717.8 561.4l9.3 .6 3.5-1.7 -9.3-.6z"/>
<path class="c62_2" d="M524.5 554.3l9.3 .7 3.5 .6 -9.3-.3z"/>
<path class="c62_7" d="M565 557l9.3 .6 3.5-.3 -9.3-.4z"/>
<path class="c63_1" d="M484 549.5l9.3 1 3.5 2.3 -9.3-.3z"/>
<path class="c62_5" d="M605.6 558.8l9.2 .6 3.5-.9 -9.2-.5z"/>
<path class="c61_4" d="M646.1 560.1l9.2 .6 3.5-1.3 -9.2-.5z"/>
<path class="c61_4" d="M686.6 561.2l9.2 .6 3.5-1.6 -9.2-.5z"/>
<path class="c61_4" d="M727.1 562l9.3 .7 3.4-1.8 -9.2-.6z"/>
<path class="c62_2" d="M533.8 555l9.2 .6 3.5 .4 -9.2-.4z"/>
<path class="c62_7" d="M574.3 557.6l9.3 .6 3.4-.4 -9.2-.5z"/>
<path class="c63_1" d="M493.3 550.5l9.2 .9 3.5 1.8 -9.2-.4z"/>
<path class="c62_5" d="M614.8 559.4l9.3 .6 3.5-1 -9.3-.5z"/>
<path class="c62_4" d="M655.3 560.7l9.3 .7 3.5-1.4 -9.3-.6z"/>
<path class="c61_4" d="M695.8 561.8l9.3 .7 3.5-1.7 -9.3-.6z"/>
<path class="c62_2" d="M543 555.6l9.3 .8 3.5 .1 -9.3-.5z"/>
<path class="c62_6" d="M583.6 558.2l9.2 .7 3.5-.6 -9.3-.5z"/>
<path class="c63_1" d="M502.5 551.4l9.3 1 3.5 1.3 -9.3-.5z"/>
<path class="c62_5" d="M624.1 560l9.2 .7 3.5-1.1 -9.2-.6z"/>
<path class="c62_4" d="M664.6 561.4l9.2 .6 3.5-1.4 -9.2-.6z"/>
<path class="c61_4" d="M705.1 562.5l9.3 .6 3.4-1.7 -9.2-.6z"/>
<path class="c62_7" d="M552.3 556.4l9.3 .7 3.4-.1 -9.2-.5z"/>
<path class="c62_5" d="M592.8 558.9l9.3 .7 3.5-.8 -9.3-.5z"/>
<path class="c63_2" d="M511.8 552.4l9.2 .9 3.5 1 -9.2-.6z"/>
<path class="c62_4" d="M633.3 560.7l9.3 .6 3.5-1.2 -9.3-.5z"/>
<path class="c62_4" d="M673.8 562l9.3 .7 3.5-1.5 -9.3-.6z"/>
<path class="c62_4" d="M714.4 563.1l9.2 .7 3.5-1.8 -9.3-.6z"/>
<path class="c63_7" d="M561.6 557.1l9.2 .8 3.5-.3 -9.3-.6z"/>
<path class="c62_5" d="M602.1 559.6l9.2 .7 3.5-.9 -9.2-.6z"/>
<path class="c63_2" d="M521 553.3l9.3 1 3.5 .7 -9.3-.7z"/>
<path class="c62_4" d="M642.6 561.3l9.2 .7 3.5-1.3 -9.2-.6z"/>
<path class="c62_4" d="M683.1 562.7l9.2 .7 3.5-1.6 -9.2-.6z"/>
<path class="c62_3" d="M723.6 563.8l9.3 .7 3.5-1.8 -9.3-.7z"/>
<path class="c63_7" d="M570.8 557.9l9.3 .8 3.5-.5 -9.3-.6z"/>
<path class="c62_5" d="M611.3 560.3l9.3 .7 3.5-1 -9.3-.6z"/>
<path class="c63_2" d="M530.3 554.3l9.2 1 3.5 .3 -9.2-.6z"/>
<path class="c62_4" d="M651.8 562l9.3 .7 3.5-1.3 -9.3-.7z"/>
<path class="c62_4" d="M692.3 563.4l9.3 .7 3.5-1.6 -9.3-.7z"/>
<path class="c63_6" d="M580.1 558.7l9.2 .8 3.5-.6 -9.2-.7z"/>
<path class="c63_7" d="M539.5 555.3l9.3 .9 3.5 .2 -9.3-.8z"/>
<path class="c62_4" d="M620.6 561l9.2 .7 3.5-1 -9.2-.7z"/>
<path class="c62_4" d="M661.1 562.7l9.2 .8 3.5-1.5 -9.2-.6z"/>
<path class="c62_4" d="M701.6 564.1l9.3 .7 3.5-1.7 -9.3-.6z"/>
<path class="c63_5" d="M589.3 559.5l9.3 .8 3.5-.7 -9.3-.7z"/>
<path class="c63_7" d="M548.8 556.2l9.3 1 3.5-.1 -9.3-.7z"/>
<path class="c62_4" d="M629.8 561.7l9.3 .8 3.5-1.2 -9.3-.6z"/>
<path class="c62_4" d="M670.3 563.5l9.3 .7 3.5-1.5 -9.3-.7z"/>
<path class="c62_4" d="M710.9 564.8l9.2 .8 3.5-1.8 -9.2-.7z"/>
<path class="c63_5" d="M598.6 560.3l9.2 .8 3.5-.8 -9.2-.7z"/>
<path class="c63_7" d="M558.1 557.2l9.2 1 3.5-.3 -9.2-.8z"/>
<path class="c62_4" d="M639.1 562.5l9.2 .8 3.5-1.3 -9.2-.7z"/>
<path class="c62_4" d="M679.6 564.2l9.3 .8 3.4-1.6 -9.2-.7z"/>
<path class="c62_3" d="M720.1 565.6l9.3 .7 3.5-1.8 -9.3-.7z"/>
<path class="c63_5" d="M607.8 561.1l9.3 .9 3.5-1 -9.3-.7z"/>
<path class="c63_6" d="M567.3 558.2l9.3 .9 3.5-.4 -9.3-.8z"/>
<path class="c62_4" d="M648.3 563.3l9.3 .8 3.5-1.4 -9.3-.7z"/>
<path class="c62_4" d="M688.9 565l9.2 .7 3.5-1.6 -9.3-.7z"/>
<path class="c63_4" d="M617.1 562l9.2 .8 3.5-1.1 -9.2-.7z"/>
<path class="c63_6" d="M576.6 559.1l9.2 1 3.5-.6 -9.2-.8z"/>
<path class="c62_4" d="M657.6 564.1l9.3 .8 3.4-1.4 -9.2-.8z"/>
<path class="c62_4" d="M698.1 565.7l9.3 .8 3.5-1.7 -9.3-.7z"/>
<path class="c63_5" d="M585.8 560.1l9.3 .9 3.5-.7 -9.3-.8z"/>
<path class="c63_4" d="M626.3 562.8l9.3 .9 3.5-1.2 -9.3-.8z"/>
<path class="c63_4" d="M666.9 564.9l9.2 .8 3.5-1.5 -9.3-.7z"/>
<path class="c62_4" d="M707.4 566.5l9.2 .8 3.5-1.7 -9.2-.8z"/>
<path class="c63_5" d="M595.1 561l9.2 1 3.5-.9 -9.2-.8z"/>
<path class="c63_4" d="M635.6 563.7l9.2 .9 3.5-1.3 -9.2-.8z"/>
<path class="c63_4" d="M676.1 565.7l9.3 .8 3.5-1.5 -9.3-.8z"/>
<path class="c62_3" d="M716.6 567.3l9.3 .8 3.5-1.8 -9.3-.7z"/>
<path class="c63_5" d="M604.3 562l9.3 1 3.5-1 -9.3-.9z"/>
<path class="c63_4" d="M644.8 564.6l9.3 .8 3.5-1.3 -9.3-.8z"/>
<path class="c63_4" d="M685.4 566.5l9.2 .9 3.5-1.7 -9.2-.7z"/>
<path class="c63_4" d="M613.6 563l9.2 .9 3.5-1.1 -9.2-.8z"/>
<path class="c63_4" d="M654.1 565.4l9.3 .9 3.5-1.4 -9.3-.8z"/>
<path class="c63_4" d="M694.6 567.4l9.3 .8 3.5-1.7 -9.3-.8z"/>
<path class="c63_4" d="M622.8 563.9l9.3 1 3.5-1.2 -9.3-.9z"/>
<path class="c63_4" d="M663.4 566.3l9.2 .9 3.5-1.5 -9.2-.8z"/>
<path class="c63_3" d="M703.9 568.2l9.2 .9 3.5-1.8 -9.2-.8z"/>
<path class="c63_4" d="M632.1 564.9l9.3 .9 3.4-1.2 -9.2-.9z"/>
<path class="c63_4" d="M672.6 567.2l9.3 .9 3.5-1.6 -9.3-.8z"/>
<path class="c63_3" d="M713.1 569.1l9.3 .8 3.5-1.8 -9.3-.8z"/>
<path class="c63_4" d="M641.4 565.8l9.2 1 3.5-1.4 -9.3-.8z"/>
<path class="c63_4" d="M681.9 568.1l9.2 .9 3.5-1.6 -9.2-.9z"/>
<path class="c63_4" d="M650.6 566.8l9.3 1 3.5-1.5 -9.3-.9z"/>
<path class="c63_4" d="M691.1 569l9.3 .9 3.5-1.7 -9.3-.8z"/>
<path class="c63_4" d="M659.9 567.8l9.2 .9 3.5-1.5 -9.2-.9z"/>
<path class="c63_3" d="M700.4 569.9l9.2 .9 3.5-1.7 -9.2-.9z"/>
<path class="c63_4" d="M669.1 568.7l9.3 1 3.5-1.6 -9.3-.9z"/>
<path class="c63_3" d="M709.6 570.8l9.3 .9 3.5-1.8 -9.3-.8z"/>
<path class="c63_4" d="M678.4 569.7l9.2 .9 3.5-1.6 -9.2-.9z"/>
<path class="c63_4" d="M687.6 570.6l9.3 1 3.5-1.7 -9.3-.9z"/>
<path class="c63_3" d="M696.9 571.6l9.2 1 3.5-1.8 -9.2-.9z"/>
<path class="c63_3" d="M706.1 572.6l9.3 .9 3.5-1.8 -9.3-.9z"/>
</g>
<polygon points="113.8,447 715.4,509.4 715.4,969.7 113.8,907.2" fill="#aac3d2" fill-opacity="0.2"/>
<g stroke="#2a2a2a" stroke-width="2.2" stroke-dasharray="7 5" fill="none">
<path d="M115 508.6L713 574.3"/>
<path d="M115 678L713 745.3"/>
<path d="M114 839.3L713 906.4"/>
</g>
<path d="M414.6 938.5L414.6 475.4" stroke="#3a66c4" stroke-width="1.5" stroke-dasharray="5 4" fill="none"/>
</g>
<g stroke="#808080" stroke-width="2" fill="none">
<path d="M113.8 907.2L113.8 449.2"/>
<path d="M113.8 907.2L715.4 969.7"/>
<path d="M715.4 969.7L904 776.7"/>
<path d="M113.8 907.2H99.2M113.8 792.8H99.2M113.8 678.2H99.2M113.8 563.8H99.2M113.8 449.2H99.2M113.8 907.2l-9.5 10.5M264.2 922.9l-9.5 10.5M414.6 938.5l-9.5 10.5M565 954.1l-9.5 10.5M715.4 969.7l-9.5 10.5M715.4 969.7l15 0.3M809.7 873.2l15 0.3M904 776.7l15 0.3"/>
</g>
<g font-family="Liberation Sans, Arial, sans-serif" font-size="32" fill="#1a1a1a" stroke="#1a1a1a" stroke-width="0.6">
<text x="94.8" y="460.8" text-anchor="end">1</text>
<text x="94.8" y="575.2" text-anchor="end">0.5</text>
<text x="94.8" y="689.8" text-anchor="end">0</text>
<text x="94.8" y="804.2" text-anchor="end">-0.5</text>
<text x="94.8" y="918.8" text-anchor="end">-1</text>
<text x="101.3" y="949.2" text-anchor="end">-20</text>
<text x="251.7" y="964.9" text-anchor="end">-10</text>
<text x="402.1" y="980.5" text-anchor="end">0</text>
<text x="552.5" y="996.1" text-anchor="end">10</text>
<text x="702.9" y="1011.7" text-anchor="end">20</text>
<text x="733.4" y="999.2">0</text>
<text x="827.7" y="902.7">10</text>
<text x="922" y="806.2">20</text>
<text x="341" y="1013">x (µm)</text>
<text x="871" y="938">z (µm)</text>
<text transform="translate(42,716) rotate(-90)">ϕ (V)</text>
</g>
<path d="M142.6 695.2V824.5" stroke="#000" stroke-width="2" stroke-dasharray="6 4" fill="none"/><path d="M142.6 681.7l-6.8 13.8h13.6z" fill="#000"/><path d="M142.6 838l-6.8 -13.8h13.6z" fill="#000"/>
<path d="M678.5 587V727.7" stroke="#000" stroke-width="2" stroke-dasharray="6 4" fill="none"/><path d="M678.5 573.5l-6.8 13.8h13.6z" fill="#000"/><path d="M678.5 741.2l-6.8 -13.8h13.6z" fill="#000"/>
<g fill="#000">
<text transform="translate(145.6,728.3) scale(1.2,1)" font-size="33.5" font-family="DejaVu Math TeX Gyre, DejaVu Serif, serif" stroke="#000" stroke-width="0.5">𝜙</text>
<text x="175.4" y="735.4" font-size="26" font-family="Liberation Serif, serif" font-style="italic" font-weight="bold">L</text>
<text transform="translate(617.8,670.6) scale(1.2,1)" font-size="33" font-family="DejaVu Math TeX Gyre, DejaVu Serif, serif" stroke="#000" stroke-width="0.5">𝜙</text>
<text transform="translate(648,677.5) scale(1.1,1)" font-size="25.4" font-family="Liberation Serif, serif" font-style="italic" font-weight="bold">R</text>
</g>
<defs><linearGradient id="gjet" x1="0" y1="1" x2="0" y2="0"><stop offset="0.0000" stop-color="#000087"/><stop offset="0.0159" stop-color="#000097"/><stop offset="0.0317" stop-color="#0000a7"/><stop offset="0.0476" stop-color="#0000b7"/><stop offset="0.0635" stop-color="#0000c7"/><stop offset="0.0794" stop-color="#0000d7"/><stop offset="0.0952" stop-color="#0000e7"/><stop offset="0.1111" stop-color="#0000f7"/><stop offset="0.1270" stop-color="#0008ff"/><stop offset="0.1429" stop-color="#0018ff"/><stop offset="0.1587" stop-color="#0028ff"/><stop offset="0.1746" stop-color="#0038ff"/><stop offset="0.1905" stop-color="#0048ff"/><stop offset="0.2063" stop-color="#0058ff"/><stop offset="0.2222" stop-color="#0068ff"/><stop offset="0.2381" stop-color="#0078ff"/><stop offset="0.2540" stop-color="#0087ff"/><stop offset="0.2698" stop-color="#0097ff"/><stop offset="0.2857" stop-color="#00a7ff"/><stop offset="0.3016" stop-color="#00b7ff"/><stop offset="0.3175" stop-color="#00c7ff"/><stop offset="0.3333" stop-color="#00d7ff"/><stop offset="0.3492" stop-color="#00e7ff"/><stop offset="0.3651" stop-color="#00f7ff"/><stop offset="0.3810" stop-color="#08fff7"/><stop offset="0.3968" stop-color="#18ffe7"/><stop offset="0.4127" stop-color="#28ffd7"/><stop offset="0.4286" stop-color="#38ffc7"/><stop offset="0.4444" stop-color="#48ffb7"/><stop offset="0.4603" stop-color="#58ffa7"/><stop offset="0.4762" stop-color="#68ff97"/><stop offset="0.4921" stop-color="#78ff87"/><stop offset="0.5079" stop-color="#87ff78"/><stop offset="0.5238" stop-color="#97ff68"/><stop offset="0.5397" stop-color="#a7ff58"/><stop offset="0.5556" stop-color="#b7ff48"/><stop offset="0.5714" stop-color="#c7ff38"/><stop offset="0.5873" stop-color="#d7ff28"/><stop offset="0.6032" stop-color="#e7ff18"/><stop offset="0.6190" stop-color="#f7ff08"/><stop offset="0.6349" stop-color="#fff700"/><stop offset="0.6508" stop-color="#ffe700"/><stop offset="0.6667" stop-color="#ffd700"/><stop offset="0.6825" stop-color="#ffc700"/><stop offset="0.6984" stop-color="#ffb700"/><stop offset="0.7143" stop-color="#ffa700"/><stop offset="0.7302" stop-color="#ff9700"/><stop offset="0.7460" stop-color="#ff8700"/><stop offset="0.7619" stop-color="#ff7800"/><stop offset="0.7778" stop-color="#ff6800"/><stop offset="0.7937" stop-color="#ff5800"/><stop offset="0.8095" stop-color="#ff4800"/><stop offset="0.8254" stop-color="#ff3800"/><stop offset="0.8413" stop-color="#ff2800"/><stop offset="0.8571" stop-color="#ff1800"/><stop offset="0.8730" stop-color="#ff0800"/><stop offset="0.8889" stop-color="#f70000"/><stop offset="0.9048" stop-color="#e70000"/><stop offset="0.9206" stop-color="#d70000"/><stop offset="0.9365" stop-color="#c70000"/><stop offset="0.9524" stop-color="#b70000"/><stop offset="0.9683" stop-color="#a70000"/><stop offset="0.9841" stop-color="#970000"/><stop offset="1.0000" stop-color="#870000"/></linearGradient></defs>
<rect x="912" y="320" width="27" height="440" fill="url(#gjet)" stroke="#333" stroke-width="1"/>
<g font-family="Liberation Sans, Arial, sans-serif" font-size="32" fill="#1a1a1a" stroke="#1a1a1a" stroke-width="0.6">
<text x="939.5" y="370.3">0.6</text>
<text x="939.5" y="432">0.4</text>
<text x="939.5" y="493.7">0.2</text>
<text x="939.5" y="555.4">0</text>
<text x="939.5" y="617.1">-0.2</text>
<text x="939.5" y="678.9">-0.4</text>
<text x="939.5" y="740.6">-0.6</text>
</g>
<path d="M912 359.8h4M939 359.8h-4M912 421.5h4M939 421.5h-4M912 483.2h4M939 483.2h-4M912 544.9h4M939 544.9h-4M912 606.6h4M939 606.6h-4M912 668.4h4M939 668.4h-4M912 730.1h4M939 730.1h-4" stroke="#333" stroke-width="1" fill="none"/>
</svg>
</body></html>
